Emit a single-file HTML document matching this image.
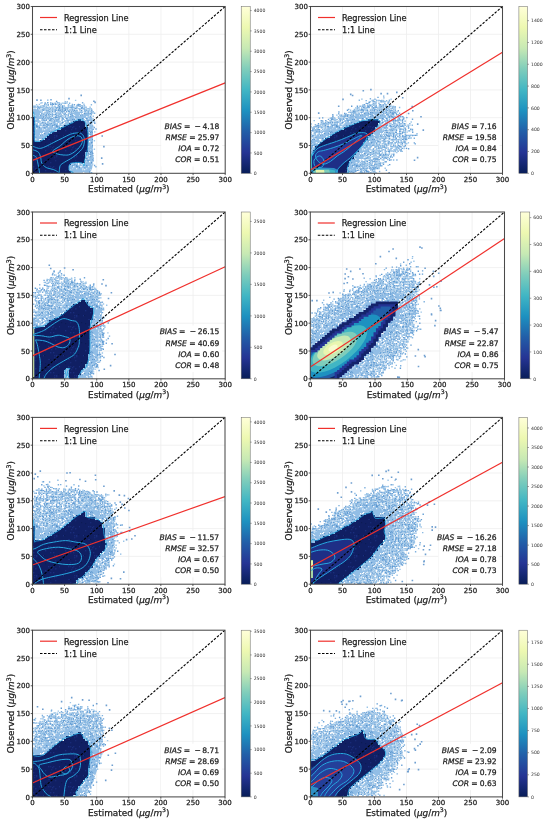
<!DOCTYPE html><html><head><meta charset="utf-8"><title>Scatter density plots</title><style>
html,body{margin:0;padding:0;background:#fff;overflow:hidden}svg{display:block}
text{font-family:"DejaVu Sans","Liberation Sans",sans-serif;fill:#1c1c1c;stroke:#1c1c1c;stroke-width:0.25px}
.tk{font-size:7px}.lb{font-size:8.9px}.lg{font-size:8.2px}.st{font-size:7.6px}.cbl{font-size:4.6px;stroke:none;fill:#333}
.ct{fill:none;stroke:#27a8e0;stroke-width:1}
</style></head><body>
<svg width="550" height="822" viewBox="0 0 550 822">
<defs><linearGradient id="cm" x1="0" y1="1" x2="0" y2="0">
<stop offset="0.0000" stop-color="#081d58"/>
<stop offset="0.1250" stop-color="#253494"/>
<stop offset="0.2500" stop-color="#225ea8"/>
<stop offset="0.3750" stop-color="#1d91c0"/>
<stop offset="0.5000" stop-color="#41b6c4"/>
<stop offset="0.6250" stop-color="#7fcdbb"/>
<stop offset="0.7500" stop-color="#c7e9b4"/>
<stop offset="0.8750" stop-color="#edf8b1"/>
<stop offset="1.0000" stop-color="#ffffd9"/>
</linearGradient>
<pattern id="spk" width="20" height="20" patternUnits="userSpaceOnUse"><rect width="20" height="20" fill="#92bee6"/>
<rect x="14" y="17" width="1.3" height="1.3" fill="#b3d2ee"/>
<rect x="14" y="16" width="1.3" height="1.3" fill="#6ea4d6"/>
<rect x="6" y="5" width="1.3" height="1.3" fill="#6ea4d6"/>
<rect x="15" y="19" width="1.3" height="1.3" fill="#e6f0fa"/>
<rect x="3" y="14" width="1.3" height="1.3" fill="#c4dcf1"/>
<rect x="4" y="2" width="1.3" height="1.3" fill="#6ea4d6"/>
<rect x="1" y="19" width="1.3" height="1.3" fill="#b3d2ee"/>
<rect x="14" y="19" width="1.3" height="1.3" fill="#5e98d0"/>
<rect x="5" y="19" width="1.3" height="1.3" fill="#ffffff"/>
<rect x="16" y="2" width="1.3" height="1.3" fill="#ffffff"/>
<rect x="1" y="6" width="1.3" height="1.3" fill="#e6f0fa"/>
<rect x="19" y="0" width="1.3" height="1.3" fill="#b3d2ee"/>
<rect x="10" y="14" width="1.3" height="1.3" fill="#6ea4d6"/>
<rect x="6" y="16" width="1.3" height="1.3" fill="#e6f0fa"/>
<rect x="9" y="15" width="1.3" height="1.3" fill="#ffffff"/>
<rect x="2" y="14" width="1.3" height="1.3" fill="#5e98d0"/>
<rect x="8" y="13" width="1.3" height="1.3" fill="#6ea4d6"/>
<rect x="2" y="8" width="1.3" height="1.3" fill="#c4dcf1"/>
<rect x="7" y="16" width="1.3" height="1.3" fill="#c4dcf1"/>
<rect x="0" y="2" width="1.3" height="1.3" fill="#6ea4d6"/>
<rect x="3" y="12" width="1.3" height="1.3" fill="#ffffff"/>
<rect x="9" y="12" width="1.3" height="1.3" fill="#ffffff"/>
<rect x="0" y="0" width="1.3" height="1.3" fill="#e6f0fa"/>
<rect x="6" y="1" width="1.3" height="1.3" fill="#b3d2ee"/>
<rect x="12" y="12" width="1.3" height="1.3" fill="#b3d2ee"/>
<rect x="2" y="18" width="1.3" height="1.3" fill="#5e98d0"/>
<rect x="6" y="8" width="1.3" height="1.3" fill="#c4dcf1"/>
<rect x="2" y="9" width="1.3" height="1.3" fill="#c4dcf1"/>
<rect x="0" y="13" width="1.3" height="1.3" fill="#ffffff"/>
<rect x="4" y="7" width="1.3" height="1.3" fill="#5e98d0"/>
<rect x="3" y="0" width="1.3" height="1.3" fill="#ffffff"/>
<rect x="14" y="15" width="1.3" height="1.3" fill="#e6f0fa"/>
<rect x="17" y="6" width="1.3" height="1.3" fill="#b3d2ee"/>
<rect x="16" y="6" width="1.3" height="1.3" fill="#5e98d0"/>
<rect x="4" y="13" width="1.3" height="1.3" fill="#5e98d0"/>
<rect x="12" y="3" width="1.3" height="1.3" fill="#b3d2ee"/>
<rect x="13" y="6" width="1.3" height="1.3" fill="#ffffff"/>
<rect x="8" y="18" width="1.3" height="1.3" fill="#c4dcf1"/>
<rect x="0" y="6" width="1.3" height="1.3" fill="#e6f0fa"/>
<rect x="12" y="19" width="1.3" height="1.3" fill="#5e98d0"/>
<rect x="18" y="3" width="1.3" height="1.3" fill="#ffffff"/>
<rect x="4" y="6" width="1.3" height="1.3" fill="#b3d2ee"/>
<rect x="8" y="0" width="1.3" height="1.3" fill="#6ea4d6"/>
<rect x="10" y="9" width="1.3" height="1.3" fill="#b3d2ee"/>
<rect x="2" y="2" width="1.3" height="1.3" fill="#ffffff"/>
<rect x="6" y="18" width="1.3" height="1.3" fill="#5e98d0"/>
<rect x="7" y="0" width="1.3" height="1.3" fill="#6ea4d6"/>
<rect x="11" y="11" width="1.3" height="1.3" fill="#6ea4d6"/>
<rect x="14" y="4" width="1.3" height="1.3" fill="#6ea4d6"/>
<rect x="15" y="18" width="1.3" height="1.3" fill="#e6f0fa"/>
<rect x="12" y="5" width="1.3" height="1.3" fill="#5e98d0"/>
<rect x="4" y="9" width="1.3" height="1.3" fill="#e6f0fa"/>
<rect x="19" y="7" width="1.3" height="1.3" fill="#5e98d0"/>
<rect x="6" y="5" width="1.3" height="1.3" fill="#5e98d0"/>
<rect x="17" y="6" width="1.3" height="1.3" fill="#5e98d0"/>
<rect x="12" y="15" width="1.3" height="1.3" fill="#6ea4d6"/>
<rect x="2" y="13" width="1.3" height="1.3" fill="#ffffff"/>
<rect x="3" y="3" width="1.3" height="1.3" fill="#ffffff"/>
<rect x="16" y="8" width="1.3" height="1.3" fill="#e6f0fa"/>
<rect x="12" y="8" width="1.3" height="1.3" fill="#b3d2ee"/>
<rect x="19" y="15" width="1.3" height="1.3" fill="#c4dcf1"/>
<rect x="16" y="5" width="1.3" height="1.3" fill="#5e98d0"/>
<rect x="2" y="4" width="1.3" height="1.3" fill="#e6f0fa"/>
<rect x="15" y="17" width="1.3" height="1.3" fill="#5e98d0"/>
<rect x="19" y="19" width="1.3" height="1.3" fill="#ffffff"/>
<rect x="8" y="6" width="1.3" height="1.3" fill="#e6f0fa"/>
<rect x="0" y="2" width="1.3" height="1.3" fill="#c4dcf1"/>
<rect x="13" y="14" width="1.3" height="1.3" fill="#e6f0fa"/>
<rect x="1" y="1" width="1.3" height="1.3" fill="#e6f0fa"/>
<rect x="9" y="11" width="1.3" height="1.3" fill="#6ea4d6"/>
<rect x="18" y="4" width="1.3" height="1.3" fill="#ffffff"/>
<rect x="11" y="4" width="1.3" height="1.3" fill="#b3d2ee"/>
<rect x="10" y="16" width="1.3" height="1.3" fill="#6ea4d6"/>
<rect x="4" y="18" width="1.3" height="1.3" fill="#ffffff"/>
<rect x="0" y="15" width="1.3" height="1.3" fill="#c4dcf1"/>
<rect x="9" y="1" width="1.3" height="1.3" fill="#ffffff"/>
<rect x="19" y="2" width="1.3" height="1.3" fill="#b3d2ee"/>
<rect x="2" y="9" width="1.3" height="1.3" fill="#c4dcf1"/>
<rect x="4" y="2" width="1.3" height="1.3" fill="#ffffff"/>
<rect x="14" y="17" width="1.3" height="1.3" fill="#c4dcf1"/>
<rect x="1" y="4" width="1.3" height="1.3" fill="#c4dcf1"/>
<rect x="11" y="2" width="1.3" height="1.3" fill="#5e98d0"/>
<rect x="15" y="2" width="1.3" height="1.3" fill="#b3d2ee"/>
<rect x="0" y="15" width="1.3" height="1.3" fill="#6ea4d6"/>
<rect x="0" y="19" width="1.3" height="1.3" fill="#5e98d0"/>
<rect x="12" y="12" width="1.3" height="1.3" fill="#6ea4d6"/>
<rect x="0" y="19" width="1.3" height="1.3" fill="#ffffff"/>
<rect x="2" y="2" width="1.3" height="1.3" fill="#5e98d0"/>
<rect x="3" y="8" width="1.3" height="1.3" fill="#b3d2ee"/>
<rect x="10" y="12" width="1.3" height="1.3" fill="#5e98d0"/>
</pattern>
<pattern id="spk2" width="20" height="20" patternUnits="userSpaceOnUse"><rect width="20" height="20" fill="#101f63"/>
<rect x="18" y="14" width="1.3" height="1.3" fill="#0b1b55"/>
<rect x="14" y="17" width="1.3" height="1.3" fill="#172a78"/>
<rect x="16" y="16" width="1.3" height="1.3" fill="#172a78"/>
<rect x="9" y="19" width="1.3" height="1.3" fill="#172a78"/>
<rect x="15" y="0" width="1.3" height="1.3" fill="#172a78"/>
<rect x="3" y="15" width="1.3" height="1.3" fill="#1a2d7e"/>
<rect x="15" y="8" width="1.3" height="1.3" fill="#172a78"/>
<rect x="11" y="9" width="1.3" height="1.3" fill="#172a78"/>
<rect x="19" y="6" width="1.3" height="1.3" fill="#1a2d7e"/>
<rect x="5" y="10" width="1.3" height="1.3" fill="#1a2d7e"/>
<rect x="14" y="15" width="1.3" height="1.3" fill="#172a78"/>
<rect x="10" y="12" width="1.3" height="1.3" fill="#1a2d7e"/>
<rect x="8" y="6" width="1.3" height="1.3" fill="#1a2d7e"/>
<rect x="13" y="6" width="1.3" height="1.3" fill="#172a78"/>
<rect x="12" y="7" width="1.3" height="1.3" fill="#1a2d7e"/>
<rect x="10" y="6" width="1.3" height="1.3" fill="#172a78"/>
<rect x="4" y="15" width="1.3" height="1.3" fill="#0b1b55"/>
<rect x="1" y="2" width="1.3" height="1.3" fill="#0b1b55"/>
<rect x="5" y="3" width="1.3" height="1.3" fill="#0b1b55"/>
<rect x="15" y="8" width="1.3" height="1.3" fill="#172a78"/>
<rect x="13" y="12" width="1.3" height="1.3" fill="#1a2d7e"/>
<rect x="16" y="15" width="1.3" height="1.3" fill="#1a2d7e"/>
<rect x="10" y="19" width="1.3" height="1.3" fill="#0b1b55"/>
<rect x="10" y="2" width="1.3" height="1.3" fill="#172a78"/>
<rect x="8" y="19" width="1.3" height="1.3" fill="#172a78"/>
</pattern>
<clipPath id="cl0"><rect x="32.5" y="6.5" width="192.70" height="166.80"/></clipPath>
<clipPath id="cc0"><path d="M32.50 171.22H71.04V173.30H32.50ZM32.50 169.13H68.63V171.22H32.50ZM32.50 167.05H68.63V169.13H32.50ZM32.50 164.96H68.63V167.05H32.50ZM32.50 162.88H71.04V164.96H32.50ZM32.50 160.79H85.49V162.88H32.50ZM32.50 158.71H85.49V160.79H32.50ZM32.50 156.62H85.49V158.71H32.50ZM32.50 154.54H85.49V156.62H32.50ZM32.50 152.45H85.49V154.54H32.50ZM32.50 150.37H87.90V152.45H32.50ZM32.50 148.28H87.90V150.37H32.50ZM32.50 146.20H87.90V148.28H32.50ZM32.50 144.11H87.90V146.20H32.50ZM32.50 142.03H87.90V144.11H32.50ZM32.50 139.94H34.91V142.03H32.50ZM39.73 139.94H87.90V142.03H39.73ZM32.50 137.86H34.91V139.94H32.50ZM44.54 137.86H87.90V139.94H44.54ZM32.50 135.77H34.91V137.86H32.50ZM46.95 135.77H87.90V137.86H46.95ZM32.50 133.69H34.91V135.77H32.50ZM49.36 133.69H87.90V135.77H49.36ZM32.50 131.60H34.91V133.69H32.50ZM51.77 131.60H87.90V133.69H51.77ZM32.50 129.52H34.91V131.60H32.50ZM56.59 129.52H87.90V131.60H56.59ZM32.50 127.43H34.91V129.52H32.50ZM61.41 127.43H87.90V129.52H61.41ZM32.50 125.35H34.91V127.43H32.50ZM63.81 125.35H85.49V127.43H63.81ZM32.50 123.26H34.91V125.35H32.50ZM68.63 123.26H85.49V125.35H68.63ZM32.50 121.18H34.91V123.26H32.50ZM73.45 121.18H85.49V123.26H73.45ZM32.50 119.09H34.91V121.17H32.50ZM78.27 119.09H80.67V121.17H78.27ZM32.50 117.01H34.91V119.09H32.50Z"/></clipPath>
<clipPath id="cl1"><rect x="310.5" y="6.5" width="192.00" height="166.80"/></clipPath>
<clipPath id="cc1"><path d="M310.50 171.22H346.50V173.30H310.50ZM310.50 169.13H346.50V171.22H310.50ZM310.50 167.05H346.50V169.13H310.50ZM310.50 164.96H348.90V167.05H310.50ZM310.50 162.88H348.90V164.96H310.50ZM310.50 160.79H348.90V162.88H310.50ZM310.50 158.71H351.30V160.79H310.50ZM310.50 156.62H353.70V158.71H310.50ZM310.50 154.54H353.70V156.62H310.50ZM312.90 152.45H356.10V154.54H312.90ZM312.90 150.37H358.50V152.45H312.90ZM315.30 148.28H358.50V150.37H315.30ZM315.30 146.20H360.90V148.28H315.30ZM317.70 144.11H363.30V146.20H317.70ZM320.10 142.03H363.30V144.11H320.10ZM322.50 139.94H365.70V142.03H322.50ZM324.90 137.86H368.10V139.94H324.90ZM329.70 135.77H368.10V137.86H329.70ZM332.10 133.69H370.50V135.77H332.10ZM334.50 131.60H372.90V133.69H334.50ZM339.30 129.52H375.30V131.60H339.30ZM344.10 127.43H375.30V129.52H344.10ZM348.90 125.35H377.70V127.43H348.90ZM353.70 123.26H377.70V125.35H353.70ZM358.50 121.18H380.10V123.26H358.50ZM368.10 119.09H377.70V121.17H368.10Z"/></clipPath>
<clipPath id="cl2"><rect x="32.5" y="212.0" width="192.70" height="166.80"/></clipPath>
<clipPath id="cc2"><path d="M32.50 376.72H63.81V378.80H32.50ZM68.63 376.72H78.27V378.80H68.63ZM32.50 374.63H63.81V376.71H32.50ZM68.63 374.63H78.27V376.71H68.63ZM32.50 372.55H63.81V374.63H32.50ZM68.63 372.55H80.67V374.63H68.63ZM32.50 370.46H63.81V372.55H32.50ZM68.63 370.46H80.67V372.55H68.63ZM32.50 368.38H66.22V370.46H32.50ZM68.63 368.38H83.08V370.46H68.63ZM32.50 366.29H85.49V368.38H32.50ZM32.50 364.21H85.49V366.29H32.50ZM32.50 362.12H87.90V364.20H32.50ZM32.50 360.04H87.90V362.12H32.50ZM32.50 357.95H87.90V360.03H32.50ZM32.50 355.87H87.90V357.95H32.50ZM32.50 353.78H87.90V355.87H32.50ZM32.50 351.69H90.31V353.78H32.50ZM32.50 349.61H90.31V351.69H32.50ZM32.50 347.53H90.31V349.61H32.50ZM32.50 345.44H90.31V347.52H32.50ZM32.50 343.36H90.31V345.44H32.50ZM32.50 341.27H90.31V343.35H32.50ZM32.50 339.19H90.31V341.27H32.50ZM32.50 337.10H90.31V339.19H32.50ZM32.50 335.01H90.31V337.10H32.50ZM32.50 332.93H90.31V335.01H32.50ZM32.50 330.85H90.31V332.93H32.50ZM32.50 328.76H90.31V330.84H32.50ZM34.91 326.68H90.31V328.76H34.91ZM44.54 324.59H90.31V326.68H44.54ZM46.95 322.50H90.31V324.59H46.95ZM49.36 320.42H90.31V322.50H49.36ZM54.18 318.34H92.72V320.42H54.18ZM59.00 316.25H92.72V318.33H59.00ZM61.41 314.17H92.72V316.25H61.41ZM63.81 312.08H92.72V314.17H63.81ZM66.22 310.00H92.72V312.08H66.22ZM68.63 307.91H92.72V310.00H68.63ZM71.04 305.83H90.31V307.91H71.04ZM73.45 303.74H87.90V305.82H73.45ZM78.27 301.66H87.90V303.74H78.27ZM80.67 299.57H85.49V301.65H80.67Z"/></clipPath>
<clipPath id="cl3"><rect x="310.3" y="212.0" width="194.20" height="166.80"/></clipPath>
<clipPath id="cc3"><path d="M310.30 376.72H339.43V378.80H310.30ZM310.30 374.63H341.86V376.71H310.30ZM310.30 372.55H344.29V374.63H310.30ZM310.30 370.46H346.71V372.55H310.30ZM310.30 368.38H349.14V370.46H310.30ZM310.30 366.29H351.57V368.38H310.30ZM310.30 364.21H354.00V366.29H310.30ZM310.30 362.12H358.85V364.20H310.30ZM310.30 360.04H361.28V362.12H310.30ZM310.30 357.95H363.70V360.03H310.30ZM310.30 355.87H363.70V357.95H310.30ZM310.30 353.78H366.13V355.87H310.30ZM310.30 351.69H368.56V353.78H310.30ZM310.30 349.61H370.99V351.69H310.30ZM310.30 347.53H370.99V349.61H310.30ZM312.73 345.44H373.42V347.52H312.73ZM315.16 343.36H375.84V345.44H315.16ZM317.58 341.27H375.84V343.35H317.58ZM320.01 339.19H378.27V341.27H320.01ZM322.44 337.10H378.27V339.19H322.44ZM324.87 335.01H380.70V337.10H324.87ZM327.29 332.93H380.70V335.01H327.29ZM329.72 330.85H383.12V332.93H329.72ZM332.15 328.76H385.55V330.84H332.15ZM337.00 326.68H385.55V328.76H337.00ZM339.43 324.59H387.98V326.68H339.43ZM341.86 322.50H387.98V324.59H341.86ZM346.71 320.42H390.41V322.50H346.71ZM349.14 318.34H392.84V320.42H349.14ZM354.00 316.25H392.84V318.33H354.00ZM356.42 314.17H395.26V316.25H356.42ZM358.85 312.08H395.26V314.17H358.85ZM363.70 310.00H395.26V312.08H363.70ZM366.13 307.91H397.69V310.00H366.13ZM368.56 305.83H397.69V307.91H368.56ZM370.99 303.74H397.69V305.82H370.99ZM375.84 301.66H397.69V303.74H375.84Z"/></clipPath>
<clipPath id="cl4"><rect x="32.5" y="417.4" width="192.50" height="166.80"/></clipPath>
<clipPath id="cc4"><path d="M32.50 582.12H75.81V584.20H32.50ZM32.50 580.03H75.81V582.12H32.50ZM32.50 577.95H78.22V580.03H32.50ZM32.50 575.86H83.03V577.95H32.50ZM32.50 573.78H85.44V575.86H32.50ZM32.50 571.69H85.44V573.78H32.50ZM32.50 569.61H87.84V571.69H32.50ZM32.50 567.52H90.25V569.61H32.50ZM32.50 565.44H92.66V567.52H32.50ZM32.50 563.35H92.66V565.44H32.50ZM32.50 561.26H95.06V563.35H32.50ZM32.50 559.18H95.06V561.27H32.50ZM32.50 557.10H97.47V559.18H32.50ZM32.50 555.01H99.88V557.10H32.50ZM32.50 552.93H99.88V555.01H32.50ZM32.50 550.84H102.28V552.93H32.50ZM32.50 548.75H104.69V550.84H32.50ZM32.50 546.67H104.69V548.76H32.50ZM32.50 544.59H104.69V546.67H32.50ZM32.50 542.50H107.09V544.59H32.50ZM32.50 540.42H104.69V542.50H32.50ZM32.50 538.33H34.91V540.42H32.50ZM44.53 538.33H104.69V540.42H44.53ZM32.50 536.25H34.91V538.33H32.50ZM46.94 536.25H104.69V538.33H46.94ZM32.50 534.16H34.91V536.25H32.50ZM51.75 534.16H104.69V536.25H51.75ZM32.50 532.08H34.91V534.16H32.50ZM54.16 532.08H104.69V534.16H54.16ZM32.50 529.99H34.91V532.08H32.50ZM56.56 529.99H104.69V532.08H56.56ZM32.50 527.90H34.91V529.99H32.50ZM61.38 527.90H104.69V529.99H61.38ZM32.50 525.82H34.91V527.91H32.50ZM63.78 525.82H102.28V527.91H63.78ZM66.19 523.74H102.28V525.82H66.19ZM68.59 521.65H102.28V523.74H68.59ZM71.00 519.57H99.88V521.65H71.00ZM73.41 517.48H95.06V519.57H73.41ZM75.81 515.39H85.44V517.48H75.81ZM80.62 513.31H85.44V515.40H80.62ZM83.03 511.23H85.44V513.31H83.03Z"/></clipPath>
<clipPath id="cl5"><rect x="310.5" y="417.4" width="192.00" height="166.80"/></clipPath>
<clipPath id="cc5"><path d="M310.50 582.12H339.30V584.20H310.50ZM310.50 580.03H341.70V582.12H310.50ZM310.50 577.95H344.10V580.03H310.50ZM310.50 575.86H346.50V577.95H310.50ZM310.50 573.78H348.90V575.86H310.50ZM310.50 571.69H351.30V573.78H310.50ZM310.50 569.61H353.70V571.69H310.50ZM310.50 567.52H358.50V569.61H310.50ZM310.50 565.44H360.90V567.52H310.50ZM310.50 563.35H363.30V565.44H310.50ZM310.50 561.26H365.70V563.35H310.50ZM310.50 559.18H368.10V561.27H310.50ZM310.50 557.10H370.50V559.18H310.50ZM310.50 555.01H372.90V557.10H310.50ZM310.50 552.93H372.90V555.01H310.50ZM310.50 550.84H375.30V552.93H310.50ZM310.50 548.75H377.70V550.84H310.50ZM310.50 546.67H377.70V548.76H310.50ZM310.50 544.59H380.10V546.67H310.50ZM310.50 542.50H382.50V544.59H310.50ZM315.30 540.42H382.50V542.50H315.30ZM320.10 538.33H384.90V540.42H320.10ZM322.50 536.25H384.90V538.33H322.50ZM329.70 534.16H384.90V536.25H329.70ZM334.50 532.08H384.90V534.16H334.50ZM336.90 529.99H384.90V532.08H336.90ZM341.70 527.90H384.90V529.99H341.70ZM344.10 525.82H384.90V527.91H344.10ZM348.90 523.74H384.90V525.82H348.90ZM351.30 521.65H384.90V523.74H351.30ZM356.10 519.57H384.90V521.65H356.10ZM358.50 517.48H384.90V519.57H358.50ZM360.90 515.39H375.30V517.48H360.90ZM365.70 513.31H372.90V515.40H365.70ZM370.50 511.23H372.90V513.31H370.50Z"/></clipPath>
<clipPath id="cl6"><rect x="32.5" y="630.2" width="192.50" height="166.70"/></clipPath>
<clipPath id="cc6"><path d="M32.50 794.82H73.41V796.90H32.50ZM32.50 792.73H75.81V794.82H32.50ZM32.50 790.65H75.81V792.73H32.50ZM32.50 788.56H78.22V790.65H32.50ZM32.50 786.48H78.22V788.56H32.50ZM32.50 784.40H80.62V786.48H32.50ZM32.50 782.31H83.03V784.40H32.50ZM32.50 780.23H83.03V782.31H32.50ZM32.50 778.15H85.44V780.23H32.50ZM32.50 776.06H87.84V778.15H32.50ZM32.50 773.98H87.84V776.06H32.50ZM32.50 771.89H87.84V773.98H32.50ZM32.50 769.81H87.84V771.89H32.50ZM32.50 767.73H87.84V769.81H32.50ZM32.50 765.64H90.25V767.73H32.50ZM32.50 763.56H90.25V765.64H32.50ZM32.50 761.48H90.25V763.56H32.50ZM32.50 759.39H90.25V761.48H32.50ZM32.50 757.31H90.25V759.39H32.50ZM32.50 755.23H90.25V757.31H32.50ZM44.53 753.14H90.25V755.23H44.53ZM46.94 751.06H90.25V753.14H46.94ZM49.34 748.97H90.25V751.06H49.34ZM51.75 746.89H90.25V748.97H51.75ZM54.16 744.81H90.25V746.89H54.16ZM56.56 742.72H87.84V744.81H56.56ZM58.97 740.64H87.84V742.72H58.97ZM63.78 738.55H85.44V740.64H63.78ZM66.19 736.47H83.03V738.56H66.19ZM73.41 734.39H83.03V736.47H73.41ZM78.22 732.30H80.62V734.39H78.22Z"/></clipPath>
<clipPath id="cl7"><rect x="310.5" y="630.2" width="192.00" height="166.70"/></clipPath>
<clipPath id="cc7"><path d="M310.50 794.82H346.50V796.90H310.50ZM310.50 792.73H348.90V794.82H310.50ZM310.50 790.65H348.90V792.73H310.50ZM310.50 788.56H348.90V790.65H310.50ZM310.50 786.48H351.30V788.56H310.50ZM310.50 784.40H353.70V786.48H310.50ZM310.50 782.31H356.10V784.40H310.50ZM310.50 780.23H358.50V782.31H310.50ZM310.50 778.15H360.90V780.23H310.50ZM310.50 776.06H363.30V778.15H310.50ZM310.50 773.98H365.70V776.06H310.50ZM310.50 771.89H368.10V773.98H310.50ZM310.50 769.81H370.50V771.89H310.50ZM310.50 767.73H372.90V769.81H310.50ZM310.50 765.64H375.30V767.73H310.50ZM310.50 763.56H377.70V765.64H310.50ZM310.50 761.48H380.10V763.56H310.50ZM315.30 759.39H382.50V761.48H315.30ZM317.70 757.31H382.50V759.39H317.70ZM322.50 755.23H384.90V757.31H322.50ZM324.90 753.14H384.90V755.23H324.90ZM327.30 751.06H384.90V753.14H327.30ZM329.70 748.97H384.90V751.06H329.70ZM332.10 746.89H382.50V748.97H332.10ZM336.90 744.81H380.10V746.89H336.90ZM339.30 742.72H377.70V744.81H339.30ZM341.70 740.64H377.70V742.72H341.70ZM344.10 738.55H375.30V740.64H344.10ZM348.90 736.47H365.70V738.56H348.90ZM353.70 734.39H365.70V736.47H353.70ZM358.50 732.30H363.30V734.39H358.50ZM360.90 730.22H363.30V732.30H360.90Z"/></clipPath>
</defs>
<rect width="550" height="822" fill="#fff"/>
<path d="M64.62 6.5V173.3M32.5 145.50H225.2M96.73 6.5V173.3M32.5 117.70H225.2M128.85 6.5V173.3M32.5 89.90H225.2M160.97 6.5V173.3M32.5 62.10H225.2M193.08 6.5V173.3M32.5 34.30H225.2" stroke="#eeeeee" stroke-width="0.8" fill="none"/>
<g clip-path="url(#cl0)">
<polygon points="33.0,172.8 89.1,172.8 89.4,172.6 90.0,172.0 90.6,171.4 91.1,170.7 91.5,170.0 91.8,169.3 92.1,168.5 92.3,167.7 92.3,167.6 92.5,165.0 93.0,150.0 93.0,130.0 92.1,117.6 92.0,117.3 91.5,116.6 91.0,116.0 90.5,115.5 89.9,114.9 89.2,114.5 88.5,114.1 84.7,112.2 83.9,111.9 83.1,111.6 82.3,111.4 81.4,111.3 80.6,111.3 79.7,111.4 74.7,112.1 73.8,112.2 73.0,112.5 72.1,112.8 71.4,113.2 70.6,113.7 69.1,115.0 69.0,115.0 69.0,115.0 68.9,115.0 66.7,116.0 66.1,116.2 59.2,119.7 59.2,119.7 54.5,121.6 53.7,122.0 47.9,124.9 47.0,125.5 43.7,127.8 43.6,127.8 43.6,127.8 43.6,127.8 43.5,127.8 43.5,127.8 43.4,127.8 43.4,127.8 43.3,127.8 43.3,127.8 43.2,127.8 43.2,127.8 43.1,127.8 43.1,127.7 43.0,127.7 43.0,127.7 43.0,127.6 43.0,127.6 42.9,127.5 42.9,127.5 42.9,127.4 42.9,127.4 42.9,127.3 42.9,117.0 42.9,116.2 42.7,115.3 42.5,114.5 42.3,113.7 41.9,113.0 41.5,112.3 41.0,111.6 40.4,111.0 39.8,110.4 39.1,109.9 38.4,109.5 37.7,109.1 36.9,108.9 36.1,108.7 35.2,108.5 34.4,108.5 33.0,108.5 33.0,172.8" fill="url(#spk)"/>
<path fill="#7fb1de" d="M47.1 99.4h1.4v1.4h-1.4zM66.5 101.2h1.4v1.4h-1.4zM63.4 102.6h1.4v1.4h-1.4zM68.9 102.5h1.4v1.4h-1.4zM81.9 102.1h1.4v1.4h-1.4zM47.6 104.1h1.4v1.4h-1.4zM71.7 103.7h1.4v1.4h-1.4zM37.1 105.6h1.4v1.4h-1.4zM45.8 105.4h1.4v1.4h-1.4zM51.7 105.2h1.4v1.4h-1.4zM57.6 105.0h1.4v1.4h-1.4zM60.1 105.2h1.4v1.4h-1.4zM67.6 105.3h1.4v1.4h-1.4zM71.8 105.1h1.4v1.4h-1.4zM80.8 105.2h1.4v1.4h-1.4zM82.0 105.2h1.4v1.4h-1.4zM34.2 106.6h1.4v1.4h-1.4zM56.1 107.0h1.4v1.4h-1.4zM71.8 106.5h1.4v1.4h-1.4zM73.3 106.6h1.4v1.4h-1.4zM85.3 106.6h1.4v1.4h-1.4zM38.9 108.1h1.4v1.4h-1.4zM41.8 108.4h1.4v1.4h-1.4zM44.4 108.3h1.4v1.4h-1.4zM50.0 108.0h1.4v1.4h-1.4zM54.5 108.4h1.4v1.4h-1.4zM57.8 108.5h1.4v1.4h-1.4zM71.8 108.3h1.4v1.4h-1.4zM76.1 108.1h1.4v1.4h-1.4zM82.4 108.1h1.4v1.4h-1.4zM90.7 108.2h1.4v1.4h-1.4zM41.6 109.3h1.4v1.4h-1.4zM47.6 109.6h1.4v1.4h-1.4zM55.9 109.7h1.4v1.4h-1.4zM58.7 109.6h1.4v1.4h-1.4zM61.7 109.6h1.4v1.4h-1.4zM85.2 109.5h1.4v1.4h-1.4zM45.7 111.3h1.4v1.4h-1.4zM57.3 111.2h1.4v1.4h-1.4zM62.0 110.9h1.4v1.4h-1.4zM68.9 110.9h1.4v1.4h-1.4zM70.8 110.8h1.4v1.4h-1.4zM84.8 111.0h1.4v1.4h-1.4zM87.8 111.1h1.4v1.4h-1.4zM92.4 111.1h1.4v1.4h-1.4zM61.8 112.2h1.4v1.4h-1.4zM69.1 112.4h1.4v1.4h-1.4zM86.3 112.5h1.4v1.4h-1.4zM87.9 112.6h1.4v1.4h-1.4zM93.9 112.5h1.4v1.4h-1.4zM42.8 113.9h1.4v1.4h-1.4zM53.2 114.0h1.4v1.4h-1.4zM90.7 114.1h1.4v1.4h-1.4zM54.8 115.5h1.4v1.4h-1.4zM61.7 115.2h1.4v1.4h-1.4zM64.8 115.6h1.4v1.4h-1.4zM44.8 117.1h1.4v1.4h-1.4zM48.9 116.8h1.4v1.4h-1.4zM61.9 117.1h1.4v1.4h-1.4zM43.1 118.6h1.4v1.4h-1.4zM44.3 118.1h1.4v1.4h-1.4zM47.5 118.0h1.4v1.4h-1.4zM54.9 118.2h1.4v1.4h-1.4zM42.9 119.6h1.4v1.4h-1.4zM53.5 119.7h1.4v1.4h-1.4zM93.4 119.7h1.4v1.4h-1.4zM43.2 121.4h1.4v1.4h-1.4zM93.8 121.3h1.4v1.4h-1.4zM42.9 122.4h1.4v1.4h-1.4zM47.2 122.8h1.4v1.4h-1.4zM92.3 154.9h1.4v1.4h-1.4zM92.6 157.4h1.4v1.4h-1.4zM95.2 166.1h1.4v1.4h-1.4zM90.9 172.0h1.4v1.4h-1.4z"/>
<path fill="#629dd4" d="M50.3 99.1h1.4v1.4h-1.4zM55.9 100.8h1.4v1.4h-1.4zM47.1 102.1h1.4v1.4h-1.4zM50.1 102.3h1.4v1.4h-1.4zM52.0 102.7h1.4v1.4h-1.4zM65.0 102.4h1.4v1.4h-1.4zM52.9 103.7h1.4v1.4h-1.4zM59.0 103.6h1.4v1.4h-1.4zM77.8 103.8h1.4v1.4h-1.4zM79.3 103.9h1.4v1.4h-1.4zM43.1 105.3h1.4v1.4h-1.4zM58.7 105.5h1.4v1.4h-1.4zM61.9 105.3h1.4v1.4h-1.4zM37.4 106.7h1.4v1.4h-1.4zM57.2 106.7h1.4v1.4h-1.4zM61.7 106.5h1.4v1.4h-1.4zM69.4 106.8h1.4v1.4h-1.4zM43.2 108.3h1.4v1.4h-1.4zM55.8 108.2h1.4v1.4h-1.4zM58.7 108.0h1.4v1.4h-1.4zM62.0 108.3h1.4v1.4h-1.4zM64.6 108.2h1.4v1.4h-1.4zM74.6 107.9h1.4v1.4h-1.4zM81.0 107.9h1.4v1.4h-1.4zM83.7 108.3h1.4v1.4h-1.4zM46.2 109.6h1.4v1.4h-1.4zM57.6 109.7h1.4v1.4h-1.4zM60.1 109.5h1.4v1.4h-1.4zM64.8 109.6h1.4v1.4h-1.4zM69.3 109.3h1.4v1.4h-1.4zM73.6 109.7h1.4v1.4h-1.4zM76.2 109.9h1.4v1.4h-1.4zM81.0 109.9h1.4v1.4h-1.4zM91.1 109.5h1.4v1.4h-1.4zM48.5 111.1h1.4v1.4h-1.4zM54.5 110.8h1.4v1.4h-1.4zM67.9 110.8h1.4v1.4h-1.4zM73.1 110.7h1.4v1.4h-1.4zM47.1 112.7h1.4v1.4h-1.4zM70.5 112.2h1.4v1.4h-1.4zM89.4 112.8h1.4v1.4h-1.4zM90.6 112.4h1.4v1.4h-1.4zM49.9 113.7h1.4v1.4h-1.4zM54.7 113.7h1.4v1.4h-1.4zM60.4 114.2h1.4v1.4h-1.4zM43.1 115.5h1.4v1.4h-1.4zM45.7 115.3h1.4v1.4h-1.4zM51.6 115.3h1.4v1.4h-1.4zM56.1 115.1h1.4v1.4h-1.4zM57.8 115.3h1.4v1.4h-1.4zM60.3 115.7h1.4v1.4h-1.4zM47.2 117.0h1.4v1.4h-1.4zM54.3 116.9h1.4v1.4h-1.4zM55.7 116.7h1.4v1.4h-1.4zM57.3 116.9h1.4v1.4h-1.4zM45.8 118.4h1.4v1.4h-1.4zM50.1 118.0h1.4v1.4h-1.4zM51.5 118.0h1.4v1.4h-1.4zM58.7 118.2h1.4v1.4h-1.4zM48.8 119.7h1.4v1.4h-1.4zM50.3 119.6h1.4v1.4h-1.4zM47.3 121.3h1.4v1.4h-1.4zM50.4 121.2h1.4v1.4h-1.4zM44.5 122.6h1.4v1.4h-1.4zM50.4 122.9h1.4v1.4h-1.4zM94.1 122.5h1.4v1.4h-1.4zM45.9 124.1h1.4v1.4h-1.4zM47.3 124.1h1.4v1.4h-1.4zM44.3 125.2h1.4v1.4h-1.4zM43.3 126.9h1.4v1.4h-1.4zM93.5 126.8h1.4v1.4h-1.4zM92.1 152.8h1.4v1.4h-1.4z"/>
<path fill="#9cc5e8" d="M74.9 99.7h1.4v1.4h-1.4zM64.6 101.1h1.4v1.4h-1.4zM40.1 102.4h1.4v1.4h-1.4zM41.3 102.0h1.4v1.4h-1.4zM61.6 102.4h1.4v1.4h-1.4zM66.3 102.4h1.4v1.4h-1.4zM35.9 104.1h1.4v1.4h-1.4zM38.7 103.7h1.4v1.4h-1.4zM45.9 103.6h1.4v1.4h-1.4zM57.7 103.7h1.4v1.4h-1.4zM83.3 103.6h1.4v1.4h-1.4zM32.9 105.6h1.4v1.4h-1.4zM39.8 105.6h1.4v1.4h-1.4zM41.5 105.1h1.4v1.4h-1.4zM54.3 105.5h1.4v1.4h-1.4zM69.2 105.2h1.4v1.4h-1.4zM70.7 105.0h1.4v1.4h-1.4zM32.7 106.7h1.4v1.4h-1.4zM44.5 107.0h1.4v1.4h-1.4zM48.6 106.6h1.4v1.4h-1.4zM51.6 106.6h1.4v1.4h-1.4zM53.2 106.5h1.4v1.4h-1.4zM63.2 106.7h1.4v1.4h-1.4zM83.8 106.8h1.4v1.4h-1.4zM89.4 106.5h1.4v1.4h-1.4zM40.3 108.4h1.4v1.4h-1.4zM45.6 108.3h1.4v1.4h-1.4zM47.4 107.9h1.4v1.4h-1.4zM53.2 108.2h1.4v1.4h-1.4zM67.4 108.2h1.4v1.4h-1.4zM77.9 107.9h1.4v1.4h-1.4zM86.5 108.0h1.4v1.4h-1.4zM89.3 108.0h1.4v1.4h-1.4zM40.2 109.9h1.4v1.4h-1.4zM49.1 109.4h1.4v1.4h-1.4zM66.5 109.6h1.4v1.4h-1.4zM70.4 109.6h1.4v1.4h-1.4zM88.0 109.6h1.4v1.4h-1.4zM50.0 111.1h1.4v1.4h-1.4zM72.0 111.2h1.4v1.4h-1.4zM83.8 111.1h1.4v1.4h-1.4zM86.7 111.3h1.4v1.4h-1.4zM89.4 110.7h1.4v1.4h-1.4zM43.1 112.7h1.4v1.4h-1.4zM46.1 112.7h1.4v1.4h-1.4zM50.5 112.2h1.4v1.4h-1.4zM54.9 112.3h1.4v1.4h-1.4zM60.2 112.3h1.4v1.4h-1.4zM67.8 112.8h1.4v1.4h-1.4zM48.9 113.8h1.4v1.4h-1.4zM57.8 113.8h1.4v1.4h-1.4zM63.0 115.4h1.4v1.4h-1.4zM92.6 115.5h1.4v1.4h-1.4zM46.0 117.1h1.4v1.4h-1.4zM50.4 117.1h1.4v1.4h-1.4zM60.6 116.9h1.4v1.4h-1.4zM55.9 118.6h1.4v1.4h-1.4zM92.3 118.1h1.4v1.4h-1.4zM51.5 119.5h1.4v1.4h-1.4zM92.2 119.8h1.4v1.4h-1.4zM44.7 121.4h1.4v1.4h-1.4zM48.5 121.3h1.4v1.4h-1.4zM46.1 122.8h1.4v1.4h-1.4zM95.5 133.9h1.4v1.4h-1.4zM93.7 140.0h1.4v1.4h-1.4zM93.7 148.5h1.4v1.4h-1.4zM92.0 163.4h1.4v1.4h-1.4z"/>
<path fill="#6fa5d9" d="M44.5 102.3h1.4v1.4h-1.4zM54.4 102.4h1.4v1.4h-1.4zM57.2 102.1h1.4v1.4h-1.4zM44.1 103.8h1.4v1.4h-1.4zM50.0 103.9h1.4v1.4h-1.4zM51.6 103.8h1.4v1.4h-1.4zM54.8 103.6h1.4v1.4h-1.4zM73.7 104.1h1.4v1.4h-1.4zM34.3 105.4h1.4v1.4h-1.4zM76.4 104.9h1.4v1.4h-1.4zM77.9 105.0h1.4v1.4h-1.4zM79.4 105.5h1.4v1.4h-1.4zM83.8 105.2h1.4v1.4h-1.4zM38.4 106.5h1.4v1.4h-1.4zM40.2 106.7h1.4v1.4h-1.4zM58.8 106.5h1.4v1.4h-1.4zM66.3 107.0h1.4v1.4h-1.4zM70.8 106.6h1.4v1.4h-1.4zM76.2 106.5h1.4v1.4h-1.4zM80.8 107.0h1.4v1.4h-1.4zM81.9 106.6h1.4v1.4h-1.4zM37.2 108.0h1.4v1.4h-1.4zM48.6 108.4h1.4v1.4h-1.4zM52.0 108.3h1.4v1.4h-1.4zM60.3 108.3h1.4v1.4h-1.4zM63.4 107.8h1.4v1.4h-1.4zM66.4 108.4h1.4v1.4h-1.4zM79.2 108.3h1.4v1.4h-1.4zM42.7 109.6h1.4v1.4h-1.4zM54.6 109.5h1.4v1.4h-1.4zM63.5 109.8h1.4v1.4h-1.4zM71.9 109.3h1.4v1.4h-1.4zM79.3 109.4h1.4v1.4h-1.4zM86.2 109.8h1.4v1.4h-1.4zM47.1 111.3h1.4v1.4h-1.4zM51.8 110.9h1.4v1.4h-1.4zM60.5 110.9h1.4v1.4h-1.4zM63.3 110.8h1.4v1.4h-1.4zM65.9 111.1h1.4v1.4h-1.4zM90.9 111.3h1.4v1.4h-1.4zM41.3 112.8h1.4v1.4h-1.4zM44.3 112.2h1.4v1.4h-1.4zM55.7 112.4h1.4v1.4h-1.4zM57.4 112.4h1.4v1.4h-1.4zM59.3 112.6h1.4v1.4h-1.4zM64.5 112.6h1.4v1.4h-1.4zM45.6 113.8h1.4v1.4h-1.4zM47.6 113.9h1.4v1.4h-1.4zM51.5 113.9h1.4v1.4h-1.4zM63.6 113.8h1.4v1.4h-1.4zM65.1 114.2h1.4v1.4h-1.4zM67.6 114.3h1.4v1.4h-1.4zM44.7 115.1h1.4v1.4h-1.4zM48.5 115.3h1.4v1.4h-1.4zM59.2 115.5h1.4v1.4h-1.4zM42.9 117.0h1.4v1.4h-1.4zM57.5 118.6h1.4v1.4h-1.4zM44.1 119.9h1.4v1.4h-1.4zM45.7 119.7h1.4v1.4h-1.4zM54.4 119.4h1.4v1.4h-1.4zM56.2 119.6h1.4v1.4h-1.4zM53.4 121.1h1.4v1.4h-1.4zM42.8 124.2h1.4v1.4h-1.4zM44.2 124.2h1.4v1.4h-1.4zM43.0 125.2h1.4v1.4h-1.4zM92.5 128.5h1.4v1.4h-1.4zM95.3 128.3h1.4v1.4h-1.4zM92.2 158.8h1.4v1.4h-1.4zM92.4 160.2h1.4v1.4h-1.4zM93.9 164.8h1.4v1.4h-1.4zM89.1 171.9h1.4v1.4h-1.4z"/>
<path fill="#8cbbe3" d="M58.8 102.3h1.4v1.4h-1.4zM56.0 103.6h1.4v1.4h-1.4zM60.6 103.6h1.4v1.4h-1.4zM67.9 103.9h1.4v1.4h-1.4zM76.7 103.9h1.4v1.4h-1.4zM90.7 104.1h1.4v1.4h-1.4zM44.1 105.4h1.4v1.4h-1.4zM47.5 104.9h1.4v1.4h-1.4zM63.5 105.3h1.4v1.4h-1.4zM35.5 106.4h1.4v1.4h-1.4zM41.4 106.5h1.4v1.4h-1.4zM42.9 106.4h1.4v1.4h-1.4zM45.9 106.9h1.4v1.4h-1.4zM47.2 107.0h1.4v1.4h-1.4zM50.4 106.8h1.4v1.4h-1.4zM54.8 106.5h1.4v1.4h-1.4zM60.1 106.8h1.4v1.4h-1.4zM64.9 106.7h1.4v1.4h-1.4zM67.9 106.9h1.4v1.4h-1.4zM75.2 106.4h1.4v1.4h-1.4zM70.7 108.2h1.4v1.4h-1.4zM73.5 108.3h1.4v1.4h-1.4zM85.4 108.4h1.4v1.4h-1.4zM88.1 107.9h1.4v1.4h-1.4zM44.3 109.9h1.4v1.4h-1.4zM50.3 109.3h1.4v1.4h-1.4zM51.8 109.5h1.4v1.4h-1.4zM53.4 109.4h1.4v1.4h-1.4zM67.6 109.9h1.4v1.4h-1.4zM75.2 109.9h1.4v1.4h-1.4zM83.9 109.5h1.4v1.4h-1.4zM89.1 109.4h1.4v1.4h-1.4zM41.4 111.1h1.4v1.4h-1.4zM53.4 111.2h1.4v1.4h-1.4zM59.2 111.0h1.4v1.4h-1.4zM74.8 111.0h1.4v1.4h-1.4zM76.4 111.3h1.4v1.4h-1.4zM48.6 112.5h1.4v1.4h-1.4zM51.8 112.6h1.4v1.4h-1.4zM63.2 112.8h1.4v1.4h-1.4zM92.2 112.3h1.4v1.4h-1.4zM44.2 113.8h1.4v1.4h-1.4zM56.1 113.9h1.4v1.4h-1.4zM59.0 113.7h1.4v1.4h-1.4zM65.9 113.9h1.4v1.4h-1.4zM89.2 114.2h1.4v1.4h-1.4zM47.3 115.3h1.4v1.4h-1.4zM50.1 115.5h1.4v1.4h-1.4zM52.9 116.8h1.4v1.4h-1.4zM58.7 117.1h1.4v1.4h-1.4zM48.7 118.3h1.4v1.4h-1.4zM53.0 118.5h1.4v1.4h-1.4zM51.8 121.2h1.4v1.4h-1.4zM92.1 121.0h1.4v1.4h-1.4zM48.8 123.0h1.4v1.4h-1.4zM92.1 125.5h1.4v1.4h-1.4zM94.1 131.2h1.4v1.4h-1.4zM92.0 156.3h1.4v1.4h-1.4z"/>
<path fill="#6f9fd0" d="M101.4 135.2h1.6v1.6h-1.6zM94.3 101.6h1.6v1.6h-1.6zM101.8 163.1h1.6v1.6h-1.6zM68.2 97.8h1.6v1.6h-1.6zM103.1 145.8h1.6v1.6h-1.6zM100.9 157.3h1.6v1.6h-1.6zM40.1 99.4h1.6v1.6h-1.6zM80.4 94.6h1.6v1.6h-1.6zM36.2 99.3h1.6v1.6h-1.6zM93.1 100.5h1.6v1.6h-1.6z"/>
<path d="M32.50 171.22H71.04V173.30H32.50ZM32.50 169.13H68.63V171.22H32.50ZM32.50 167.05H68.63V169.13H32.50ZM32.50 164.96H68.63V167.05H32.50ZM32.50 162.88H71.04V164.96H32.50ZM32.50 160.79H85.49V162.88H32.50ZM32.50 158.71H85.49V160.79H32.50ZM32.50 156.62H85.49V158.71H32.50ZM32.50 154.54H85.49V156.62H32.50ZM32.50 152.45H85.49V154.54H32.50ZM32.50 150.37H87.90V152.45H32.50ZM32.50 148.28H87.90V150.37H32.50ZM32.50 146.20H87.90V148.28H32.50ZM32.50 144.11H87.90V146.20H32.50ZM32.50 142.03H87.90V144.11H32.50ZM32.50 139.94H34.91V142.03H32.50ZM39.73 139.94H87.90V142.03H39.73ZM32.50 137.86H34.91V139.94H32.50ZM44.54 137.86H87.90V139.94H44.54ZM32.50 135.77H34.91V137.86H32.50ZM46.95 135.77H87.90V137.86H46.95ZM32.50 133.69H34.91V135.77H32.50ZM49.36 133.69H87.90V135.77H49.36ZM32.50 131.60H34.91V133.69H32.50ZM51.77 131.60H87.90V133.69H51.77ZM32.50 129.52H34.91V131.60H32.50ZM56.59 129.52H87.90V131.60H56.59ZM32.50 127.43H34.91V129.52H32.50ZM61.41 127.43H87.90V129.52H61.41ZM32.50 125.35H34.91V127.43H32.50ZM63.81 125.35H85.49V127.43H63.81ZM32.50 123.26H34.91V125.35H32.50ZM68.63 123.26H85.49V125.35H68.63ZM32.50 121.18H34.91V123.26H32.50ZM73.45 121.18H85.49V123.26H73.45ZM32.50 119.09H34.91V121.17H32.50ZM78.27 119.09H80.67V121.17H78.27ZM32.50 117.01H34.91V119.09H32.50Z" fill="url(#spk2)" shape-rendering="crispEdges"/>
<path d="M32.5 117.0C32.8 107.6 34.1 113.3 34.4 117.0C34.7 120.7 34.1 134.9 34.4 139.0C34.7 143.1 34.9 141.2 36.0 141.5C37.1 141.8 39.6 141.4 40.9 141.0C42.2 140.6 43.0 139.8 44.0 139.0C45.0 138.2 45.4 137.1 46.7 136.0C48.0 134.9 50.0 133.6 51.8 132.5C53.6 131.4 55.8 130.3 57.6 129.5C59.4 128.7 60.6 128.4 62.7 127.5C64.8 126.5 68.2 124.6 70.0 123.8C71.8 123.0 72.3 123.0 73.3 122.4C74.3 121.9 74.5 120.9 75.8 120.5C77.1 120.1 79.4 119.6 80.9 119.8C82.4 120.0 83.8 120.5 84.7 121.7C85.7 122.9 86.1 124.9 86.6 126.8C87.1 128.7 87.7 130.0 87.9 133.2C88.1 136.4 88.2 142.1 87.9 145.9C87.6 149.7 86.6 153.5 86.0 156.0C85.4 158.5 84.8 159.3 84.5 161.0C84.2 162.7 84.4 165.7 84.0 166.0C83.6 166.3 83.3 163.6 82.0 163.0C80.7 162.4 78.0 162.3 76.0 162.5C74.0 162.7 71.2 162.8 70.0 164.0C68.8 165.2 68.8 168.4 69.0 170.0C69.2 171.6 77.1 172.8 71.0 173.3C64.9 173.9 38.9 182.7 32.5 173.3C26.1 163.9 32.2 126.4 32.5 117.0Z" fill="none" stroke="#27a8e0" stroke-width="0.9"/>
<g clip-path="url(#cc0)">
</g>
<path class="ct" d="M32.5 146.0C32.8 146.1 33.0 146.4 34.2 146.8C35.4 147.2 37.8 148.4 39.6 148.4C41.4 148.4 42.7 147.8 45.1 146.8C47.5 145.8 50.9 143.9 53.8 142.4C56.7 140.9 59.8 139.4 62.5 138.1C65.2 136.8 67.7 135.2 70.2 134.3C72.8 133.4 75.8 132.9 77.8 132.9C79.8 132.9 81.1 133.2 82.2 134.3C83.3 135.4 84.1 137.1 84.3 139.2C84.5 141.3 84.2 144.6 83.3 146.8C82.4 149.0 80.7 150.5 78.9 152.3C77.1 154.1 74.7 156.1 72.3 157.7C69.9 159.3 66.7 160.8 64.7 162.1C62.7 163.4 61.3 163.9 60.4 165.3C59.5 166.8 59.5 169.5 59.3 170.8C59.1 172.1 59.0 172.9 59.0 173.3"/>
<path class="ct" d="M52.7 151.2C53.2 149.8 57.9 147.7 60.4 145.7C62.9 143.7 65.5 140.8 68.0 139.2C70.5 137.6 73.4 136.3 75.6 135.9C77.8 135.5 80.0 135.9 81.1 137.0C82.2 138.1 82.8 140.4 82.2 142.4C81.7 144.4 79.8 147.0 77.8 149.0C75.8 151.0 72.6 153.4 70.2 154.4C67.8 155.4 65.8 155.1 63.6 155.0C61.4 154.9 58.9 154.5 57.1 153.9C55.3 153.3 52.2 152.6 52.7 151.2Z"/>
<path class="ct" d="M32.5 150.0C32.7 150.0 32.6 149.6 33.6 150.0C34.6 150.4 37.3 151.0 38.5 152.3C39.7 153.6 40.2 155.9 40.7 157.7C41.2 159.5 40.9 161.6 41.8 163.2C42.7 164.8 44.2 166.4 46.2 167.5C48.2 168.6 51.8 168.9 53.8 169.7C55.8 170.4 57.5 171.6 58.2 172.0"/>
<path class="ct" d="M32.5 155.0C32.7 155.1 33.0 155.1 33.6 155.5C34.2 155.9 35.6 155.9 36.4 157.7C37.2 159.5 38.0 163.8 38.5 166.4C39.0 169.0 39.4 171.9 39.6 173.0"/>
<line x1="32.5" y1="173.3" x2="225.2" y2="6.5" stroke="#000" stroke-width="1.1" stroke-dasharray="2.5,1.5"/>
<line x1="32.5" y1="160.4" x2="225.2" y2="82.9" stroke="#f0302c" stroke-width="1.2"/>
</g>
<rect x="32.5" y="6.5" width="192.70" height="166.80" fill="none" stroke="#4a4a4a" stroke-width="1.05"/>
<path d="M32.50 173.3v1.8M32.5 173.30h-1.8M64.62 173.3v1.8M32.5 145.50h-1.8M96.73 173.3v1.8M32.5 117.70h-1.8M128.85 173.3v1.8M32.5 89.90h-1.8M160.97 173.3v1.8M32.5 62.10h-1.8M193.08 173.3v1.8M32.5 34.30h-1.8M225.20 173.3v1.8M32.5 6.50h-1.8" stroke="#333" stroke-width="0.8"/>
<text class="tk" x="32.50" y="181.80" text-anchor="middle">0</text>
<text class="tk" x="29.90" y="175.90" text-anchor="end">0</text>
<text class="tk" x="64.62" y="181.80" text-anchor="middle">50</text>
<text class="tk" x="29.90" y="148.10" text-anchor="end">50</text>
<text class="tk" x="96.73" y="181.80" text-anchor="middle">100</text>
<text class="tk" x="29.90" y="120.30" text-anchor="end">100</text>
<text class="tk" x="128.85" y="181.80" text-anchor="middle">150</text>
<text class="tk" x="29.90" y="92.50" text-anchor="end">150</text>
<text class="tk" x="160.97" y="181.80" text-anchor="middle">200</text>
<text class="tk" x="29.90" y="64.70" text-anchor="end">200</text>
<text class="tk" x="193.08" y="181.80" text-anchor="middle">250</text>
<text class="tk" x="29.90" y="36.90" text-anchor="end">250</text>
<text class="tk" x="225.20" y="181.80" text-anchor="middle">300</text>
<text class="tk" x="29.90" y="9.10" text-anchor="end">300</text>
<text class="lb" x="128.85" y="192.10" text-anchor="middle">Estimated (<tspan font-style="italic">μg</tspan>/<tspan font-style="italic">m</tspan><tspan font-size="6.2px" dy="-3.6">3</tspan><tspan dy="3.6">)</tspan></text>
<text class="lb" transform="translate(11.20 89.90) rotate(-90)" x="0" y="3.2" text-anchor="middle">Observed (<tspan font-style="italic">μg</tspan>/<tspan font-style="italic">m</tspan><tspan font-size="6.2px" dy="-3.6">3</tspan><tspan dy="3.6">)</tspan></text>
<line x1="40.0" y1="17.5" x2="57.0" y2="17.5" stroke="#f0302c" stroke-width="1.2"/>
<line x1="40.0" y1="29.8" x2="57.0" y2="29.8" stroke="#000" stroke-width="1.1" stroke-dasharray="2.5,1.5"/>
<text class="lg" x="64.0" y="20.8">Regression Line</text>
<text class="lg" x="64.0" y="32.9">1:1 Line</text>
<rect x="161.20" y="120.00" width="61" height="46.5" fill="#fff"/>
<text class="st" x="219.40" y="128.80" text-anchor="end"><tspan font-style="italic">BIAS</tspan><tspan dx="2.0">=</tspan><tspan dx="4.3">−</tspan><tspan dx="1.5">4.18</tspan></text>
<text class="st" x="219.40" y="140.30" text-anchor="end"><tspan font-style="italic">RMSE</tspan><tspan dx="2.3">=</tspan><tspan dx="2.1">25.97</tspan></text>
<text class="st" x="219.40" y="151.40" text-anchor="end"><tspan font-style="italic">IOA</tspan><tspan dx="2.3">=</tspan><tspan dx="2.1">0.72</tspan></text>
<text class="st" x="219.40" y="162.40" text-anchor="end"><tspan font-style="italic">COR</tspan><tspan dx="2.3">=</tspan><tspan dx="2.1">0.51</tspan></text>
<rect x="241.2" y="6.5" width="9.00" height="166.80" fill="url(#cm)" stroke="#666" stroke-width="0.5"/>
<text class="cbl" x="253.70" y="175.00">0</text>
<text class="cbl" x="253.70" y="154.66">500</text>
<text class="cbl" x="253.70" y="134.32">1000</text>
<text class="cbl" x="253.70" y="113.98">1500</text>
<text class="cbl" x="253.70" y="93.63">2000</text>
<text class="cbl" x="253.70" y="73.29">2500</text>
<text class="cbl" x="253.70" y="52.95">3000</text>
<text class="cbl" x="253.70" y="32.61">3500</text>
<text class="cbl" x="253.70" y="12.27">4000</text>
<path d="M250.2 173.30h1.5M250.2 152.96h1.5M250.2 132.62h1.5M250.2 112.28h1.5M250.2 91.93h1.5M250.2 71.59h1.5M250.2 51.25h1.5M250.2 30.91h1.5M250.2 10.57h1.5" stroke="#444" stroke-width="0.5"/>
<path d="M342.50 6.5V173.3M310.5 145.50H502.5M374.50 6.5V173.3M310.5 117.70H502.5M406.50 6.5V173.3M310.5 89.90H502.5M438.50 6.5V173.3M310.5 62.10H502.5M470.50 6.5V173.3M310.5 34.30H502.5" stroke="#eeeeee" stroke-width="0.8" fill="none"/>
<g clip-path="url(#cl1)">
<polygon points="311.1,140.0 311.1,172.8 354.8,172.8 355.3,171.0 355.4,171.0 357.7,165.1 357.7,165.1 357.7,165.0 357.7,165.0 361.2,160.2 361.2,160.2 367.0,153.2 367.1,153.1 372.8,145.8 372.8,145.8 378.6,138.6 378.7,138.6 384.4,131.3 385.0,130.6 385.4,129.8 387.6,125.4 387.9,124.6 388.2,123.8 388.4,123.0 388.5,122.2 388.5,121.4 388.4,120.5 388.3,119.7 388.1,118.9 387.8,118.1 387.4,117.4 386.9,116.7 386.4,116.0 385.8,115.4 385.2,114.9 383.0,113.2 382.3,112.7 381.6,112.3 380.9,112.0 380.2,111.7 379.4,111.6 378.6,111.4 377.8,111.4 369.0,111.4 367.8,111.5 360.6,112.5 359.6,112.7 358.6,113.0 351.4,115.9 351.2,116.0 342.5,119.7 342.1,119.9 333.3,124.2 332.6,124.6 325.4,128.9 324.9,129.2 317.6,134.3 316.9,134.9 311.1,140.0" fill="url(#spk)"/>
<path fill="#7fb1de" d="M383.0 95.4h1.4v1.4h-1.4zM383.2 97.2h1.4v1.4h-1.4zM369.7 98.1h1.4v1.4h-1.4zM374.3 98.6h1.4v1.4h-1.4zM365.5 99.9h1.4v1.4h-1.4zM388.7 99.5h1.4v1.4h-1.4zM381.4 101.1h1.4v1.4h-1.4zM387.6 101.2h1.4v1.4h-1.4zM388.5 101.2h1.4v1.4h-1.4zM372.6 102.9h1.4v1.4h-1.4zM378.3 102.5h1.4v1.4h-1.4zM384.1 102.9h1.4v1.4h-1.4zM387.4 102.5h1.4v1.4h-1.4zM368.7 104.3h1.4v1.4h-1.4zM373.1 104.5h1.4v1.4h-1.4zM375.6 104.4h1.4v1.4h-1.4zM384.6 104.2h1.4v1.4h-1.4zM361.5 105.5h1.4v1.4h-1.4zM381.2 105.9h1.4v1.4h-1.4zM390.1 105.9h1.4v1.4h-1.4zM380.1 107.1h1.4v1.4h-1.4zM348.0 108.7h1.4v1.4h-1.4zM358.5 108.4h1.4v1.4h-1.4zM378.5 108.3h1.4v1.4h-1.4zM394.6 108.4h1.4v1.4h-1.4zM365.4 109.9h1.4v1.4h-1.4zM369.7 109.8h1.4v1.4h-1.4zM385.5 110.1h1.4v1.4h-1.4zM394.7 110.1h1.4v1.4h-1.4zM362.5 111.2h1.4v1.4h-1.4zM391.8 111.6h1.4v1.4h-1.4zM338.0 113.1h1.4v1.4h-1.4zM352.6 113.0h1.4v1.4h-1.4zM355.2 113.0h1.4v1.4h-1.4zM384.4 112.7h1.4v1.4h-1.4zM390.4 112.6h1.4v1.4h-1.4zM395.7 112.9h1.4v1.4h-1.4zM398.9 112.6h1.4v1.4h-1.4zM391.8 114.0h1.4v1.4h-1.4zM392.8 114.0h1.4v1.4h-1.4zM397.5 114.0h1.4v1.4h-1.4zM400.2 114.0h1.4v1.4h-1.4zM342.2 115.7h1.4v1.4h-1.4zM343.7 115.5h1.4v1.4h-1.4zM345.0 115.7h1.4v1.4h-1.4zM393.3 115.7h1.4v1.4h-1.4zM330.6 117.3h1.4v1.4h-1.4zM339.4 117.5h1.4v1.4h-1.4zM391.5 116.9h1.4v1.4h-1.4zM333.3 118.8h1.4v1.4h-1.4zM336.3 118.9h1.4v1.4h-1.4zM401.7 118.7h1.4v1.4h-1.4zM329.4 120.1h1.4v1.4h-1.4zM320.7 121.7h1.4v1.4h-1.4zM324.7 121.9h1.4v1.4h-1.4zM326.5 121.3h1.4v1.4h-1.4zM333.7 121.7h1.4v1.4h-1.4zM392.9 121.5h1.4v1.4h-1.4zM394.6 121.2h1.4v1.4h-1.4zM394.4 123.1h1.4v1.4h-1.4zM409.1 122.9h1.4v1.4h-1.4zM320.3 124.1h1.4v1.4h-1.4zM322.0 124.4h1.4v1.4h-1.4zM327.6 124.2h1.4v1.4h-1.4zM330.7 124.1h1.4v1.4h-1.4zM386.9 124.3h1.4v1.4h-1.4zM397.1 124.7h1.4v1.4h-1.4zM404.4 124.6h1.4v1.4h-1.4zM313.4 126.1h1.4v1.4h-1.4zM315.0 126.1h1.4v1.4h-1.4zM316.1 125.7h1.4v1.4h-1.4zM320.8 126.2h1.4v1.4h-1.4zM397.5 125.7h1.4v1.4h-1.4zM403.0 125.7h1.4v1.4h-1.4zM407.8 125.8h1.4v1.4h-1.4zM312.1 127.3h1.4v1.4h-1.4zM316.3 127.4h1.4v1.4h-1.4zM320.7 127.2h1.4v1.4h-1.4zM324.9 127.4h1.4v1.4h-1.4zM391.3 127.5h1.4v1.4h-1.4zM393.1 127.5h1.4v1.4h-1.4zM398.7 127.3h1.4v1.4h-1.4zM314.5 129.0h1.4v1.4h-1.4zM390.1 128.7h1.4v1.4h-1.4zM391.4 128.6h1.4v1.4h-1.4zM394.3 129.1h1.4v1.4h-1.4zM402.9 129.1h1.4v1.4h-1.4zM313.1 130.2h1.4v1.4h-1.4zM317.3 130.6h1.4v1.4h-1.4zM404.6 130.3h1.4v1.4h-1.4zM317.6 131.4h1.4v1.4h-1.4zM319.1 131.5h1.4v1.4h-1.4zM384.2 131.9h1.4v1.4h-1.4zM389.0 131.9h1.4v1.4h-1.4zM310.7 133.4h1.4v1.4h-1.4zM314.7 133.3h1.4v1.4h-1.4zM387.5 133.2h1.4v1.4h-1.4zM397.2 133.1h1.4v1.4h-1.4zM401.7 132.9h1.4v1.4h-1.4zM404.6 133.5h1.4v1.4h-1.4zM381.3 134.5h1.4v1.4h-1.4zM384.0 134.8h1.4v1.4h-1.4zM388.5 134.5h1.4v1.4h-1.4zM381.3 136.1h1.4v1.4h-1.4zM405.9 136.2h1.4v1.4h-1.4zM408.9 136.0h1.4v1.4h-1.4zM310.1 137.8h1.4v1.4h-1.4zM394.7 137.2h1.4v1.4h-1.4zM404.7 137.3h1.4v1.4h-1.4zM407.9 137.5h1.4v1.4h-1.4zM413.6 137.6h1.4v1.4h-1.4zM382.9 139.3h1.4v1.4h-1.4zM390.5 139.2h1.4v1.4h-1.4zM393.1 139.0h1.4v1.4h-1.4zM394.6 138.9h1.4v1.4h-1.4zM400.3 139.3h1.4v1.4h-1.4zM383.2 140.6h1.4v1.4h-1.4zM384.6 140.5h1.4v1.4h-1.4zM387.2 140.2h1.4v1.4h-1.4zM403.4 140.4h1.4v1.4h-1.4zM375.4 141.9h1.4v1.4h-1.4zM388.4 141.8h1.4v1.4h-1.4zM390.2 142.1h1.4v1.4h-1.4zM391.7 142.1h1.4v1.4h-1.4zM397.7 141.6h1.4v1.4h-1.4zM384.3 143.0h1.4v1.4h-1.4zM385.5 143.5h1.4v1.4h-1.4zM400.3 143.4h1.4v1.4h-1.4zM310.6 145.0h1.4v1.4h-1.4zM375.6 144.4h1.4v1.4h-1.4zM378.3 144.5h1.4v1.4h-1.4zM381.5 144.7h1.4v1.4h-1.4zM384.0 144.4h1.4v1.4h-1.4zM385.9 145.1h1.4v1.4h-1.4zM310.1 146.5h1.4v1.4h-1.4zM378.2 146.5h1.4v1.4h-1.4zM391.5 146.0h1.4v1.4h-1.4zM394.5 146.0h1.4v1.4h-1.4zM372.8 148.0h1.4v1.4h-1.4zM387.5 147.4h1.4v1.4h-1.4zM397.6 147.5h1.4v1.4h-1.4zM310.1 148.9h1.4v1.4h-1.4zM378.7 149.4h1.4v1.4h-1.4zM384.6 149.2h1.4v1.4h-1.4zM394.7 149.3h1.4v1.4h-1.4zM396.3 149.0h1.4v1.4h-1.4zM398.8 149.2h1.4v1.4h-1.4zM373.9 150.2h1.4v1.4h-1.4zM390.4 150.3h1.4v1.4h-1.4zM397.4 150.5h1.4v1.4h-1.4zM365.4 154.9h1.4v1.4h-1.4zM366.8 154.6h1.4v1.4h-1.4zM375.3 154.7h1.4v1.4h-1.4zM368.3 156.0h1.4v1.4h-1.4zM369.8 156.7h1.4v1.4h-1.4zM378.3 156.5h1.4v1.4h-1.4zM388.7 158.0h1.4v1.4h-1.4zM369.9 159.3h1.4v1.4h-1.4zM371.2 159.5h1.4v1.4h-1.4zM372.7 158.9h1.4v1.4h-1.4zM374.5 159.1h1.4v1.4h-1.4zM377.0 159.0h1.4v1.4h-1.4zM396.2 159.3h1.4v1.4h-1.4zM364.0 161.0h1.4v1.4h-1.4zM371.6 160.6h1.4v1.4h-1.4zM372.8 160.9h1.4v1.4h-1.4zM385.6 161.0h1.4v1.4h-1.4zM362.3 162.1h1.4v1.4h-1.4zM364.0 162.0h1.4v1.4h-1.4zM365.2 162.5h1.4v1.4h-1.4zM374.5 162.2h1.4v1.4h-1.4zM378.5 162.5h1.4v1.4h-1.4zM379.8 162.3h1.4v1.4h-1.4zM358.4 163.4h1.4v1.4h-1.4zM368.5 163.9h1.4v1.4h-1.4zM378.2 163.3h1.4v1.4h-1.4zM379.7 163.5h1.4v1.4h-1.4zM359.5 164.8h1.4v1.4h-1.4zM362.4 165.3h1.4v1.4h-1.4zM368.5 165.4h1.4v1.4h-1.4zM370.2 164.8h1.4v1.4h-1.4zM381.1 165.0h1.4v1.4h-1.4zM369.8 166.8h1.4v1.4h-1.4zM371.6 166.5h1.4v1.4h-1.4zM373.0 166.7h1.4v1.4h-1.4zM356.5 167.7h1.4v1.4h-1.4zM363.7 168.3h1.4v1.4h-1.4zM365.3 167.8h1.4v1.4h-1.4zM366.7 167.9h1.4v1.4h-1.4zM368.7 167.7h1.4v1.4h-1.4zM355.2 169.5h1.4v1.4h-1.4zM372.5 169.1h1.4v1.4h-1.4zM359.9 171.1h1.4v1.4h-1.4zM361.1 171.1h1.4v1.4h-1.4zM363.8 171.0h1.4v1.4h-1.4zM368.1 171.1h1.4v1.4h-1.4zM374.1 170.8h1.4v1.4h-1.4zM346.4 172.1h1.4v1.4h-1.4zM347.8 172.5h1.4v1.4h-1.4zM359.9 172.3h1.4v1.4h-1.4zM364.0 172.0h1.4v1.4h-1.4z"/>
<path fill="#6fa5d9" d="M377.3 96.7h1.4v1.4h-1.4zM378.3 99.8h1.4v1.4h-1.4zM381.2 99.7h1.4v1.4h-1.4zM372.5 101.1h1.4v1.4h-1.4zM374.1 101.0h1.4v1.4h-1.4zM380.3 101.1h1.4v1.4h-1.4zM383.2 101.1h1.4v1.4h-1.4zM365.6 102.7h1.4v1.4h-1.4zM366.9 103.0h1.4v1.4h-1.4zM375.3 102.4h1.4v1.4h-1.4zM363.8 104.0h1.4v1.4h-1.4zM381.3 104.4h1.4v1.4h-1.4zM359.4 105.6h1.4v1.4h-1.4zM362.4 105.3h1.4v1.4h-1.4zM385.8 105.5h1.4v1.4h-1.4zM387.3 105.9h1.4v1.4h-1.4zM367.0 106.8h1.4v1.4h-1.4zM368.5 106.8h1.4v1.4h-1.4zM372.9 107.0h1.4v1.4h-1.4zM374.5 106.8h1.4v1.4h-1.4zM375.7 106.7h1.4v1.4h-1.4zM382.8 107.2h1.4v1.4h-1.4zM393.3 107.2h1.4v1.4h-1.4zM384.4 108.2h1.4v1.4h-1.4zM385.8 108.6h1.4v1.4h-1.4zM353.8 110.2h1.4v1.4h-1.4zM358.1 109.9h1.4v1.4h-1.4zM362.6 110.0h1.4v1.4h-1.4zM371.4 109.8h1.4v1.4h-1.4zM376.8 110.0h1.4v1.4h-1.4zM381.1 109.7h1.4v1.4h-1.4zM382.9 110.3h1.4v1.4h-1.4zM390.0 110.1h1.4v1.4h-1.4zM391.4 109.8h1.4v1.4h-1.4zM397.6 110.1h1.4v1.4h-1.4zM338.2 111.3h1.4v1.4h-1.4zM349.4 111.5h1.4v1.4h-1.4zM351.3 111.5h1.4v1.4h-1.4zM355.1 111.3h1.4v1.4h-1.4zM360.9 111.7h1.4v1.4h-1.4zM382.8 111.1h1.4v1.4h-1.4zM388.5 111.2h1.4v1.4h-1.4zM382.7 112.8h1.4v1.4h-1.4zM387.3 113.0h1.4v1.4h-1.4zM332.1 114.0h1.4v1.4h-1.4zM339.3 114.4h1.4v1.4h-1.4zM348.1 114.2h1.4v1.4h-1.4zM349.9 114.5h1.4v1.4h-1.4zM386.1 114.0h1.4v1.4h-1.4zM387.6 114.6h1.4v1.4h-1.4zM396.0 114.1h1.4v1.4h-1.4zM332.2 117.0h1.4v1.4h-1.4zM337.9 117.4h1.4v1.4h-1.4zM342.5 117.4h1.4v1.4h-1.4zM389.0 117.0h1.4v1.4h-1.4zM403.1 117.2h1.4v1.4h-1.4zM406.1 116.9h1.4v1.4h-1.4zM327.8 118.7h1.4v1.4h-1.4zM332.0 118.6h1.4v1.4h-1.4zM342.5 118.5h1.4v1.4h-1.4zM397.3 118.9h1.4v1.4h-1.4zM411.8 118.6h1.4v1.4h-1.4zM320.5 120.1h1.4v1.4h-1.4zM321.9 120.3h1.4v1.4h-1.4zM339.6 120.0h1.4v1.4h-1.4zM388.6 120.4h1.4v1.4h-1.4zM391.7 120.2h1.4v1.4h-1.4zM404.4 120.4h1.4v1.4h-1.4zM329.5 121.9h1.4v1.4h-1.4zM330.4 121.2h1.4v1.4h-1.4zM335.2 121.5h1.4v1.4h-1.4zM398.7 121.9h1.4v1.4h-1.4zM401.9 121.6h1.4v1.4h-1.4zM322.1 123.2h1.4v1.4h-1.4zM323.5 123.0h1.4v1.4h-1.4zM393.2 122.7h1.4v1.4h-1.4zM400.3 123.1h1.4v1.4h-1.4zM316.4 124.8h1.4v1.4h-1.4zM317.6 124.7h1.4v1.4h-1.4zM326.2 124.2h1.4v1.4h-1.4zM398.9 124.3h1.4v1.4h-1.4zM402.1 124.7h1.4v1.4h-1.4zM407.4 124.4h1.4v1.4h-1.4zM324.8 126.2h1.4v1.4h-1.4zM389.9 125.9h1.4v1.4h-1.4zM391.3 126.1h1.4v1.4h-1.4zM395.6 125.8h1.4v1.4h-1.4zM313.5 127.6h1.4v1.4h-1.4zM385.9 127.2h1.4v1.4h-1.4zM404.5 127.5h1.4v1.4h-1.4zM404.9 129.1h1.4v1.4h-1.4zM411.8 128.8h1.4v1.4h-1.4zM310.5 130.1h1.4v1.4h-1.4zM316.0 130.3h1.4v1.4h-1.4zM319.0 130.6h1.4v1.4h-1.4zM384.6 130.0h1.4v1.4h-1.4zM385.6 130.1h1.4v1.4h-1.4zM391.9 130.0h1.4v1.4h-1.4zM310.3 131.9h1.4v1.4h-1.4zM316.2 131.4h1.4v1.4h-1.4zM394.8 131.6h1.4v1.4h-1.4zM412.0 131.5h1.4v1.4h-1.4zM399.0 132.9h1.4v1.4h-1.4zM313.1 134.7h1.4v1.4h-1.4zM386.0 134.7h1.4v1.4h-1.4zM387.3 134.7h1.4v1.4h-1.4zM390.3 134.8h1.4v1.4h-1.4zM399.0 134.6h1.4v1.4h-1.4zM411.8 134.8h1.4v1.4h-1.4zM413.4 134.7h1.4v1.4h-1.4zM310.5 136.2h1.4v1.4h-1.4zM382.9 136.2h1.4v1.4h-1.4zM384.7 136.1h1.4v1.4h-1.4zM394.6 135.9h1.4v1.4h-1.4zM402.0 136.1h1.4v1.4h-1.4zM403.5 136.2h1.4v1.4h-1.4zM404.6 135.8h1.4v1.4h-1.4zM381.4 137.5h1.4v1.4h-1.4zM392.9 137.2h1.4v1.4h-1.4zM391.5 138.7h1.4v1.4h-1.4zM397.4 138.9h1.4v1.4h-1.4zM406.0 138.9h1.4v1.4h-1.4zM381.5 140.2h1.4v1.4h-1.4zM395.9 140.4h1.4v1.4h-1.4zM404.5 140.4h1.4v1.4h-1.4zM394.4 141.9h1.4v1.4h-1.4zM400.6 141.7h1.4v1.4h-1.4zM413.6 142.2h1.4v1.4h-1.4zM375.9 143.0h1.4v1.4h-1.4zM378.9 143.4h1.4v1.4h-1.4zM390.5 143.2h1.4v1.4h-1.4zM397.2 143.2h1.4v1.4h-1.4zM404.5 143.2h1.4v1.4h-1.4zM414.6 143.2h1.4v1.4h-1.4zM373.1 144.5h1.4v1.4h-1.4zM393.0 145.0h1.4v1.4h-1.4zM377.4 145.9h1.4v1.4h-1.4zM381.6 146.3h1.4v1.4h-1.4zM390.3 145.9h1.4v1.4h-1.4zM403.4 146.1h1.4v1.4h-1.4zM385.6 147.4h1.4v1.4h-1.4zM407.9 148.0h1.4v1.4h-1.4zM372.7 149.2h1.4v1.4h-1.4zM375.5 149.2h1.4v1.4h-1.4zM381.4 149.3h1.4v1.4h-1.4zM393.4 149.3h1.4v1.4h-1.4zM368.1 150.7h1.4v1.4h-1.4zM377.4 150.4h1.4v1.4h-1.4zM380.0 150.5h1.4v1.4h-1.4zM384.5 150.3h1.4v1.4h-1.4zM367.0 153.6h1.4v1.4h-1.4zM368.2 153.3h1.4v1.4h-1.4zM371.4 153.6h1.4v1.4h-1.4zM382.7 153.8h1.4v1.4h-1.4zM369.8 154.7h1.4v1.4h-1.4zM387.5 154.7h1.4v1.4h-1.4zM393.0 155.1h1.4v1.4h-1.4zM377.2 156.2h1.4v1.4h-1.4zM381.6 156.6h1.4v1.4h-1.4zM365.7 157.7h1.4v1.4h-1.4zM374.0 157.8h1.4v1.4h-1.4zM375.5 157.9h1.4v1.4h-1.4zM377.1 158.1h1.4v1.4h-1.4zM384.3 157.5h1.4v1.4h-1.4zM386.0 157.6h1.4v1.4h-1.4zM368.6 159.5h1.4v1.4h-1.4zM375.5 159.0h1.4v1.4h-1.4zM388.9 159.6h1.4v1.4h-1.4zM390.4 159.2h1.4v1.4h-1.4zM373.9 160.6h1.4v1.4h-1.4zM384.5 161.0h1.4v1.4h-1.4zM361.1 162.4h1.4v1.4h-1.4zM368.7 161.9h1.4v1.4h-1.4zM371.5 162.3h1.4v1.4h-1.4zM360.0 163.8h1.4v1.4h-1.4zM374.0 163.7h1.4v1.4h-1.4zM372.7 165.2h1.4v1.4h-1.4zM374.0 165.2h1.4v1.4h-1.4zM379.9 165.0h1.4v1.4h-1.4zM357.0 166.2h1.4v1.4h-1.4zM362.3 166.8h1.4v1.4h-1.4zM365.4 166.2h1.4v1.4h-1.4zM360.0 168.3h1.4v1.4h-1.4zM361.3 168.3h1.4v1.4h-1.4zM362.9 167.7h1.4v1.4h-1.4zM369.7 168.3h1.4v1.4h-1.4zM372.7 167.8h1.4v1.4h-1.4zM374.2 167.8h1.4v1.4h-1.4zM358.1 169.4h1.4v1.4h-1.4zM360.0 169.1h1.4v1.4h-1.4zM364.4 169.5h1.4v1.4h-1.4zM371.6 169.3h1.4v1.4h-1.4zM385.7 169.6h1.4v1.4h-1.4zM352.7 172.0h1.4v1.4h-1.4zM361.2 172.1h1.4v1.4h-1.4zM362.4 172.5h1.4v1.4h-1.4zM370.2 172.1h1.4v1.4h-1.4zM372.7 172.6h1.4v1.4h-1.4z"/>
<path fill="#8cbbe3" d="M361.2 98.4h1.4v1.4h-1.4zM358.6 99.6h1.4v1.4h-1.4zM371.4 99.8h1.4v1.4h-1.4zM372.6 99.6h1.4v1.4h-1.4zM375.9 99.5h1.4v1.4h-1.4zM379.9 100.1h1.4v1.4h-1.4zM385.9 100.1h1.4v1.4h-1.4zM384.4 101.1h1.4v1.4h-1.4zM368.1 102.4h1.4v1.4h-1.4zM374.2 103.0h1.4v1.4h-1.4zM374.4 105.8h1.4v1.4h-1.4zM382.7 105.7h1.4v1.4h-1.4zM384.7 105.7h1.4v1.4h-1.4zM393.0 105.7h1.4v1.4h-1.4zM394.6 105.9h1.4v1.4h-1.4zM356.6 107.1h1.4v1.4h-1.4zM358.2 106.9h1.4v1.4h-1.4zM388.6 106.9h1.4v1.4h-1.4zM394.6 106.8h1.4v1.4h-1.4zM398.9 106.8h1.4v1.4h-1.4zM353.7 108.7h1.4v1.4h-1.4zM355.4 108.4h1.4v1.4h-1.4zM357.0 108.3h1.4v1.4h-1.4zM364.2 108.6h1.4v1.4h-1.4zM375.5 108.7h1.4v1.4h-1.4zM377.1 108.3h1.4v1.4h-1.4zM387.5 108.3h1.4v1.4h-1.4zM388.6 108.8h1.4v1.4h-1.4zM393.1 108.8h1.4v1.4h-1.4zM356.5 110.1h1.4v1.4h-1.4zM359.6 109.6h1.4v1.4h-1.4zM389.0 110.2h1.4v1.4h-1.4zM387.3 111.7h1.4v1.4h-1.4zM396.3 111.3h1.4v1.4h-1.4zM336.2 114.4h1.4v1.4h-1.4zM343.6 114.5h1.4v1.4h-1.4zM341.1 115.8h1.4v1.4h-1.4zM394.4 115.8h1.4v1.4h-1.4zM397.5 115.8h1.4v1.4h-1.4zM333.9 117.3h1.4v1.4h-1.4zM343.5 117.0h1.4v1.4h-1.4zM387.5 116.9h1.4v1.4h-1.4zM334.8 118.4h1.4v1.4h-1.4zM340.5 118.6h1.4v1.4h-1.4zM388.8 119.0h1.4v1.4h-1.4zM391.4 118.9h1.4v1.4h-1.4zM393.3 118.4h1.4v1.4h-1.4zM394.3 118.9h1.4v1.4h-1.4zM313.5 119.9h1.4v1.4h-1.4zM390.5 120.0h1.4v1.4h-1.4zM396.0 120.1h1.4v1.4h-1.4zM322.3 121.6h1.4v1.4h-1.4zM397.5 121.5h1.4v1.4h-1.4zM310.5 123.3h1.4v1.4h-1.4zM325.0 123.1h1.4v1.4h-1.4zM326.2 122.7h1.4v1.4h-1.4zM327.7 123.3h1.4v1.4h-1.4zM331.9 123.2h1.4v1.4h-1.4zM390.2 122.8h1.4v1.4h-1.4zM398.6 123.1h1.4v1.4h-1.4zM404.3 123.0h1.4v1.4h-1.4zM319.2 124.8h1.4v1.4h-1.4zM323.3 124.2h1.4v1.4h-1.4zM389.0 124.7h1.4v1.4h-1.4zM391.6 124.1h1.4v1.4h-1.4zM393.0 124.2h1.4v1.4h-1.4zM394.2 124.5h1.4v1.4h-1.4zM411.6 124.5h1.4v1.4h-1.4zM310.4 125.8h1.4v1.4h-1.4zM321.7 127.1h1.4v1.4h-1.4zM323.5 127.4h1.4v1.4h-1.4zM386.9 127.3h1.4v1.4h-1.4zM403.3 127.3h1.4v1.4h-1.4zM322.0 129.1h1.4v1.4h-1.4zM388.6 128.8h1.4v1.4h-1.4zM393.0 128.9h1.4v1.4h-1.4zM395.9 128.8h1.4v1.4h-1.4zM398.9 128.9h1.4v1.4h-1.4zM314.6 129.9h1.4v1.4h-1.4zM400.0 130.5h1.4v1.4h-1.4zM402.9 130.2h1.4v1.4h-1.4zM407.6 130.2h1.4v1.4h-1.4zM391.4 131.8h1.4v1.4h-1.4zM403.1 131.7h1.4v1.4h-1.4zM404.5 131.9h1.4v1.4h-1.4zM313.5 133.0h1.4v1.4h-1.4zM391.4 133.1h1.4v1.4h-1.4zM395.8 133.4h1.4v1.4h-1.4zM416.3 133.1h1.4v1.4h-1.4zM394.5 134.6h1.4v1.4h-1.4zM395.9 134.3h1.4v1.4h-1.4zM404.7 134.6h1.4v1.4h-1.4zM407.6 134.8h1.4v1.4h-1.4zM408.9 134.8h1.4v1.4h-1.4zM410.3 134.6h1.4v1.4h-1.4zM416.2 134.7h1.4v1.4h-1.4zM399.2 135.9h1.4v1.4h-1.4zM383.0 137.8h1.4v1.4h-1.4zM398.8 137.2h1.4v1.4h-1.4zM405.9 137.5h1.4v1.4h-1.4zM410.4 137.3h1.4v1.4h-1.4zM378.4 138.6h1.4v1.4h-1.4zM379.9 138.6h1.4v1.4h-1.4zM402.9 139.0h1.4v1.4h-1.4zM392.8 140.6h1.4v1.4h-1.4zM400.5 140.3h1.4v1.4h-1.4zM377.2 141.5h1.4v1.4h-1.4zM379.7 142.0h1.4v1.4h-1.4zM396.0 141.7h1.4v1.4h-1.4zM399.2 142.0h1.4v1.4h-1.4zM404.6 141.9h1.4v1.4h-1.4zM377.2 143.4h1.4v1.4h-1.4zM394.5 143.1h1.4v1.4h-1.4zM374.1 144.5h1.4v1.4h-1.4zM376.8 144.7h1.4v1.4h-1.4zM379.7 145.1h1.4v1.4h-1.4zM383.2 145.1h1.4v1.4h-1.4zM387.4 144.4h1.4v1.4h-1.4zM394.7 144.9h1.4v1.4h-1.4zM399.0 145.0h1.4v1.4h-1.4zM375.6 146.1h1.4v1.4h-1.4zM380.1 146.5h1.4v1.4h-1.4zM383.0 146.5h1.4v1.4h-1.4zM396.0 146.2h1.4v1.4h-1.4zM380.1 147.5h1.4v1.4h-1.4zM381.1 147.7h1.4v1.4h-1.4zM384.6 147.3h1.4v1.4h-1.4zM390.2 147.8h1.4v1.4h-1.4zM391.3 147.7h1.4v1.4h-1.4zM395.9 147.5h1.4v1.4h-1.4zM371.6 149.4h1.4v1.4h-1.4zM377.1 149.4h1.4v1.4h-1.4zM383.0 148.9h1.4v1.4h-1.4zM387.5 149.1h1.4v1.4h-1.4zM375.3 150.5h1.4v1.4h-1.4zM378.5 150.5h1.4v1.4h-1.4zM385.6 150.8h1.4v1.4h-1.4zM393.1 150.9h1.4v1.4h-1.4zM394.8 150.8h1.4v1.4h-1.4zM401.5 150.7h1.4v1.4h-1.4zM371.0 152.0h1.4v1.4h-1.4zM377.2 152.3h1.4v1.4h-1.4zM384.6 152.0h1.4v1.4h-1.4zM369.8 153.6h1.4v1.4h-1.4zM377.0 153.2h1.4v1.4h-1.4zM378.6 153.5h1.4v1.4h-1.4zM381.2 153.2h1.4v1.4h-1.4zM385.6 153.5h1.4v1.4h-1.4zM387.2 153.7h1.4v1.4h-1.4zM388.8 153.3h1.4v1.4h-1.4zM373.0 155.2h1.4v1.4h-1.4zM384.5 154.8h1.4v1.4h-1.4zM382.9 156.3h1.4v1.4h-1.4zM386.0 156.4h1.4v1.4h-1.4zM387.4 156.5h1.4v1.4h-1.4zM391.6 156.6h1.4v1.4h-1.4zM366.8 157.6h1.4v1.4h-1.4zM368.3 157.5h1.4v1.4h-1.4zM372.9 158.0h1.4v1.4h-1.4zM383.1 159.3h1.4v1.4h-1.4zM387.0 158.9h1.4v1.4h-1.4zM392.9 159.3h1.4v1.4h-1.4zM362.9 160.9h1.4v1.4h-1.4zM369.8 160.9h1.4v1.4h-1.4zM367.0 162.4h1.4v1.4h-1.4zM377.2 162.3h1.4v1.4h-1.4zM366.9 163.4h1.4v1.4h-1.4zM364.1 164.9h1.4v1.4h-1.4zM365.6 165.2h1.4v1.4h-1.4zM366.7 164.9h1.4v1.4h-1.4zM375.7 165.3h1.4v1.4h-1.4zM363.8 166.3h1.4v1.4h-1.4zM375.6 166.8h1.4v1.4h-1.4zM378.3 166.5h1.4v1.4h-1.4zM375.6 167.9h1.4v1.4h-1.4zM360.8 169.7h1.4v1.4h-1.4zM362.6 169.5h1.4v1.4h-1.4zM370.0 169.4h1.4v1.4h-1.4zM374.0 169.1h1.4v1.4h-1.4zM372.6 170.9h1.4v1.4h-1.4zM378.9 170.8h1.4v1.4h-1.4zM349.5 172.1h1.4v1.4h-1.4zM358.6 172.3h1.4v1.4h-1.4zM366.6 172.2h1.4v1.4h-1.4z"/>
<path fill="#9cc5e8" d="M390.4 98.5h1.4v1.4h-1.4zM377.4 99.9h1.4v1.4h-1.4zM382.9 99.8h1.4v1.4h-1.4zM369.7 101.0h1.4v1.4h-1.4zM375.7 101.3h1.4v1.4h-1.4zM362.4 103.9h1.4v1.4h-1.4zM371.6 104.1h1.4v1.4h-1.4zM374.1 103.8h1.4v1.4h-1.4zM385.9 104.0h1.4v1.4h-1.4zM388.9 104.4h1.4v1.4h-1.4zM390.2 104.4h1.4v1.4h-1.4zM369.7 105.4h1.4v1.4h-1.4zM378.7 105.6h1.4v1.4h-1.4zM391.8 105.7h1.4v1.4h-1.4zM355.0 107.2h1.4v1.4h-1.4zM361.1 107.0h1.4v1.4h-1.4zM365.8 106.9h1.4v1.4h-1.4zM371.5 106.9h1.4v1.4h-1.4zM377.1 106.8h1.4v1.4h-1.4zM378.7 106.9h1.4v1.4h-1.4zM381.2 106.7h1.4v1.4h-1.4zM384.1 107.4h1.4v1.4h-1.4zM365.4 108.3h1.4v1.4h-1.4zM366.8 108.7h1.4v1.4h-1.4zM369.7 108.8h1.4v1.4h-1.4zM380.0 108.5h1.4v1.4h-1.4zM382.7 108.3h1.4v1.4h-1.4zM349.9 109.6h1.4v1.4h-1.4zM355.2 110.1h1.4v1.4h-1.4zM364.3 109.9h1.4v1.4h-1.4zM372.9 110.1h1.4v1.4h-1.4zM376.0 110.2h1.4v1.4h-1.4zM379.9 110.3h1.4v1.4h-1.4zM384.5 110.0h1.4v1.4h-1.4zM393.1 110.3h1.4v1.4h-1.4zM347.9 111.7h1.4v1.4h-1.4zM356.7 111.2h1.4v1.4h-1.4zM358.0 111.4h1.4v1.4h-1.4zM359.8 111.4h1.4v1.4h-1.4zM384.0 111.1h1.4v1.4h-1.4zM345.5 112.9h1.4v1.4h-1.4zM350.8 112.8h1.4v1.4h-1.4zM353.7 112.7h1.4v1.4h-1.4zM385.7 112.5h1.4v1.4h-1.4zM388.8 112.5h1.4v1.4h-1.4zM394.6 112.6h1.4v1.4h-1.4zM388.6 114.4h1.4v1.4h-1.4zM337.8 116.0h1.4v1.4h-1.4zM339.7 115.6h1.4v1.4h-1.4zM348.2 115.5h1.4v1.4h-1.4zM387.3 116.1h1.4v1.4h-1.4zM399.1 115.5h1.4v1.4h-1.4zM329.5 117.5h1.4v1.4h-1.4zM340.9 117.4h1.4v1.4h-1.4zM345.0 117.4h1.4v1.4h-1.4zM390.3 117.0h1.4v1.4h-1.4zM394.5 117.2h1.4v1.4h-1.4zM330.9 120.1h1.4v1.4h-1.4zM333.6 120.1h1.4v1.4h-1.4zM335.0 120.0h1.4v1.4h-1.4zM337.8 120.4h1.4v1.4h-1.4zM398.7 119.8h1.4v1.4h-1.4zM400.1 119.9h1.4v1.4h-1.4zM388.9 121.3h1.4v1.4h-1.4zM410.5 121.3h1.4v1.4h-1.4zM320.5 122.8h1.4v1.4h-1.4zM329.2 122.9h1.4v1.4h-1.4zM330.4 122.9h1.4v1.4h-1.4zM333.8 122.8h1.4v1.4h-1.4zM388.7 123.0h1.4v1.4h-1.4zM396.3 123.3h1.4v1.4h-1.4zM401.8 123.2h1.4v1.4h-1.4zM409.2 124.4h1.4v1.4h-1.4zM322.0 126.2h1.4v1.4h-1.4zM323.5 125.7h1.4v1.4h-1.4zM388.6 125.7h1.4v1.4h-1.4zM394.6 126.0h1.4v1.4h-1.4zM398.7 126.1h1.4v1.4h-1.4zM406.1 125.7h1.4v1.4h-1.4zM310.2 127.1h1.4v1.4h-1.4zM389.9 127.2h1.4v1.4h-1.4zM396.1 127.2h1.4v1.4h-1.4zM397.7 127.2h1.4v1.4h-1.4zM400.1 127.7h1.4v1.4h-1.4zM313.4 128.7h1.4v1.4h-1.4zM316.0 128.7h1.4v1.4h-1.4zM323.8 129.0h1.4v1.4h-1.4zM385.9 128.7h1.4v1.4h-1.4zM401.7 128.6h1.4v1.4h-1.4zM320.6 130.1h1.4v1.4h-1.4zM388.8 130.2h1.4v1.4h-1.4zM393.1 130.1h1.4v1.4h-1.4zM411.7 130.1h1.4v1.4h-1.4zM313.6 131.6h1.4v1.4h-1.4zM390.2 131.8h1.4v1.4h-1.4zM392.9 132.0h1.4v1.4h-1.4zM399.1 131.9h1.4v1.4h-1.4zM406.4 131.4h1.4v1.4h-1.4zM317.6 133.5h1.4v1.4h-1.4zM382.9 133.5h1.4v1.4h-1.4zM384.0 133.4h1.4v1.4h-1.4zM388.7 133.0h1.4v1.4h-1.4zM314.5 134.7h1.4v1.4h-1.4zM313.5 136.4h1.4v1.4h-1.4zM385.5 136.3h1.4v1.4h-1.4zM391.4 135.9h1.4v1.4h-1.4zM400.0 135.8h1.4v1.4h-1.4zM378.8 137.6h1.4v1.4h-1.4zM380.2 137.7h1.4v1.4h-1.4zM385.8 137.8h1.4v1.4h-1.4zM387.4 137.3h1.4v1.4h-1.4zM400.4 137.5h1.4v1.4h-1.4zM409.1 137.7h1.4v1.4h-1.4zM388.4 138.7h1.4v1.4h-1.4zM395.6 139.1h1.4v1.4h-1.4zM398.9 138.9h1.4v1.4h-1.4zM379.8 140.5h1.4v1.4h-1.4zM385.9 140.4h1.4v1.4h-1.4zM391.7 140.1h1.4v1.4h-1.4zM310.4 141.8h1.4v1.4h-1.4zM378.8 141.9h1.4v1.4h-1.4zM382.9 142.1h1.4v1.4h-1.4zM384.2 142.0h1.4v1.4h-1.4zM401.6 141.6h1.4v1.4h-1.4zM407.7 142.0h1.4v1.4h-1.4zM373.9 143.1h1.4v1.4h-1.4zM381.6 143.1h1.4v1.4h-1.4zM383.1 143.1h1.4v1.4h-1.4zM388.7 143.0h1.4v1.4h-1.4zM391.3 143.2h1.4v1.4h-1.4zM393.0 143.6h1.4v1.4h-1.4zM406.0 143.1h1.4v1.4h-1.4zM390.1 144.5h1.4v1.4h-1.4zM401.8 144.8h1.4v1.4h-1.4zM386.1 146.5h1.4v1.4h-1.4zM392.8 146.1h1.4v1.4h-1.4zM375.8 147.6h1.4v1.4h-1.4zM377.4 147.9h1.4v1.4h-1.4zM394.7 147.4h1.4v1.4h-1.4zM398.8 148.0h1.4v1.4h-1.4zM403.4 147.9h1.4v1.4h-1.4zM370.1 149.0h1.4v1.4h-1.4zM390.3 148.8h1.4v1.4h-1.4zM371.4 150.8h1.4v1.4h-1.4zM381.4 150.4h1.4v1.4h-1.4zM391.8 150.3h1.4v1.4h-1.4zM310.1 151.8h1.4v1.4h-1.4zM366.7 152.2h1.4v1.4h-1.4zM368.3 151.7h1.4v1.4h-1.4zM372.4 152.0h1.4v1.4h-1.4zM373.9 152.3h1.4v1.4h-1.4zM381.8 152.1h1.4v1.4h-1.4zM388.7 151.9h1.4v1.4h-1.4zM396.1 151.9h1.4v1.4h-1.4zM374.5 153.7h1.4v1.4h-1.4zM375.5 153.2h1.4v1.4h-1.4zM391.3 153.5h1.4v1.4h-1.4zM374.1 154.9h1.4v1.4h-1.4zM386.0 154.8h1.4v1.4h-1.4zM364.4 156.2h1.4v1.4h-1.4zM365.7 156.7h1.4v1.4h-1.4zM371.6 156.1h1.4v1.4h-1.4zM372.9 156.2h1.4v1.4h-1.4zM374.5 156.4h1.4v1.4h-1.4zM375.8 156.3h1.4v1.4h-1.4zM362.8 157.8h1.4v1.4h-1.4zM369.5 157.5h1.4v1.4h-1.4zM382.8 158.0h1.4v1.4h-1.4zM364.3 159.4h1.4v1.4h-1.4zM365.3 159.4h1.4v1.4h-1.4zM367.3 159.4h1.4v1.4h-1.4zM381.6 159.2h1.4v1.4h-1.4zM365.5 160.6h1.4v1.4h-1.4zM377.0 160.6h1.4v1.4h-1.4zM378.7 160.9h1.4v1.4h-1.4zM359.8 162.0h1.4v1.4h-1.4zM375.3 162.2h1.4v1.4h-1.4zM381.5 162.3h1.4v1.4h-1.4zM383.0 161.9h1.4v1.4h-1.4zM360.9 163.5h1.4v1.4h-1.4zM365.4 163.6h1.4v1.4h-1.4zM369.5 163.8h1.4v1.4h-1.4zM371.0 163.6h1.4v1.4h-1.4zM377.0 163.4h1.4v1.4h-1.4zM377.1 164.8h1.4v1.4h-1.4zM387.5 164.7h1.4v1.4h-1.4zM359.9 166.3h1.4v1.4h-1.4zM366.8 166.8h1.4v1.4h-1.4zM376.8 166.4h1.4v1.4h-1.4zM358.5 167.7h1.4v1.4h-1.4zM378.4 167.8h1.4v1.4h-1.4zM384.5 167.6h1.4v1.4h-1.4zM371.4 171.2h1.4v1.4h-1.4zM354.0 172.3h1.4v1.4h-1.4zM375.6 172.2h1.4v1.4h-1.4z"/>
<path fill="#629dd4" d="M368.6 101.6h1.4v1.4h-1.4zM370.1 104.5h1.4v1.4h-1.4zM378.8 104.2h1.4v1.4h-1.4zM379.7 104.0h1.4v1.4h-1.4zM382.7 104.3h1.4v1.4h-1.4zM351.0 105.6h1.4v1.4h-1.4zM356.7 105.6h1.4v1.4h-1.4zM364.3 105.4h1.4v1.4h-1.4zM366.8 105.3h1.4v1.4h-1.4zM368.2 105.5h1.4v1.4h-1.4zM371.5 105.9h1.4v1.4h-1.4zM375.5 105.4h1.4v1.4h-1.4zM380.3 105.7h1.4v1.4h-1.4zM388.5 105.8h1.4v1.4h-1.4zM362.9 106.8h1.4v1.4h-1.4zM364.2 107.2h1.4v1.4h-1.4zM386.1 107.3h1.4v1.4h-1.4zM391.8 107.3h1.4v1.4h-1.4zM360.8 108.6h1.4v1.4h-1.4zM362.3 108.8h1.4v1.4h-1.4zM371.4 108.4h1.4v1.4h-1.4zM372.9 108.2h1.4v1.4h-1.4zM374.2 108.8h1.4v1.4h-1.4zM381.2 108.4h1.4v1.4h-1.4zM390.3 108.2h1.4v1.4h-1.4zM346.8 109.6h1.4v1.4h-1.4zM352.5 110.2h1.4v1.4h-1.4zM361.2 109.8h1.4v1.4h-1.4zM366.9 110.0h1.4v1.4h-1.4zM373.9 110.0h1.4v1.4h-1.4zM378.6 109.8h1.4v1.4h-1.4zM387.1 109.9h1.4v1.4h-1.4zM352.8 111.3h1.4v1.4h-1.4zM353.9 111.3h1.4v1.4h-1.4zM381.6 111.6h1.4v1.4h-1.4zM385.6 111.6h1.4v1.4h-1.4zM389.9 111.5h1.4v1.4h-1.4zM393.1 111.4h1.4v1.4h-1.4zM394.4 111.7h1.4v1.4h-1.4zM344.0 112.8h1.4v1.4h-1.4zM391.9 112.8h1.4v1.4h-1.4zM392.9 113.0h1.4v1.4h-1.4zM340.9 114.4h1.4v1.4h-1.4zM345.0 114.3h1.4v1.4h-1.4zM346.7 114.3h1.4v1.4h-1.4zM351.1 114.2h1.4v1.4h-1.4zM352.8 114.4h1.4v1.4h-1.4zM390.3 114.2h1.4v1.4h-1.4zM332.2 115.6h1.4v1.4h-1.4zM346.6 115.7h1.4v1.4h-1.4zM388.6 115.9h1.4v1.4h-1.4zM390.3 115.5h1.4v1.4h-1.4zM391.5 116.0h1.4v1.4h-1.4zM400.1 116.0h1.4v1.4h-1.4zM402.1 116.0h1.4v1.4h-1.4zM318.8 117.4h1.4v1.4h-1.4zM322.0 117.2h1.4v1.4h-1.4zM392.8 117.0h1.4v1.4h-1.4zM397.5 117.2h1.4v1.4h-1.4zM398.6 117.4h1.4v1.4h-1.4zM330.8 118.5h1.4v1.4h-1.4zM339.3 118.8h1.4v1.4h-1.4zM399.2 118.7h1.4v1.4h-1.4zM402.9 118.3h1.4v1.4h-1.4zM325.1 120.1h1.4v1.4h-1.4zM393.0 120.0h1.4v1.4h-1.4zM394.8 119.8h1.4v1.4h-1.4zM397.3 120.1h1.4v1.4h-1.4zM401.8 120.0h1.4v1.4h-1.4zM328.0 121.8h1.4v1.4h-1.4zM331.8 121.6h1.4v1.4h-1.4zM336.5 121.3h1.4v1.4h-1.4zM317.8 123.0h1.4v1.4h-1.4zM403.5 123.0h1.4v1.4h-1.4zM314.7 124.2h1.4v1.4h-1.4zM324.6 124.5h1.4v1.4h-1.4zM390.0 124.7h1.4v1.4h-1.4zM396.3 124.6h1.4v1.4h-1.4zM317.6 126.2h1.4v1.4h-1.4zM319.3 126.2h1.4v1.4h-1.4zM326.6 126.1h1.4v1.4h-1.4zM327.8 126.1h1.4v1.4h-1.4zM393.1 125.7h1.4v1.4h-1.4zM400.1 125.6h1.4v1.4h-1.4zM401.5 125.6h1.4v1.4h-1.4zM317.7 127.2h1.4v1.4h-1.4zM394.5 127.1h1.4v1.4h-1.4zM407.9 127.3h1.4v1.4h-1.4zM312.2 128.8h1.4v1.4h-1.4zM317.3 129.1h1.4v1.4h-1.4zM318.8 129.0h1.4v1.4h-1.4zM400.2 128.7h1.4v1.4h-1.4zM410.1 128.6h1.4v1.4h-1.4zM312.0 130.2h1.4v1.4h-1.4zM387.1 130.2h1.4v1.4h-1.4zM390.3 130.1h1.4v1.4h-1.4zM395.8 129.9h1.4v1.4h-1.4zM399.0 130.5h1.4v1.4h-1.4zM409.0 130.2h1.4v1.4h-1.4zM314.9 131.4h1.4v1.4h-1.4zM385.9 131.7h1.4v1.4h-1.4zM387.2 131.9h1.4v1.4h-1.4zM395.6 131.8h1.4v1.4h-1.4zM401.8 131.6h1.4v1.4h-1.4zM385.5 133.5h1.4v1.4h-1.4zM389.8 133.2h1.4v1.4h-1.4zM393.2 133.1h1.4v1.4h-1.4zM400.1 133.0h1.4v1.4h-1.4zM311.5 134.8h1.4v1.4h-1.4zM392.8 134.4h1.4v1.4h-1.4zM402.1 134.9h1.4v1.4h-1.4zM406.1 134.7h1.4v1.4h-1.4zM415.0 134.7h1.4v1.4h-1.4zM312.2 136.2h1.4v1.4h-1.4zM380.2 136.0h1.4v1.4h-1.4zM387.3 135.7h1.4v1.4h-1.4zM388.8 135.8h1.4v1.4h-1.4zM392.8 135.8h1.4v1.4h-1.4zM397.2 135.8h1.4v1.4h-1.4zM384.6 137.4h1.4v1.4h-1.4zM389.0 137.8h1.4v1.4h-1.4zM395.6 137.5h1.4v1.4h-1.4zM403.2 137.4h1.4v1.4h-1.4zM384.0 138.8h1.4v1.4h-1.4zM402.0 138.7h1.4v1.4h-1.4zM404.6 138.6h1.4v1.4h-1.4zM310.3 140.5h1.4v1.4h-1.4zM376.9 140.3h1.4v1.4h-1.4zM378.3 140.5h1.4v1.4h-1.4zM388.4 140.7h1.4v1.4h-1.4zM397.7 140.4h1.4v1.4h-1.4zM387.5 142.2h1.4v1.4h-1.4zM403.4 141.6h1.4v1.4h-1.4zM310.1 143.1h1.4v1.4h-1.4zM387.5 143.0h1.4v1.4h-1.4zM401.7 143.1h1.4v1.4h-1.4zM397.6 144.7h1.4v1.4h-1.4zM404.6 145.0h1.4v1.4h-1.4zM374.4 146.3h1.4v1.4h-1.4zM384.0 146.3h1.4v1.4h-1.4zM397.2 146.3h1.4v1.4h-1.4zM399.1 146.1h1.4v1.4h-1.4zM400.4 146.2h1.4v1.4h-1.4zM310.5 147.6h1.4v1.4h-1.4zM378.3 147.6h1.4v1.4h-1.4zM401.5 147.7h1.4v1.4h-1.4zM405.8 147.7h1.4v1.4h-1.4zM389.0 149.4h1.4v1.4h-1.4zM400.4 149.1h1.4v1.4h-1.4zM372.7 150.8h1.4v1.4h-1.4zM387.6 150.7h1.4v1.4h-1.4zM388.7 150.9h1.4v1.4h-1.4zM400.2 150.4h1.4v1.4h-1.4zM369.6 151.9h1.4v1.4h-1.4zM375.3 152.0h1.4v1.4h-1.4zM378.6 152.3h1.4v1.4h-1.4zM372.9 153.2h1.4v1.4h-1.4zM380.1 153.7h1.4v1.4h-1.4zM384.7 153.5h1.4v1.4h-1.4zM393.1 153.6h1.4v1.4h-1.4zM378.8 155.2h1.4v1.4h-1.4zM379.7 154.7h1.4v1.4h-1.4zM381.4 155.2h1.4v1.4h-1.4zM383.2 154.7h1.4v1.4h-1.4zM390.5 155.2h1.4v1.4h-1.4zM367.0 156.4h1.4v1.4h-1.4zM384.4 156.5h1.4v1.4h-1.4zM389.8 156.3h1.4v1.4h-1.4zM364.3 158.0h1.4v1.4h-1.4zM380.1 157.8h1.4v1.4h-1.4zM378.4 159.0h1.4v1.4h-1.4zM361.3 160.6h1.4v1.4h-1.4zM366.7 160.7h1.4v1.4h-1.4zM375.4 160.9h1.4v1.4h-1.4zM369.5 162.4h1.4v1.4h-1.4zM362.3 163.5h1.4v1.4h-1.4zM363.9 163.4h1.4v1.4h-1.4zM375.4 163.5h1.4v1.4h-1.4zM382.8 163.6h1.4v1.4h-1.4zM389.0 163.9h1.4v1.4h-1.4zM357.1 164.8h1.4v1.4h-1.4zM358.6 165.4h1.4v1.4h-1.4zM361.2 165.3h1.4v1.4h-1.4zM371.3 164.7h1.4v1.4h-1.4zM378.4 165.2h1.4v1.4h-1.4zM358.3 166.2h1.4v1.4h-1.4zM368.7 166.2h1.4v1.4h-1.4zM374.5 166.8h1.4v1.4h-1.4zM371.1 168.2h1.4v1.4h-1.4zM377.0 167.8h1.4v1.4h-1.4zM356.9 169.7h1.4v1.4h-1.4zM365.6 169.5h1.4v1.4h-1.4zM355.1 170.6h1.4v1.4h-1.4zM365.7 171.1h1.4v1.4h-1.4zM367.1 170.5h1.4v1.4h-1.4zM368.1 172.3h1.4v1.4h-1.4zM374.5 172.4h1.4v1.4h-1.4z"/>
<path fill="#6f9fd0" d="M396.0 91.6h1.6v1.6h-1.6zM386.7 92.8h1.6v1.6h-1.6zM416.9 123.3h1.6v1.6h-1.6zM362.5 90.0h1.6v1.6h-1.6zM380.3 92.8h1.6v1.6h-1.6zM337.9 105.5h1.6v1.6h-1.6zM416.8 156.8h1.6v1.6h-1.6zM351.8 94.7h1.6v1.6h-1.6zM342.2 98.6h1.6v1.6h-1.6zM349.9 93.6h1.6v1.6h-1.6zM370.1 88.8h1.6v1.6h-1.6zM422.5 129.3h1.6v1.6h-1.6zM407.8 112.7h1.6v1.6h-1.6zM412.0 110.0h1.6v1.6h-1.6zM413.7 159.5h1.6v1.6h-1.6zM317.9 112.3h1.6v1.6h-1.6zM420.2 116.0h1.6v1.6h-1.6zM411.4 105.8h1.6v1.6h-1.6zM401.9 97.0h1.6v1.6h-1.6zM388.3 171.9h1.6v1.6h-1.6z"/>
<path d="M310.50 171.22H346.50V173.30H310.50ZM310.50 169.13H346.50V171.22H310.50ZM310.50 167.05H346.50V169.13H310.50ZM310.50 164.96H348.90V167.05H310.50ZM310.50 162.88H348.90V164.96H310.50ZM310.50 160.79H348.90V162.88H310.50ZM310.50 158.71H351.30V160.79H310.50ZM310.50 156.62H353.70V158.71H310.50ZM310.50 154.54H353.70V156.62H310.50ZM312.90 152.45H356.10V154.54H312.90ZM312.90 150.37H358.50V152.45H312.90ZM315.30 148.28H358.50V150.37H315.30ZM315.30 146.20H360.90V148.28H315.30ZM317.70 144.11H363.30V146.20H317.70ZM320.10 142.03H363.30V144.11H320.10ZM322.50 139.94H365.70V142.03H322.50ZM324.90 137.86H368.10V139.94H324.90ZM329.70 135.77H368.10V137.86H329.70ZM332.10 133.69H370.50V135.77H332.10ZM334.50 131.60H372.90V133.69H334.50ZM339.30 129.52H375.30V131.60H339.30ZM344.10 127.43H375.30V129.52H344.10ZM348.90 125.35H377.70V127.43H348.90ZM353.70 123.26H377.70V125.35H353.70ZM358.50 121.18H380.10V123.26H358.50ZM368.10 119.09H377.70V121.17H368.10Z" fill="url(#spk2)" shape-rendering="crispEdges"/>
<path d="M310.6 173.3C304.7 170.4 310.3 159.3 310.6 156.0C310.9 152.7 311.4 155.2 312.4 153.6C313.4 152.0 315.0 148.4 316.7 146.4C318.4 144.4 320.3 143.0 322.5 141.3C324.7 139.6 327.4 137.8 329.8 136.2C332.2 134.6 334.3 133.2 337.0 131.8C339.7 130.4 342.9 128.8 345.8 127.5C348.7 126.2 351.8 124.9 354.5 123.8C357.2 122.7 359.4 121.6 361.8 120.9C364.2 120.2 366.3 120.1 369.0 119.9C371.7 119.7 376.0 119.6 377.8 119.9C379.6 120.2 380.0 120.6 380.0 121.6C380.0 122.6 379.1 124.0 377.8 126.0C376.5 128.0 373.9 130.9 372.0 133.3C370.1 135.7 368.1 138.1 366.2 140.5C364.3 142.9 362.3 145.4 360.4 147.8C358.4 150.2 356.2 152.8 354.5 155.0C352.8 157.2 351.4 158.7 350.2 160.9C349.0 163.1 348.0 166.1 347.3 168.2C346.6 170.3 351.9 172.5 345.8 173.3C339.7 174.2 316.5 176.2 310.6 173.3Z" fill="none" stroke="#27a8e0" stroke-width="0.9"/>
<g clip-path="url(#cc1)">
<polygon points="312.0,156.0 316.8,149.1 323.6,145.7 331.8,143.0 341.4,139.6 351.0,135.5 359.1,132.7 367.3,134.1 364.6,142.3 357.7,150.5 350.9,157.3 344.1,162.7 338.6,168.2 335.9,173.3 311.0,173.3" fill="#1e2f86"/>
<polygon points="318.2,151.8 323.6,150.5 333.2,147.7 344.1,143.6 355.0,138.2 361.8,135.5 355.0,142.3 345.5,150.5 337.3,155.9 330.5,161.4 323.6,164.1 318.2,161.4 315.5,155.9" fill="#25399a"/>
<polygon points="311.0,168.0 320.0,167.5 334.0,168.0 338.0,170.0 338.0,173.3 311.0,173.3" fill="#2f8fc4"/>
<polygon points="313.0,169.6 318.0,169.3 330.0,169.5 335.0,170.5 335.0,173.0 313.0,173.0" fill="#41b6c4"/>
<polygon points="314.0,169.8 329.0,169.8 330.0,172.8 314.0,172.8" fill="#7fcdbb"/>
<polygon points="316.0,169.9 324.0,169.9 324.5,172.7 316.0,172.7" fill="#e6f4ad"/>
<polygon points="310.5,150.0 312.0,150.0 312.0,170.0 310.5,170.0" fill="#41b6c4"/>
</g>
<path class="ct" d="M312.0 156.0C312.8 154.8 314.9 150.8 316.8 149.1C318.7 147.4 321.1 146.7 323.6 145.7C326.1 144.7 328.8 144.0 331.8 143.0C334.8 142.0 338.2 140.8 341.4 139.6C344.6 138.3 348.1 136.7 351.0 135.5C353.9 134.3 356.4 132.9 359.1 132.7C361.8 132.5 366.4 132.5 367.3 134.1C368.2 135.7 366.2 139.6 364.6 142.3C363.0 145.0 360.0 148.0 357.7 150.5C355.4 153.0 353.2 155.3 350.9 157.3C348.6 159.3 346.2 160.9 344.1 162.7C342.1 164.5 340.0 166.4 338.6 168.2C337.2 170.0 336.3 172.5 335.9 173.3"/>
<path class="ct" d="M318.2 151.8C319.6 150.9 321.1 151.2 323.6 150.5C326.1 149.8 329.8 148.8 333.2 147.7C336.6 146.5 340.5 145.2 344.1 143.6C347.7 142.0 352.1 139.5 355.0 138.2C357.9 136.8 361.8 134.8 361.8 135.5C361.8 136.2 357.7 139.8 355.0 142.3C352.3 144.8 348.4 148.2 345.5 150.5C342.6 152.8 339.8 154.1 337.3 155.9C334.8 157.7 332.8 160.0 330.5 161.4C328.2 162.8 325.7 164.1 323.6 164.1C321.6 164.1 319.6 162.8 318.2 161.4C316.8 160.0 315.5 157.5 315.5 155.9C315.5 154.3 316.8 152.7 318.2 151.8Z"/>
<path class="ct" d="M314.1 160.0C314.8 158.2 317.9 155.9 319.5 155.9C321.1 155.9 323.1 158.2 323.6 160.0C324.1 161.8 323.7 165.7 322.3 166.8C320.9 167.9 316.9 167.9 315.5 166.8C314.1 165.7 313.4 161.8 314.1 160.0Z"/>
<line x1="310.5" y1="173.3" x2="502.5" y2="6.5" stroke="#000" stroke-width="1.1" stroke-dasharray="2.5,1.5"/>
<line x1="310.5" y1="169.9" x2="502.5" y2="52.3" stroke="#f0302c" stroke-width="1.2"/>
</g>
<rect x="310.5" y="6.5" width="192.00" height="166.80" fill="none" stroke="#4a4a4a" stroke-width="1.05"/>
<path d="M310.50 173.3v1.8M310.5 173.30h-1.8M342.50 173.3v1.8M310.5 145.50h-1.8M374.50 173.3v1.8M310.5 117.70h-1.8M406.50 173.3v1.8M310.5 89.90h-1.8M438.50 173.3v1.8M310.5 62.10h-1.8M470.50 173.3v1.8M310.5 34.30h-1.8M502.50 173.3v1.8M310.5 6.50h-1.8" stroke="#333" stroke-width="0.8"/>
<text class="tk" x="310.50" y="181.80" text-anchor="middle">0</text>
<text class="tk" x="307.90" y="175.90" text-anchor="end">0</text>
<text class="tk" x="342.50" y="181.80" text-anchor="middle">50</text>
<text class="tk" x="307.90" y="148.10" text-anchor="end">50</text>
<text class="tk" x="374.50" y="181.80" text-anchor="middle">100</text>
<text class="tk" x="307.90" y="120.30" text-anchor="end">100</text>
<text class="tk" x="406.50" y="181.80" text-anchor="middle">150</text>
<text class="tk" x="307.90" y="92.50" text-anchor="end">150</text>
<text class="tk" x="438.50" y="181.80" text-anchor="middle">200</text>
<text class="tk" x="307.90" y="64.70" text-anchor="end">200</text>
<text class="tk" x="470.50" y="181.80" text-anchor="middle">250</text>
<text class="tk" x="307.90" y="36.90" text-anchor="end">250</text>
<text class="tk" x="502.50" y="181.80" text-anchor="middle">300</text>
<text class="tk" x="307.90" y="9.10" text-anchor="end">300</text>
<text class="lb" x="406.50" y="192.10" text-anchor="middle">Estimated (<tspan font-style="italic">μg</tspan>/<tspan font-style="italic">m</tspan><tspan font-size="6.2px" dy="-3.6">3</tspan><tspan dy="3.6">)</tspan></text>
<text class="lb" transform="translate(289.20 89.90) rotate(-90)" x="0" y="3.2" text-anchor="middle">Observed (<tspan font-style="italic">μg</tspan>/<tspan font-style="italic">m</tspan><tspan font-size="6.2px" dy="-3.6">3</tspan><tspan dy="3.6">)</tspan></text>
<line x1="318.0" y1="17.5" x2="335.0" y2="17.5" stroke="#f0302c" stroke-width="1.2"/>
<line x1="318.0" y1="29.8" x2="335.0" y2="29.8" stroke="#000" stroke-width="1.1" stroke-dasharray="2.5,1.5"/>
<text class="lg" x="342.0" y="20.8">Regression Line</text>
<text class="lg" x="342.0" y="32.9">1:1 Line</text>
<rect x="438.50" y="120.00" width="61" height="46.5" fill="#fff"/>
<text class="st" x="496.70" y="128.80" text-anchor="end"><tspan font-style="italic">BIAS</tspan><tspan dx="2.3">=</tspan><tspan dx="2.1">7.16</tspan></text>
<text class="st" x="496.70" y="140.30" text-anchor="end"><tspan font-style="italic">RMSE</tspan><tspan dx="2.3">=</tspan><tspan dx="2.1">19.58</tspan></text>
<text class="st" x="496.70" y="151.40" text-anchor="end"><tspan font-style="italic">IOA</tspan><tspan dx="2.3">=</tspan><tspan dx="2.1">0.84</tspan></text>
<text class="st" x="496.70" y="162.40" text-anchor="end"><tspan font-style="italic">COR</tspan><tspan dx="2.3">=</tspan><tspan dx="2.1">0.75</tspan></text>
<rect x="518.9" y="6.5" width="8.60" height="166.80" fill="url(#cm)" stroke="#666" stroke-width="0.5"/>
<text class="cbl" x="531.00" y="175.00">0</text>
<text class="cbl" x="531.00" y="153.20">200</text>
<text class="cbl" x="531.00" y="131.39">400</text>
<text class="cbl" x="531.00" y="109.59">600</text>
<text class="cbl" x="531.00" y="87.78">800</text>
<text class="cbl" x="531.00" y="65.98">1000</text>
<text class="cbl" x="531.00" y="44.18">1200</text>
<text class="cbl" x="531.00" y="22.37">1400</text>
<path d="M527.5 173.30h1.5M527.5 151.50h1.5M527.5 129.69h1.5M527.5 107.89h1.5M527.5 86.08h1.5M527.5 64.28h1.5M527.5 42.48h1.5M527.5 20.67h1.5" stroke="#444" stroke-width="0.5"/>
<path d="M64.62 212.0V378.8M32.5 351.00H225.2M96.73 212.0V378.8M32.5 323.20H225.2M128.85 212.0V378.8M32.5 295.40H225.2M160.97 212.0V378.8M32.5 267.60H225.2M193.08 212.0V378.8M32.5 239.80H225.2" stroke="#eeeeee" stroke-width="0.8" fill="none"/>
<g clip-path="url(#cl2)">
<polygon points="33.0,378.3 87.3,378.3 88.2,376.6 88.2,376.5 88.2,376.5 88.2,376.5 88.3,376.4 88.3,376.4 88.3,376.4 89.8,375.5 90.4,375.0 91.0,374.5 91.6,373.9 92.1,373.3 92.5,372.7 92.9,372.0 93.2,371.2 96.7,361.7 96.9,361.1 97.1,360.4 97.2,359.6 98.4,347.9 98.4,347.0 98.4,331.1 98.4,331.1 99.4,324.0 99.4,324.0 101.7,316.3 101.9,315.5 102.0,314.7 102.0,313.9 102.0,310.6 101.6,305.3 101.3,304.7 100.9,303.9 100.5,303.2 100.0,302.5 99.4,301.9 98.7,301.3 98.0,300.8 97.3,300.4 95.4,299.4 95.3,299.4 94.3,298.7 94.2,298.7 94.2,298.7 94.2,298.6 94.1,298.6 94.1,298.5 92.8,295.9 92.4,295.2 91.9,294.5 91.4,293.9 90.8,293.3 90.2,292.8 89.5,292.4 88.8,292.0 88.0,291.7 87.2,291.5 84.9,290.9 84.1,290.7 83.3,290.6 82.5,290.6 81.7,290.7 80.9,290.8 80.1,291.0 79.4,291.3 78.7,291.7 78.0,292.1 74.5,294.5 74.4,294.5 68.6,298.6 68.0,299.0 62.2,303.8 62.2,303.8 56.7,308.0 56.7,308.1 51.5,311.1 51.5,311.2 45.9,314.0 44.8,314.6 40.4,317.7 40.3,317.8 40.3,317.8 40.2,317.8 40.2,317.8 34.3,319.2 34.3,319.2 34.2,319.2 34.2,319.2 34.1,319.2 34.1,319.2 34.0,319.1 33.1,319.0 33.0,319.0 33.0,378.3" fill="url(#spk)"/>
<path fill="#6fa5d9" d="M53.4 270.2h1.4v1.4h-1.4zM52.2 272.8h1.4v1.4h-1.4zM60.8 273.0h1.4v1.4h-1.4zM51.8 274.1h1.4v1.4h-1.4zM58.3 274.5h1.4v1.4h-1.4zM56.4 275.9h1.4v1.4h-1.4zM83.8 277.1h1.4v1.4h-1.4zM61.0 278.4h1.4v1.4h-1.4zM63.8 278.3h1.4v1.4h-1.4zM79.5 278.6h1.4v1.4h-1.4zM43.4 279.7h1.4v1.4h-1.4zM46.4 280.1h1.4v1.4h-1.4zM74.0 279.9h1.4v1.4h-1.4zM46.4 282.7h1.4v1.4h-1.4zM59.2 282.7h1.4v1.4h-1.4zM69.9 283.0h1.4v1.4h-1.4zM79.9 282.7h1.4v1.4h-1.4zM93.1 283.2h1.4v1.4h-1.4zM45.2 284.7h1.4v1.4h-1.4zM69.4 284.3h1.4v1.4h-1.4zM75.4 284.3h1.4v1.4h-1.4zM79.7 284.2h1.4v1.4h-1.4zM82.5 284.7h1.4v1.4h-1.4zM48.1 285.8h1.4v1.4h-1.4zM57.6 286.0h1.4v1.4h-1.4zM66.6 285.5h1.4v1.4h-1.4zM68.0 286.0h1.4v1.4h-1.4zM72.6 286.2h1.4v1.4h-1.4zM73.9 286.0h1.4v1.4h-1.4zM85.8 286.0h1.4v1.4h-1.4zM91.6 285.9h1.4v1.4h-1.4zM42.0 287.5h1.4v1.4h-1.4zM52.0 287.4h1.4v1.4h-1.4zM53.8 287.5h1.4v1.4h-1.4zM58.0 287.3h1.4v1.4h-1.4zM68.0 287.3h1.4v1.4h-1.4zM82.5 287.6h1.4v1.4h-1.4zM85.3 287.4h1.4v1.4h-1.4zM40.7 288.9h1.4v1.4h-1.4zM43.6 289.0h1.4v1.4h-1.4zM63.7 288.6h1.4v1.4h-1.4zM84.1 288.8h1.4v1.4h-1.4zM94.4 288.5h1.4v1.4h-1.4zM39.2 290.3h1.4v1.4h-1.4zM43.4 290.0h1.4v1.4h-1.4zM49.5 290.4h1.4v1.4h-1.4zM59.2 290.3h1.4v1.4h-1.4zM66.9 290.1h1.4v1.4h-1.4zM68.1 290.2h1.4v1.4h-1.4zM69.3 290.5h1.4v1.4h-1.4zM71.0 290.1h1.4v1.4h-1.4zM79.7 290.4h1.4v1.4h-1.4zM37.3 291.6h1.4v1.4h-1.4zM57.9 291.4h1.4v1.4h-1.4zM65.2 291.9h1.4v1.4h-1.4zM75.6 291.6h1.4v1.4h-1.4zM49.0 293.3h1.4v1.4h-1.4zM53.4 293.3h1.4v1.4h-1.4zM59.1 293.3h1.4v1.4h-1.4zM64.9 293.0h1.4v1.4h-1.4zM96.0 293.1h1.4v1.4h-1.4zM44.7 294.4h1.4v1.4h-1.4zM63.7 294.7h1.4v1.4h-1.4zM68.2 294.3h1.4v1.4h-1.4zM69.6 294.3h1.4v1.4h-1.4zM72.3 294.7h1.4v1.4h-1.4zM98.2 294.6h1.4v1.4h-1.4zM40.6 296.1h1.4v1.4h-1.4zM47.6 296.0h1.4v1.4h-1.4zM56.6 296.2h1.4v1.4h-1.4zM61.0 295.7h1.4v1.4h-1.4zM62.2 296.3h1.4v1.4h-1.4zM67.8 296.1h1.4v1.4h-1.4zM35.0 297.4h1.4v1.4h-1.4zM36.0 297.3h1.4v1.4h-1.4zM37.9 297.6h1.4v1.4h-1.4zM40.5 297.7h1.4v1.4h-1.4zM46.5 297.1h1.4v1.4h-1.4zM51.0 297.2h1.4v1.4h-1.4zM52.5 297.4h1.4v1.4h-1.4zM56.4 297.1h1.4v1.4h-1.4zM60.9 297.1h1.4v1.4h-1.4zM65.0 297.6h1.4v1.4h-1.4zM66.7 297.6h1.4v1.4h-1.4zM34.5 299.2h1.4v1.4h-1.4zM44.6 299.2h1.4v1.4h-1.4zM47.5 298.9h1.4v1.4h-1.4zM56.5 299.1h1.4v1.4h-1.4zM95.8 298.6h1.4v1.4h-1.4zM96.9 299.2h1.4v1.4h-1.4zM37.9 300.6h1.4v1.4h-1.4zM39.0 300.1h1.4v1.4h-1.4zM40.8 300.1h1.4v1.4h-1.4zM47.8 300.1h1.4v1.4h-1.4zM56.7 300.3h1.4v1.4h-1.4zM63.8 300.1h1.4v1.4h-1.4zM39.0 302.1h1.4v1.4h-1.4zM47.6 301.5h1.4v1.4h-1.4zM50.5 302.0h1.4v1.4h-1.4zM53.4 301.7h1.4v1.4h-1.4zM55.1 301.7h1.4v1.4h-1.4zM59.1 301.8h1.4v1.4h-1.4zM44.8 303.3h1.4v1.4h-1.4zM46.6 302.9h1.4v1.4h-1.4zM55.4 303.3h1.4v1.4h-1.4zM36.5 304.5h1.4v1.4h-1.4zM38.8 304.9h1.4v1.4h-1.4zM40.5 304.4h1.4v1.4h-1.4zM50.7 304.8h1.4v1.4h-1.4zM58.0 304.4h1.4v1.4h-1.4zM46.3 306.4h1.4v1.4h-1.4zM49.1 306.1h1.4v1.4h-1.4zM50.6 306.2h1.4v1.4h-1.4zM39.2 307.4h1.4v1.4h-1.4zM40.8 307.9h1.4v1.4h-1.4zM52.4 307.8h1.4v1.4h-1.4zM54.9 307.9h1.4v1.4h-1.4zM101.1 307.9h1.4v1.4h-1.4zM37.9 309.2h1.4v1.4h-1.4zM45.0 308.9h1.4v1.4h-1.4zM46.5 310.7h1.4v1.4h-1.4zM35.0 312.0h1.4v1.4h-1.4zM36.0 312.2h1.4v1.4h-1.4zM40.7 311.7h1.4v1.4h-1.4zM101.8 311.9h1.4v1.4h-1.4zM39.2 313.6h1.4v1.4h-1.4zM40.3 313.1h1.4v1.4h-1.4zM42.0 313.1h1.4v1.4h-1.4zM101.3 324.9h1.4v1.4h-1.4zM101.3 329.6h1.4v1.4h-1.4zM98.3 332.2h1.4v1.4h-1.4zM102.6 334.9h1.4v1.4h-1.4zM98.5 336.4h1.4v1.4h-1.4zM99.7 336.9h1.4v1.4h-1.4zM100.3 338.4h1.4v1.4h-1.4zM101.1 339.5h1.4v1.4h-1.4zM103.0 340.8h1.4v1.4h-1.4zM105.6 342.6h1.4v1.4h-1.4zM102.8 343.7h1.4v1.4h-1.4zM101.2 347.9h1.4v1.4h-1.4zM100.3 349.6h1.4v1.4h-1.4zM96.9 353.7h1.4v1.4h-1.4zM98.4 353.9h1.4v1.4h-1.4zM99.8 353.8h1.4v1.4h-1.4zM97.0 355.1h1.4v1.4h-1.4zM101.5 355.6h1.4v1.4h-1.4zM103.2 356.8h1.4v1.4h-1.4zM97.3 361.5h1.4v1.4h-1.4zM96.0 364.4h1.4v1.4h-1.4zM96.8 364.0h1.4v1.4h-1.4zM96.9 365.6h1.4v1.4h-1.4zM91.2 372.6h1.4v1.4h-1.4zM92.8 373.1h1.4v1.4h-1.4zM89.7 374.2h1.4v1.4h-1.4zM88.2 376.0h1.4v1.4h-1.4zM91.5 377.4h1.4v1.4h-1.4z"/>
<path fill="#7fb1de" d="M59.6 270.1h1.4v1.4h-1.4zM59.3 277.4h1.4v1.4h-1.4zM60.7 276.8h1.4v1.4h-1.4zM65.0 277.1h1.4v1.4h-1.4zM66.4 277.4h1.4v1.4h-1.4zM49.5 278.5h1.4v1.4h-1.4zM52.1 280.2h1.4v1.4h-1.4zM65.4 280.2h1.4v1.4h-1.4zM67.8 280.1h1.4v1.4h-1.4zM80.0 280.4h1.4v1.4h-1.4zM49.2 281.4h1.4v1.4h-1.4zM55.2 281.5h1.4v1.4h-1.4zM63.7 281.6h1.4v1.4h-1.4zM65.3 281.6h1.4v1.4h-1.4zM54.7 283.0h1.4v1.4h-1.4zM66.5 283.3h1.4v1.4h-1.4zM74.1 282.8h1.4v1.4h-1.4zM75.6 283.2h1.4v1.4h-1.4zM78.4 283.0h1.4v1.4h-1.4zM82.5 283.0h1.4v1.4h-1.4zM62.1 284.3h1.4v1.4h-1.4zM64.0 284.2h1.4v1.4h-1.4zM68.1 284.3h1.4v1.4h-1.4zM46.5 285.6h1.4v1.4h-1.4zM56.7 285.9h1.4v1.4h-1.4zM61.0 286.1h1.4v1.4h-1.4zM63.5 285.6h1.4v1.4h-1.4zM69.3 286.0h1.4v1.4h-1.4zM75.3 285.8h1.4v1.4h-1.4zM39.1 287.6h1.4v1.4h-1.4zM47.5 287.4h1.4v1.4h-1.4zM59.2 287.5h1.4v1.4h-1.4zM61.0 287.0h1.4v1.4h-1.4zM69.7 287.1h1.4v1.4h-1.4zM81.4 287.0h1.4v1.4h-1.4zM87.0 287.2h1.4v1.4h-1.4zM88.7 287.0h1.4v1.4h-1.4zM91.6 287.2h1.4v1.4h-1.4zM59.2 288.9h1.4v1.4h-1.4zM60.7 289.0h1.4v1.4h-1.4zM76.6 288.5h1.4v1.4h-1.4zM78.1 288.6h1.4v1.4h-1.4zM88.7 288.6h1.4v1.4h-1.4zM40.5 289.9h1.4v1.4h-1.4zM45.1 290.5h1.4v1.4h-1.4zM56.5 290.1h1.4v1.4h-1.4zM60.6 290.3h1.4v1.4h-1.4zM96.9 290.0h1.4v1.4h-1.4zM39.3 291.4h1.4v1.4h-1.4zM41.9 291.6h1.4v1.4h-1.4zM46.4 291.5h1.4v1.4h-1.4zM49.3 291.5h1.4v1.4h-1.4zM53.4 291.8h1.4v1.4h-1.4zM63.5 291.4h1.4v1.4h-1.4zM66.3 291.6h1.4v1.4h-1.4zM68.4 291.8h1.4v1.4h-1.4zM72.7 291.9h1.4v1.4h-1.4zM76.6 291.6h1.4v1.4h-1.4zM97.0 291.6h1.4v1.4h-1.4zM60.6 293.3h1.4v1.4h-1.4zM94.1 293.3h1.4v1.4h-1.4zM96.8 293.4h1.4v1.4h-1.4zM100.3 293.0h1.4v1.4h-1.4zM37.5 294.5h1.4v1.4h-1.4zM40.6 294.4h1.4v1.4h-1.4zM47.5 294.9h1.4v1.4h-1.4zM54.7 294.4h1.4v1.4h-1.4zM59.2 294.4h1.4v1.4h-1.4zM66.8 294.8h1.4v1.4h-1.4zM92.4 294.9h1.4v1.4h-1.4zM99.7 294.4h1.4v1.4h-1.4zM33.1 296.2h1.4v1.4h-1.4zM36.5 295.9h1.4v1.4h-1.4zM54.9 296.0h1.4v1.4h-1.4zM65.2 295.7h1.4v1.4h-1.4zM69.8 296.3h1.4v1.4h-1.4zM94.5 296.3h1.4v1.4h-1.4zM95.8 295.8h1.4v1.4h-1.4zM49.5 297.7h1.4v1.4h-1.4zM53.4 297.2h1.4v1.4h-1.4zM94.2 297.3h1.4v1.4h-1.4zM40.6 298.9h1.4v1.4h-1.4zM66.7 298.6h1.4v1.4h-1.4zM34.9 300.0h1.4v1.4h-1.4zM50.5 300.3h1.4v1.4h-1.4zM62.3 300.3h1.4v1.4h-1.4zM46.1 301.8h1.4v1.4h-1.4zM101.7 301.5h1.4v1.4h-1.4zM37.9 303.2h1.4v1.4h-1.4zM56.7 303.4h1.4v1.4h-1.4zM42.3 304.9h1.4v1.4h-1.4zM43.1 304.8h1.4v1.4h-1.4zM59.4 304.6h1.4v1.4h-1.4zM101.2 304.5h1.4v1.4h-1.4zM41.8 306.5h1.4v1.4h-1.4zM43.7 306.1h1.4v1.4h-1.4zM55.0 306.4h1.4v1.4h-1.4zM37.8 307.5h1.4v1.4h-1.4zM46.1 307.4h1.4v1.4h-1.4zM49.1 307.6h1.4v1.4h-1.4zM53.8 307.8h1.4v1.4h-1.4zM39.1 309.1h1.4v1.4h-1.4zM42.3 309.2h1.4v1.4h-1.4zM43.1 308.8h1.4v1.4h-1.4zM46.4 308.8h1.4v1.4h-1.4zM47.6 308.9h1.4v1.4h-1.4zM40.4 310.4h1.4v1.4h-1.4zM50.9 310.8h1.4v1.4h-1.4zM33.6 314.5h1.4v1.4h-1.4zM35.0 314.7h1.4v1.4h-1.4zM40.7 314.8h1.4v1.4h-1.4zM42.0 314.7h1.4v1.4h-1.4zM39.3 316.5h1.4v1.4h-1.4zM103.1 316.5h1.4v1.4h-1.4zM101.2 317.8h1.4v1.4h-1.4zM103.1 317.4h1.4v1.4h-1.4zM101.5 319.5h1.4v1.4h-1.4zM101.3 322.1h1.4v1.4h-1.4zM99.8 323.9h1.4v1.4h-1.4zM98.3 325.1h1.4v1.4h-1.4zM100.3 324.8h1.4v1.4h-1.4zM103.0 325.3h1.4v1.4h-1.4zM98.2 326.3h1.4v1.4h-1.4zM98.4 327.9h1.4v1.4h-1.4zM100.1 330.6h1.4v1.4h-1.4zM102.7 334.0h1.4v1.4h-1.4zM101.8 335.0h1.4v1.4h-1.4zM108.8 335.4h1.4v1.4h-1.4zM102.9 336.6h1.4v1.4h-1.4zM98.5 339.5h1.4v1.4h-1.4zM99.7 343.8h1.4v1.4h-1.4zM101.6 343.7h1.4v1.4h-1.4zM98.3 345.0h1.4v1.4h-1.4zM98.8 347.1h1.4v1.4h-1.4zM100.3 348.1h1.4v1.4h-1.4zM99.8 355.7h1.4v1.4h-1.4zM95.3 366.7h1.4v1.4h-1.4zM90.2 375.6h1.4v1.4h-1.4zM91.1 375.7h1.4v1.4h-1.4zM88.2 377.1h1.4v1.4h-1.4z"/>
<path fill="#629dd4" d="M53.4 271.1h1.4v1.4h-1.4zM59.1 271.4h1.4v1.4h-1.4zM63.4 274.5h1.4v1.4h-1.4zM58.0 275.8h1.4v1.4h-1.4zM50.4 277.1h1.4v1.4h-1.4zM55.3 277.2h1.4v1.4h-1.4zM53.8 278.4h1.4v1.4h-1.4zM56.3 280.1h1.4v1.4h-1.4zM63.5 280.3h1.4v1.4h-1.4zM71.2 280.3h1.4v1.4h-1.4zM51.8 281.2h1.4v1.4h-1.4zM71.0 281.7h1.4v1.4h-1.4zM72.3 281.7h1.4v1.4h-1.4zM81.1 281.4h1.4v1.4h-1.4zM52.5 282.9h1.4v1.4h-1.4zM56.6 282.8h1.4v1.4h-1.4zM62.2 282.8h1.4v1.4h-1.4zM65.3 282.8h1.4v1.4h-1.4zM67.9 282.8h1.4v1.4h-1.4zM76.7 282.7h1.4v1.4h-1.4zM43.8 284.6h1.4v1.4h-1.4zM52.0 284.5h1.4v1.4h-1.4zM53.7 284.4h1.4v1.4h-1.4zM73.9 284.6h1.4v1.4h-1.4zM89.6 284.5h1.4v1.4h-1.4zM92.9 284.3h1.4v1.4h-1.4zM65.0 285.7h1.4v1.4h-1.4zM77.0 286.1h1.4v1.4h-1.4zM80.8 285.8h1.4v1.4h-1.4zM34.7 287.6h1.4v1.4h-1.4zM56.7 287.1h1.4v1.4h-1.4zM63.9 287.5h1.4v1.4h-1.4zM84.4 287.6h1.4v1.4h-1.4zM89.9 287.1h1.4v1.4h-1.4zM36.4 288.6h1.4v1.4h-1.4zM55.2 288.6h1.4v1.4h-1.4zM65.0 289.0h1.4v1.4h-1.4zM72.4 288.5h1.4v1.4h-1.4zM74.0 288.8h1.4v1.4h-1.4zM82.8 288.6h1.4v1.4h-1.4zM86.6 289.0h1.4v1.4h-1.4zM89.7 288.6h1.4v1.4h-1.4zM91.3 288.9h1.4v1.4h-1.4zM92.6 288.7h1.4v1.4h-1.4zM46.0 290.2h1.4v1.4h-1.4zM52.1 290.1h1.4v1.4h-1.4zM53.9 290.3h1.4v1.4h-1.4zM62.3 290.2h1.4v1.4h-1.4zM65.3 289.9h1.4v1.4h-1.4zM88.4 290.5h1.4v1.4h-1.4zM94.1 290.5h1.4v1.4h-1.4zM33.1 291.9h1.4v1.4h-1.4zM34.9 291.9h1.4v1.4h-1.4zM55.1 291.3h1.4v1.4h-1.4zM62.3 291.4h1.4v1.4h-1.4zM69.8 291.6h1.4v1.4h-1.4zM70.9 291.6h1.4v1.4h-1.4zM91.3 291.7h1.4v1.4h-1.4zM98.7 291.5h1.4v1.4h-1.4zM50.6 293.0h1.4v1.4h-1.4zM62.0 293.2h1.4v1.4h-1.4zM92.5 292.9h1.4v1.4h-1.4zM98.6 293.1h1.4v1.4h-1.4zM39.1 294.3h1.4v1.4h-1.4zM49.3 294.9h1.4v1.4h-1.4zM52.4 294.6h1.4v1.4h-1.4zM53.5 294.2h1.4v1.4h-1.4zM62.6 294.6h1.4v1.4h-1.4zM34.7 295.8h1.4v1.4h-1.4zM51.0 296.2h1.4v1.4h-1.4zM58.2 295.8h1.4v1.4h-1.4zM96.9 296.3h1.4v1.4h-1.4zM44.8 297.7h1.4v1.4h-1.4zM48.1 297.2h1.4v1.4h-1.4zM62.4 297.4h1.4v1.4h-1.4zM68.4 297.3h1.4v1.4h-1.4zM49.2 298.7h1.4v1.4h-1.4zM50.9 298.6h1.4v1.4h-1.4zM52.1 298.9h1.4v1.4h-1.4zM53.9 298.8h1.4v1.4h-1.4zM63.7 298.6h1.4v1.4h-1.4zM43.3 300.4h1.4v1.4h-1.4zM55.1 300.2h1.4v1.4h-1.4zM98.4 300.6h1.4v1.4h-1.4zM37.8 301.8h1.4v1.4h-1.4zM62.1 301.7h1.4v1.4h-1.4zM100.2 301.8h1.4v1.4h-1.4zM38.8 303.0h1.4v1.4h-1.4zM43.6 303.3h1.4v1.4h-1.4zM52.4 302.9h1.4v1.4h-1.4zM44.8 304.7h1.4v1.4h-1.4zM46.6 304.7h1.4v1.4h-1.4zM47.8 304.7h1.4v1.4h-1.4zM49.2 304.7h1.4v1.4h-1.4zM52.0 304.6h1.4v1.4h-1.4zM34.7 305.9h1.4v1.4h-1.4zM38.9 306.1h1.4v1.4h-1.4zM40.6 306.3h1.4v1.4h-1.4zM53.9 306.2h1.4v1.4h-1.4zM56.4 305.9h1.4v1.4h-1.4zM42.3 307.9h1.4v1.4h-1.4zM43.5 307.7h1.4v1.4h-1.4zM47.7 307.3h1.4v1.4h-1.4zM50.7 307.7h1.4v1.4h-1.4zM49.1 309.4h1.4v1.4h-1.4zM49.1 310.2h1.4v1.4h-1.4zM41.9 311.7h1.4v1.4h-1.4zM47.5 312.0h1.4v1.4h-1.4zM36.4 314.7h1.4v1.4h-1.4zM39.0 314.6h1.4v1.4h-1.4zM33.3 317.5h1.4v1.4h-1.4zM34.8 317.5h1.4v1.4h-1.4zM101.5 320.3h1.4v1.4h-1.4zM107.5 322.3h1.4v1.4h-1.4zM102.7 323.3h1.4v1.4h-1.4zM99.9 326.1h1.4v1.4h-1.4zM100.1 327.9h1.4v1.4h-1.4zM101.5 332.1h1.4v1.4h-1.4zM103.1 332.6h1.4v1.4h-1.4zM101.7 333.7h1.4v1.4h-1.4zM99.8 335.3h1.4v1.4h-1.4zM107.5 337.8h1.4v1.4h-1.4zM101.8 340.6h1.4v1.4h-1.4zM101.7 342.1h1.4v1.4h-1.4zM102.6 342.3h1.4v1.4h-1.4zM98.6 344.1h1.4v1.4h-1.4zM100.2 345.6h1.4v1.4h-1.4zM102.6 348.5h1.4v1.4h-1.4zM99.7 359.8h1.4v1.4h-1.4zM95.4 362.9h1.4v1.4h-1.4zM95.6 365.8h1.4v1.4h-1.4zM98.4 369.8h1.4v1.4h-1.4z"/>
<path fill="#9cc5e8" d="M58.3 271.7h1.4v1.4h-1.4zM55.3 274.4h1.4v1.4h-1.4zM61.0 274.4h1.4v1.4h-1.4zM59.4 275.6h1.4v1.4h-1.4zM52.4 276.9h1.4v1.4h-1.4zM56.8 277.5h1.4v1.4h-1.4zM70.9 277.4h1.4v1.4h-1.4zM74.1 276.9h1.4v1.4h-1.4zM48.1 278.9h1.4v1.4h-1.4zM50.9 278.5h1.4v1.4h-1.4zM52.0 278.6h1.4v1.4h-1.4zM55.0 278.5h1.4v1.4h-1.4zM59.2 278.6h1.4v1.4h-1.4zM68.4 278.8h1.4v1.4h-1.4zM71.1 278.3h1.4v1.4h-1.4zM50.8 280.1h1.4v1.4h-1.4zM43.6 281.7h1.4v1.4h-1.4zM48.0 281.8h1.4v1.4h-1.4zM53.6 281.3h1.4v1.4h-1.4zM57.9 281.3h1.4v1.4h-1.4zM67.9 281.8h1.4v1.4h-1.4zM82.5 281.2h1.4v1.4h-1.4zM85.3 281.5h1.4v1.4h-1.4zM47.7 282.6h1.4v1.4h-1.4zM57.8 282.7h1.4v1.4h-1.4zM61.0 283.2h1.4v1.4h-1.4zM85.3 282.7h1.4v1.4h-1.4zM46.4 284.7h1.4v1.4h-1.4zM64.9 284.2h1.4v1.4h-1.4zM71.3 284.5h1.4v1.4h-1.4zM76.6 284.2h1.4v1.4h-1.4zM49.3 285.7h1.4v1.4h-1.4zM51.0 286.2h1.4v1.4h-1.4zM52.1 286.0h1.4v1.4h-1.4zM53.9 286.2h1.4v1.4h-1.4zM82.9 285.6h1.4v1.4h-1.4zM88.4 285.8h1.4v1.4h-1.4zM93.0 286.2h1.4v1.4h-1.4zM46.5 287.5h1.4v1.4h-1.4zM54.7 287.2h1.4v1.4h-1.4zM65.3 287.6h1.4v1.4h-1.4zM70.7 287.4h1.4v1.4h-1.4zM72.2 287.0h1.4v1.4h-1.4zM74.2 287.0h1.4v1.4h-1.4zM76.7 287.2h1.4v1.4h-1.4zM94.1 287.5h1.4v1.4h-1.4zM46.2 288.9h1.4v1.4h-1.4zM52.4 288.5h1.4v1.4h-1.4zM53.4 289.1h1.4v1.4h-1.4zM56.2 288.9h1.4v1.4h-1.4zM66.5 288.9h1.4v1.4h-1.4zM69.7 289.0h1.4v1.4h-1.4zM75.1 288.9h1.4v1.4h-1.4zM81.0 288.8h1.4v1.4h-1.4zM85.4 288.4h1.4v1.4h-1.4zM95.6 288.7h1.4v1.4h-1.4zM35.9 290.0h1.4v1.4h-1.4zM63.5 290.5h1.4v1.4h-1.4zM72.4 290.1h1.4v1.4h-1.4zM75.1 290.5h1.4v1.4h-1.4zM85.6 290.4h1.4v1.4h-1.4zM86.8 289.9h1.4v1.4h-1.4zM91.0 290.1h1.4v1.4h-1.4zM44.9 291.6h1.4v1.4h-1.4zM50.5 292.0h1.4v1.4h-1.4zM56.8 292.0h1.4v1.4h-1.4zM59.1 291.5h1.4v1.4h-1.4zM73.7 291.4h1.4v1.4h-1.4zM89.5 291.9h1.4v1.4h-1.4zM93.9 291.5h1.4v1.4h-1.4zM95.6 291.7h1.4v1.4h-1.4zM34.6 293.1h1.4v1.4h-1.4zM45.2 292.9h1.4v1.4h-1.4zM46.4 292.9h1.4v1.4h-1.4zM47.9 292.8h1.4v1.4h-1.4zM58.1 292.8h1.4v1.4h-1.4zM63.7 293.1h1.4v1.4h-1.4zM66.5 292.8h1.4v1.4h-1.4zM70.8 292.9h1.4v1.4h-1.4zM72.7 292.9h1.4v1.4h-1.4zM73.9 293.0h1.4v1.4h-1.4zM91.5 293.3h1.4v1.4h-1.4zM33.0 294.5h1.4v1.4h-1.4zM36.5 294.4h1.4v1.4h-1.4zM43.7 294.6h1.4v1.4h-1.4zM50.5 294.6h1.4v1.4h-1.4zM56.3 294.6h1.4v1.4h-1.4zM95.8 294.4h1.4v1.4h-1.4zM97.0 294.8h1.4v1.4h-1.4zM41.7 296.1h1.4v1.4h-1.4zM67.0 295.8h1.4v1.4h-1.4zM43.2 298.7h1.4v1.4h-1.4zM46.6 299.1h1.4v1.4h-1.4zM54.9 298.9h1.4v1.4h-1.4zM57.6 298.7h1.4v1.4h-1.4zM65.2 298.7h1.4v1.4h-1.4zM42.3 300.5h1.4v1.4h-1.4zM46.4 300.5h1.4v1.4h-1.4zM52.1 300.2h1.4v1.4h-1.4zM58.1 300.0h1.4v1.4h-1.4zM36.1 301.6h1.4v1.4h-1.4zM44.9 302.1h1.4v1.4h-1.4zM49.3 301.5h1.4v1.4h-1.4zM57.7 301.9h1.4v1.4h-1.4zM35.9 303.0h1.4v1.4h-1.4zM58.1 303.2h1.4v1.4h-1.4zM60.8 303.1h1.4v1.4h-1.4zM102.8 303.3h1.4v1.4h-1.4zM55.3 304.8h1.4v1.4h-1.4zM56.4 304.8h1.4v1.4h-1.4zM106.0 304.5h1.4v1.4h-1.4zM36.5 306.5h1.4v1.4h-1.4zM37.9 305.9h1.4v1.4h-1.4zM47.6 306.1h1.4v1.4h-1.4zM52.0 305.8h1.4v1.4h-1.4zM33.4 308.9h1.4v1.4h-1.4zM40.3 308.8h1.4v1.4h-1.4zM51.0 309.1h1.4v1.4h-1.4zM33.2 310.4h1.4v1.4h-1.4zM34.5 310.6h1.4v1.4h-1.4zM36.2 310.7h1.4v1.4h-1.4zM38.8 310.4h1.4v1.4h-1.4zM47.9 310.4h1.4v1.4h-1.4zM43.7 312.0h1.4v1.4h-1.4zM45.0 311.8h1.4v1.4h-1.4zM36.3 313.7h1.4v1.4h-1.4zM44.6 313.3h1.4v1.4h-1.4zM35.1 316.0h1.4v1.4h-1.4zM36.0 316.1h1.4v1.4h-1.4zM40.4 316.1h1.4v1.4h-1.4zM101.3 316.6h1.4v1.4h-1.4zM35.9 317.6h1.4v1.4h-1.4zM104.2 326.6h1.4v1.4h-1.4zM102.6 329.1h1.4v1.4h-1.4zM98.9 330.7h1.4v1.4h-1.4zM99.8 332.4h1.4v1.4h-1.4zM107.2 332.2h1.4v1.4h-1.4zM98.3 335.3h1.4v1.4h-1.4zM105.8 339.3h1.4v1.4h-1.4zM98.3 342.7h1.4v1.4h-1.4zM101.7 352.3h1.4v1.4h-1.4zM98.6 355.1h1.4v1.4h-1.4zM94.4 368.5h1.4v1.4h-1.4zM92.9 371.2h1.4v1.4h-1.4z"/>
<path fill="#8cbbe3" d="M57.7 272.6h1.4v1.4h-1.4zM53.8 274.3h1.4v1.4h-1.4zM58.1 276.8h1.4v1.4h-1.4zM62.3 277.0h1.4v1.4h-1.4zM46.5 278.8h1.4v1.4h-1.4zM65.3 278.5h1.4v1.4h-1.4zM66.9 278.7h1.4v1.4h-1.4zM69.5 278.7h1.4v1.4h-1.4zM74.2 278.8h1.4v1.4h-1.4zM49.1 280.0h1.4v1.4h-1.4zM54.9 279.8h1.4v1.4h-1.4zM58.1 280.0h1.4v1.4h-1.4zM66.6 279.9h1.4v1.4h-1.4zM44.7 281.8h1.4v1.4h-1.4zM56.3 281.7h1.4v1.4h-1.4zM60.9 281.4h1.4v1.4h-1.4zM66.6 281.3h1.4v1.4h-1.4zM69.3 281.2h1.4v1.4h-1.4zM73.8 281.3h1.4v1.4h-1.4zM51.0 282.7h1.4v1.4h-1.4zM71.2 283.0h1.4v1.4h-1.4zM72.2 283.0h1.4v1.4h-1.4zM84.3 282.6h1.4v1.4h-1.4zM39.0 284.1h1.4v1.4h-1.4zM55.2 284.6h1.4v1.4h-1.4zM58.0 284.2h1.4v1.4h-1.4zM61.0 284.2h1.4v1.4h-1.4zM66.5 284.6h1.4v1.4h-1.4zM72.5 284.3h1.4v1.4h-1.4zM78.6 284.6h1.4v1.4h-1.4zM81.2 284.2h1.4v1.4h-1.4zM84.2 284.5h1.4v1.4h-1.4zM59.2 285.7h1.4v1.4h-1.4zM79.9 286.1h1.4v1.4h-1.4zM84.2 286.0h1.4v1.4h-1.4zM89.7 285.8h1.4v1.4h-1.4zM66.6 287.0h1.4v1.4h-1.4zM78.4 287.6h1.4v1.4h-1.4zM79.7 287.5h1.4v1.4h-1.4zM41.9 288.6h1.4v1.4h-1.4zM50.7 288.5h1.4v1.4h-1.4zM62.4 288.5h1.4v1.4h-1.4zM37.6 290.2h1.4v1.4h-1.4zM47.6 290.1h1.4v1.4h-1.4zM50.5 290.3h1.4v1.4h-1.4zM73.7 290.2h1.4v1.4h-1.4zM76.9 289.9h1.4v1.4h-1.4zM78.4 290.1h1.4v1.4h-1.4zM90.1 289.9h1.4v1.4h-1.4zM95.7 290.0h1.4v1.4h-1.4zM92.8 291.7h1.4v1.4h-1.4zM38.0 293.2h1.4v1.4h-1.4zM55.0 292.9h1.4v1.4h-1.4zM56.6 293.4h1.4v1.4h-1.4zM67.8 293.3h1.4v1.4h-1.4zM69.3 292.9h1.4v1.4h-1.4zM46.7 294.7h1.4v1.4h-1.4zM58.1 294.8h1.4v1.4h-1.4zM65.2 294.2h1.4v1.4h-1.4zM70.8 294.7h1.4v1.4h-1.4zM94.4 294.5h1.4v1.4h-1.4zM49.5 296.1h1.4v1.4h-1.4zM59.4 296.2h1.4v1.4h-1.4zM93.0 296.1h1.4v1.4h-1.4zM42.2 297.6h1.4v1.4h-1.4zM59.3 297.8h1.4v1.4h-1.4zM63.8 297.3h1.4v1.4h-1.4zM95.5 297.2h1.4v1.4h-1.4zM97.3 297.6h1.4v1.4h-1.4zM98.5 297.3h1.4v1.4h-1.4zM100.1 297.2h1.4v1.4h-1.4zM62.1 299.1h1.4v1.4h-1.4zM36.0 300.3h1.4v1.4h-1.4zM49.1 300.0h1.4v1.4h-1.4zM53.3 300.6h1.4v1.4h-1.4zM60.6 300.5h1.4v1.4h-1.4zM41.7 302.0h1.4v1.4h-1.4zM43.2 301.7h1.4v1.4h-1.4zM52.3 301.6h1.4v1.4h-1.4zM56.7 301.9h1.4v1.4h-1.4zM33.0 303.5h1.4v1.4h-1.4zM40.9 303.1h1.4v1.4h-1.4zM42.0 303.2h1.4v1.4h-1.4zM47.5 303.5h1.4v1.4h-1.4zM50.6 302.9h1.4v1.4h-1.4zM53.3 303.1h1.4v1.4h-1.4zM59.5 303.0h1.4v1.4h-1.4zM34.9 304.6h1.4v1.4h-1.4zM44.6 306.5h1.4v1.4h-1.4zM101.3 306.2h1.4v1.4h-1.4zM36.0 307.5h1.4v1.4h-1.4zM44.8 307.9h1.4v1.4h-1.4zM102.8 307.5h1.4v1.4h-1.4zM51.9 308.9h1.4v1.4h-1.4zM101.8 309.1h1.4v1.4h-1.4zM102.9 309.1h1.4v1.4h-1.4zM37.5 310.8h1.4v1.4h-1.4zM42.3 310.6h1.4v1.4h-1.4zM43.7 310.2h1.4v1.4h-1.4zM45.1 310.8h1.4v1.4h-1.4zM33.2 311.7h1.4v1.4h-1.4zM37.4 311.9h1.4v1.4h-1.4zM39.0 311.7h1.4v1.4h-1.4zM46.5 311.7h1.4v1.4h-1.4zM37.6 313.4h1.4v1.4h-1.4zM43.2 313.7h1.4v1.4h-1.4zM37.9 314.5h1.4v1.4h-1.4zM37.5 316.2h1.4v1.4h-1.4zM100.1 318.9h1.4v1.4h-1.4zM99.9 320.4h1.4v1.4h-1.4zM100.2 322.3h1.4v1.4h-1.4zM104.0 325.2h1.4v1.4h-1.4zM103.1 328.0h1.4v1.4h-1.4zM98.7 329.3h1.4v1.4h-1.4zM100.3 329.2h1.4v1.4h-1.4zM101.2 331.0h1.4v1.4h-1.4zM98.7 333.5h1.4v1.4h-1.4zM100.2 333.8h1.4v1.4h-1.4zM101.7 336.6h1.4v1.4h-1.4zM100.3 339.8h1.4v1.4h-1.4zM98.2 340.6h1.4v1.4h-1.4zM100.0 341.1h1.4v1.4h-1.4zM101.8 345.5h1.4v1.4h-1.4zM100.0 346.6h1.4v1.4h-1.4zM98.5 349.5h1.4v1.4h-1.4zM98.7 351.4h1.4v1.4h-1.4zM98.8 352.5h1.4v1.4h-1.4zM97.1 357.2h1.4v1.4h-1.4zM98.7 357.2h1.4v1.4h-1.4zM99.8 357.1h1.4v1.4h-1.4zM96.8 358.6h1.4v1.4h-1.4zM97.1 359.5h1.4v1.4h-1.4zM98.8 361.3h1.4v1.4h-1.4zM97.3 366.9h1.4v1.4h-1.4zM90.2 377.2h1.4v1.4h-1.4z"/>
<path fill="#6f9fd0" d="M72.3 269.0h1.6v1.6h-1.6zM102.5 278.9h1.6v1.6h-1.6zM107.7 297.7h1.6v1.6h-1.6zM109.8 364.8h1.6v1.6h-1.6zM63.8 267.2h1.6v1.6h-1.6zM48.5 264.5h1.6v1.6h-1.6zM105.2 284.8h1.6v1.6h-1.6zM103.5 368.5h1.6v1.6h-1.6zM49.9 267.7h1.6v1.6h-1.6zM114.2 353.7h1.6v1.6h-1.6zM111.3 342.9h1.6v1.6h-1.6zM108.4 320.0h1.6v1.6h-1.6zM101.2 283.2h1.6v1.6h-1.6zM110.6 291.9h1.6v1.6h-1.6z"/>
<path d="M32.50 376.72H63.81V378.80H32.50ZM68.63 376.72H78.27V378.80H68.63ZM32.50 374.63H63.81V376.71H32.50ZM68.63 374.63H78.27V376.71H68.63ZM32.50 372.55H63.81V374.63H32.50ZM68.63 372.55H80.67V374.63H68.63ZM32.50 370.46H63.81V372.55H32.50ZM68.63 370.46H80.67V372.55H68.63ZM32.50 368.38H66.22V370.46H32.50ZM68.63 368.38H83.08V370.46H68.63ZM32.50 366.29H85.49V368.38H32.50ZM32.50 364.21H85.49V366.29H32.50ZM32.50 362.12H87.90V364.20H32.50ZM32.50 360.04H87.90V362.12H32.50ZM32.50 357.95H87.90V360.03H32.50ZM32.50 355.87H87.90V357.95H32.50ZM32.50 353.78H87.90V355.87H32.50ZM32.50 351.69H90.31V353.78H32.50ZM32.50 349.61H90.31V351.69H32.50ZM32.50 347.53H90.31V349.61H32.50ZM32.50 345.44H90.31V347.52H32.50ZM32.50 343.36H90.31V345.44H32.50ZM32.50 341.27H90.31V343.35H32.50ZM32.50 339.19H90.31V341.27H32.50ZM32.50 337.10H90.31V339.19H32.50ZM32.50 335.01H90.31V337.10H32.50ZM32.50 332.93H90.31V335.01H32.50ZM32.50 330.85H90.31V332.93H32.50ZM32.50 328.76H90.31V330.84H32.50ZM34.91 326.68H90.31V328.76H34.91ZM44.54 324.59H90.31V326.68H44.54ZM46.95 322.50H90.31V324.59H46.95ZM49.36 320.42H90.31V322.50H49.36ZM54.18 318.34H92.72V320.42H54.18ZM59.00 316.25H92.72V318.33H59.00ZM61.41 314.17H92.72V316.25H61.41ZM63.81 312.08H92.72V314.17H63.81ZM66.22 310.00H92.72V312.08H66.22ZM68.63 307.91H92.72V310.00H68.63ZM71.04 305.83H90.31V307.91H71.04ZM73.45 303.74H87.90V305.82H73.45ZM78.27 301.66H87.90V303.74H78.27ZM80.67 299.57H85.49V301.65H80.67Z" fill="url(#spk2)" shape-rendering="crispEdges"/>
<path d="M32.5 327.5C32.7 319.0 31.9 328.3 33.8 328.0C35.7 327.7 41.1 326.8 43.8 325.7C46.4 324.6 47.7 322.8 49.7 321.6C51.7 320.4 53.6 319.7 55.6 318.6C57.6 317.5 59.5 316.5 61.5 315.1C63.5 313.7 65.5 312.0 67.5 310.4C69.5 308.8 71.4 307.1 73.4 305.6C75.4 304.1 77.7 302.6 79.3 301.5C80.9 300.4 81.8 299.4 82.8 299.1C83.8 298.8 84.4 298.8 85.2 299.7C86.0 300.6 86.6 303.3 87.6 304.5C88.6 305.7 90.1 306.2 91.1 306.8C92.1 307.4 93.1 306.8 93.5 308.0C93.9 309.2 93.9 311.5 93.5 313.9C93.1 316.3 91.7 319.4 91.1 322.2C90.5 325.0 90.1 326.4 89.9 330.5C89.7 334.6 90.1 342.3 89.9 347.0C89.7 351.7 89.5 355.2 88.7 358.8C87.9 362.4 86.4 366.3 85.2 368.3C84.0 370.3 82.6 369.4 81.6 370.6C80.6 371.8 80.1 374.0 79.3 375.4C78.5 376.8 78.5 378.2 76.9 378.8C75.4 379.4 71.6 379.9 70.0 378.8C68.4 377.7 67.5 373.7 67.5 372.0C67.5 370.3 70.4 368.8 70.0 368.5C69.6 368.2 66.0 368.3 65.0 370.0C64.0 371.7 69.4 377.3 64.0 378.8C58.6 380.3 37.8 387.4 32.5 378.8C27.2 370.2 32.3 336.0 32.5 327.5Z" fill="none" stroke="#27a8e0" stroke-width="0.9"/>
<g clip-path="url(#cc2)">
<polygon points="32.5,323.0 34.3,323.0 34.3,378.8 32.5,378.8" fill="#b9cf9c"/>
</g>
<path class="ct" d="M32.5 334.0C32.8 334.0 32.5 334.6 34.4 334.0C36.3 333.4 41.0 331.9 43.8 330.5C46.5 329.1 48.5 327.3 50.9 325.7C53.3 324.1 55.8 322.2 58.0 321.0C60.2 319.8 61.7 318.7 63.9 318.6C66.1 318.5 68.8 319.8 71.0 320.4C73.2 321.0 75.5 320.7 76.9 322.2C78.3 323.7 78.9 326.4 79.3 329.3C79.7 332.2 79.4 337.1 79.3 339.9C79.2 342.6 79.5 343.4 78.7 345.8C77.9 348.2 76.5 351.9 74.6 354.1C72.7 356.3 70.1 357.2 67.5 358.8C64.9 360.4 61.8 362.0 59.2 363.6C56.6 365.2 54.3 366.5 52.1 368.3C49.9 370.1 47.6 372.4 46.2 374.2C44.8 375.9 44.2 378.0 43.8 378.8"/>
<path class="ct" d="M32.5 335.2C34.0 335.3 38.6 335.5 41.5 335.8C44.4 336.1 47.0 337.1 49.7 337.0C52.5 336.9 55.6 335.3 58.0 335.2C60.4 335.1 61.9 335.8 63.9 336.4C65.9 337.0 69.0 337.3 69.8 338.7C70.6 340.1 69.6 343.1 68.6 344.6C67.6 346.1 65.7 347.2 63.9 347.6C62.1 348.0 59.8 347.5 58.0 347.0C56.2 346.5 55.5 345.6 53.3 344.6C51.1 343.6 48.0 341.8 45.0 341.0C42.0 340.2 37.1 340.1 35.5 339.9"/>
<path class="ct" d="M35.5 339.9C35.8 340.7 36.7 342.2 37.3 344.6C37.9 347.0 38.6 350.9 39.1 354.1C39.6 357.3 40.3 359.5 40.3 363.6C40.3 367.7 39.3 376.3 39.1 378.8"/>
<line x1="32.5" y1="378.8" x2="225.2" y2="212.0" stroke="#000" stroke-width="1.1" stroke-dasharray="2.5,1.5"/>
<line x1="32.5" y1="355.9" x2="225.2" y2="266.8" stroke="#f0302c" stroke-width="1.2"/>
</g>
<rect x="32.5" y="212.0" width="192.70" height="166.80" fill="none" stroke="#4a4a4a" stroke-width="1.05"/>
<path d="M32.50 378.8v1.8M32.5 378.80h-1.8M64.62 378.8v1.8M32.5 351.00h-1.8M96.73 378.8v1.8M32.5 323.20h-1.8M128.85 378.8v1.8M32.5 295.40h-1.8M160.97 378.8v1.8M32.5 267.60h-1.8M193.08 378.8v1.8M32.5 239.80h-1.8M225.20 378.8v1.8M32.5 212.00h-1.8" stroke="#333" stroke-width="0.8"/>
<text class="tk" x="32.50" y="387.30" text-anchor="middle">0</text>
<text class="tk" x="29.90" y="381.40" text-anchor="end">0</text>
<text class="tk" x="64.62" y="387.30" text-anchor="middle">50</text>
<text class="tk" x="29.90" y="353.60" text-anchor="end">50</text>
<text class="tk" x="96.73" y="387.30" text-anchor="middle">100</text>
<text class="tk" x="29.90" y="325.80" text-anchor="end">100</text>
<text class="tk" x="128.85" y="387.30" text-anchor="middle">150</text>
<text class="tk" x="29.90" y="298.00" text-anchor="end">150</text>
<text class="tk" x="160.97" y="387.30" text-anchor="middle">200</text>
<text class="tk" x="29.90" y="270.20" text-anchor="end">200</text>
<text class="tk" x="193.08" y="387.30" text-anchor="middle">250</text>
<text class="tk" x="29.90" y="242.40" text-anchor="end">250</text>
<text class="tk" x="225.20" y="387.30" text-anchor="middle">300</text>
<text class="tk" x="29.90" y="214.60" text-anchor="end">300</text>
<text class="lb" x="128.85" y="397.60" text-anchor="middle">Estimated (<tspan font-style="italic">μg</tspan>/<tspan font-style="italic">m</tspan><tspan font-size="6.2px" dy="-3.6">3</tspan><tspan dy="3.6">)</tspan></text>
<text class="lb" transform="translate(11.20 295.40) rotate(-90)" x="0" y="3.2" text-anchor="middle">Observed (<tspan font-style="italic">μg</tspan>/<tspan font-style="italic">m</tspan><tspan font-size="6.2px" dy="-3.6">3</tspan><tspan dy="3.6">)</tspan></text>
<line x1="40.0" y1="223.0" x2="57.0" y2="223.0" stroke="#f0302c" stroke-width="1.2"/>
<line x1="40.0" y1="235.3" x2="57.0" y2="235.3" stroke="#000" stroke-width="1.1" stroke-dasharray="2.5,1.5"/>
<text class="lg" x="64.0" y="226.3">Regression Line</text>
<text class="lg" x="64.0" y="238.4">1:1 Line</text>
<rect x="161.20" y="325.50" width="61" height="46.5" fill="#fff"/>
<text class="st" x="219.40" y="334.30" text-anchor="end"><tspan font-style="italic">BIAS</tspan><tspan dx="2.0">=</tspan><tspan dx="4.3">−</tspan><tspan dx="1.5">26.15</tspan></text>
<text class="st" x="219.40" y="345.80" text-anchor="end"><tspan font-style="italic">RMSE</tspan><tspan dx="2.3">=</tspan><tspan dx="2.1">40.69</tspan></text>
<text class="st" x="219.40" y="356.90" text-anchor="end"><tspan font-style="italic">IOA</tspan><tspan dx="2.3">=</tspan><tspan dx="2.1">0.60</tspan></text>
<text class="st" x="219.40" y="367.90" text-anchor="end"><tspan font-style="italic">COR</tspan><tspan dx="2.3">=</tspan><tspan dx="2.1">0.48</tspan></text>
<rect x="241.2" y="212.0" width="9.00" height="166.80" fill="url(#cm)" stroke="#666" stroke-width="0.5"/>
<text class="cbl" x="253.70" y="380.50">0</text>
<text class="cbl" x="253.70" y="349.03">500</text>
<text class="cbl" x="253.70" y="317.56">1000</text>
<text class="cbl" x="253.70" y="286.08">1500</text>
<text class="cbl" x="253.70" y="254.61">2000</text>
<text class="cbl" x="253.70" y="223.14">2500</text>
<path d="M250.2 378.80h1.5M250.2 347.33h1.5M250.2 315.86h1.5M250.2 284.38h1.5M250.2 252.91h1.5M250.2 221.44h1.5" stroke="#444" stroke-width="0.5"/>
<path d="M342.67 212.0V378.8M310.3 351.00H504.5M375.03 212.0V378.8M310.3 323.20H504.5M407.40 212.0V378.8M310.3 295.40H504.5M439.77 212.0V378.8M310.3 267.60H504.5M472.13 212.0V378.8M310.3 239.80H504.5" stroke="#eeeeee" stroke-width="0.8" fill="none"/>
<g clip-path="url(#cl3)">
<polygon points="351.7,378.3 351.7,378.3 351.8,378.3 351.8,378.2 358.6,373.2 358.7,373.2 365.8,367.7 366.7,366.9 374.0,359.6 374.6,358.9 381.9,349.8 382.6,348.9 387.9,340.1 387.9,340.1 391.3,334.9 391.4,334.9 396.6,327.8 397.1,327.1 402.6,318.0 402.9,317.4 403.2,316.7 406.8,307.6 407.1,306.9 407.3,306.1 407.4,305.2 407.4,304.4 407.4,303.6 407.2,302.8 407.0,302.0 406.7,301.2 406.4,300.5 406.0,299.8 404.2,297.1 403.6,296.4 403.1,295.7 402.4,295.2 401.7,294.6 400.9,294.2 400.1,293.9 399.3,293.6 398.4,293.4 397.6,293.3 388.5,292.8 387.6,292.8 376.7,293.3 375.8,293.4 375.0,293.6 374.2,293.8 373.3,294.2 367.9,296.9 367.2,297.2 366.5,297.7 357.6,304.3 357.6,304.4 349.0,310.1 349.0,310.1 340.2,315.3 340.1,315.3 333.0,319.4 332.0,320.0 324.7,325.5 324.0,326.1 317.2,332.6 317.1,332.6 317.1,332.6 310.9,336.9 310.9,378.3 351.7,378.3" fill="url(#spk)"/>
<path fill="#8cbbe3" d="M411.9 255.9h1.4v1.4h-1.4zM410.4 261.5h1.4v1.4h-1.4zM405.6 264.6h1.4v1.4h-1.4zM400.3 267.9h1.4v1.4h-1.4zM407.0 267.5h1.4v1.4h-1.4zM383.8 268.9h1.4v1.4h-1.4zM391.0 270.2h1.4v1.4h-1.4zM402.7 270.7h1.4v1.4h-1.4zM405.8 270.2h1.4v1.4h-1.4zM409.9 270.8h1.4v1.4h-1.4zM387.2 273.4h1.4v1.4h-1.4zM389.6 273.7h1.4v1.4h-1.4zM397.1 273.6h1.4v1.4h-1.4zM383.7 274.9h1.4v1.4h-1.4zM392.7 274.9h1.4v1.4h-1.4zM394.0 275.1h1.4v1.4h-1.4zM411.8 274.7h1.4v1.4h-1.4zM414.8 274.8h1.4v1.4h-1.4zM387.2 276.1h1.4v1.4h-1.4zM391.3 276.4h1.4v1.4h-1.4zM398.2 276.1h1.4v1.4h-1.4zM385.3 277.4h1.4v1.4h-1.4zM392.5 278.0h1.4v1.4h-1.4zM395.9 277.6h1.4v1.4h-1.4zM411.5 277.5h1.4v1.4h-1.4zM379.7 279.1h1.4v1.4h-1.4zM394.0 279.4h1.4v1.4h-1.4zM396.9 278.9h1.4v1.4h-1.4zM401.6 279.1h1.4v1.4h-1.4zM407.5 278.9h1.4v1.4h-1.4zM365.4 280.9h1.4v1.4h-1.4zM385.7 280.5h1.4v1.4h-1.4zM405.7 280.9h1.4v1.4h-1.4zM411.6 280.5h1.4v1.4h-1.4zM381.3 282.0h1.4v1.4h-1.4zM382.3 282.4h1.4v1.4h-1.4zM392.7 282.3h1.4v1.4h-1.4zM408.7 282.1h1.4v1.4h-1.4zM413.1 282.2h1.4v1.4h-1.4zM414.8 282.3h1.4v1.4h-1.4zM373.7 283.9h1.4v1.4h-1.4zM377.1 283.9h1.4v1.4h-1.4zM381.3 283.5h1.4v1.4h-1.4zM382.9 283.2h1.4v1.4h-1.4zM388.5 283.3h1.4v1.4h-1.4zM389.6 283.7h1.4v1.4h-1.4zM398.8 283.3h1.4v1.4h-1.4zM405.7 283.7h1.4v1.4h-1.4zM410.1 283.2h1.4v1.4h-1.4zM352.1 285.1h1.4v1.4h-1.4zM359.7 284.7h1.4v1.4h-1.4zM363.5 285.2h1.4v1.4h-1.4zM373.6 284.7h1.4v1.4h-1.4zM382.4 284.7h1.4v1.4h-1.4zM388.5 285.1h1.4v1.4h-1.4zM408.6 284.7h1.4v1.4h-1.4zM411.7 285.0h1.4v1.4h-1.4zM354.8 286.5h1.4v1.4h-1.4zM356.8 286.3h1.4v1.4h-1.4zM376.6 286.6h1.4v1.4h-1.4zM396.9 286.2h1.4v1.4h-1.4zM399.9 286.5h1.4v1.4h-1.4zM407.5 286.8h1.4v1.4h-1.4zM410.3 286.4h1.4v1.4h-1.4zM415.7 286.3h1.4v1.4h-1.4zM365.3 288.1h1.4v1.4h-1.4zM372.2 287.8h1.4v1.4h-1.4zM388.2 288.2h1.4v1.4h-1.4zM343.5 289.1h1.4v1.4h-1.4zM351.9 289.6h1.4v1.4h-1.4zM365.5 289.6h1.4v1.4h-1.4zM375.4 289.6h1.4v1.4h-1.4zM379.6 289.6h1.4v1.4h-1.4zM388.7 289.4h1.4v1.4h-1.4zM389.8 289.6h1.4v1.4h-1.4zM394.1 289.2h1.4v1.4h-1.4zM396.8 289.5h1.4v1.4h-1.4zM400.1 289.2h1.4v1.4h-1.4zM353.3 291.1h1.4v1.4h-1.4zM362.0 291.0h1.4v1.4h-1.4zM378.1 290.7h1.4v1.4h-1.4zM380.0 290.5h1.4v1.4h-1.4zM385.3 290.7h1.4v1.4h-1.4zM389.9 291.1h1.4v1.4h-1.4zM401.7 290.9h1.4v1.4h-1.4zM404.6 290.5h1.4v1.4h-1.4zM406.0 291.1h1.4v1.4h-1.4zM407.4 290.6h1.4v1.4h-1.4zM365.3 292.1h1.4v1.4h-1.4zM372.2 292.3h1.4v1.4h-1.4zM395.4 292.0h1.4v1.4h-1.4zM398.5 292.2h1.4v1.4h-1.4zM411.7 292.0h1.4v1.4h-1.4zM355.3 294.0h1.4v1.4h-1.4zM362.6 293.9h1.4v1.4h-1.4zM408.4 293.7h1.4v1.4h-1.4zM411.4 293.5h1.4v1.4h-1.4zM416.1 293.4h1.4v1.4h-1.4zM342.3 295.0h1.4v1.4h-1.4zM346.6 295.0h1.4v1.4h-1.4zM348.9 295.2h1.4v1.4h-1.4zM355.1 294.9h1.4v1.4h-1.4zM405.8 295.3h1.4v1.4h-1.4zM407.4 295.3h1.4v1.4h-1.4zM408.8 295.0h1.4v1.4h-1.4zM411.6 295.5h1.4v1.4h-1.4zM414.2 295.1h1.4v1.4h-1.4zM342.0 296.8h1.4v1.4h-1.4zM343.2 296.7h1.4v1.4h-1.4zM352.0 296.9h1.4v1.4h-1.4zM360.6 296.3h1.4v1.4h-1.4zM404.1 296.5h1.4v1.4h-1.4zM345.1 298.0h1.4v1.4h-1.4zM411.4 297.8h1.4v1.4h-1.4zM414.8 298.4h1.4v1.4h-1.4zM415.8 297.9h1.4v1.4h-1.4zM338.0 299.5h1.4v1.4h-1.4zM340.4 299.3h1.4v1.4h-1.4zM349.0 299.3h1.4v1.4h-1.4zM353.7 299.6h1.4v1.4h-1.4zM362.3 299.4h1.4v1.4h-1.4zM406.1 299.3h1.4v1.4h-1.4zM337.4 301.3h1.4v1.4h-1.4zM345.1 301.2h1.4v1.4h-1.4zM354.9 301.2h1.4v1.4h-1.4zM356.2 301.0h1.4v1.4h-1.4zM358.0 301.0h1.4v1.4h-1.4zM359.4 300.9h1.4v1.4h-1.4zM416.0 301.0h1.4v1.4h-1.4zM339.0 302.4h1.4v1.4h-1.4zM343.4 302.5h1.4v1.4h-1.4zM346.6 302.6h1.4v1.4h-1.4zM349.0 302.2h1.4v1.4h-1.4zM352.5 302.2h1.4v1.4h-1.4zM356.4 302.5h1.4v1.4h-1.4zM408.4 302.4h1.4v1.4h-1.4zM323.1 304.1h1.4v1.4h-1.4zM330.3 303.6h1.4v1.4h-1.4zM338.9 303.8h1.4v1.4h-1.4zM342.2 303.6h1.4v1.4h-1.4zM407.5 303.8h1.4v1.4h-1.4zM415.9 303.9h1.4v1.4h-1.4zM337.5 305.6h1.4v1.4h-1.4zM349.1 305.3h1.4v1.4h-1.4zM351.0 305.0h1.4v1.4h-1.4zM407.1 305.6h1.4v1.4h-1.4zM327.8 306.6h1.4v1.4h-1.4zM331.8 307.0h1.4v1.4h-1.4zM343.1 306.7h1.4v1.4h-1.4zM344.7 306.9h1.4v1.4h-1.4zM350.8 306.5h1.4v1.4h-1.4zM352.1 306.8h1.4v1.4h-1.4zM409.8 306.8h1.4v1.4h-1.4zM411.5 306.7h1.4v1.4h-1.4zM317.7 307.9h1.4v1.4h-1.4zM319.1 308.2h1.4v1.4h-1.4zM336.3 307.9h1.4v1.4h-1.4zM338.9 308.4h1.4v1.4h-1.4zM343.3 308.3h1.4v1.4h-1.4zM348.9 308.5h1.4v1.4h-1.4zM324.7 309.7h1.4v1.4h-1.4zM327.8 309.5h1.4v1.4h-1.4zM329.1 309.7h1.4v1.4h-1.4zM330.4 311.2h1.4v1.4h-1.4zM345.0 310.9h1.4v1.4h-1.4zM410.2 310.8h1.4v1.4h-1.4zM314.3 312.3h1.4v1.4h-1.4zM324.5 312.4h1.4v1.4h-1.4zM326.1 312.6h1.4v1.4h-1.4zM330.2 312.3h1.4v1.4h-1.4zM406.0 312.6h1.4v1.4h-1.4zM407.4 312.8h1.4v1.4h-1.4zM411.7 312.9h1.4v1.4h-1.4zM413.1 312.7h1.4v1.4h-1.4zM414.7 312.3h1.4v1.4h-1.4zM416.0 312.5h1.4v1.4h-1.4zM320.1 313.7h1.4v1.4h-1.4zM330.5 313.7h1.4v1.4h-1.4zM334.5 313.7h1.4v1.4h-1.4zM406.1 314.3h1.4v1.4h-1.4zM414.7 313.8h1.4v1.4h-1.4zM314.6 315.4h1.4v1.4h-1.4zM317.6 315.5h1.4v1.4h-1.4zM324.9 315.6h1.4v1.4h-1.4zM325.9 315.3h1.4v1.4h-1.4zM330.1 315.8h1.4v1.4h-1.4zM337.9 315.6h1.4v1.4h-1.4zM408.8 315.2h1.4v1.4h-1.4zM412.7 315.8h1.4v1.4h-1.4zM414.7 315.6h1.4v1.4h-1.4zM417.5 315.4h1.4v1.4h-1.4zM313.1 317.1h1.4v1.4h-1.4zM324.9 317.3h1.4v1.4h-1.4zM407.1 317.0h1.4v1.4h-1.4zM310.1 318.0h1.4v1.4h-1.4zM313.1 318.3h1.4v1.4h-1.4zM320.1 318.0h1.4v1.4h-1.4zM324.6 318.5h1.4v1.4h-1.4zM408.8 318.5h1.4v1.4h-1.4zM311.3 320.1h1.4v1.4h-1.4zM315.7 319.6h1.4v1.4h-1.4zM328.7 319.5h1.4v1.4h-1.4zM406.9 319.6h1.4v1.4h-1.4zM314.7 321.1h1.4v1.4h-1.4zM317.5 321.5h1.4v1.4h-1.4zM318.6 321.3h1.4v1.4h-1.4zM324.9 321.0h1.4v1.4h-1.4zM402.9 321.5h1.4v1.4h-1.4zM310.0 322.5h1.4v1.4h-1.4zM313.3 322.9h1.4v1.4h-1.4zM320.0 322.7h1.4v1.4h-1.4zM326.3 323.0h1.4v1.4h-1.4zM410.1 322.8h1.4v1.4h-1.4zM310.4 323.9h1.4v1.4h-1.4zM311.5 324.3h1.4v1.4h-1.4zM320.1 324.2h1.4v1.4h-1.4zM398.3 324.1h1.4v1.4h-1.4zM409.0 323.9h1.4v1.4h-1.4zM410.1 324.3h1.4v1.4h-1.4zM413.2 324.0h1.4v1.4h-1.4zM314.5 325.3h1.4v1.4h-1.4zM323.1 325.6h1.4v1.4h-1.4zM398.4 325.6h1.4v1.4h-1.4zM313.0 327.3h1.4v1.4h-1.4zM399.8 327.1h1.4v1.4h-1.4zM402.7 326.7h1.4v1.4h-1.4zM406.0 326.9h1.4v1.4h-1.4zM407.0 326.9h1.4v1.4h-1.4zM412.9 326.8h1.4v1.4h-1.4zM416.3 326.9h1.4v1.4h-1.4zM311.4 328.8h1.4v1.4h-1.4zM403.0 328.3h1.4v1.4h-1.4zM408.8 328.4h1.4v1.4h-1.4zM409.8 328.4h1.4v1.4h-1.4zM312.7 330.3h1.4v1.4h-1.4zM313.3 331.1h1.4v1.4h-1.4zM314.3 331.2h1.4v1.4h-1.4zM400.2 331.2h1.4v1.4h-1.4zM407.0 331.1h1.4v1.4h-1.4zM392.4 333.0h1.4v1.4h-1.4zM394.0 332.8h1.4v1.4h-1.4zM410.3 332.6h1.4v1.4h-1.4zM392.7 334.6h1.4v1.4h-1.4zM404.1 334.5h1.4v1.4h-1.4zM393.0 337.0h1.4v1.4h-1.4zM398.7 337.5h1.4v1.4h-1.4zM399.8 337.2h1.4v1.4h-1.4zM411.8 337.1h1.4v1.4h-1.4zM403.1 338.8h1.4v1.4h-1.4zM396.9 340.4h1.4v1.4h-1.4zM401.5 340.4h1.4v1.4h-1.4zM407.3 340.4h1.4v1.4h-1.4zM388.2 341.6h1.4v1.4h-1.4zM399.7 341.5h1.4v1.4h-1.4zM407.2 341.3h1.4v1.4h-1.4zM385.5 342.7h1.4v1.4h-1.4zM402.8 343.0h1.4v1.4h-1.4zM386.7 344.4h1.4v1.4h-1.4zM393.0 344.5h1.4v1.4h-1.4zM383.9 346.1h1.4v1.4h-1.4zM392.6 345.8h1.4v1.4h-1.4zM398.4 345.6h1.4v1.4h-1.4zM382.8 347.3h1.4v1.4h-1.4zM391.1 347.5h1.4v1.4h-1.4zM392.7 347.2h1.4v1.4h-1.4zM394.4 347.6h1.4v1.4h-1.4zM395.8 347.6h1.4v1.4h-1.4zM396.9 347.6h1.4v1.4h-1.4zM382.3 348.8h1.4v1.4h-1.4zM394.4 348.8h1.4v1.4h-1.4zM395.4 348.9h1.4v1.4h-1.4zM382.8 350.2h1.4v1.4h-1.4zM405.6 350.5h1.4v1.4h-1.4zM389.7 351.9h1.4v1.4h-1.4zM402.7 352.0h1.4v1.4h-1.4zM378.5 353.2h1.4v1.4h-1.4zM384.2 353.2h1.4v1.4h-1.4zM387.2 353.3h1.4v1.4h-1.4zM388.1 352.9h1.4v1.4h-1.4zM383.9 354.4h1.4v1.4h-1.4zM397.0 354.9h1.4v1.4h-1.4zM399.7 354.4h1.4v1.4h-1.4zM383.9 356.1h1.4v1.4h-1.4zM395.7 356.2h1.4v1.4h-1.4zM378.1 357.8h1.4v1.4h-1.4zM383.8 357.6h1.4v1.4h-1.4zM383.7 358.6h1.4v1.4h-1.4zM392.7 358.8h1.4v1.4h-1.4zM395.9 358.8h1.4v1.4h-1.4zM372.3 360.6h1.4v1.4h-1.4zM375.2 360.1h1.4v1.4h-1.4zM380.0 360.5h1.4v1.4h-1.4zM389.6 360.4h1.4v1.4h-1.4zM378.2 361.7h1.4v1.4h-1.4zM388.5 361.7h1.4v1.4h-1.4zM391.4 362.0h1.4v1.4h-1.4zM376.5 363.6h1.4v1.4h-1.4zM378.3 363.3h1.4v1.4h-1.4zM381.2 363.5h1.4v1.4h-1.4zM382.9 363.1h1.4v1.4h-1.4zM389.8 363.5h1.4v1.4h-1.4zM379.6 364.5h1.4v1.4h-1.4zM381.5 364.8h1.4v1.4h-1.4zM395.6 364.7h1.4v1.4h-1.4zM373.9 366.1h1.4v1.4h-1.4zM391.3 366.1h1.4v1.4h-1.4zM376.9 367.6h1.4v1.4h-1.4zM382.9 367.9h1.4v1.4h-1.4zM394.3 367.6h1.4v1.4h-1.4zM368.1 369.1h1.4v1.4h-1.4zM375.1 368.8h1.4v1.4h-1.4zM379.8 369.2h1.4v1.4h-1.4zM362.3 370.6h1.4v1.4h-1.4zM369.6 370.5h1.4v1.4h-1.4zM377.1 370.7h1.4v1.4h-1.4zM379.4 370.6h1.4v1.4h-1.4zM382.4 370.4h1.4v1.4h-1.4zM359.7 372.1h1.4v1.4h-1.4zM363.5 372.0h1.4v1.4h-1.4zM370.8 371.9h1.4v1.4h-1.4zM359.2 373.6h1.4v1.4h-1.4zM377.0 375.1h1.4v1.4h-1.4zM363.4 376.4h1.4v1.4h-1.4zM375.6 376.3h1.4v1.4h-1.4zM342.1 377.9h1.4v1.4h-1.4zM349.4 377.5h1.4v1.4h-1.4zM350.8 378.1h1.4v1.4h-1.4zM353.8 377.6h1.4v1.4h-1.4zM362.2 377.7h1.4v1.4h-1.4z"/>
<path fill="#9cc5e8" d="M411.7 257.7h1.4v1.4h-1.4zM413.2 260.6h1.4v1.4h-1.4zM399.9 263.3h1.4v1.4h-1.4zM406.1 267.4h1.4v1.4h-1.4zM391.1 268.9h1.4v1.4h-1.4zM392.8 269.2h1.4v1.4h-1.4zM401.3 268.9h1.4v1.4h-1.4zM409.9 269.4h1.4v1.4h-1.4zM392.5 270.7h1.4v1.4h-1.4zM404.6 270.5h1.4v1.4h-1.4zM387.0 272.0h1.4v1.4h-1.4zM389.9 271.7h1.4v1.4h-1.4zM402.6 271.8h1.4v1.4h-1.4zM391.4 273.6h1.4v1.4h-1.4zM392.6 273.2h1.4v1.4h-1.4zM406.0 273.7h1.4v1.4h-1.4zM407.1 273.7h1.4v1.4h-1.4zM411.9 273.2h1.4v1.4h-1.4zM379.4 274.7h1.4v1.4h-1.4zM385.6 274.5h1.4v1.4h-1.4zM391.2 274.7h1.4v1.4h-1.4zM401.2 274.8h1.4v1.4h-1.4zM404.4 275.2h1.4v1.4h-1.4zM375.6 276.1h1.4v1.4h-1.4zM382.8 276.0h1.4v1.4h-1.4zM384.4 276.0h1.4v1.4h-1.4zM385.5 276.4h1.4v1.4h-1.4zM393.1 276.3h1.4v1.4h-1.4zM395.8 276.3h1.4v1.4h-1.4zM399.9 276.0h1.4v1.4h-1.4zM406.1 276.3h1.4v1.4h-1.4zM411.8 276.2h1.4v1.4h-1.4zM369.4 278.1h1.4v1.4h-1.4zM382.7 277.8h1.4v1.4h-1.4zM394.5 277.8h1.4v1.4h-1.4zM402.8 278.1h1.4v1.4h-1.4zM405.8 277.9h1.4v1.4h-1.4zM407.1 277.5h1.4v1.4h-1.4zM408.6 278.1h1.4v1.4h-1.4zM419.0 278.0h1.4v1.4h-1.4zM384.2 279.2h1.4v1.4h-1.4zM395.4 279.1h1.4v1.4h-1.4zM381.0 280.6h1.4v1.4h-1.4zM391.5 280.8h1.4v1.4h-1.4zM397.1 280.8h1.4v1.4h-1.4zM398.9 280.9h1.4v1.4h-1.4zM399.7 280.9h1.4v1.4h-1.4zM402.7 280.9h1.4v1.4h-1.4zM409.0 280.8h1.4v1.4h-1.4zM418.9 280.9h1.4v1.4h-1.4zM370.9 282.2h1.4v1.4h-1.4zM387.1 281.8h1.4v1.4h-1.4zM405.8 281.9h1.4v1.4h-1.4zM407.1 282.4h1.4v1.4h-1.4zM366.8 283.4h1.4v1.4h-1.4zM372.3 283.3h1.4v1.4h-1.4zM379.8 283.5h1.4v1.4h-1.4zM384.2 283.6h1.4v1.4h-1.4zM387.0 283.7h1.4v1.4h-1.4zM391.6 283.8h1.4v1.4h-1.4zM400.3 283.8h1.4v1.4h-1.4zM416.0 283.6h1.4v1.4h-1.4zM369.6 284.7h1.4v1.4h-1.4zM372.2 285.0h1.4v1.4h-1.4zM390.0 285.3h1.4v1.4h-1.4zM399.7 285.0h1.4v1.4h-1.4zM401.7 284.9h1.4v1.4h-1.4zM417.5 285.3h1.4v1.4h-1.4zM357.8 286.2h1.4v1.4h-1.4zM362.4 286.3h1.4v1.4h-1.4zM366.6 286.5h1.4v1.4h-1.4zM374.1 286.2h1.4v1.4h-1.4zM375.2 286.2h1.4v1.4h-1.4zM379.9 286.2h1.4v1.4h-1.4zM387.3 286.2h1.4v1.4h-1.4zM391.6 286.8h1.4v1.4h-1.4zM366.9 287.8h1.4v1.4h-1.4zM369.4 287.9h1.4v1.4h-1.4zM373.6 287.7h1.4v1.4h-1.4zM387.2 288.1h1.4v1.4h-1.4zM392.8 288.2h1.4v1.4h-1.4zM394.2 287.9h1.4v1.4h-1.4zM395.6 287.8h1.4v1.4h-1.4zM398.4 287.8h1.4v1.4h-1.4zM401.2 287.9h1.4v1.4h-1.4zM408.7 287.9h1.4v1.4h-1.4zM411.3 288.2h1.4v1.4h-1.4zM414.3 288.0h1.4v1.4h-1.4zM370.9 289.6h1.4v1.4h-1.4zM382.7 289.1h1.4v1.4h-1.4zM386.6 289.1h1.4v1.4h-1.4zM392.6 289.5h1.4v1.4h-1.4zM403.1 289.5h1.4v1.4h-1.4zM410.1 289.0h1.4v1.4h-1.4zM414.7 289.3h1.4v1.4h-1.4zM418.6 289.1h1.4v1.4h-1.4zM376.6 290.8h1.4v1.4h-1.4zM384.3 290.5h1.4v1.4h-1.4zM388.3 290.6h1.4v1.4h-1.4zM391.3 290.8h1.4v1.4h-1.4zM393.1 290.7h1.4v1.4h-1.4zM396.8 290.7h1.4v1.4h-1.4zM402.6 291.0h1.4v1.4h-1.4zM410.1 291.1h1.4v1.4h-1.4zM413.0 291.0h1.4v1.4h-1.4zM417.1 290.6h1.4v1.4h-1.4zM339.4 292.3h1.4v1.4h-1.4zM349.1 292.4h1.4v1.4h-1.4zM368.0 292.6h1.4v1.4h-1.4zM369.8 292.3h1.4v1.4h-1.4zM378.4 292.3h1.4v1.4h-1.4zM391.6 292.0h1.4v1.4h-1.4zM397.3 292.5h1.4v1.4h-1.4zM403.2 292.0h1.4v1.4h-1.4zM404.1 292.0h1.4v1.4h-1.4zM412.9 291.9h1.4v1.4h-1.4zM414.2 292.3h1.4v1.4h-1.4zM363.7 293.7h1.4v1.4h-1.4zM366.8 293.8h1.4v1.4h-1.4zM370.9 293.9h1.4v1.4h-1.4zM401.2 293.5h1.4v1.4h-1.4zM407.2 293.5h1.4v1.4h-1.4zM350.6 294.9h1.4v1.4h-1.4zM353.9 295.2h1.4v1.4h-1.4zM363.8 295.0h1.4v1.4h-1.4zM368.0 294.9h1.4v1.4h-1.4zM412.7 295.3h1.4v1.4h-1.4zM358.0 296.4h1.4v1.4h-1.4zM359.2 296.5h1.4v1.4h-1.4zM365.3 296.6h1.4v1.4h-1.4zM406.0 296.8h1.4v1.4h-1.4zM418.7 296.4h1.4v1.4h-1.4zM346.6 297.9h1.4v1.4h-1.4zM347.5 297.8h1.4v1.4h-1.4zM353.6 298.3h1.4v1.4h-1.4zM360.6 298.3h1.4v1.4h-1.4zM363.9 298.2h1.4v1.4h-1.4zM405.6 297.9h1.4v1.4h-1.4zM323.0 299.5h1.4v1.4h-1.4zM343.2 299.8h1.4v1.4h-1.4zM354.7 299.8h1.4v1.4h-1.4zM358.1 299.2h1.4v1.4h-1.4zM359.3 299.3h1.4v1.4h-1.4zM360.6 299.5h1.4v1.4h-1.4zM411.7 299.7h1.4v1.4h-1.4zM332.0 300.8h1.4v1.4h-1.4zM338.8 301.3h1.4v1.4h-1.4zM347.9 300.8h1.4v1.4h-1.4zM407.2 300.7h1.4v1.4h-1.4zM342.2 302.3h1.4v1.4h-1.4zM355.0 302.4h1.4v1.4h-1.4zM332.1 303.5h1.4v1.4h-1.4zM340.8 304.1h1.4v1.4h-1.4zM343.6 303.9h1.4v1.4h-1.4zM344.7 303.7h1.4v1.4h-1.4zM349.6 303.8h1.4v1.4h-1.4zM356.7 303.6h1.4v1.4h-1.4zM414.6 303.5h1.4v1.4h-1.4zM417.6 303.6h1.4v1.4h-1.4zM328.6 305.5h1.4v1.4h-1.4zM331.6 305.2h1.4v1.4h-1.4zM339.1 305.5h1.4v1.4h-1.4zM410.2 305.5h1.4v1.4h-1.4zM323.3 306.5h1.4v1.4h-1.4zM334.8 306.5h1.4v1.4h-1.4zM414.8 306.8h1.4v1.4h-1.4zM333.5 308.3h1.4v1.4h-1.4zM337.8 308.0h1.4v1.4h-1.4zM408.7 308.2h1.4v1.4h-1.4zM413.0 308.3h1.4v1.4h-1.4zM415.8 308.3h1.4v1.4h-1.4zM323.3 309.8h1.4v1.4h-1.4zM339.0 309.8h1.4v1.4h-1.4zM407.2 309.3h1.4v1.4h-1.4zM417.2 309.9h1.4v1.4h-1.4zM321.7 310.9h1.4v1.4h-1.4zM322.8 310.9h1.4v1.4h-1.4zM324.4 311.4h1.4v1.4h-1.4zM336.4 311.3h1.4v1.4h-1.4zM342.0 311.4h1.4v1.4h-1.4zM407.4 310.9h1.4v1.4h-1.4zM408.6 311.1h1.4v1.4h-1.4zM411.9 311.3h1.4v1.4h-1.4zM420.5 311.4h1.4v1.4h-1.4zM339.3 312.2h1.4v1.4h-1.4zM340.5 312.2h1.4v1.4h-1.4zM404.4 312.5h1.4v1.4h-1.4zM321.5 314.1h1.4v1.4h-1.4zM324.6 314.0h1.4v1.4h-1.4zM328.7 314.3h1.4v1.4h-1.4zM338.0 314.0h1.4v1.4h-1.4zM339.1 314.1h1.4v1.4h-1.4zM315.6 315.2h1.4v1.4h-1.4zM332.1 315.8h1.4v1.4h-1.4zM336.1 315.7h1.4v1.4h-1.4zM405.6 315.2h1.4v1.4h-1.4zM407.5 315.8h1.4v1.4h-1.4zM410.3 315.7h1.4v1.4h-1.4zM316.1 316.9h1.4v1.4h-1.4zM319.0 316.6h1.4v1.4h-1.4zM328.9 316.6h1.4v1.4h-1.4zM331.8 317.0h1.4v1.4h-1.4zM408.4 316.6h1.4v1.4h-1.4zM406.0 318.6h1.4v1.4h-1.4zM409.8 318.7h1.4v1.4h-1.4zM414.4 318.1h1.4v1.4h-1.4zM320.2 319.6h1.4v1.4h-1.4zM324.9 319.6h1.4v1.4h-1.4zM330.4 319.7h1.4v1.4h-1.4zM322.0 321.1h1.4v1.4h-1.4zM326.0 321.5h1.4v1.4h-1.4zM401.2 320.9h1.4v1.4h-1.4zM405.9 321.3h1.4v1.4h-1.4zM410.0 321.4h1.4v1.4h-1.4zM315.6 322.9h1.4v1.4h-1.4zM319.0 322.7h1.4v1.4h-1.4zM404.7 322.5h1.4v1.4h-1.4zM407.5 322.5h1.4v1.4h-1.4zM411.9 322.6h1.4v1.4h-1.4zM411.7 324.2h1.4v1.4h-1.4zM320.2 325.6h1.4v1.4h-1.4zM399.7 325.9h1.4v1.4h-1.4zM408.4 325.3h1.4v1.4h-1.4zM411.6 325.8h1.4v1.4h-1.4zM317.6 327.4h1.4v1.4h-1.4zM398.8 326.8h1.4v1.4h-1.4zM404.6 326.9h1.4v1.4h-1.4zM409.0 326.9h1.4v1.4h-1.4zM414.3 327.1h1.4v1.4h-1.4zM312.8 328.2h1.4v1.4h-1.4zM318.6 328.2h1.4v1.4h-1.4zM395.6 328.3h1.4v1.4h-1.4zM396.9 328.5h1.4v1.4h-1.4zM400.3 328.4h1.4v1.4h-1.4zM404.1 328.8h1.4v1.4h-1.4zM398.3 329.6h1.4v1.4h-1.4zM408.9 329.9h1.4v1.4h-1.4zM401.5 331.6h1.4v1.4h-1.4zM404.5 331.2h1.4v1.4h-1.4zM397.0 332.7h1.4v1.4h-1.4zM309.8 334.1h1.4v1.4h-1.4zM391.2 334.0h1.4v1.4h-1.4zM398.5 334.4h1.4v1.4h-1.4zM401.3 334.2h1.4v1.4h-1.4zM408.4 334.0h1.4v1.4h-1.4zM391.5 335.6h1.4v1.4h-1.4zM393.0 335.6h1.4v1.4h-1.4zM401.5 335.6h1.4v1.4h-1.4zM389.7 338.4h1.4v1.4h-1.4zM408.4 338.4h1.4v1.4h-1.4zM386.7 340.2h1.4v1.4h-1.4zM393.0 339.8h1.4v1.4h-1.4zM394.5 340.1h1.4v1.4h-1.4zM400.1 340.0h1.4v1.4h-1.4zM386.8 341.3h1.4v1.4h-1.4zM391.5 341.3h1.4v1.4h-1.4zM398.3 341.5h1.4v1.4h-1.4zM404.3 341.2h1.4v1.4h-1.4zM405.8 341.5h1.4v1.4h-1.4zM389.6 343.0h1.4v1.4h-1.4zM398.8 343.0h1.4v1.4h-1.4zM399.8 343.2h1.4v1.4h-1.4zM404.1 343.2h1.4v1.4h-1.4zM395.6 344.6h1.4v1.4h-1.4zM397.3 344.4h1.4v1.4h-1.4zM399.7 344.2h1.4v1.4h-1.4zM402.6 344.4h1.4v1.4h-1.4zM385.5 346.1h1.4v1.4h-1.4zM389.9 345.8h1.4v1.4h-1.4zM391.6 346.1h1.4v1.4h-1.4zM394.4 346.1h1.4v1.4h-1.4zM395.8 346.1h1.4v1.4h-1.4zM396.8 346.1h1.4v1.4h-1.4zM388.5 347.4h1.4v1.4h-1.4zM389.8 347.1h1.4v1.4h-1.4zM400.1 348.5h1.4v1.4h-1.4zM403.2 349.0h1.4v1.4h-1.4zM384.2 350.1h1.4v1.4h-1.4zM393.9 350.5h1.4v1.4h-1.4zM381.1 351.9h1.4v1.4h-1.4zM400.2 351.5h1.4v1.4h-1.4zM381.2 353.1h1.4v1.4h-1.4zM385.7 353.3h1.4v1.4h-1.4zM389.8 353.5h1.4v1.4h-1.4zM392.7 352.8h1.4v1.4h-1.4zM377.9 354.8h1.4v1.4h-1.4zM382.6 354.4h1.4v1.4h-1.4zM395.3 354.9h1.4v1.4h-1.4zM377.1 356.3h1.4v1.4h-1.4zM382.3 356.3h1.4v1.4h-1.4zM387.2 356.4h1.4v1.4h-1.4zM375.6 357.3h1.4v1.4h-1.4zM379.7 357.2h1.4v1.4h-1.4zM381.2 357.5h1.4v1.4h-1.4zM388.2 357.5h1.4v1.4h-1.4zM391.4 357.4h1.4v1.4h-1.4zM373.6 358.9h1.4v1.4h-1.4zM375.6 359.2h1.4v1.4h-1.4zM377.0 359.2h1.4v1.4h-1.4zM378.4 358.7h1.4v1.4h-1.4zM402.6 359.0h1.4v1.4h-1.4zM404.3 359.0h1.4v1.4h-1.4zM384.1 360.5h1.4v1.4h-1.4zM387.1 360.2h1.4v1.4h-1.4zM399.9 360.4h1.4v1.4h-1.4zM401.1 360.2h1.4v1.4h-1.4zM379.8 361.8h1.4v1.4h-1.4zM384.4 361.9h1.4v1.4h-1.4zM389.7 362.0h1.4v1.4h-1.4zM393.9 361.9h1.4v1.4h-1.4zM369.7 363.4h1.4v1.4h-1.4zM372.7 363.6h1.4v1.4h-1.4zM388.2 363.0h1.4v1.4h-1.4zM374.1 364.8h1.4v1.4h-1.4zM385.6 364.6h1.4v1.4h-1.4zM366.9 365.9h1.4v1.4h-1.4zM371.0 365.9h1.4v1.4h-1.4zM381.5 366.0h1.4v1.4h-1.4zM382.7 366.0h1.4v1.4h-1.4zM369.4 367.8h1.4v1.4h-1.4zM371.0 367.6h1.4v1.4h-1.4zM384.4 367.5h1.4v1.4h-1.4zM388.5 367.5h1.4v1.4h-1.4zM366.4 369.0h1.4v1.4h-1.4zM373.6 369.4h1.4v1.4h-1.4zM377.0 368.8h1.4v1.4h-1.4zM378.3 369.4h1.4v1.4h-1.4zM382.8 369.1h1.4v1.4h-1.4zM375.7 370.8h1.4v1.4h-1.4zM378.5 370.7h1.4v1.4h-1.4zM361.2 372.1h1.4v1.4h-1.4zM369.7 372.2h1.4v1.4h-1.4zM372.5 372.3h1.4v1.4h-1.4zM374.0 371.9h1.4v1.4h-1.4zM357.8 373.1h1.4v1.4h-1.4zM374.0 373.5h1.4v1.4h-1.4zM380.0 373.5h1.4v1.4h-1.4zM359.5 374.6h1.4v1.4h-1.4zM365.2 375.1h1.4v1.4h-1.4zM372.8 374.7h1.4v1.4h-1.4zM357.7 376.4h1.4v1.4h-1.4zM359.6 376.7h1.4v1.4h-1.4zM360.9 376.4h1.4v1.4h-1.4zM373.9 376.6h1.4v1.4h-1.4zM346.7 378.1h1.4v1.4h-1.4zM354.9 377.9h1.4v1.4h-1.4zM363.5 377.6h1.4v1.4h-1.4zM365.0 377.5h1.4v1.4h-1.4z"/>
<path fill="#629dd4" d="M407.3 259.0h1.4v1.4h-1.4zM409.0 263.0h1.4v1.4h-1.4zM400.0 265.0h1.4v1.4h-1.4zM385.5 267.4h1.4v1.4h-1.4zM403.2 268.8h1.4v1.4h-1.4zM407.1 269.3h1.4v1.4h-1.4zM398.5 270.3h1.4v1.4h-1.4zM417.6 270.5h1.4v1.4h-1.4zM394.0 271.6h1.4v1.4h-1.4zM406.0 271.7h1.4v1.4h-1.4zM411.9 272.0h1.4v1.4h-1.4zM381.0 273.7h1.4v1.4h-1.4zM388.7 273.6h1.4v1.4h-1.4zM393.9 273.3h1.4v1.4h-1.4zM398.6 273.3h1.4v1.4h-1.4zM400.3 273.6h1.4v1.4h-1.4zM402.8 273.1h1.4v1.4h-1.4zM409.0 273.1h1.4v1.4h-1.4zM414.6 273.7h1.4v1.4h-1.4zM421.8 273.4h1.4v1.4h-1.4zM387.2 274.7h1.4v1.4h-1.4zM395.9 274.7h1.4v1.4h-1.4zM397.4 274.8h1.4v1.4h-1.4zM399.7 274.6h1.4v1.4h-1.4zM406.1 275.1h1.4v1.4h-1.4zM377.9 278.0h1.4v1.4h-1.4zM387.1 277.8h1.4v1.4h-1.4zM396.9 277.9h1.4v1.4h-1.4zM404.4 278.1h1.4v1.4h-1.4zM412.9 278.0h1.4v1.4h-1.4zM375.6 278.9h1.4v1.4h-1.4zM403.2 279.0h1.4v1.4h-1.4zM378.2 280.8h1.4v1.4h-1.4zM382.6 281.0h1.4v1.4h-1.4zM392.9 280.8h1.4v1.4h-1.4zM394.1 280.9h1.4v1.4h-1.4zM404.3 280.9h1.4v1.4h-1.4zM410.5 280.5h1.4v1.4h-1.4zM374.0 282.2h1.4v1.4h-1.4zM375.0 282.2h1.4v1.4h-1.4zM376.9 282.2h1.4v1.4h-1.4zM379.8 282.3h1.4v1.4h-1.4zM388.6 282.4h1.4v1.4h-1.4zM390.1 281.9h1.4v1.4h-1.4zM395.6 282.0h1.4v1.4h-1.4zM411.5 281.9h1.4v1.4h-1.4zM418.6 282.2h1.4v1.4h-1.4zM417.3 283.9h1.4v1.4h-1.4zM370.7 285.2h1.4v1.4h-1.4zM377.9 284.7h1.4v1.4h-1.4zM385.8 285.3h1.4v1.4h-1.4zM392.9 285.2h1.4v1.4h-1.4zM394.2 285.0h1.4v1.4h-1.4zM353.7 286.5h1.4v1.4h-1.4zM359.3 286.7h1.4v1.4h-1.4zM365.0 286.3h1.4v1.4h-1.4zM369.6 286.3h1.4v1.4h-1.4zM370.7 286.4h1.4v1.4h-1.4zM372.8 286.3h1.4v1.4h-1.4zM385.8 286.5h1.4v1.4h-1.4zM389.8 286.1h1.4v1.4h-1.4zM404.6 286.4h1.4v1.4h-1.4zM408.8 286.3h1.4v1.4h-1.4zM411.6 286.6h1.4v1.4h-1.4zM412.9 286.6h1.4v1.4h-1.4zM414.5 286.8h1.4v1.4h-1.4zM417.6 286.8h1.4v1.4h-1.4zM352.2 288.2h1.4v1.4h-1.4zM360.6 287.7h1.4v1.4h-1.4zM367.8 287.7h1.4v1.4h-1.4zM375.7 287.6h1.4v1.4h-1.4zM382.9 287.7h1.4v1.4h-1.4zM385.6 288.1h1.4v1.4h-1.4zM415.9 288.2h1.4v1.4h-1.4zM357.8 289.3h1.4v1.4h-1.4zM362.3 289.5h1.4v1.4h-1.4zM368.3 289.3h1.4v1.4h-1.4zM376.9 289.7h1.4v1.4h-1.4zM378.1 289.4h1.4v1.4h-1.4zM405.9 289.3h1.4v1.4h-1.4zM349.0 290.5h1.4v1.4h-1.4zM358.1 290.8h1.4v1.4h-1.4zM360.7 291.1h1.4v1.4h-1.4zM365.4 290.7h1.4v1.4h-1.4zM369.7 291.1h1.4v1.4h-1.4zM382.8 290.7h1.4v1.4h-1.4zM400.1 290.5h1.4v1.4h-1.4zM408.9 291.0h1.4v1.4h-1.4zM414.7 290.9h1.4v1.4h-1.4zM353.4 292.3h1.4v1.4h-1.4zM362.5 292.1h1.4v1.4h-1.4zM374.0 292.0h1.4v1.4h-1.4zM377.1 292.2h1.4v1.4h-1.4zM379.9 292.6h1.4v1.4h-1.4zM390.0 292.2h1.4v1.4h-1.4zM342.1 293.5h1.4v1.4h-1.4zM352.1 293.5h1.4v1.4h-1.4zM402.7 293.5h1.4v1.4h-1.4zM413.0 293.9h1.4v1.4h-1.4zM356.5 295.5h1.4v1.4h-1.4zM357.9 295.4h1.4v1.4h-1.4zM360.6 294.8h1.4v1.4h-1.4zM366.5 295.0h1.4v1.4h-1.4zM402.9 294.9h1.4v1.4h-1.4zM418.6 295.2h1.4v1.4h-1.4zM354.9 296.6h1.4v1.4h-1.4zM356.5 296.3h1.4v1.4h-1.4zM362.3 296.9h1.4v1.4h-1.4zM409.8 296.9h1.4v1.4h-1.4zM337.7 297.8h1.4v1.4h-1.4zM358.2 297.7h1.4v1.4h-1.4zM408.7 298.1h1.4v1.4h-1.4zM347.8 299.8h1.4v1.4h-1.4zM407.2 299.3h1.4v1.4h-1.4zM413.1 299.7h1.4v1.4h-1.4zM340.3 300.7h1.4v1.4h-1.4zM346.4 300.7h1.4v1.4h-1.4zM349.5 300.9h1.4v1.4h-1.4zM352.0 300.7h1.4v1.4h-1.4zM408.4 301.0h1.4v1.4h-1.4zM330.3 302.2h1.4v1.4h-1.4zM336.5 302.4h1.4v1.4h-1.4zM337.8 302.7h1.4v1.4h-1.4zM344.7 302.1h1.4v1.4h-1.4zM357.9 302.7h1.4v1.4h-1.4zM414.7 302.1h1.4v1.4h-1.4zM327.3 304.2h1.4v1.4h-1.4zM337.9 304.1h1.4v1.4h-1.4zM327.6 305.3h1.4v1.4h-1.4zM340.6 305.5h1.4v1.4h-1.4zM342.1 305.5h1.4v1.4h-1.4zM345.1 305.6h1.4v1.4h-1.4zM347.6 305.2h1.4v1.4h-1.4zM408.6 305.3h1.4v1.4h-1.4zM414.7 305.2h1.4v1.4h-1.4zM320.0 307.0h1.4v1.4h-1.4zM326.4 307.1h1.4v1.4h-1.4zM329.1 306.6h1.4v1.4h-1.4zM339.1 307.0h1.4v1.4h-1.4zM347.7 307.0h1.4v1.4h-1.4zM408.9 306.6h1.4v1.4h-1.4zM327.6 308.3h1.4v1.4h-1.4zM330.2 308.3h1.4v1.4h-1.4zM340.4 308.1h1.4v1.4h-1.4zM345.2 308.0h1.4v1.4h-1.4zM414.2 308.1h1.4v1.4h-1.4zM317.1 309.4h1.4v1.4h-1.4zM331.7 309.6h1.4v1.4h-1.4zM336.2 309.9h1.4v1.4h-1.4zM337.4 309.7h1.4v1.4h-1.4zM346.4 309.4h1.4v1.4h-1.4zM405.8 309.4h1.4v1.4h-1.4zM410.0 309.9h1.4v1.4h-1.4zM411.7 310.0h1.4v1.4h-1.4zM333.5 311.3h1.4v1.4h-1.4zM413.3 311.3h1.4v1.4h-1.4zM320.1 312.2h1.4v1.4h-1.4zM328.7 312.3h1.4v1.4h-1.4zM331.8 312.9h1.4v1.4h-1.4zM334.5 312.3h1.4v1.4h-1.4zM342.3 312.9h1.4v1.4h-1.4zM408.6 312.5h1.4v1.4h-1.4zM325.9 314.2h1.4v1.4h-1.4zM333.5 314.0h1.4v1.4h-1.4zM340.4 314.1h1.4v1.4h-1.4zM404.6 313.8h1.4v1.4h-1.4zM408.8 313.8h1.4v1.4h-1.4zM318.8 315.8h1.4v1.4h-1.4zM320.1 315.8h1.4v1.4h-1.4zM322.0 315.1h1.4v1.4h-1.4zM402.6 315.1h1.4v1.4h-1.4zM404.5 315.3h1.4v1.4h-1.4zM411.3 315.3h1.4v1.4h-1.4zM321.6 316.8h1.4v1.4h-1.4zM327.8 316.6h1.4v1.4h-1.4zM406.0 316.7h1.4v1.4h-1.4zM413.4 316.8h1.4v1.4h-1.4zM316.2 318.6h1.4v1.4h-1.4zM321.6 318.4h1.4v1.4h-1.4zM326.2 318.0h1.4v1.4h-1.4zM331.9 318.5h1.4v1.4h-1.4zM411.3 318.1h1.4v1.4h-1.4zM313.2 319.7h1.4v1.4h-1.4zM318.8 319.9h1.4v1.4h-1.4zM401.5 319.5h1.4v1.4h-1.4zM408.7 319.8h1.4v1.4h-1.4zM413.0 319.9h1.4v1.4h-1.4zM311.7 321.5h1.4v1.4h-1.4zM320.6 320.9h1.4v1.4h-1.4zM323.0 321.1h1.4v1.4h-1.4zM400.2 321.0h1.4v1.4h-1.4zM407.0 321.2h1.4v1.4h-1.4zM321.5 322.8h1.4v1.4h-1.4zM400.3 322.7h1.4v1.4h-1.4zM402.8 322.4h1.4v1.4h-1.4zM405.6 322.9h1.4v1.4h-1.4zM409.0 322.4h1.4v1.4h-1.4zM312.9 324.2h1.4v1.4h-1.4zM315.8 324.0h1.4v1.4h-1.4zM317.6 324.3h1.4v1.4h-1.4zM323.3 324.1h1.4v1.4h-1.4zM407.5 324.2h1.4v1.4h-1.4zM402.7 325.8h1.4v1.4h-1.4zM405.5 325.5h1.4v1.4h-1.4zM407.3 325.7h1.4v1.4h-1.4zM417.3 325.6h1.4v1.4h-1.4zM318.5 327.1h1.4v1.4h-1.4zM311.5 330.3h1.4v1.4h-1.4zM315.7 330.2h1.4v1.4h-1.4zM317.3 329.7h1.4v1.4h-1.4zM410.5 329.6h1.4v1.4h-1.4zM411.9 330.1h1.4v1.4h-1.4zM415.9 330.0h1.4v1.4h-1.4zM315.8 331.4h1.4v1.4h-1.4zM395.7 331.3h1.4v1.4h-1.4zM397.0 331.2h1.4v1.4h-1.4zM398.2 331.5h1.4v1.4h-1.4zM313.2 332.6h1.4v1.4h-1.4zM314.6 332.8h1.4v1.4h-1.4zM395.5 332.6h1.4v1.4h-1.4zM400.2 332.9h1.4v1.4h-1.4zM407.2 333.1h1.4v1.4h-1.4zM311.3 334.6h1.4v1.4h-1.4zM394.4 335.9h1.4v1.4h-1.4zM408.4 335.8h1.4v1.4h-1.4zM394.5 337.4h1.4v1.4h-1.4zM402.8 336.9h1.4v1.4h-1.4zM404.1 337.3h1.4v1.4h-1.4zM407.0 337.2h1.4v1.4h-1.4zM397.2 338.6h1.4v1.4h-1.4zM404.3 338.9h1.4v1.4h-1.4zM395.9 343.0h1.4v1.4h-1.4zM389.8 344.2h1.4v1.4h-1.4zM391.2 344.7h1.4v1.4h-1.4zM401.6 344.3h1.4v1.4h-1.4zM404.1 344.2h1.4v1.4h-1.4zM410.3 344.4h1.4v1.4h-1.4zM310.0 347.6h1.4v1.4h-1.4zM386.8 347.4h1.4v1.4h-1.4zM398.5 347.2h1.4v1.4h-1.4zM401.2 347.4h1.4v1.4h-1.4zM403.2 347.1h1.4v1.4h-1.4zM405.9 347.2h1.4v1.4h-1.4zM384.4 348.7h1.4v1.4h-1.4zM387.0 348.5h1.4v1.4h-1.4zM390.0 348.6h1.4v1.4h-1.4zM385.2 350.3h1.4v1.4h-1.4zM387.0 350.6h1.4v1.4h-1.4zM390.2 350.0h1.4v1.4h-1.4zM395.7 350.6h1.4v1.4h-1.4zM400.2 350.4h1.4v1.4h-1.4zM382.6 352.0h1.4v1.4h-1.4zM388.7 351.5h1.4v1.4h-1.4zM391.1 351.9h1.4v1.4h-1.4zM395.9 352.0h1.4v1.4h-1.4zM379.5 352.8h1.4v1.4h-1.4zM394.4 352.9h1.4v1.4h-1.4zM401.5 353.2h1.4v1.4h-1.4zM404.7 353.3h1.4v1.4h-1.4zM385.3 354.9h1.4v1.4h-1.4zM390.1 354.4h1.4v1.4h-1.4zM391.4 354.4h1.4v1.4h-1.4zM393.9 354.7h1.4v1.4h-1.4zM388.7 356.0h1.4v1.4h-1.4zM406.1 356.2h1.4v1.4h-1.4zM392.5 360.1h1.4v1.4h-1.4zM372.7 362.0h1.4v1.4h-1.4zM374.0 362.0h1.4v1.4h-1.4zM382.4 361.7h1.4v1.4h-1.4zM369.8 364.5h1.4v1.4h-1.4zM370.8 364.5h1.4v1.4h-1.4zM377.9 364.4h1.4v1.4h-1.4zM369.6 366.5h1.4v1.4h-1.4zM384.0 366.4h1.4v1.4h-1.4zM368.0 367.4h1.4v1.4h-1.4zM399.7 367.5h1.4v1.4h-1.4zM365.3 368.8h1.4v1.4h-1.4zM384.2 369.1h1.4v1.4h-1.4zM365.4 370.6h1.4v1.4h-1.4zM366.6 370.8h1.4v1.4h-1.4zM372.6 370.8h1.4v1.4h-1.4zM380.9 372.2h1.4v1.4h-1.4zM382.4 372.0h1.4v1.4h-1.4zM368.1 373.8h1.4v1.4h-1.4zM370.9 373.1h1.4v1.4h-1.4zM372.4 373.4h1.4v1.4h-1.4zM357.7 375.0h1.4v1.4h-1.4zM362.2 374.9h1.4v1.4h-1.4zM364.0 375.2h1.4v1.4h-1.4zM373.6 375.1h1.4v1.4h-1.4zM381.1 374.8h1.4v1.4h-1.4zM355.3 376.6h1.4v1.4h-1.4zM376.8 376.2h1.4v1.4h-1.4zM378.1 376.0h1.4v1.4h-1.4z"/>
<path fill="#6fa5d9" d="M403.0 261.5h1.4v1.4h-1.4zM391.6 266.4h1.4v1.4h-1.4zM395.9 266.4h1.4v1.4h-1.4zM398.3 267.3h1.4v1.4h-1.4zM402.8 267.4h1.4v1.4h-1.4zM408.9 267.9h1.4v1.4h-1.4zM395.5 269.1h1.4v1.4h-1.4zM398.3 269.0h1.4v1.4h-1.4zM408.5 268.8h1.4v1.4h-1.4zM395.6 270.7h1.4v1.4h-1.4zM421.9 270.2h1.4v1.4h-1.4zM393.0 271.8h1.4v1.4h-1.4zM395.8 272.3h1.4v1.4h-1.4zM397.0 271.8h1.4v1.4h-1.4zM404.6 272.1h1.4v1.4h-1.4zM407.2 272.3h1.4v1.4h-1.4zM401.2 273.6h1.4v1.4h-1.4zM418.9 273.6h1.4v1.4h-1.4zM375.4 275.2h1.4v1.4h-1.4zM398.9 275.0h1.4v1.4h-1.4zM394.3 276.4h1.4v1.4h-1.4zM404.4 276.3h1.4v1.4h-1.4zM363.5 277.4h1.4v1.4h-1.4zM379.7 278.0h1.4v1.4h-1.4zM391.1 278.0h1.4v1.4h-1.4zM401.6 277.8h1.4v1.4h-1.4zM373.9 279.5h1.4v1.4h-1.4zM382.6 278.9h1.4v1.4h-1.4zM388.6 280.9h1.4v1.4h-1.4zM407.4 280.8h1.4v1.4h-1.4zM413.3 280.5h1.4v1.4h-1.4zM399.7 282.0h1.4v1.4h-1.4zM402.9 282.0h1.4v1.4h-1.4zM417.5 282.2h1.4v1.4h-1.4zM368.4 283.8h1.4v1.4h-1.4zM369.8 283.7h1.4v1.4h-1.4zM385.2 283.8h1.4v1.4h-1.4zM402.9 283.7h1.4v1.4h-1.4zM408.8 283.8h1.4v1.4h-1.4zM411.3 283.6h1.4v1.4h-1.4zM413.2 283.6h1.4v1.4h-1.4zM366.7 285.3h1.4v1.4h-1.4zM375.5 285.3h1.4v1.4h-1.4zM376.7 284.8h1.4v1.4h-1.4zM380.9 285.1h1.4v1.4h-1.4zM386.7 285.2h1.4v1.4h-1.4zM403.0 284.7h1.4v1.4h-1.4zM378.5 286.4h1.4v1.4h-1.4zM392.8 286.3h1.4v1.4h-1.4zM394.0 286.6h1.4v1.4h-1.4zM403.0 286.2h1.4v1.4h-1.4zM406.1 286.5h1.4v1.4h-1.4zM358.1 288.0h1.4v1.4h-1.4zM370.7 288.2h1.4v1.4h-1.4zM390.1 288.2h1.4v1.4h-1.4zM397.1 288.1h1.4v1.4h-1.4zM399.7 288.2h1.4v1.4h-1.4zM402.6 288.0h1.4v1.4h-1.4zM407.5 287.7h1.4v1.4h-1.4zM356.2 289.7h1.4v1.4h-1.4zM366.5 289.3h1.4v1.4h-1.4zM372.5 289.3h1.4v1.4h-1.4zM373.8 289.6h1.4v1.4h-1.4zM381.4 289.3h1.4v1.4h-1.4zM383.9 289.3h1.4v1.4h-1.4zM391.1 289.1h1.4v1.4h-1.4zM398.3 289.2h1.4v1.4h-1.4zM411.6 289.7h1.4v1.4h-1.4zM415.7 289.2h1.4v1.4h-1.4zM355.0 290.8h1.4v1.4h-1.4zM363.7 290.5h1.4v1.4h-1.4zM372.2 290.7h1.4v1.4h-1.4zM375.4 290.6h1.4v1.4h-1.4zM398.4 290.8h1.4v1.4h-1.4zM411.9 291.1h1.4v1.4h-1.4zM415.8 291.0h1.4v1.4h-1.4zM355.1 292.1h1.4v1.4h-1.4zM356.7 292.2h1.4v1.4h-1.4zM358.1 292.1h1.4v1.4h-1.4zM360.7 292.4h1.4v1.4h-1.4zM371.3 292.4h1.4v1.4h-1.4zM375.1 292.5h1.4v1.4h-1.4zM381.5 292.4h1.4v1.4h-1.4zM382.8 292.1h1.4v1.4h-1.4zM392.4 292.1h1.4v1.4h-1.4zM394.4 292.0h1.4v1.4h-1.4zM399.7 292.3h1.4v1.4h-1.4zM345.2 293.9h1.4v1.4h-1.4zM349.4 293.9h1.4v1.4h-1.4zM353.6 293.7h1.4v1.4h-1.4zM359.5 294.0h1.4v1.4h-1.4zM369.7 293.4h1.4v1.4h-1.4zM404.5 294.0h1.4v1.4h-1.4zM417.7 293.9h1.4v1.4h-1.4zM347.7 294.9h1.4v1.4h-1.4zM404.3 294.9h1.4v1.4h-1.4zM410.1 295.0h1.4v1.4h-1.4zM347.7 296.7h1.4v1.4h-1.4zM407.0 296.6h1.4v1.4h-1.4zM333.4 298.4h1.4v1.4h-1.4zM340.3 297.7h1.4v1.4h-1.4zM343.4 298.3h1.4v1.4h-1.4zM349.5 298.2h1.4v1.4h-1.4zM355.2 297.8h1.4v1.4h-1.4zM362.2 298.3h1.4v1.4h-1.4zM407.1 297.8h1.4v1.4h-1.4zM418.7 298.2h1.4v1.4h-1.4zM339.1 299.3h1.4v1.4h-1.4zM342.1 299.8h1.4v1.4h-1.4zM344.6 299.7h1.4v1.4h-1.4zM408.6 299.2h1.4v1.4h-1.4zM410.1 299.3h1.4v1.4h-1.4zM335.0 301.0h1.4v1.4h-1.4zM350.9 300.7h1.4v1.4h-1.4zM353.4 301.1h1.4v1.4h-1.4zM411.3 300.9h1.4v1.4h-1.4zM413.2 300.6h1.4v1.4h-1.4zM340.9 302.2h1.4v1.4h-1.4zM347.5 302.6h1.4v1.4h-1.4zM353.8 302.2h1.4v1.4h-1.4zM407.3 302.3h1.4v1.4h-1.4zM410.3 302.6h1.4v1.4h-1.4zM411.3 302.5h1.4v1.4h-1.4zM329.0 304.0h1.4v1.4h-1.4zM346.1 304.0h1.4v1.4h-1.4zM353.5 303.7h1.4v1.4h-1.4zM411.9 303.6h1.4v1.4h-1.4zM330.6 305.5h1.4v1.4h-1.4zM333.4 305.3h1.4v1.4h-1.4zM346.1 305.4h1.4v1.4h-1.4zM411.7 305.0h1.4v1.4h-1.4zM412.8 305.2h1.4v1.4h-1.4zM324.9 306.5h1.4v1.4h-1.4zM337.6 307.1h1.4v1.4h-1.4zM342.0 306.4h1.4v1.4h-1.4zM346.4 306.6h1.4v1.4h-1.4zM407.1 307.0h1.4v1.4h-1.4zM323.1 308.5h1.4v1.4h-1.4zM334.8 308.1h1.4v1.4h-1.4zM346.5 308.4h1.4v1.4h-1.4zM347.9 308.1h1.4v1.4h-1.4zM407.5 308.5h1.4v1.4h-1.4zM410.5 308.1h1.4v1.4h-1.4zM326.2 309.8h1.4v1.4h-1.4zM334.6 309.5h1.4v1.4h-1.4zM343.3 309.3h1.4v1.4h-1.4zM345.1 309.8h1.4v1.4h-1.4zM414.7 309.8h1.4v1.4h-1.4zM416.3 309.9h1.4v1.4h-1.4zM331.8 311.1h1.4v1.4h-1.4zM337.5 311.1h1.4v1.4h-1.4zM339.2 311.3h1.4v1.4h-1.4zM340.5 310.9h1.4v1.4h-1.4zM343.3 311.1h1.4v1.4h-1.4zM414.4 311.0h1.4v1.4h-1.4zM417.4 310.9h1.4v1.4h-1.4zM311.4 312.3h1.4v1.4h-1.4zM315.7 312.8h1.4v1.4h-1.4zM319.1 312.6h1.4v1.4h-1.4zM336.1 312.6h1.4v1.4h-1.4zM410.3 312.4h1.4v1.4h-1.4zM318.6 313.9h1.4v1.4h-1.4zM327.6 314.2h1.4v1.4h-1.4zM410.3 313.7h1.4v1.4h-1.4zM413.3 313.7h1.4v1.4h-1.4zM327.5 315.5h1.4v1.4h-1.4zM334.5 315.2h1.4v1.4h-1.4zM418.8 315.5h1.4v1.4h-1.4zM325.7 316.6h1.4v1.4h-1.4zM404.6 317.2h1.4v1.4h-1.4zM411.8 316.7h1.4v1.4h-1.4zM314.3 318.4h1.4v1.4h-1.4zM317.3 318.3h1.4v1.4h-1.4zM323.4 318.3h1.4v1.4h-1.4zM327.8 318.1h1.4v1.4h-1.4zM401.2 318.0h1.4v1.4h-1.4zM317.5 320.1h1.4v1.4h-1.4zM404.6 319.5h1.4v1.4h-1.4zM410.5 319.7h1.4v1.4h-1.4zM411.3 320.0h1.4v1.4h-1.4zM313.3 321.2h1.4v1.4h-1.4zM404.5 321.6h1.4v1.4h-1.4zM317.2 322.9h1.4v1.4h-1.4zM324.7 322.6h1.4v1.4h-1.4zM419.1 322.6h1.4v1.4h-1.4zM314.8 324.1h1.4v1.4h-1.4zM324.4 324.4h1.4v1.4h-1.4zM404.2 324.2h1.4v1.4h-1.4zM405.9 324.1h1.4v1.4h-1.4zM312.8 325.6h1.4v1.4h-1.4zM316.1 325.8h1.4v1.4h-1.4zM401.8 325.9h1.4v1.4h-1.4zM404.5 325.9h1.4v1.4h-1.4zM412.9 325.5h1.4v1.4h-1.4zM316.1 327.2h1.4v1.4h-1.4zM397.2 327.1h1.4v1.4h-1.4zM401.8 326.8h1.4v1.4h-1.4zM406.1 328.6h1.4v1.4h-1.4zM411.5 328.2h1.4v1.4h-1.4zM401.3 330.3h1.4v1.4h-1.4zM404.6 330.2h1.4v1.4h-1.4zM407.0 329.8h1.4v1.4h-1.4zM311.3 331.5h1.4v1.4h-1.4zM394.4 331.4h1.4v1.4h-1.4zM406.0 331.4h1.4v1.4h-1.4zM410.1 331.5h1.4v1.4h-1.4zM411.5 331.4h1.4v1.4h-1.4zM311.9 332.6h1.4v1.4h-1.4zM398.6 332.9h1.4v1.4h-1.4zM411.9 332.6h1.4v1.4h-1.4zM313.0 334.2h1.4v1.4h-1.4zM396.0 334.4h1.4v1.4h-1.4zM397.0 334.2h1.4v1.4h-1.4zM390.0 335.7h1.4v1.4h-1.4zM395.9 335.6h1.4v1.4h-1.4zM398.3 336.0h1.4v1.4h-1.4zM407.1 336.0h1.4v1.4h-1.4zM389.8 336.9h1.4v1.4h-1.4zM395.9 337.4h1.4v1.4h-1.4zM391.0 338.6h1.4v1.4h-1.4zM392.7 338.5h1.4v1.4h-1.4zM394.1 338.7h1.4v1.4h-1.4zM405.7 338.9h1.4v1.4h-1.4zM310.2 339.8h1.4v1.4h-1.4zM388.7 340.0h1.4v1.4h-1.4zM389.8 340.2h1.4v1.4h-1.4zM397.4 341.3h1.4v1.4h-1.4zM402.9 341.3h1.4v1.4h-1.4zM386.9 342.7h1.4v1.4h-1.4zM388.2 342.8h1.4v1.4h-1.4zM391.5 342.7h1.4v1.4h-1.4zM401.4 343.0h1.4v1.4h-1.4zM388.3 344.2h1.4v1.4h-1.4zM393.9 344.4h1.4v1.4h-1.4zM402.8 345.9h1.4v1.4h-1.4zM381.4 350.3h1.4v1.4h-1.4zM379.9 351.5h1.4v1.4h-1.4zM394.3 351.6h1.4v1.4h-1.4zM398.4 351.4h1.4v1.4h-1.4zM397.2 353.4h1.4v1.4h-1.4zM399.9 352.9h1.4v1.4h-1.4zM386.9 354.5h1.4v1.4h-1.4zM388.1 354.8h1.4v1.4h-1.4zM392.7 354.6h1.4v1.4h-1.4zM381.5 356.1h1.4v1.4h-1.4zM391.5 355.7h1.4v1.4h-1.4zM392.8 356.1h1.4v1.4h-1.4zM398.4 355.9h1.4v1.4h-1.4zM376.6 357.4h1.4v1.4h-1.4zM392.5 357.3h1.4v1.4h-1.4zM379.5 359.1h1.4v1.4h-1.4zM385.3 359.0h1.4v1.4h-1.4zM391.1 358.8h1.4v1.4h-1.4zM397.2 359.2h1.4v1.4h-1.4zM382.4 360.7h1.4v1.4h-1.4zM371.1 361.8h1.4v1.4h-1.4zM385.3 361.9h1.4v1.4h-1.4zM371.0 363.5h1.4v1.4h-1.4zM373.6 363.3h1.4v1.4h-1.4zM379.6 363.6h1.4v1.4h-1.4zM387.0 363.0h1.4v1.4h-1.4zM372.5 364.7h1.4v1.4h-1.4zM375.2 364.5h1.4v1.4h-1.4zM376.6 365.0h1.4v1.4h-1.4zM368.4 366.3h1.4v1.4h-1.4zM372.5 366.1h1.4v1.4h-1.4zM378.5 366.4h1.4v1.4h-1.4zM385.3 366.5h1.4v1.4h-1.4zM381.0 367.6h1.4v1.4h-1.4zM363.7 369.2h1.4v1.4h-1.4zM371.3 370.8h1.4v1.4h-1.4zM362.3 372.2h1.4v1.4h-1.4zM361.0 373.2h1.4v1.4h-1.4zM365.0 373.2h1.4v1.4h-1.4zM369.6 373.5h1.4v1.4h-1.4zM375.4 373.3h1.4v1.4h-1.4zM355.3 375.1h1.4v1.4h-1.4zM361.1 374.6h1.4v1.4h-1.4zM366.4 374.9h1.4v1.4h-1.4zM365.1 376.3h1.4v1.4h-1.4zM366.8 376.5h1.4v1.4h-1.4zM372.2 376.2h1.4v1.4h-1.4zM352.4 377.8h1.4v1.4h-1.4zM356.5 377.7h1.4v1.4h-1.4zM367.0 377.6h1.4v1.4h-1.4zM367.8 378.1h1.4v1.4h-1.4z"/>
<path fill="#7fb1de" d="M409.9 266.0h1.4v1.4h-1.4zM415.7 266.1h1.4v1.4h-1.4zM417.3 266.1h1.4v1.4h-1.4zM397.2 269.3h1.4v1.4h-1.4zM406.0 269.1h1.4v1.4h-1.4zM397.2 270.5h1.4v1.4h-1.4zM401.5 270.7h1.4v1.4h-1.4zM398.4 271.7h1.4v1.4h-1.4zM401.8 272.1h1.4v1.4h-1.4zM385.5 273.4h1.4v1.4h-1.4zM395.8 273.5h1.4v1.4h-1.4zM404.0 273.6h1.4v1.4h-1.4zM412.7 273.5h1.4v1.4h-1.4zM389.9 275.2h1.4v1.4h-1.4zM407.1 275.0h1.4v1.4h-1.4zM413.1 274.9h1.4v1.4h-1.4zM388.1 276.4h1.4v1.4h-1.4zM390.0 276.3h1.4v1.4h-1.4zM397.4 276.6h1.4v1.4h-1.4zM402.7 276.2h1.4v1.4h-1.4zM408.8 276.2h1.4v1.4h-1.4zM410.3 276.1h1.4v1.4h-1.4zM388.1 277.7h1.4v1.4h-1.4zM398.5 277.9h1.4v1.4h-1.4zM410.3 277.7h1.4v1.4h-1.4zM378.5 279.4h1.4v1.4h-1.4zM381.3 279.5h1.4v1.4h-1.4zM385.5 279.3h1.4v1.4h-1.4zM388.5 279.2h1.4v1.4h-1.4zM390.1 279.3h1.4v1.4h-1.4zM391.2 279.1h1.4v1.4h-1.4zM398.2 279.5h1.4v1.4h-1.4zM404.1 279.5h1.4v1.4h-1.4zM412.9 279.3h1.4v1.4h-1.4zM375.5 280.8h1.4v1.4h-1.4zM379.9 280.4h1.4v1.4h-1.4zM395.5 280.8h1.4v1.4h-1.4zM401.1 280.8h1.4v1.4h-1.4zM414.8 280.8h1.4v1.4h-1.4zM372.4 281.8h1.4v1.4h-1.4zM378.4 282.4h1.4v1.4h-1.4zM391.2 282.3h1.4v1.4h-1.4zM394.2 282.1h1.4v1.4h-1.4zM397.0 282.1h1.4v1.4h-1.4zM401.7 281.9h1.4v1.4h-1.4zM404.4 282.2h1.4v1.4h-1.4zM363.6 283.7h1.4v1.4h-1.4zM378.4 283.8h1.4v1.4h-1.4zM392.7 283.5h1.4v1.4h-1.4zM404.2 283.7h1.4v1.4h-1.4zM407.3 283.9h1.4v1.4h-1.4zM418.6 283.5h1.4v1.4h-1.4zM368.0 285.3h1.4v1.4h-1.4zM396.0 285.0h1.4v1.4h-1.4zM396.9 285.2h1.4v1.4h-1.4zM398.3 285.0h1.4v1.4h-1.4zM410.0 285.2h1.4v1.4h-1.4zM413.1 284.9h1.4v1.4h-1.4zM368.3 286.4h1.4v1.4h-1.4zM380.9 286.2h1.4v1.4h-1.4zM384.2 286.6h1.4v1.4h-1.4zM388.3 286.3h1.4v1.4h-1.4zM401.1 286.7h1.4v1.4h-1.4zM359.1 288.0h1.4v1.4h-1.4zM363.5 287.9h1.4v1.4h-1.4zM376.5 288.2h1.4v1.4h-1.4zM378.5 288.1h1.4v1.4h-1.4zM379.8 287.8h1.4v1.4h-1.4zM381.2 287.7h1.4v1.4h-1.4zM384.2 287.8h1.4v1.4h-1.4zM404.5 287.7h1.4v1.4h-1.4zM349.4 289.4h1.4v1.4h-1.4zM363.7 289.1h1.4v1.4h-1.4zM369.3 289.1h1.4v1.4h-1.4zM385.6 289.0h1.4v1.4h-1.4zM395.9 289.5h1.4v1.4h-1.4zM404.2 289.4h1.4v1.4h-1.4zM407.5 289.4h1.4v1.4h-1.4zM408.7 289.2h1.4v1.4h-1.4zM343.2 290.5h1.4v1.4h-1.4zM356.4 290.8h1.4v1.4h-1.4zM359.2 290.7h1.4v1.4h-1.4zM366.6 290.9h1.4v1.4h-1.4zM373.9 291.1h1.4v1.4h-1.4zM387.0 290.7h1.4v1.4h-1.4zM394.1 290.6h1.4v1.4h-1.4zM395.9 290.9h1.4v1.4h-1.4zM363.7 292.3h1.4v1.4h-1.4zM366.8 292.0h1.4v1.4h-1.4zM384.2 292.3h1.4v1.4h-1.4zM401.2 292.4h1.4v1.4h-1.4zM405.5 292.0h1.4v1.4h-1.4zM410.4 292.1h1.4v1.4h-1.4zM347.5 293.6h1.4v1.4h-1.4zM365.3 293.7h1.4v1.4h-1.4zM368.2 293.9h1.4v1.4h-1.4zM409.8 293.5h1.4v1.4h-1.4zM343.4 294.8h1.4v1.4h-1.4zM344.6 295.0h1.4v1.4h-1.4zM362.3 294.8h1.4v1.4h-1.4zM329.1 296.7h1.4v1.4h-1.4zM345.1 296.5h1.4v1.4h-1.4zM350.5 296.7h1.4v1.4h-1.4zM363.6 296.5h1.4v1.4h-1.4zM408.7 296.3h1.4v1.4h-1.4zM411.7 296.5h1.4v1.4h-1.4zM414.2 296.8h1.4v1.4h-1.4zM416.2 296.5h1.4v1.4h-1.4zM338.9 298.4h1.4v1.4h-1.4zM342.1 298.3h1.4v1.4h-1.4zM352.0 298.3h1.4v1.4h-1.4zM356.7 298.1h1.4v1.4h-1.4zM359.2 297.7h1.4v1.4h-1.4zM410.3 297.9h1.4v1.4h-1.4zM412.7 298.3h1.4v1.4h-1.4zM346.2 299.4h1.4v1.4h-1.4zM356.4 299.7h1.4v1.4h-1.4zM414.6 299.8h1.4v1.4h-1.4zM415.9 299.6h1.4v1.4h-1.4zM342.3 300.7h1.4v1.4h-1.4zM423.5 301.0h1.4v1.4h-1.4zM321.8 302.1h1.4v1.4h-1.4zM335.0 302.2h1.4v1.4h-1.4zM350.8 302.2h1.4v1.4h-1.4zM326.3 303.5h1.4v1.4h-1.4zM347.7 303.7h1.4v1.4h-1.4zM350.9 304.1h1.4v1.4h-1.4zM352.3 303.6h1.4v1.4h-1.4zM354.8 303.7h1.4v1.4h-1.4zM408.8 304.0h1.4v1.4h-1.4zM413.1 303.7h1.4v1.4h-1.4zM334.7 305.2h1.4v1.4h-1.4zM336.5 305.2h1.4v1.4h-1.4zM343.2 305.0h1.4v1.4h-1.4zM351.9 305.3h1.4v1.4h-1.4zM336.5 306.6h1.4v1.4h-1.4zM349.0 306.7h1.4v1.4h-1.4zM413.0 306.9h1.4v1.4h-1.4zM324.8 308.3h1.4v1.4h-1.4zM325.9 307.9h1.4v1.4h-1.4zM342.0 308.3h1.4v1.4h-1.4zM411.4 308.0h1.4v1.4h-1.4zM419.1 308.2h1.4v1.4h-1.4zM330.3 309.8h1.4v1.4h-1.4zM333.4 309.5h1.4v1.4h-1.4zM340.7 309.7h1.4v1.4h-1.4zM347.6 309.6h1.4v1.4h-1.4zM409.0 309.5h1.4v1.4h-1.4zM413.3 309.6h1.4v1.4h-1.4zM317.0 311.0h1.4v1.4h-1.4zM319.1 311.0h1.4v1.4h-1.4zM327.6 311.4h1.4v1.4h-1.4zM328.8 310.9h1.4v1.4h-1.4zM323.5 312.5h1.4v1.4h-1.4zM327.3 312.7h1.4v1.4h-1.4zM333.6 312.7h1.4v1.4h-1.4zM337.6 312.8h1.4v1.4h-1.4zM417.4 312.7h1.4v1.4h-1.4zM315.9 314.3h1.4v1.4h-1.4zM322.9 313.8h1.4v1.4h-1.4zM336.5 313.9h1.4v1.4h-1.4zM407.3 314.0h1.4v1.4h-1.4zM411.5 313.8h1.4v1.4h-1.4zM323.5 315.6h1.4v1.4h-1.4zM328.8 315.2h1.4v1.4h-1.4zM320.5 316.7h1.4v1.4h-1.4zM330.5 317.0h1.4v1.4h-1.4zM333.6 317.2h1.4v1.4h-1.4zM334.8 316.8h1.4v1.4h-1.4zM402.9 317.2h1.4v1.4h-1.4zM410.3 317.0h1.4v1.4h-1.4zM311.6 318.3h1.4v1.4h-1.4zM318.6 318.4h1.4v1.4h-1.4zM330.5 318.2h1.4v1.4h-1.4zM403.2 318.7h1.4v1.4h-1.4zM404.1 318.1h1.4v1.4h-1.4zM419.0 318.1h1.4v1.4h-1.4zM314.5 319.8h1.4v1.4h-1.4zM322.9 319.5h1.4v1.4h-1.4zM325.9 319.9h1.4v1.4h-1.4zM402.6 319.7h1.4v1.4h-1.4zM406.1 320.0h1.4v1.4h-1.4zM310.1 321.0h1.4v1.4h-1.4zM315.8 321.4h1.4v1.4h-1.4zM327.8 321.0h1.4v1.4h-1.4zM409.0 321.3h1.4v1.4h-1.4zM411.4 321.5h1.4v1.4h-1.4zM415.6 320.9h1.4v1.4h-1.4zM401.3 322.5h1.4v1.4h-1.4zM318.8 324.5h1.4v1.4h-1.4zM402.6 324.4h1.4v1.4h-1.4zM311.2 325.5h1.4v1.4h-1.4zM317.4 325.6h1.4v1.4h-1.4zM318.6 325.9h1.4v1.4h-1.4zM397.4 325.3h1.4v1.4h-1.4zM314.6 326.9h1.4v1.4h-1.4zM320.1 326.9h1.4v1.4h-1.4zM410.0 327.3h1.4v1.4h-1.4zM316.2 328.3h1.4v1.4h-1.4zM317.3 328.8h1.4v1.4h-1.4zM398.3 328.4h1.4v1.4h-1.4zM401.4 328.5h1.4v1.4h-1.4zM407.0 328.5h1.4v1.4h-1.4zM417.1 328.6h1.4v1.4h-1.4zM419.2 328.4h1.4v1.4h-1.4zM420.0 328.6h1.4v1.4h-1.4zM310.4 329.6h1.4v1.4h-1.4zM314.7 329.7h1.4v1.4h-1.4zM394.2 330.1h1.4v1.4h-1.4zM400.0 330.1h1.4v1.4h-1.4zM402.7 330.3h1.4v1.4h-1.4zM405.7 329.6h1.4v1.4h-1.4zM413.3 329.7h1.4v1.4h-1.4zM402.6 331.4h1.4v1.4h-1.4zM412.9 331.2h1.4v1.4h-1.4zM404.1 333.2h1.4v1.4h-1.4zM405.7 332.6h1.4v1.4h-1.4zM408.5 332.7h1.4v1.4h-1.4zM393.9 334.0h1.4v1.4h-1.4zM402.9 334.3h1.4v1.4h-1.4zM405.6 334.3h1.4v1.4h-1.4zM412.7 334.1h1.4v1.4h-1.4zM397.4 335.5h1.4v1.4h-1.4zM405.5 335.7h1.4v1.4h-1.4zM410.3 336.0h1.4v1.4h-1.4zM310.0 337.5h1.4v1.4h-1.4zM391.1 337.4h1.4v1.4h-1.4zM388.1 338.7h1.4v1.4h-1.4zM398.7 338.6h1.4v1.4h-1.4zM401.2 338.9h1.4v1.4h-1.4zM391.0 340.2h1.4v1.4h-1.4zM395.4 339.9h1.4v1.4h-1.4zM402.9 340.4h1.4v1.4h-1.4zM405.9 340.4h1.4v1.4h-1.4zM389.6 341.5h1.4v1.4h-1.4zM392.5 341.3h1.4v1.4h-1.4zM392.7 343.3h1.4v1.4h-1.4zM394.2 343.1h1.4v1.4h-1.4zM385.7 344.3h1.4v1.4h-1.4zM398.9 344.6h1.4v1.4h-1.4zM405.7 344.3h1.4v1.4h-1.4zM388.7 346.1h1.4v1.4h-1.4zM404.6 345.9h1.4v1.4h-1.4zM385.4 347.5h1.4v1.4h-1.4zM399.8 347.1h1.4v1.4h-1.4zM407.0 347.4h1.4v1.4h-1.4zM385.4 348.5h1.4v1.4h-1.4zM388.3 349.0h1.4v1.4h-1.4zM392.9 348.6h1.4v1.4h-1.4zM396.8 348.8h1.4v1.4h-1.4zM404.6 348.9h1.4v1.4h-1.4zM388.5 350.0h1.4v1.4h-1.4zM391.2 349.9h1.4v1.4h-1.4zM393.1 350.4h1.4v1.4h-1.4zM397.1 349.9h1.4v1.4h-1.4zM398.8 350.1h1.4v1.4h-1.4zM383.8 351.7h1.4v1.4h-1.4zM385.3 351.7h1.4v1.4h-1.4zM387.1 351.8h1.4v1.4h-1.4zM393.1 351.4h1.4v1.4h-1.4zM391.4 353.2h1.4v1.4h-1.4zM379.9 354.7h1.4v1.4h-1.4zM381.1 354.6h1.4v1.4h-1.4zM378.0 355.9h1.4v1.4h-1.4zM380.0 355.9h1.4v1.4h-1.4zM385.4 355.9h1.4v1.4h-1.4zM389.9 356.1h1.4v1.4h-1.4zM399.9 355.8h1.4v1.4h-1.4zM385.8 357.7h1.4v1.4h-1.4zM390.1 357.5h1.4v1.4h-1.4zM398.8 357.5h1.4v1.4h-1.4zM381.3 359.2h1.4v1.4h-1.4zM376.6 360.4h1.4v1.4h-1.4zM385.7 360.5h1.4v1.4h-1.4zM375.4 361.9h1.4v1.4h-1.4zM381.1 361.6h1.4v1.4h-1.4zM375.7 363.1h1.4v1.4h-1.4zM391.5 363.0h1.4v1.4h-1.4zM368.2 364.9h1.4v1.4h-1.4zM382.6 364.5h1.4v1.4h-1.4zM383.9 364.8h1.4v1.4h-1.4zM388.3 364.8h1.4v1.4h-1.4zM400.0 365.0h1.4v1.4h-1.4zM375.6 366.3h1.4v1.4h-1.4zM365.0 367.5h1.4v1.4h-1.4zM366.6 367.4h1.4v1.4h-1.4zM372.7 367.8h1.4v1.4h-1.4zM378.4 367.8h1.4v1.4h-1.4zM379.9 367.6h1.4v1.4h-1.4zM385.3 367.4h1.4v1.4h-1.4zM372.4 369.3h1.4v1.4h-1.4zM363.4 370.6h1.4v1.4h-1.4zM373.6 370.8h1.4v1.4h-1.4zM365.3 372.1h1.4v1.4h-1.4zM366.9 372.2h1.4v1.4h-1.4zM367.8 372.0h1.4v1.4h-1.4zM378.5 371.9h1.4v1.4h-1.4zM362.0 373.1h1.4v1.4h-1.4zM366.4 373.5h1.4v1.4h-1.4zM378.4 373.5h1.4v1.4h-1.4zM369.6 374.7h1.4v1.4h-1.4zM370.8 374.9h1.4v1.4h-1.4zM356.5 376.5h1.4v1.4h-1.4zM370.7 376.4h1.4v1.4h-1.4zM340.5 377.7h1.4v1.4h-1.4zM369.3 378.0h1.4v1.4h-1.4z"/>
<path fill="#6f9fd0" d="M432.6 270.6h1.6v1.6h-1.6zM439.5 307.4h1.6v1.6h-1.6zM344.3 277.8h1.6v1.6h-1.6zM417.5 348.8h1.6v1.6h-1.6zM430.8 314.0h1.6v1.6h-1.6zM345.9 268.2h1.6v1.6h-1.6zM375.0 263.0h1.6v1.6h-1.6zM343.3 282.7h1.6v1.6h-1.6zM311.4 299.8h1.6v1.6h-1.6zM344.4 273.2h1.6v1.6h-1.6zM398.5 376.4h1.6v1.6h-1.6zM349.9 270.6h1.6v1.6h-1.6zM440.3 280.4h1.6v1.6h-1.6zM414.6 355.2h1.6v1.6h-1.6zM440.1 309.7h1.6v1.6h-1.6zM388.2 250.7h1.6v1.6h-1.6zM421.1 247.2h1.6v1.6h-1.6zM347.6 276.0h1.6v1.6h-1.6zM424.3 355.9h1.6v1.6h-1.6zM434.1 324.8h1.6v1.6h-1.6zM362.2 272.9h1.6v1.6h-1.6zM419.2 246.3h1.6v1.6h-1.6zM346.5 282.0h1.6v1.6h-1.6zM316.1 299.8h1.6v1.6h-1.6zM379.6 255.8h1.6v1.6h-1.6zM438.1 305.2h1.6v1.6h-1.6zM436.0 286.0h1.6v1.6h-1.6zM397.0 376.3h1.6v1.6h-1.6zM332.4 291.6h1.6v1.6h-1.6zM433.1 286.4h1.6v1.6h-1.6zM417.7 365.7h1.6v1.6h-1.6zM395.5 257.6h1.6v1.6h-1.6zM432.9 275.6h1.6v1.6h-1.6zM392.3 248.2h1.6v1.6h-1.6zM430.7 313.3h1.6v1.6h-1.6zM424.3 267.5h1.6v1.6h-1.6zM437.9 272.5h1.6v1.6h-1.6zM439.7 309.6h1.6v1.6h-1.6zM434.8 319.8h1.6v1.6h-1.6zM428.7 284.1h1.6v1.6h-1.6zM430.7 297.8h1.6v1.6h-1.6zM328.2 292.2h1.6v1.6h-1.6zM359.1 268.2h1.6v1.6h-1.6zM352.1 278.2h1.6v1.6h-1.6zM423.7 354.7h1.6v1.6h-1.6z"/>
<path d="M310.30 376.72H339.43V378.80H310.30ZM310.30 374.63H341.86V376.71H310.30ZM310.30 372.55H344.29V374.63H310.30ZM310.30 370.46H346.71V372.55H310.30ZM310.30 368.38H349.14V370.46H310.30ZM310.30 366.29H351.57V368.38H310.30ZM310.30 364.21H354.00V366.29H310.30ZM310.30 362.12H358.85V364.20H310.30ZM310.30 360.04H361.28V362.12H310.30ZM310.30 357.95H363.70V360.03H310.30ZM310.30 355.87H363.70V357.95H310.30ZM310.30 353.78H366.13V355.87H310.30ZM310.30 351.69H368.56V353.78H310.30ZM310.30 349.61H370.99V351.69H310.30ZM310.30 347.53H370.99V349.61H310.30ZM312.73 345.44H373.42V347.52H312.73ZM315.16 343.36H375.84V345.44H315.16ZM317.58 341.27H375.84V343.35H317.58ZM320.01 339.19H378.27V341.27H320.01ZM322.44 337.10H378.27V339.19H322.44ZM324.87 335.01H380.70V337.10H324.87ZM327.29 332.93H380.70V335.01H327.29ZM329.72 330.85H383.12V332.93H329.72ZM332.15 328.76H385.55V330.84H332.15ZM337.00 326.68H385.55V328.76H337.00ZM339.43 324.59H387.98V326.68H339.43ZM341.86 322.50H387.98V324.59H341.86ZM346.71 320.42H390.41V322.50H346.71ZM349.14 318.34H392.84V320.42H349.14ZM354.00 316.25H392.84V318.33H354.00ZM356.42 314.17H395.26V316.25H356.42ZM358.85 312.08H395.26V314.17H358.85ZM363.70 310.00H395.26V312.08H363.70ZM366.13 307.91H397.69V310.00H366.13ZM368.56 305.83H397.69V307.91H368.56ZM370.99 303.74H397.69V305.82H370.99ZM375.84 301.66H397.69V303.74H375.84Z" fill="url(#spk2)" shape-rendering="crispEdges"/>
<g clip-path="url(#cc3)">
<ellipse cx="352" cy="340" rx="60" ry="22" transform="rotate(-38 352 340)" fill="#225ea8"/>
<ellipse cx="344" cy="346" rx="46" ry="17.5" transform="rotate(-38 344 346)" fill="#1d91c0"/>
<ellipse cx="338" cy="349" rx="35" ry="14" transform="rotate(-37 338 349)" fill="#41b6c4"/>
<ellipse cx="335" cy="349" rx="26" ry="11" transform="rotate(-34 335 349)" fill="#7fcdbb"/>
<ellipse cx="334" cy="348" rx="19" ry="8.5" transform="rotate(-32 334 348)" fill="#c7e9b4"/>
<ellipse cx="333" cy="348" rx="11" ry="5.2" transform="rotate(-30 333 348)" fill="#e9f6b0"/>
<ellipse cx="333" cy="348" rx="5" ry="2.6" transform="rotate(-30 333 348)" fill="#f8fbcf"/>
<path d="M317.58 341.26L317.58 343.35L315.16 343.35L315.16 345.43L312.73 345.43L312.73 347.52L300.30 347.52L300.30 349.60L300.30 349.62L300.30 351.69L300.30 351.70L300.30 353.77L300.30 353.79L300.30 355.86L300.30 355.88L300.30 357.94L300.30 357.96L300.30 360.03L300.30 360.04L300.30 362.11L300.30 362.13L300.30 364.20L300.30 364.21L300.30 366.28L300.30 366.30L300.30 368.37L300.30 368.38L300.30 370.45L300.30 370.47L300.30 372.54L300.30 372.56L300.30 374.62L300.30 374.64L300.30 376.71L300.30 376.72L300.30 388.81L339.43 388.81L339.43 376.72L341.86 376.72L341.86 374.64L344.29 374.64L344.29 372.56L346.71 372.56L346.71 370.47L349.14 370.47L349.14 368.38L351.57 368.38L351.57 366.30L354.00 366.30L354.00 364.21L358.85 364.21L358.85 362.13L361.28 362.13L361.28 360.04L363.70 360.04L363.70 357.96L363.70 357.94L363.70 355.88L366.13 355.88L366.13 353.79L368.56 353.79L368.56 351.70L370.99 351.70L370.99 349.62L370.99 349.60L370.99 347.53L373.42 347.53L373.42 345.45L375.84 345.45L375.84 343.36L375.84 343.35L375.84 341.28L378.27 341.28L378.27 339.19L378.27 339.18L378.27 337.11L380.70 337.11L380.70 335.02L380.70 335.00L380.70 332.94L383.12 332.94L383.12 330.85L385.55 330.85L385.55 328.77L385.55 328.75L385.55 326.69L387.98 326.69L387.98 324.60L387.98 324.58L387.98 322.51L390.41 322.51L390.41 320.43L392.84 320.43L392.84 318.34L392.84 318.33L392.84 316.26L395.26 316.26L395.26 314.18L395.26 314.16L395.26 312.09L395.26 312.07L395.26 310.00L397.69 310.00L397.69 307.92L397.69 307.90L397.69 305.83L397.69 305.82L397.69 303.75L397.69 303.73L397.69 301.65L375.84 301.65L375.84 303.73L370.99 303.73L370.99 305.82L368.56 305.82L368.56 307.90L366.13 307.90L366.13 309.99L363.70 309.99L363.70 312.07L358.85 312.07L358.85 314.16L356.42 314.16L356.42 316.24L354.00 316.24L354.00 318.33L349.14 318.33L349.14 320.41L346.71 320.41L346.71 322.50L341.86 322.50L341.86 324.58L339.43 324.58L339.43 326.67L337.00 326.67L337.00 328.75L332.15 328.75L332.15 330.84L329.72 330.84L329.72 332.92L327.29 332.92L327.29 335.00L324.87 335.00L324.87 337.09L322.44 337.09L322.44 339.18L320.01 339.18L320.01 341.26L317.58 341.26Z" fill="none" stroke="#253494" stroke-width="9.5"/>
<path d="M317.58 341.26L317.58 343.35L315.16 343.35L315.16 345.43L312.73 345.43L312.73 347.52L300.30 347.52L300.30 349.60L300.30 349.62L300.30 351.69L300.30 351.70L300.30 353.77L300.30 353.79L300.30 355.86L300.30 355.88L300.30 357.94L300.30 357.96L300.30 360.03L300.30 360.04L300.30 362.11L300.30 362.13L300.30 364.20L300.30 364.21L300.30 366.28L300.30 366.30L300.30 368.37L300.30 368.38L300.30 370.45L300.30 370.47L300.30 372.54L300.30 372.56L300.30 374.62L300.30 374.64L300.30 376.71L300.30 376.72L300.30 388.81L339.43 388.81L339.43 376.72L341.86 376.72L341.86 374.64L344.29 374.64L344.29 372.56L346.71 372.56L346.71 370.47L349.14 370.47L349.14 368.38L351.57 368.38L351.57 366.30L354.00 366.30L354.00 364.21L358.85 364.21L358.85 362.13L361.28 362.13L361.28 360.04L363.70 360.04L363.70 357.96L363.70 357.94L363.70 355.88L366.13 355.88L366.13 353.79L368.56 353.79L368.56 351.70L370.99 351.70L370.99 349.62L370.99 349.60L370.99 347.53L373.42 347.53L373.42 345.45L375.84 345.45L375.84 343.36L375.84 343.35L375.84 341.28L378.27 341.28L378.27 339.19L378.27 339.18L378.27 337.11L380.70 337.11L380.70 335.02L380.70 335.00L380.70 332.94L383.12 332.94L383.12 330.85L385.55 330.85L385.55 328.77L385.55 328.75L385.55 326.69L387.98 326.69L387.98 324.60L387.98 324.58L387.98 322.51L390.41 322.51L390.41 320.43L392.84 320.43L392.84 318.34L392.84 318.33L392.84 316.26L395.26 316.26L395.26 314.18L395.26 314.16L395.26 312.09L395.26 312.07L395.26 310.00L397.69 310.00L397.69 307.92L397.69 307.90L397.69 305.83L397.69 305.82L397.69 303.75L397.69 303.73L397.69 301.65L375.84 301.65L375.84 303.73L370.99 303.73L370.99 305.82L368.56 305.82L368.56 307.90L366.13 307.90L366.13 309.99L363.70 309.99L363.70 312.07L358.85 312.07L358.85 314.16L356.42 314.16L356.42 316.24L354.00 316.24L354.00 318.33L349.14 318.33L349.14 320.41L346.71 320.41L346.71 322.50L341.86 322.50L341.86 324.58L339.43 324.58L339.43 326.67L337.00 326.67L337.00 328.75L332.15 328.75L332.15 330.84L329.72 330.84L329.72 332.92L327.29 332.92L327.29 335.00L324.87 335.00L324.87 337.09L322.44 337.09L322.44 339.18L320.01 339.18L320.01 341.26L317.58 341.26Z" fill="none" stroke="#14236a" stroke-width="5"/>
</g>
<line x1="310.3" y1="378.8" x2="504.5" y2="212.0" stroke="#000" stroke-width="1.1" stroke-dasharray="2.5,1.5"/>
<line x1="310.3" y1="367" x2="504.5" y2="238.6" stroke="#f0302c" stroke-width="1.2"/>
</g>
<rect x="310.3" y="212.0" width="194.20" height="166.80" fill="none" stroke="#4a4a4a" stroke-width="1.05"/>
<path d="M310.30 378.8v1.8M310.3 378.80h-1.8M342.67 378.8v1.8M310.3 351.00h-1.8M375.03 378.8v1.8M310.3 323.20h-1.8M407.40 378.8v1.8M310.3 295.40h-1.8M439.77 378.8v1.8M310.3 267.60h-1.8M472.13 378.8v1.8M310.3 239.80h-1.8M504.50 378.8v1.8M310.3 212.00h-1.8" stroke="#333" stroke-width="0.8"/>
<text class="tk" x="310.30" y="387.30" text-anchor="middle">0</text>
<text class="tk" x="307.70" y="381.40" text-anchor="end">0</text>
<text class="tk" x="342.67" y="387.30" text-anchor="middle">50</text>
<text class="tk" x="307.70" y="353.60" text-anchor="end">50</text>
<text class="tk" x="375.03" y="387.30" text-anchor="middle">100</text>
<text class="tk" x="307.70" y="325.80" text-anchor="end">100</text>
<text class="tk" x="407.40" y="387.30" text-anchor="middle">150</text>
<text class="tk" x="307.70" y="298.00" text-anchor="end">150</text>
<text class="tk" x="439.77" y="387.30" text-anchor="middle">200</text>
<text class="tk" x="307.70" y="270.20" text-anchor="end">200</text>
<text class="tk" x="472.13" y="387.30" text-anchor="middle">250</text>
<text class="tk" x="307.70" y="242.40" text-anchor="end">250</text>
<text class="tk" x="504.50" y="387.30" text-anchor="middle">300</text>
<text class="tk" x="307.70" y="214.60" text-anchor="end">300</text>
<text class="lb" x="407.40" y="397.60" text-anchor="middle">Estimated (<tspan font-style="italic">μg</tspan>/<tspan font-style="italic">m</tspan><tspan font-size="6.2px" dy="-3.6">3</tspan><tspan dy="3.6">)</tspan></text>
<text class="lb" transform="translate(289.00 295.40) rotate(-90)" x="0" y="3.2" text-anchor="middle">Observed (<tspan font-style="italic">μg</tspan>/<tspan font-style="italic">m</tspan><tspan font-size="6.2px" dy="-3.6">3</tspan><tspan dy="3.6">)</tspan></text>
<line x1="317.8" y1="223.0" x2="334.8" y2="223.0" stroke="#f0302c" stroke-width="1.2"/>
<line x1="317.8" y1="235.3" x2="334.8" y2="235.3" stroke="#000" stroke-width="1.1" stroke-dasharray="2.5,1.5"/>
<text class="lg" x="341.8" y="226.3">Regression Line</text>
<text class="lg" x="341.8" y="238.4">1:1 Line</text>
<rect x="440.50" y="325.50" width="61" height="46.5" fill="#fff"/>
<text class="st" x="498.70" y="334.30" text-anchor="end"><tspan font-style="italic">BIAS</tspan><tspan dx="2.0">=</tspan><tspan dx="4.3">−</tspan><tspan dx="1.5">5.47</tspan></text>
<text class="st" x="498.70" y="345.80" text-anchor="end"><tspan font-style="italic">RMSE</tspan><tspan dx="2.3">=</tspan><tspan dx="2.1">22.87</tspan></text>
<text class="st" x="498.70" y="356.90" text-anchor="end"><tspan font-style="italic">IOA</tspan><tspan dx="2.3">=</tspan><tspan dx="2.1">0.86</tspan></text>
<text class="st" x="498.70" y="367.90" text-anchor="end"><tspan font-style="italic">COR</tspan><tspan dx="2.3">=</tspan><tspan dx="2.1">0.75</tspan></text>
<rect x="520.5" y="212.0" width="9.30" height="166.80" fill="url(#cm)" stroke="#666" stroke-width="0.5"/>
<text class="cbl" x="533.30" y="380.50">0</text>
<text class="cbl" x="533.30" y="353.64">100</text>
<text class="cbl" x="533.30" y="326.78">200</text>
<text class="cbl" x="533.30" y="299.92">300</text>
<text class="cbl" x="533.30" y="273.06">400</text>
<text class="cbl" x="533.30" y="246.20">500</text>
<text class="cbl" x="533.30" y="219.34">600</text>
<path d="M529.8 378.80h1.5M529.8 351.94h1.5M529.8 325.08h1.5M529.8 298.22h1.5M529.8 271.36h1.5M529.8 244.50h1.5M529.8 217.64h1.5" stroke="#444" stroke-width="0.5"/>
<path d="M64.58 417.4V584.2M32.5 556.40H225.0M96.67 417.4V584.2M32.5 528.60H225.0M128.75 417.4V584.2M32.5 500.80H225.0M160.83 417.4V584.2M32.5 473.00H225.0M192.92 417.4V584.2M32.5 445.20H225.0" stroke="#eeeeee" stroke-width="0.8" fill="none"/>
<g clip-path="url(#cl4)">
<polygon points="33.0,583.7 87.2,583.7 88.0,583.1 88.5,582.7 88.9,582.3 94.7,576.5 95.5,575.6 99.9,569.7 100.4,569.0 104.2,562.7 104.2,562.7 104.3,562.6 110.7,556.1 111.3,555.5 111.8,554.8 112.2,554.1 112.5,553.4 112.8,552.6 113.0,551.8 114.5,544.5 114.6,543.8 114.7,543.0 114.7,542.2 114.6,541.5 114.4,540.7 112.4,532.7 112.4,532.7 112.4,532.7 111.8,524.7 111.7,523.9 111.5,523.0 111.2,522.2 110.8,521.5 110.4,520.7 107.5,516.3 107.0,515.7 106.5,515.1 105.9,514.5 105.3,514.1 104.6,513.6 103.9,513.3 98.0,510.6 97.2,510.2 96.4,510.0 95.5,509.9 94.8,509.8 94.7,509.8 94.7,509.8 94.7,509.7 94.6,509.7 94.6,509.7 94.5,509.7 94.5,509.6 94.5,509.6 94.4,509.5 94.4,509.5 94.4,509.5 94.3,509.3 93.9,508.5 93.5,507.8 93.0,507.1 92.4,506.5 91.7,505.9 91.0,505.4 90.3,505.0 88.1,503.9 87.3,503.6 86.5,503.3 85.7,503.1 84.8,503.0 83.9,503.0 83.1,503.1 82.2,503.3 81.4,503.5 80.6,503.8 79.9,504.3 74.5,507.5 74.2,507.7 70.9,509.9 70.2,510.4 64.9,514.8 64.9,514.8 59.5,519.0 59.3,519.1 54.4,523.1 54.4,523.1 49.4,526.1 49.4,526.1 44.1,529.3 44.0,529.3 43.4,529.7 43.4,529.7 43.3,529.7 43.3,529.7 43.2,529.8 43.2,529.8 43.1,529.8 43.1,529.8 43.0,529.7 43.0,529.7 42.9,529.7 42.9,529.7 42.8,529.7 42.8,529.6 42.8,529.6 42.7,529.6 42.7,529.5 42.7,529.5 42.7,529.4 42.7,529.4 42.6,529.3 42.6,529.3 42.5,524.7 42.4,523.9 42.3,523.1 42.1,522.3 41.8,521.6 41.4,520.8 41.0,520.1 40.5,519.5 39.9,518.9 39.3,518.4 38.6,517.9 37.9,517.5 37.2,517.1 36.4,516.9 35.6,516.7 34.8,516.5 34.0,516.5 33.0,516.5 33.0,583.7" fill="url(#spk)"/>
<path fill="#8cbbe3" d="M57.2 479.5h1.4v1.4h-1.4zM73.3 484.0h1.4v1.4h-1.4zM43.2 485.2h1.4v1.4h-1.4zM48.4 485.6h1.4v1.4h-1.4zM51.5 486.9h1.4v1.4h-1.4zM38.2 488.0h1.4v1.4h-1.4zM54.7 488.2h1.4v1.4h-1.4zM58.5 488.1h1.4v1.4h-1.4zM35.7 489.6h1.4v1.4h-1.4zM79.2 489.8h1.4v1.4h-1.4zM48.4 491.1h1.4v1.4h-1.4zM72.1 491.1h1.4v1.4h-1.4zM73.5 491.2h1.4v1.4h-1.4zM82.3 491.1h1.4v1.4h-1.4zM85.2 491.0h1.4v1.4h-1.4zM44.2 492.5h1.4v1.4h-1.4zM46.1 492.5h1.4v1.4h-1.4zM48.4 492.6h1.4v1.4h-1.4zM53.0 492.4h1.4v1.4h-1.4zM64.7 492.8h1.4v1.4h-1.4zM77.8 492.3h1.4v1.4h-1.4zM83.3 492.4h1.4v1.4h-1.4zM69.3 494.2h1.4v1.4h-1.4zM73.6 494.2h1.4v1.4h-1.4zM83.5 493.9h1.4v1.4h-1.4zM86.4 493.9h1.4v1.4h-1.4zM88.1 493.8h1.4v1.4h-1.4zM90.5 493.7h1.4v1.4h-1.4zM96.7 493.9h1.4v1.4h-1.4zM98.1 494.3h1.4v1.4h-1.4zM106.6 494.2h1.4v1.4h-1.4zM54.7 495.7h1.4v1.4h-1.4zM65.8 495.2h1.4v1.4h-1.4zM67.8 495.3h1.4v1.4h-1.4zM70.4 495.1h1.4v1.4h-1.4zM95.1 495.4h1.4v1.4h-1.4zM100.7 495.4h1.4v1.4h-1.4zM36.8 496.6h1.4v1.4h-1.4zM50.5 496.9h1.4v1.4h-1.4zM53.2 496.9h1.4v1.4h-1.4zM57.4 496.7h1.4v1.4h-1.4zM64.5 496.7h1.4v1.4h-1.4zM80.4 497.2h1.4v1.4h-1.4zM85.2 497.0h1.4v1.4h-1.4zM103.9 497.0h1.4v1.4h-1.4zM40.1 498.1h1.4v1.4h-1.4zM44.6 498.1h1.4v1.4h-1.4zM66.2 498.0h1.4v1.4h-1.4zM68.7 498.4h1.4v1.4h-1.4zM73.6 498.0h1.4v1.4h-1.4zM80.5 498.4h1.4v1.4h-1.4zM81.8 498.5h1.4v1.4h-1.4zM83.2 498.3h1.4v1.4h-1.4zM100.6 498.6h1.4v1.4h-1.4zM34.0 499.6h1.4v1.4h-1.4zM38.6 499.6h1.4v1.4h-1.4zM40.2 499.6h1.4v1.4h-1.4zM41.8 500.0h1.4v1.4h-1.4zM57.3 499.6h1.4v1.4h-1.4zM83.2 499.6h1.4v1.4h-1.4zM85.0 499.5h1.4v1.4h-1.4zM91.9 499.8h1.4v1.4h-1.4zM96.3 499.5h1.4v1.4h-1.4zM35.5 501.2h1.4v1.4h-1.4zM39.8 501.6h1.4v1.4h-1.4zM53.4 501.1h1.4v1.4h-1.4zM54.3 501.2h1.4v1.4h-1.4zM57.1 501.4h1.4v1.4h-1.4zM59.0 501.4h1.4v1.4h-1.4zM63.5 501.0h1.4v1.4h-1.4zM65.0 500.9h1.4v1.4h-1.4zM99.4 501.0h1.4v1.4h-1.4zM103.5 500.9h1.4v1.4h-1.4zM105.0 501.2h1.4v1.4h-1.4zM34.2 503.0h1.4v1.4h-1.4zM48.4 502.5h1.4v1.4h-1.4zM56.3 502.7h1.4v1.4h-1.4zM77.9 502.6h1.4v1.4h-1.4zM80.6 502.6h1.4v1.4h-1.4zM86.5 502.3h1.4v1.4h-1.4zM87.8 502.8h1.4v1.4h-1.4zM93.6 502.9h1.4v1.4h-1.4zM34.3 504.4h1.4v1.4h-1.4zM35.6 504.3h1.4v1.4h-1.4zM39.7 504.4h1.4v1.4h-1.4zM59.2 503.8h1.4v1.4h-1.4zM67.9 504.4h1.4v1.4h-1.4zM68.7 504.4h1.4v1.4h-1.4zM77.4 504.4h1.4v1.4h-1.4zM90.6 504.0h1.4v1.4h-1.4zM98.2 504.4h1.4v1.4h-1.4zM99.4 504.2h1.4v1.4h-1.4zM102.0 504.4h1.4v1.4h-1.4zM107.0 503.9h1.4v1.4h-1.4zM107.9 504.1h1.4v1.4h-1.4zM42.6 505.9h1.4v1.4h-1.4zM53.3 505.6h1.4v1.4h-1.4zM70.7 505.7h1.4v1.4h-1.4zM73.3 505.5h1.4v1.4h-1.4zM74.9 505.8h1.4v1.4h-1.4zM94.0 505.9h1.4v1.4h-1.4zM99.7 505.3h1.4v1.4h-1.4zM34.0 506.7h1.4v1.4h-1.4zM38.3 507.3h1.4v1.4h-1.4zM39.8 507.1h1.4v1.4h-1.4zM45.9 506.7h1.4v1.4h-1.4zM50.3 507.3h1.4v1.4h-1.4zM60.4 506.7h1.4v1.4h-1.4zM94.8 506.9h1.4v1.4h-1.4zM115.7 507.3h1.4v1.4h-1.4zM38.6 508.6h1.4v1.4h-1.4zM40.1 508.7h1.4v1.4h-1.4zM43.1 508.4h1.4v1.4h-1.4zM45.5 508.5h1.4v1.4h-1.4zM57.5 508.4h1.4v1.4h-1.4zM61.4 508.4h1.4v1.4h-1.4zM64.4 508.1h1.4v1.4h-1.4zM111.4 508.2h1.4v1.4h-1.4zM37.1 509.8h1.4v1.4h-1.4zM47.5 509.9h1.4v1.4h-1.4zM62.9 510.0h1.4v1.4h-1.4zM64.8 509.9h1.4v1.4h-1.4zM106.5 510.1h1.4v1.4h-1.4zM108.1 510.0h1.4v1.4h-1.4zM46.9 511.5h1.4v1.4h-1.4zM54.7 511.6h1.4v1.4h-1.4zM61.7 511.2h1.4v1.4h-1.4zM103.5 511.0h1.4v1.4h-1.4zM109.8 511.6h1.4v1.4h-1.4zM34.5 512.5h1.4v1.4h-1.4zM35.3 513.2h1.4v1.4h-1.4zM40.1 512.7h1.4v1.4h-1.4zM55.7 512.5h1.4v1.4h-1.4zM104.9 512.7h1.4v1.4h-1.4zM39.7 514.1h1.4v1.4h-1.4zM41.4 514.6h1.4v1.4h-1.4zM44.0 514.3h1.4v1.4h-1.4zM50.0 514.0h1.4v1.4h-1.4zM56.2 514.2h1.4v1.4h-1.4zM109.3 514.1h1.4v1.4h-1.4zM111.2 514.2h1.4v1.4h-1.4zM35.5 516.0h1.4v1.4h-1.4zM50.0 515.8h1.4v1.4h-1.4zM55.8 515.5h1.4v1.4h-1.4zM60.6 515.6h1.4v1.4h-1.4zM38.5 517.2h1.4v1.4h-1.4zM44.6 517.4h1.4v1.4h-1.4zM51.3 517.0h1.4v1.4h-1.4zM53.4 517.3h1.4v1.4h-1.4zM108.3 517.0h1.4v1.4h-1.4zM109.3 516.9h1.4v1.4h-1.4zM110.8 517.4h1.4v1.4h-1.4zM48.5 518.3h1.4v1.4h-1.4zM50.0 518.8h1.4v1.4h-1.4zM56.0 518.7h1.4v1.4h-1.4zM57.5 518.4h1.4v1.4h-1.4zM46.1 520.0h1.4v1.4h-1.4zM43.2 521.7h1.4v1.4h-1.4zM44.2 521.7h1.4v1.4h-1.4zM46.0 521.8h1.4v1.4h-1.4zM48.9 521.7h1.4v1.4h-1.4zM50.5 521.4h1.4v1.4h-1.4zM116.9 524.1h1.4v1.4h-1.4zM47.2 525.7h1.4v1.4h-1.4zM44.7 527.6h1.4v1.4h-1.4zM117.0 531.9h1.4v1.4h-1.4zM113.8 533.0h1.4v1.4h-1.4zM112.3 534.5h1.4v1.4h-1.4zM116.5 535.7h1.4v1.4h-1.4zM113.6 540.0h1.4v1.4h-1.4zM115.1 540.2h1.4v1.4h-1.4zM120.0 553.4h1.4v1.4h-1.4zM111.1 557.8h1.4v1.4h-1.4zM106.4 563.6h1.4v1.4h-1.4zM108.1 563.8h1.4v1.4h-1.4zM102.7 564.9h1.4v1.4h-1.4zM105.0 564.9h1.4v1.4h-1.4zM101.2 569.1h1.4v1.4h-1.4zM99.4 572.2h1.4v1.4h-1.4zM97.9 573.9h1.4v1.4h-1.4zM101.0 573.5h1.4v1.4h-1.4zM93.5 581.0h1.4v1.4h-1.4zM95.3 580.9h1.4v1.4h-1.4zM99.1 581.0h1.4v1.4h-1.4zM89.0 582.3h1.4v1.4h-1.4z"/>
<path fill="#9cc5e8" d="M41.8 481.2h1.4v1.4h-1.4zM63.1 488.3h1.4v1.4h-1.4zM64.5 488.4h1.4v1.4h-1.4zM38.4 489.5h1.4v1.4h-1.4zM55.9 489.9h1.4v1.4h-1.4zM67.8 489.5h1.4v1.4h-1.4zM70.4 489.3h1.4v1.4h-1.4zM73.5 489.4h1.4v1.4h-1.4zM82.2 489.5h1.4v1.4h-1.4zM33.0 490.8h1.4v1.4h-1.4zM41.3 491.4h1.4v1.4h-1.4zM53.2 491.3h1.4v1.4h-1.4zM57.6 491.3h1.4v1.4h-1.4zM59.0 491.2h1.4v1.4h-1.4zM64.6 491.4h1.4v1.4h-1.4zM76.3 491.1h1.4v1.4h-1.4zM83.4 491.2h1.4v1.4h-1.4zM33.9 492.5h1.4v1.4h-1.4zM49.9 492.4h1.4v1.4h-1.4zM63.3 492.4h1.4v1.4h-1.4zM67.6 492.7h1.4v1.4h-1.4zM70.3 492.2h1.4v1.4h-1.4zM88.0 492.4h1.4v1.4h-1.4zM93.6 492.6h1.4v1.4h-1.4zM52.9 494.3h1.4v1.4h-1.4zM57.2 493.9h1.4v1.4h-1.4zM82.4 494.2h1.4v1.4h-1.4zM89.4 493.7h1.4v1.4h-1.4zM92.0 494.3h1.4v1.4h-1.4zM93.9 493.9h1.4v1.4h-1.4zM108.1 494.2h1.4v1.4h-1.4zM37.3 495.3h1.4v1.4h-1.4zM49.0 495.7h1.4v1.4h-1.4zM59.2 495.3h1.4v1.4h-1.4zM72.2 495.7h1.4v1.4h-1.4zM74.5 495.2h1.4v1.4h-1.4zM89.4 495.5h1.4v1.4h-1.4zM92.0 495.4h1.4v1.4h-1.4zM102.1 495.3h1.4v1.4h-1.4zM43.0 496.9h1.4v1.4h-1.4zM48.8 497.0h1.4v1.4h-1.4zM93.9 497.1h1.4v1.4h-1.4zM94.8 496.7h1.4v1.4h-1.4zM63.5 498.1h1.4v1.4h-1.4zM84.8 498.0h1.4v1.4h-1.4zM92.5 498.6h1.4v1.4h-1.4zM94.8 498.1h1.4v1.4h-1.4zM60.5 499.8h1.4v1.4h-1.4zM68.7 500.0h1.4v1.4h-1.4zM74.8 500.0h1.4v1.4h-1.4zM76.1 500.0h1.4v1.4h-1.4zM86.4 499.5h1.4v1.4h-1.4zM87.6 500.0h1.4v1.4h-1.4zM105.4 500.0h1.4v1.4h-1.4zM34.0 501.3h1.4v1.4h-1.4zM38.7 501.5h1.4v1.4h-1.4zM56.2 501.3h1.4v1.4h-1.4zM62.0 501.1h1.4v1.4h-1.4zM76.5 500.9h1.4v1.4h-1.4zM80.7 501.2h1.4v1.4h-1.4zM83.8 500.9h1.4v1.4h-1.4zM85.0 501.0h1.4v1.4h-1.4zM86.1 501.3h1.4v1.4h-1.4zM88.1 501.0h1.4v1.4h-1.4zM90.9 501.0h1.4v1.4h-1.4zM101.0 501.0h1.4v1.4h-1.4zM43.2 502.9h1.4v1.4h-1.4zM51.3 502.8h1.4v1.4h-1.4zM57.3 502.4h1.4v1.4h-1.4zM60.6 502.5h1.4v1.4h-1.4zM61.8 502.8h1.4v1.4h-1.4zM64.6 502.8h1.4v1.4h-1.4zM74.6 502.7h1.4v1.4h-1.4zM92.1 502.8h1.4v1.4h-1.4zM97.8 502.8h1.4v1.4h-1.4zM105.0 502.7h1.4v1.4h-1.4zM107.9 502.8h1.4v1.4h-1.4zM109.5 502.8h1.4v1.4h-1.4zM47.2 504.3h1.4v1.4h-1.4zM51.7 503.8h1.4v1.4h-1.4zM63.1 504.2h1.4v1.4h-1.4zM76.2 503.8h1.4v1.4h-1.4zM93.8 503.8h1.4v1.4h-1.4zM96.6 504.2h1.4v1.4h-1.4zM41.7 505.2h1.4v1.4h-1.4zM45.7 505.4h1.4v1.4h-1.4zM47.1 505.9h1.4v1.4h-1.4zM51.5 505.5h1.4v1.4h-1.4zM58.8 505.3h1.4v1.4h-1.4zM63.3 505.4h1.4v1.4h-1.4zM67.7 505.6h1.4v1.4h-1.4zM92.4 505.9h1.4v1.4h-1.4zM37.3 507.3h1.4v1.4h-1.4zM43.2 507.0h1.4v1.4h-1.4zM52.7 507.2h1.4v1.4h-1.4zM56.0 507.0h1.4v1.4h-1.4zM59.0 506.7h1.4v1.4h-1.4zM67.5 506.7h1.4v1.4h-1.4zM69.0 506.9h1.4v1.4h-1.4zM70.7 507.2h1.4v1.4h-1.4zM72.0 506.7h1.4v1.4h-1.4zM105.2 506.7h1.4v1.4h-1.4zM106.9 506.8h1.4v1.4h-1.4zM109.5 506.9h1.4v1.4h-1.4zM44.1 508.2h1.4v1.4h-1.4zM67.8 508.8h1.4v1.4h-1.4zM93.6 508.3h1.4v1.4h-1.4zM99.6 508.6h1.4v1.4h-1.4zM104.0 508.4h1.4v1.4h-1.4zM107.0 508.3h1.4v1.4h-1.4zM41.6 510.2h1.4v1.4h-1.4zM48.6 510.1h1.4v1.4h-1.4zM99.3 510.1h1.4v1.4h-1.4zM104.0 510.0h1.4v1.4h-1.4zM111.2 509.7h1.4v1.4h-1.4zM35.9 511.1h1.4v1.4h-1.4zM45.8 511.6h1.4v1.4h-1.4zM57.5 511.4h1.4v1.4h-1.4zM102.6 511.6h1.4v1.4h-1.4zM36.9 512.6h1.4v1.4h-1.4zM41.6 513.1h1.4v1.4h-1.4zM48.6 512.5h1.4v1.4h-1.4zM54.2 512.5h1.4v1.4h-1.4zM61.7 513.0h1.4v1.4h-1.4zM63.2 512.7h1.4v1.4h-1.4zM37.0 514.5h1.4v1.4h-1.4zM47.5 514.5h1.4v1.4h-1.4zM57.3 514.0h1.4v1.4h-1.4zM60.5 514.0h1.4v1.4h-1.4zM62.0 514.4h1.4v1.4h-1.4zM106.7 514.4h1.4v1.4h-1.4zM34.4 515.9h1.4v1.4h-1.4zM37.4 516.0h1.4v1.4h-1.4zM51.8 515.8h1.4v1.4h-1.4zM57.1 515.6h1.4v1.4h-1.4zM114.2 516.0h1.4v1.4h-1.4zM41.7 517.4h1.4v1.4h-1.4zM47.5 517.3h1.4v1.4h-1.4zM49.9 517.1h1.4v1.4h-1.4zM39.7 518.5h1.4v1.4h-1.4zM47.0 518.6h1.4v1.4h-1.4zM111.1 518.5h1.4v1.4h-1.4zM42.7 519.8h1.4v1.4h-1.4zM47.4 520.2h1.4v1.4h-1.4zM51.8 520.1h1.4v1.4h-1.4zM55.9 519.8h1.4v1.4h-1.4zM111.1 520.0h1.4v1.4h-1.4zM51.4 521.3h1.4v1.4h-1.4zM112.8 521.7h1.4v1.4h-1.4zM44.0 522.8h1.4v1.4h-1.4zM50.5 522.9h1.4v1.4h-1.4zM113.7 523.2h1.4v1.4h-1.4zM44.1 524.5h1.4v1.4h-1.4zM50.3 524.5h1.4v1.4h-1.4zM112.4 524.2h1.4v1.4h-1.4zM113.8 524.5h1.4v1.4h-1.4zM116.9 527.0h1.4v1.4h-1.4zM120.0 531.8h1.4v1.4h-1.4zM115.6 534.5h1.4v1.4h-1.4zM114.1 535.8h1.4v1.4h-1.4zM115.5 536.2h1.4v1.4h-1.4zM113.6 537.4h1.4v1.4h-1.4zM123.0 540.6h1.4v1.4h-1.4zM118.6 542.1h1.4v1.4h-1.4zM115.4 544.6h1.4v1.4h-1.4zM115.4 547.3h1.4v1.4h-1.4zM114.2 549.0h1.4v1.4h-1.4zM113.7 552.1h1.4v1.4h-1.4zM113.7 553.3h1.4v1.4h-1.4zM111.3 554.9h1.4v1.4h-1.4zM109.5 556.1h1.4v1.4h-1.4zM108.4 560.6h1.4v1.4h-1.4zM106.8 561.9h1.4v1.4h-1.4zM113.7 563.4h1.4v1.4h-1.4zM103.6 565.2h1.4v1.4h-1.4zM102.6 566.1h1.4v1.4h-1.4zM100.6 568.2h1.4v1.4h-1.4zM102.2 567.7h1.4v1.4h-1.4zM96.4 573.8h1.4v1.4h-1.4zM99.2 575.2h1.4v1.4h-1.4zM103.9 575.0h1.4v1.4h-1.4zM93.9 576.3h1.4v1.4h-1.4zM93.7 577.8h1.4v1.4h-1.4zM95.4 578.2h1.4v1.4h-1.4zM96.7 577.8h1.4v1.4h-1.4zM90.6 579.2h1.4v1.4h-1.4zM87.6 582.2h1.4v1.4h-1.4zM95.2 582.6h1.4v1.4h-1.4z"/>
<path fill="#6fa5d9" d="M42.8 481.0h1.4v1.4h-1.4zM45.8 483.9h1.4v1.4h-1.4zM78.0 485.3h1.4v1.4h-1.4zM44.3 486.7h1.4v1.4h-1.4zM50.1 486.7h1.4v1.4h-1.4zM70.7 486.6h1.4v1.4h-1.4zM45.8 488.5h1.4v1.4h-1.4zM68.7 488.4h1.4v1.4h-1.4zM77.7 488.5h1.4v1.4h-1.4zM45.8 489.6h1.4v1.4h-1.4zM50.0 489.3h1.4v1.4h-1.4zM69.3 489.4h1.4v1.4h-1.4zM72.2 489.3h1.4v1.4h-1.4zM38.4 491.3h1.4v1.4h-1.4zM47.5 491.0h1.4v1.4h-1.4zM50.4 491.3h1.4v1.4h-1.4zM54.6 491.4h1.4v1.4h-1.4zM55.9 491.3h1.4v1.4h-1.4zM70.6 491.0h1.4v1.4h-1.4zM86.4 490.8h1.4v1.4h-1.4zM88.0 491.3h1.4v1.4h-1.4zM46.9 492.8h1.4v1.4h-1.4zM76.2 492.2h1.4v1.4h-1.4zM81.9 492.4h1.4v1.4h-1.4zM84.6 492.8h1.4v1.4h-1.4zM89.2 492.3h1.4v1.4h-1.4zM41.1 493.7h1.4v1.4h-1.4zM51.5 493.6h1.4v1.4h-1.4zM58.7 493.7h1.4v1.4h-1.4zM60.0 493.7h1.4v1.4h-1.4zM61.7 493.9h1.4v1.4h-1.4zM64.6 494.3h1.4v1.4h-1.4zM79.4 494.3h1.4v1.4h-1.4zM85.3 493.7h1.4v1.4h-1.4zM100.7 494.2h1.4v1.4h-1.4zM40.2 495.4h1.4v1.4h-1.4zM42.8 495.4h1.4v1.4h-1.4zM45.9 495.2h1.4v1.4h-1.4zM51.4 495.5h1.4v1.4h-1.4zM61.7 495.5h1.4v1.4h-1.4zM63.2 495.6h1.4v1.4h-1.4zM73.5 495.2h1.4v1.4h-1.4zM79.4 495.8h1.4v1.4h-1.4zM96.2 495.5h1.4v1.4h-1.4zM99.3 495.3h1.4v1.4h-1.4zM47.0 496.7h1.4v1.4h-1.4zM51.8 497.1h1.4v1.4h-1.4zM55.6 496.6h1.4v1.4h-1.4zM73.4 496.7h1.4v1.4h-1.4zM74.9 497.2h1.4v1.4h-1.4zM78.9 496.9h1.4v1.4h-1.4zM90.5 497.0h1.4v1.4h-1.4zM38.5 498.4h1.4v1.4h-1.4zM42.9 498.5h1.4v1.4h-1.4zM45.6 498.3h1.4v1.4h-1.4zM47.1 498.6h1.4v1.4h-1.4zM55.8 498.5h1.4v1.4h-1.4zM60.1 498.3h1.4v1.4h-1.4zM61.8 498.4h1.4v1.4h-1.4zM64.7 498.3h1.4v1.4h-1.4zM70.4 498.3h1.4v1.4h-1.4zM86.1 498.2h1.4v1.4h-1.4zM88.2 498.4h1.4v1.4h-1.4zM89.6 498.0h1.4v1.4h-1.4zM50.2 499.7h1.4v1.4h-1.4zM51.7 499.9h1.4v1.4h-1.4zM56.2 500.1h1.4v1.4h-1.4zM70.5 499.7h1.4v1.4h-1.4zM77.9 499.5h1.4v1.4h-1.4zM80.9 499.7h1.4v1.4h-1.4zM89.3 499.7h1.4v1.4h-1.4zM90.8 499.5h1.4v1.4h-1.4zM97.9 499.4h1.4v1.4h-1.4zM36.8 501.2h1.4v1.4h-1.4zM73.1 501.5h1.4v1.4h-1.4zM79.2 501.3h1.4v1.4h-1.4zM93.4 501.3h1.4v1.4h-1.4zM107.0 500.9h1.4v1.4h-1.4zM44.1 502.9h1.4v1.4h-1.4zM50.2 502.6h1.4v1.4h-1.4zM65.8 502.9h1.4v1.4h-1.4zM90.6 502.6h1.4v1.4h-1.4zM96.8 502.4h1.4v1.4h-1.4zM99.7 502.6h1.4v1.4h-1.4zM104.0 502.3h1.4v1.4h-1.4zM114.3 502.3h1.4v1.4h-1.4zM44.0 504.3h1.4v1.4h-1.4zM55.8 504.0h1.4v1.4h-1.4zM60.2 503.9h1.4v1.4h-1.4zM70.3 504.2h1.4v1.4h-1.4zM71.7 504.2h1.4v1.4h-1.4zM44.6 505.6h1.4v1.4h-1.4zM56.0 505.6h1.4v1.4h-1.4zM57.6 505.9h1.4v1.4h-1.4zM95.1 505.5h1.4v1.4h-1.4zM96.5 505.8h1.4v1.4h-1.4zM32.7 507.1h1.4v1.4h-1.4zM44.1 506.9h1.4v1.4h-1.4zM96.6 507.0h1.4v1.4h-1.4zM48.4 508.7h1.4v1.4h-1.4zM51.8 508.4h1.4v1.4h-1.4zM63.4 508.2h1.4v1.4h-1.4zM98.2 508.5h1.4v1.4h-1.4zM109.8 508.2h1.4v1.4h-1.4zM32.7 509.8h1.4v1.4h-1.4zM34.1 510.2h1.4v1.4h-1.4zM52.8 510.1h1.4v1.4h-1.4zM54.8 510.2h1.4v1.4h-1.4zM57.7 510.0h1.4v1.4h-1.4zM58.5 509.7h1.4v1.4h-1.4zM60.2 510.2h1.4v1.4h-1.4zM102.1 510.0h1.4v1.4h-1.4zM53.3 511.4h1.4v1.4h-1.4zM67.3 511.5h1.4v1.4h-1.4zM112.4 511.3h1.4v1.4h-1.4zM38.3 512.7h1.4v1.4h-1.4zM42.8 513.1h1.4v1.4h-1.4zM47.1 512.5h1.4v1.4h-1.4zM53.0 513.0h1.4v1.4h-1.4zM64.4 513.1h1.4v1.4h-1.4zM106.5 513.1h1.4v1.4h-1.4zM33.1 514.5h1.4v1.4h-1.4zM45.5 514.5h1.4v1.4h-1.4zM51.5 513.9h1.4v1.4h-1.4zM63.4 514.1h1.4v1.4h-1.4zM38.6 515.5h1.4v1.4h-1.4zM39.8 515.9h1.4v1.4h-1.4zM42.7 515.6h1.4v1.4h-1.4zM53.3 515.7h1.4v1.4h-1.4zM109.3 515.6h1.4v1.4h-1.4zM54.3 516.9h1.4v1.4h-1.4zM41.7 518.3h1.4v1.4h-1.4zM44.4 518.3h1.4v1.4h-1.4zM54.2 518.8h1.4v1.4h-1.4zM109.9 518.3h1.4v1.4h-1.4zM54.7 520.2h1.4v1.4h-1.4zM53.0 521.2h1.4v1.4h-1.4zM110.9 521.4h1.4v1.4h-1.4zM42.7 522.8h1.4v1.4h-1.4zM51.7 522.7h1.4v1.4h-1.4zM112.3 522.8h1.4v1.4h-1.4zM42.9 524.5h1.4v1.4h-1.4zM45.8 524.5h1.4v1.4h-1.4zM119.9 524.5h1.4v1.4h-1.4zM121.5 524.3h1.4v1.4h-1.4zM44.5 525.7h1.4v1.4h-1.4zM112.6 527.1h1.4v1.4h-1.4zM114.2 529.0h1.4v1.4h-1.4zM115.6 531.4h1.4v1.4h-1.4zM121.2 531.7h1.4v1.4h-1.4zM116.7 533.2h1.4v1.4h-1.4zM116.6 534.2h1.4v1.4h-1.4zM117.1 540.2h1.4v1.4h-1.4zM113.7 556.2h1.4v1.4h-1.4zM112.3 557.6h1.4v1.4h-1.4zM105.1 562.4h1.4v1.4h-1.4zM106.4 564.9h1.4v1.4h-1.4zM108.3 564.8h1.4v1.4h-1.4zM112.7 565.1h1.4v1.4h-1.4zM105.2 566.5h1.4v1.4h-1.4zM108.5 566.2h1.4v1.4h-1.4zM103.9 567.9h1.4v1.4h-1.4zM105.5 568.2h1.4v1.4h-1.4zM102.5 569.5h1.4v1.4h-1.4zM99.6 573.9h1.4v1.4h-1.4zM95.0 577.0h1.4v1.4h-1.4zM96.5 576.8h1.4v1.4h-1.4zM99.6 576.7h1.4v1.4h-1.4zM92.2 579.6h1.4v1.4h-1.4zM96.7 581.1h1.4v1.4h-1.4zM97.9 581.3h1.4v1.4h-1.4z"/>
<path fill="#7fb1de" d="M48.9 481.3h1.4v1.4h-1.4zM47.1 483.7h1.4v1.4h-1.4zM57.7 484.1h1.4v1.4h-1.4zM60.0 483.9h1.4v1.4h-1.4zM48.4 488.1h1.4v1.4h-1.4zM70.6 488.2h1.4v1.4h-1.4zM37.0 489.4h1.4v1.4h-1.4zM63.0 489.4h1.4v1.4h-1.4zM64.9 489.3h1.4v1.4h-1.4zM76.4 489.9h1.4v1.4h-1.4zM83.7 489.9h1.4v1.4h-1.4zM45.8 491.1h1.4v1.4h-1.4zM60.5 490.9h1.4v1.4h-1.4zM93.6 491.1h1.4v1.4h-1.4zM54.5 492.6h1.4v1.4h-1.4zM73.7 492.2h1.4v1.4h-1.4zM80.7 492.6h1.4v1.4h-1.4zM86.6 492.6h1.4v1.4h-1.4zM38.7 493.8h1.4v1.4h-1.4zM54.7 493.7h1.4v1.4h-1.4zM55.6 493.8h1.4v1.4h-1.4zM63.2 494.2h1.4v1.4h-1.4zM80.3 494.2h1.4v1.4h-1.4zM105.1 493.6h1.4v1.4h-1.4zM47.2 495.1h1.4v1.4h-1.4zM57.5 495.6h1.4v1.4h-1.4zM60.5 495.4h1.4v1.4h-1.4zM83.7 495.1h1.4v1.4h-1.4zM84.6 495.5h1.4v1.4h-1.4zM86.2 495.3h1.4v1.4h-1.4zM87.8 495.5h1.4v1.4h-1.4zM105.1 495.2h1.4v1.4h-1.4zM34.2 497.2h1.4v1.4h-1.4zM38.9 497.2h1.4v1.4h-1.4zM46.1 496.6h1.4v1.4h-1.4zM54.4 496.7h1.4v1.4h-1.4zM58.7 496.9h1.4v1.4h-1.4zM60.4 496.7h1.4v1.4h-1.4zM61.5 497.1h1.4v1.4h-1.4zM66.3 497.1h1.4v1.4h-1.4zM67.3 497.2h1.4v1.4h-1.4zM69.1 496.6h1.4v1.4h-1.4zM70.4 496.7h1.4v1.4h-1.4zM71.9 496.5h1.4v1.4h-1.4zM78.0 496.8h1.4v1.4h-1.4zM82.1 497.0h1.4v1.4h-1.4zM86.2 496.7h1.4v1.4h-1.4zM89.3 496.9h1.4v1.4h-1.4zM92.2 496.9h1.4v1.4h-1.4zM98.1 497.0h1.4v1.4h-1.4zM32.6 498.2h1.4v1.4h-1.4zM37.3 498.3h1.4v1.4h-1.4zM41.5 498.1h1.4v1.4h-1.4zM48.7 498.4h1.4v1.4h-1.4zM51.8 498.5h1.4v1.4h-1.4zM52.9 498.2h1.4v1.4h-1.4zM57.5 498.3h1.4v1.4h-1.4zM91.0 498.5h1.4v1.4h-1.4zM42.6 500.0h1.4v1.4h-1.4zM58.7 499.5h1.4v1.4h-1.4zM93.9 499.9h1.4v1.4h-1.4zM103.8 499.4h1.4v1.4h-1.4zM51.5 501.4h1.4v1.4h-1.4zM70.5 501.4h1.4v1.4h-1.4zM89.2 501.3h1.4v1.4h-1.4zM36.0 503.0h1.4v1.4h-1.4zM37.1 502.5h1.4v1.4h-1.4zM38.7 502.4h1.4v1.4h-1.4zM52.9 502.6h1.4v1.4h-1.4zM68.7 502.8h1.4v1.4h-1.4zM79.1 502.5h1.4v1.4h-1.4zM89.0 502.4h1.4v1.4h-1.4zM95.1 502.9h1.4v1.4h-1.4zM102.0 502.8h1.4v1.4h-1.4zM37.4 504.0h1.4v1.4h-1.4zM38.9 503.8h1.4v1.4h-1.4zM48.5 504.4h1.4v1.4h-1.4zM64.5 504.3h1.4v1.4h-1.4zM73.5 503.8h1.4v1.4h-1.4zM92.3 504.4h1.4v1.4h-1.4zM95.0 504.0h1.4v1.4h-1.4zM100.8 503.9h1.4v1.4h-1.4zM103.6 504.3h1.4v1.4h-1.4zM35.4 505.8h1.4v1.4h-1.4zM54.2 505.7h1.4v1.4h-1.4zM65.8 505.2h1.4v1.4h-1.4zM101.2 505.9h1.4v1.4h-1.4zM103.7 505.7h1.4v1.4h-1.4zM106.7 505.7h1.4v1.4h-1.4zM110.9 505.3h1.4v1.4h-1.4zM47.0 507.1h1.4v1.4h-1.4zM73.0 507.0h1.4v1.4h-1.4zM97.9 507.1h1.4v1.4h-1.4zM100.8 506.8h1.4v1.4h-1.4zM35.9 508.1h1.4v1.4h-1.4zM47.4 508.6h1.4v1.4h-1.4zM50.0 508.3h1.4v1.4h-1.4zM53.0 508.5h1.4v1.4h-1.4zM54.3 508.2h1.4v1.4h-1.4zM56.2 508.7h1.4v1.4h-1.4zM58.6 508.1h1.4v1.4h-1.4zM68.7 508.4h1.4v1.4h-1.4zM102.4 508.1h1.4v1.4h-1.4zM108.1 508.4h1.4v1.4h-1.4zM114.1 508.7h1.4v1.4h-1.4zM35.7 509.7h1.4v1.4h-1.4zM38.9 510.0h1.4v1.4h-1.4zM43.2 509.7h1.4v1.4h-1.4zM55.7 509.8h1.4v1.4h-1.4zM97.9 510.2h1.4v1.4h-1.4zM37.0 511.7h1.4v1.4h-1.4zM38.3 511.1h1.4v1.4h-1.4zM43.0 511.1h1.4v1.4h-1.4zM44.5 511.2h1.4v1.4h-1.4zM56.0 511.6h1.4v1.4h-1.4zM59.1 511.1h1.4v1.4h-1.4zM64.7 511.2h1.4v1.4h-1.4zM100.7 511.2h1.4v1.4h-1.4zM111.2 511.5h1.4v1.4h-1.4zM32.5 513.0h1.4v1.4h-1.4zM44.5 513.0h1.4v1.4h-1.4zM51.4 512.8h1.4v1.4h-1.4zM60.6 512.7h1.4v1.4h-1.4zM103.6 512.6h1.4v1.4h-1.4zM108.1 512.6h1.4v1.4h-1.4zM109.9 512.9h1.4v1.4h-1.4zM34.5 514.0h1.4v1.4h-1.4zM38.8 514.5h1.4v1.4h-1.4zM53.1 514.6h1.4v1.4h-1.4zM54.2 514.3h1.4v1.4h-1.4zM58.9 514.0h1.4v1.4h-1.4zM108.1 514.4h1.4v1.4h-1.4zM61.9 515.9h1.4v1.4h-1.4zM108.4 516.0h1.4v1.4h-1.4zM116.8 515.6h1.4v1.4h-1.4zM57.5 517.0h1.4v1.4h-1.4zM46.0 518.5h1.4v1.4h-1.4zM114.2 518.5h1.4v1.4h-1.4zM53.4 520.3h1.4v1.4h-1.4zM112.5 520.1h1.4v1.4h-1.4zM113.8 520.3h1.4v1.4h-1.4zM47.1 521.2h1.4v1.4h-1.4zM111.0 522.9h1.4v1.4h-1.4zM115.6 522.8h1.4v1.4h-1.4zM47.1 524.6h1.4v1.4h-1.4zM49.0 524.2h1.4v1.4h-1.4zM115.5 524.2h1.4v1.4h-1.4zM45.6 525.5h1.4v1.4h-1.4zM112.4 525.8h1.4v1.4h-1.4zM113.7 525.6h1.4v1.4h-1.4zM42.8 528.7h1.4v1.4h-1.4zM113.6 531.3h1.4v1.4h-1.4zM112.3 533.3h1.4v1.4h-1.4zM113.6 546.3h1.4v1.4h-1.4zM112.2 552.3h1.4v1.4h-1.4zM112.4 553.7h1.4v1.4h-1.4zM106.5 560.4h1.4v1.4h-1.4zM104.0 563.3h1.4v1.4h-1.4zM105.1 563.6h1.4v1.4h-1.4zM99.8 569.5h1.4v1.4h-1.4zM103.5 569.3h1.4v1.4h-1.4zM100.8 571.1h1.4v1.4h-1.4zM98.2 576.5h1.4v1.4h-1.4zM94.0 579.8h1.4v1.4h-1.4zM91.0 580.7h1.4v1.4h-1.4zM92.5 580.8h1.4v1.4h-1.4z"/>
<path fill="#629dd4" d="M41.1 484.1h1.4v1.4h-1.4zM47.1 485.4h1.4v1.4h-1.4zM65.8 485.4h1.4v1.4h-1.4zM47.4 486.7h1.4v1.4h-1.4zM41.2 488.4h1.4v1.4h-1.4zM53.1 487.9h1.4v1.4h-1.4zM55.8 488.2h1.4v1.4h-1.4zM74.8 488.1h1.4v1.4h-1.4zM40.1 489.8h1.4v1.4h-1.4zM41.3 489.9h1.4v1.4h-1.4zM42.9 489.9h1.4v1.4h-1.4zM48.6 489.4h1.4v1.4h-1.4zM57.6 489.5h1.4v1.4h-1.4zM74.6 489.8h1.4v1.4h-1.4zM92.4 490.0h1.4v1.4h-1.4zM44.2 490.9h1.4v1.4h-1.4zM51.9 491.0h1.4v1.4h-1.4zM63.2 491.0h1.4v1.4h-1.4zM67.5 491.3h1.4v1.4h-1.4zM78.9 491.1h1.4v1.4h-1.4zM80.9 491.0h1.4v1.4h-1.4zM96.3 491.3h1.4v1.4h-1.4zM35.5 492.5h1.4v1.4h-1.4zM38.2 492.4h1.4v1.4h-1.4zM39.9 492.4h1.4v1.4h-1.4zM42.7 492.7h1.4v1.4h-1.4zM56.1 492.4h1.4v1.4h-1.4zM60.3 492.4h1.4v1.4h-1.4zM61.5 492.3h1.4v1.4h-1.4zM65.9 492.5h1.4v1.4h-1.4zM68.9 492.8h1.4v1.4h-1.4zM79.0 492.6h1.4v1.4h-1.4zM45.7 493.8h1.4v1.4h-1.4zM66.2 494.2h1.4v1.4h-1.4zM67.7 494.2h1.4v1.4h-1.4zM72.0 493.9h1.4v1.4h-1.4zM75.0 493.7h1.4v1.4h-1.4zM78.0 494.1h1.4v1.4h-1.4zM95.2 493.9h1.4v1.4h-1.4zM34.1 495.7h1.4v1.4h-1.4zM50.3 495.5h1.4v1.4h-1.4zM52.9 495.7h1.4v1.4h-1.4zM69.2 495.2h1.4v1.4h-1.4zM80.4 495.2h1.4v1.4h-1.4zM82.2 495.2h1.4v1.4h-1.4zM90.9 495.2h1.4v1.4h-1.4zM93.3 495.4h1.4v1.4h-1.4zM36.0 497.0h1.4v1.4h-1.4zM39.8 497.1h1.4v1.4h-1.4zM83.7 496.9h1.4v1.4h-1.4zM87.7 496.6h1.4v1.4h-1.4zM101.2 496.6h1.4v1.4h-1.4zM102.2 497.0h1.4v1.4h-1.4zM35.6 498.5h1.4v1.4h-1.4zM67.7 498.2h1.4v1.4h-1.4zM74.8 498.5h1.4v1.4h-1.4zM77.5 498.6h1.4v1.4h-1.4zM98.2 498.1h1.4v1.4h-1.4zM99.3 498.6h1.4v1.4h-1.4zM102.2 498.5h1.4v1.4h-1.4zM35.5 500.1h1.4v1.4h-1.4zM45.6 499.8h1.4v1.4h-1.4zM47.0 499.6h1.4v1.4h-1.4zM53.0 499.8h1.4v1.4h-1.4zM54.4 499.5h1.4v1.4h-1.4zM64.7 499.9h1.4v1.4h-1.4zM67.3 499.9h1.4v1.4h-1.4zM71.7 499.7h1.4v1.4h-1.4zM81.8 499.5h1.4v1.4h-1.4zM94.9 499.5h1.4v1.4h-1.4zM99.6 500.1h1.4v1.4h-1.4zM100.8 499.5h1.4v1.4h-1.4zM44.5 501.4h1.4v1.4h-1.4zM50.0 501.0h1.4v1.4h-1.4zM66.1 501.3h1.4v1.4h-1.4zM74.5 501.2h1.4v1.4h-1.4zM77.9 501.1h1.4v1.4h-1.4zM82.3 501.0h1.4v1.4h-1.4zM92.1 501.3h1.4v1.4h-1.4zM94.9 501.3h1.4v1.4h-1.4zM102.0 501.3h1.4v1.4h-1.4zM46.0 502.7h1.4v1.4h-1.4zM47.0 502.8h1.4v1.4h-1.4zM58.6 502.5h1.4v1.4h-1.4zM67.8 502.7h1.4v1.4h-1.4zM72.1 502.6h1.4v1.4h-1.4zM73.5 502.7h1.4v1.4h-1.4zM106.5 502.9h1.4v1.4h-1.4zM45.8 504.1h1.4v1.4h-1.4zM74.5 504.3h1.4v1.4h-1.4zM89.3 504.2h1.4v1.4h-1.4zM110.9 504.3h1.4v1.4h-1.4zM115.4 504.0h1.4v1.4h-1.4zM32.7 505.6h1.4v1.4h-1.4zM37.0 505.7h1.4v1.4h-1.4zM40.1 505.5h1.4v1.4h-1.4zM50.3 505.8h1.4v1.4h-1.4zM60.6 505.5h1.4v1.4h-1.4zM65.0 505.3h1.4v1.4h-1.4zM68.8 505.8h1.4v1.4h-1.4zM97.9 505.3h1.4v1.4h-1.4zM102.0 505.9h1.4v1.4h-1.4zM105.3 505.7h1.4v1.4h-1.4zM108.4 505.7h1.4v1.4h-1.4zM109.5 505.4h1.4v1.4h-1.4zM48.9 506.7h1.4v1.4h-1.4zM57.1 506.7h1.4v1.4h-1.4zM64.4 507.3h1.4v1.4h-1.4zM66.2 506.9h1.4v1.4h-1.4zM93.4 507.0h1.4v1.4h-1.4zM99.5 507.2h1.4v1.4h-1.4zM103.8 506.7h1.4v1.4h-1.4zM37.2 508.7h1.4v1.4h-1.4zM60.2 508.3h1.4v1.4h-1.4zM70.2 508.6h1.4v1.4h-1.4zM96.7 508.2h1.4v1.4h-1.4zM105.0 508.6h1.4v1.4h-1.4zM44.1 510.2h1.4v1.4h-1.4zM49.9 509.7h1.4v1.4h-1.4zM65.8 510.2h1.4v1.4h-1.4zM67.8 509.9h1.4v1.4h-1.4zM68.8 509.8h1.4v1.4h-1.4zM101.1 509.8h1.4v1.4h-1.4zM105.1 509.9h1.4v1.4h-1.4zM109.6 510.1h1.4v1.4h-1.4zM34.3 511.0h1.4v1.4h-1.4zM39.9 511.7h1.4v1.4h-1.4zM48.8 511.1h1.4v1.4h-1.4zM50.4 511.3h1.4v1.4h-1.4zM51.8 511.5h1.4v1.4h-1.4zM63.5 511.1h1.4v1.4h-1.4zM65.9 511.2h1.4v1.4h-1.4zM105.1 511.5h1.4v1.4h-1.4zM108.2 511.1h1.4v1.4h-1.4zM45.7 512.8h1.4v1.4h-1.4zM50.3 512.6h1.4v1.4h-1.4zM111.2 512.9h1.4v1.4h-1.4zM35.5 514.2h1.4v1.4h-1.4zM48.9 514.4h1.4v1.4h-1.4zM41.7 515.6h1.4v1.4h-1.4zM45.9 516.0h1.4v1.4h-1.4zM49.0 515.6h1.4v1.4h-1.4zM59.1 515.4h1.4v1.4h-1.4zM110.9 515.5h1.4v1.4h-1.4zM42.8 516.8h1.4v1.4h-1.4zM48.8 517.4h1.4v1.4h-1.4zM55.8 517.4h1.4v1.4h-1.4zM58.6 517.4h1.4v1.4h-1.4zM60.4 517.0h1.4v1.4h-1.4zM112.6 517.1h1.4v1.4h-1.4zM114.2 516.8h1.4v1.4h-1.4zM42.6 518.9h1.4v1.4h-1.4zM51.7 518.8h1.4v1.4h-1.4zM52.8 518.9h1.4v1.4h-1.4zM112.7 518.6h1.4v1.4h-1.4zM44.6 520.1h1.4v1.4h-1.4zM48.6 519.8h1.4v1.4h-1.4zM50.4 520.2h1.4v1.4h-1.4zM41.4 521.3h1.4v1.4h-1.4zM46.1 523.1h1.4v1.4h-1.4zM47.1 523.1h1.4v1.4h-1.4zM42.7 527.3h1.4v1.4h-1.4zM112.6 529.0h1.4v1.4h-1.4zM112.8 529.9h1.4v1.4h-1.4zM115.2 530.3h1.4v1.4h-1.4zM112.3 531.9h1.4v1.4h-1.4zM113.8 534.7h1.4v1.4h-1.4zM114.2 550.2h1.4v1.4h-1.4zM117.0 550.6h1.4v1.4h-1.4zM112.3 554.7h1.4v1.4h-1.4zM107.9 558.1h1.4v1.4h-1.4zM109.6 557.7h1.4v1.4h-1.4zM106.7 559.5h1.4v1.4h-1.4zM107.8 559.3h1.4v1.4h-1.4zM111.0 559.3h1.4v1.4h-1.4zM105.3 560.7h1.4v1.4h-1.4zM104.1 562.4h1.4v1.4h-1.4zM108.1 562.0h1.4v1.4h-1.4zM101.0 566.4h1.4v1.4h-1.4zM103.6 566.3h1.4v1.4h-1.4zM98.2 570.9h1.4v1.4h-1.4zM99.8 570.6h1.4v1.4h-1.4zM97.8 572.1h1.4v1.4h-1.4zM102.7 572.3h1.4v1.4h-1.4zM95.4 575.1h1.4v1.4h-1.4zM96.5 575.4h1.4v1.4h-1.4zM102.3 575.5h1.4v1.4h-1.4zM92.5 577.8h1.4v1.4h-1.4zM97.7 577.8h1.4v1.4h-1.4zM94.8 579.8h1.4v1.4h-1.4zM96.2 579.2h1.4v1.4h-1.4zM89.1 580.7h1.4v1.4h-1.4z"/>
<path fill="#6f9fd0" d="M33.4 477.8h1.6v1.6h-1.6zM124.0 507.2h1.6v1.6h-1.6zM65.1 480.0h1.6v1.6h-1.6zM118.6 494.4h1.6v1.6h-1.6zM34.5 473.3h1.6v1.6h-1.6zM84.7 480.5h1.6v1.6h-1.6zM66.2 472.2h1.6v1.6h-1.6zM39.5 470.3h1.6v1.6h-1.6zM121.3 503.6h1.6v1.6h-1.6zM119.5 501.3h1.6v1.6h-1.6zM125.8 538.8h1.6v1.6h-1.6zM79.1 478.7h1.6v1.6h-1.6zM128.9 530.3h1.6v1.6h-1.6zM94.6 474.5h1.6v1.6h-1.6zM123.0 571.3h1.6v1.6h-1.6zM134.2 534.9h1.6v1.6h-1.6zM127.6 497.7h1.6v1.6h-1.6zM123.6 494.8h1.6v1.6h-1.6zM107.2 582.0h1.6v1.6h-1.6zM119.7 578.0h1.6v1.6h-1.6zM113.4 490.1h1.6v1.6h-1.6zM110.6 577.6h1.6v1.6h-1.6zM37.0 476.0h1.6v1.6h-1.6zM128.1 509.7h1.6v1.6h-1.6zM131.0 538.2h1.6v1.6h-1.6zM128.8 526.7h1.6v1.6h-1.6zM69.3 471.9h1.6v1.6h-1.6zM94.9 479.0h1.6v1.6h-1.6zM103.1 485.5h1.6v1.6h-1.6zM118.5 494.3h1.6v1.6h-1.6z"/>
<path d="M32.50 582.12H75.81V584.20H32.50ZM32.50 580.03H75.81V582.12H32.50ZM32.50 577.95H78.22V580.03H32.50ZM32.50 575.86H83.03V577.95H32.50ZM32.50 573.78H85.44V575.86H32.50ZM32.50 571.69H85.44V573.78H32.50ZM32.50 569.61H87.84V571.69H32.50ZM32.50 567.52H90.25V569.61H32.50ZM32.50 565.44H92.66V567.52H32.50ZM32.50 563.35H92.66V565.44H32.50ZM32.50 561.26H95.06V563.35H32.50ZM32.50 559.18H95.06V561.27H32.50ZM32.50 557.10H97.47V559.18H32.50ZM32.50 555.01H99.88V557.10H32.50ZM32.50 552.93H99.88V555.01H32.50ZM32.50 550.84H102.28V552.93H32.50ZM32.50 548.75H104.69V550.84H32.50ZM32.50 546.67H104.69V548.76H32.50ZM32.50 544.59H104.69V546.67H32.50ZM32.50 542.50H107.09V544.59H32.50ZM32.50 540.42H104.69V542.50H32.50ZM32.50 538.33H34.91V540.42H32.50ZM44.53 538.33H104.69V540.42H44.53ZM32.50 536.25H34.91V538.33H32.50ZM46.94 536.25H104.69V538.33H46.94ZM32.50 534.16H34.91V536.25H32.50ZM51.75 534.16H104.69V536.25H51.75ZM32.50 532.08H34.91V534.16H32.50ZM54.16 532.08H104.69V534.16H54.16ZM32.50 529.99H34.91V532.08H32.50ZM56.56 529.99H104.69V532.08H56.56ZM32.50 527.90H34.91V529.99H32.50ZM61.38 527.90H104.69V529.99H61.38ZM32.50 525.82H34.91V527.91H32.50ZM63.78 525.82H102.28V527.91H63.78ZM66.19 523.74H102.28V525.82H66.19ZM68.59 521.65H102.28V523.74H68.59ZM71.00 519.57H99.88V521.65H71.00ZM73.41 517.48H95.06V519.57H73.41ZM75.81 515.39H85.44V517.48H75.81ZM80.62 513.31H85.44V515.40H80.62ZM83.03 511.23H85.44V513.31H83.03Z" fill="url(#spk2)" shape-rendering="crispEdges"/>
<path d="M32.5 525.0C32.8 515.1 33.7 522.3 34.0 525.0C34.3 527.7 34.1 538.3 34.5 541.0C34.9 543.7 35.0 541.2 36.4 541.0C37.8 540.8 40.9 540.6 42.9 539.9C44.9 539.2 46.6 537.7 48.4 536.6C50.2 535.5 52.0 534.5 53.8 533.4C55.6 532.3 57.5 531.4 59.3 530.1C61.1 528.8 62.9 527.2 64.7 525.7C66.5 524.2 68.4 522.9 70.2 521.4C72.0 519.9 74.1 518.1 75.6 517.0C77.0 515.9 77.5 515.7 78.9 514.8C80.4 513.9 83.0 511.9 84.3 511.5C85.6 511.1 86.1 511.7 86.5 512.6C86.9 513.5 85.6 516.1 86.5 517.0C87.4 517.9 90.7 517.8 92.0 518.0C93.3 518.2 93.1 517.8 94.5 518.3C95.9 518.8 98.9 519.8 100.4 521.0C101.9 522.2 102.7 523.2 103.3 525.4C103.9 527.6 103.5 531.2 104.0 534.1C104.5 537.0 106.1 540.1 106.2 542.8C106.3 545.5 106.2 547.7 104.7 550.1C103.2 552.5 99.4 555.0 97.5 557.4C95.6 559.8 94.6 562.4 93.1 564.6C91.6 566.8 90.4 568.5 88.7 570.5C87.0 572.5 84.8 574.6 82.9 576.3C81.0 578.0 78.5 579.3 77.1 580.6C75.6 581.9 81.6 583.6 74.2 584.2C66.8 584.8 39.5 594.1 32.5 584.2C25.6 574.3 32.2 534.9 32.5 525.0Z" fill="none" stroke="#27a8e0" stroke-width="0.9"/>
<g clip-path="url(#cc4)">
</g>
<path class="ct" d="M32.5 548.8C32.9 548.8 33.0 549.4 34.9 548.6C36.8 547.9 40.5 545.4 43.6 544.3C46.8 543.2 50.1 542.7 53.8 542.1C57.4 541.5 61.9 540.6 65.5 540.6C69.1 540.6 72.2 541.5 75.6 542.1C79.0 542.7 83.4 542.7 85.8 544.3C88.2 545.9 89.7 548.8 90.2 551.5C90.7 554.2 89.9 557.6 88.7 560.3C87.5 563.0 85.6 565.6 82.9 567.5C80.2 569.4 76.3 570.7 72.7 571.9C69.1 573.1 64.7 573.9 61.1 574.8C57.5 575.6 54.0 576.3 50.9 577.0C47.8 577.7 44.6 578.4 42.2 579.2C39.8 580.1 37.8 581.3 36.4 582.1C35.0 582.9 34.4 583.9 34.0 584.2"/>
<path class="ct" d="M37.8 551.5C38.8 550.3 43.1 549.3 46.5 548.6C49.9 547.9 54.6 547.2 58.2 547.2C61.9 547.2 65.0 547.9 68.4 548.6C71.8 549.3 76.3 550.0 78.5 551.5C80.7 553.0 81.5 555.4 81.5 557.4C81.5 559.4 80.7 562.0 78.5 563.2C76.3 564.4 72.0 564.6 68.4 564.6C64.8 564.6 60.4 563.9 56.7 563.2C53.1 562.5 49.2 561.5 46.5 560.3C43.8 559.1 42.2 557.4 40.7 555.9C39.2 554.4 36.8 552.7 37.8 551.5Z"/>
<path class="ct" d="M32.5 558.0C32.9 558.4 33.8 558.9 34.9 560.3C36.0 561.6 38.1 563.7 39.3 566.1C40.5 568.5 41.5 571.8 42.2 574.8C42.9 577.8 43.4 582.6 43.6 584.2"/>
<line x1="32.5" y1="584.2" x2="225.0" y2="417.4" stroke="#000" stroke-width="1.1" stroke-dasharray="2.5,1.5"/>
<line x1="32.5" y1="565" x2="225.0" y2="496.5" stroke="#f0302c" stroke-width="1.2"/>
</g>
<rect x="32.5" y="417.4" width="192.50" height="166.80" fill="none" stroke="#4a4a4a" stroke-width="1.05"/>
<path d="M32.50 584.2v1.8M32.5 584.20h-1.8M64.58 584.2v1.8M32.5 556.40h-1.8M96.67 584.2v1.8M32.5 528.60h-1.8M128.75 584.2v1.8M32.5 500.80h-1.8M160.83 584.2v1.8M32.5 473.00h-1.8M192.92 584.2v1.8M32.5 445.20h-1.8M225.00 584.2v1.8M32.5 417.40h-1.8" stroke="#333" stroke-width="0.8"/>
<text class="tk" x="32.50" y="592.70" text-anchor="middle">0</text>
<text class="tk" x="29.90" y="586.80" text-anchor="end">0</text>
<text class="tk" x="64.58" y="592.70" text-anchor="middle">50</text>
<text class="tk" x="29.90" y="559.00" text-anchor="end">50</text>
<text class="tk" x="96.67" y="592.70" text-anchor="middle">100</text>
<text class="tk" x="29.90" y="531.20" text-anchor="end">100</text>
<text class="tk" x="128.75" y="592.70" text-anchor="middle">150</text>
<text class="tk" x="29.90" y="503.40" text-anchor="end">150</text>
<text class="tk" x="160.83" y="592.70" text-anchor="middle">200</text>
<text class="tk" x="29.90" y="475.60" text-anchor="end">200</text>
<text class="tk" x="192.92" y="592.70" text-anchor="middle">250</text>
<text class="tk" x="29.90" y="447.80" text-anchor="end">250</text>
<text class="tk" x="225.00" y="592.70" text-anchor="middle">300</text>
<text class="tk" x="29.90" y="420.00" text-anchor="end">300</text>
<text class="lb" x="128.75" y="603.00" text-anchor="middle">Estimated (<tspan font-style="italic">μg</tspan>/<tspan font-style="italic">m</tspan><tspan font-size="6.2px" dy="-3.6">3</tspan><tspan dy="3.6">)</tspan></text>
<text class="lb" transform="translate(11.20 500.80) rotate(-90)" x="0" y="3.2" text-anchor="middle">Observed (<tspan font-style="italic">μg</tspan>/<tspan font-style="italic">m</tspan><tspan font-size="6.2px" dy="-3.6">3</tspan><tspan dy="3.6">)</tspan></text>
<line x1="40.0" y1="428.4" x2="57.0" y2="428.4" stroke="#f0302c" stroke-width="1.2"/>
<line x1="40.0" y1="440.7" x2="57.0" y2="440.7" stroke="#000" stroke-width="1.1" stroke-dasharray="2.5,1.5"/>
<text class="lg" x="64.0" y="431.7">Regression Line</text>
<text class="lg" x="64.0" y="443.79999999999995">1:1 Line</text>
<rect x="161.00" y="530.90" width="61" height="46.5" fill="#fff"/>
<text class="st" x="219.20" y="539.70" text-anchor="end"><tspan font-style="italic">BIAS</tspan><tspan dx="2.0">=</tspan><tspan dx="4.3">−</tspan><tspan dx="1.5">11.57</tspan></text>
<text class="st" x="219.20" y="551.20" text-anchor="end"><tspan font-style="italic">RMSE</tspan><tspan dx="2.3">=</tspan><tspan dx="2.1">32.57</tspan></text>
<text class="st" x="219.20" y="562.30" text-anchor="end"><tspan font-style="italic">IOA</tspan><tspan dx="2.3">=</tspan><tspan dx="2.1">0.67</tspan></text>
<text class="st" x="219.20" y="573.30" text-anchor="end"><tspan font-style="italic">COR</tspan><tspan dx="2.3">=</tspan><tspan dx="2.1">0.50</tspan></text>
<rect x="241.2" y="417.4" width="9.00" height="166.80" fill="url(#cm)" stroke="#666" stroke-width="0.5"/>
<text class="cbl" x="253.70" y="585.90">0</text>
<text class="cbl" x="253.70" y="565.61">500</text>
<text class="cbl" x="253.70" y="545.32">1000</text>
<text class="cbl" x="253.70" y="525.02">1500</text>
<text class="cbl" x="253.70" y="504.73">2000</text>
<text class="cbl" x="253.70" y="484.44">2500</text>
<text class="cbl" x="253.70" y="464.15">3000</text>
<text class="cbl" x="253.70" y="443.86">3500</text>
<text class="cbl" x="253.70" y="423.56">4000</text>
<path d="M250.2 584.20h1.5M250.2 563.91h1.5M250.2 543.62h1.5M250.2 523.32h1.5M250.2 503.03h1.5M250.2 482.74h1.5M250.2 462.45h1.5M250.2 442.16h1.5M250.2 421.86h1.5" stroke="#444" stroke-width="0.5"/>
<path d="M342.50 417.4V584.2M310.5 556.40H502.5M374.50 417.4V584.2M310.5 528.60H502.5M406.50 417.4V584.2M310.5 500.80H502.5M438.50 417.4V584.2M310.5 473.00H502.5M470.50 417.4V584.2M310.5 445.20H502.5" stroke="#eeeeee" stroke-width="0.8" fill="none"/>
<g clip-path="url(#cl5)">
<polygon points="310.9,583.7 352.0,583.7 357.5,579.4 364.8,573.6 365.0,573.4 373.7,566.1 374.2,565.6 380.0,559.8 380.6,559.2 381.1,558.5 386.0,551.1 386.1,551.1 386.1,551.0 386.1,551.0 388.1,549.5 388.8,548.9 389.4,548.3 390.0,547.6 390.4,546.8 393.4,541.4 393.8,540.6 394.1,539.8 394.3,539.0 394.5,538.1 394.5,537.2 394.4,536.4 394.3,535.5 394.1,534.6 393.0,531.3 393.0,531.3 393.0,531.2 393.0,531.2 393.0,531.1 393.0,531.1 393.9,526.0 394.0,525.3 394.0,524.5 394.0,523.8 393.9,523.0 392.8,516.8 392.6,515.9 392.3,515.1 392.0,514.3 391.5,513.6 391.1,512.9 390.5,512.3 389.9,511.7 389.2,511.2 388.5,510.7 387.7,510.4 386.9,510.1 386.1,509.9 385.2,509.7 384.4,509.7 380.9,509.7 380.8,509.7 380.8,509.7 380.7,509.7 380.7,509.7 380.6,509.6 380.6,509.6 380.5,509.6 380.5,509.6 380.5,509.5 380.4,509.5 380.4,509.4 379.1,507.0 378.6,506.2 378.2,505.6 377.6,505.0 377.0,504.4 376.3,503.9 375.6,503.5 374.9,503.2 374.1,502.9 373.3,502.7 372.5,502.6 371.7,502.5 370.9,502.5 370.1,502.6 369.3,502.8 368.5,503.1 367.8,503.4 367.1,503.8 366.4,504.3 365.8,504.8 365.4,505.2 365.4,505.2 365.3,505.2 365.3,505.2 365.2,505.3 361.7,506.4 360.9,506.8 360.0,507.2 359.3,507.7 355.9,510.3 355.9,510.3 349.0,514.6 348.3,515.1 345.8,517.0 345.7,517.1 345.7,517.1 345.6,517.1 341.7,518.7 341.0,519.1 340.3,519.4 334.9,522.9 334.9,522.9 328.4,526.1 328.3,526.1 321.4,528.9 320.6,529.2 313.6,532.9 313.5,532.9 310.9,534.1 310.9,583.7" fill="url(#spk)"/>
<path fill="#9cc5e8" d="M387.4 479.6h1.4v1.4h-1.4zM394.4 479.6h1.4v1.4h-1.4zM384.5 485.7h1.4v1.4h-1.4zM386.1 485.9h1.4v1.4h-1.4zM387.6 485.8h1.4v1.4h-1.4zM397.5 485.8h1.4v1.4h-1.4zM398.9 485.5h1.4v1.4h-1.4zM394.7 486.9h1.4v1.4h-1.4zM384.5 490.0h1.4v1.4h-1.4zM391.7 490.4h1.4v1.4h-1.4zM397.3 490.0h1.4v1.4h-1.4zM399.4 490.0h1.4v1.4h-1.4zM377.1 491.7h1.4v1.4h-1.4zM384.5 491.3h1.4v1.4h-1.4zM399.3 491.8h1.4v1.4h-1.4zM366.0 493.1h1.4v1.4h-1.4zM375.6 492.9h1.4v1.4h-1.4zM406.2 493.0h1.4v1.4h-1.4zM364.4 494.2h1.4v1.4h-1.4zM378.7 494.3h1.4v1.4h-1.4zM384.6 494.7h1.4v1.4h-1.4zM391.6 494.5h1.4v1.4h-1.4zM368.5 495.8h1.4v1.4h-1.4zM378.9 496.0h1.4v1.4h-1.4zM394.8 495.7h1.4v1.4h-1.4zM364.0 497.2h1.4v1.4h-1.4zM365.4 497.1h1.4v1.4h-1.4zM371.8 497.2h1.4v1.4h-1.4zM391.8 497.4h1.4v1.4h-1.4zM356.9 499.0h1.4v1.4h-1.4zM364.5 498.8h1.4v1.4h-1.4zM367.2 498.8h1.4v1.4h-1.4zM368.8 498.5h1.4v1.4h-1.4zM371.8 498.9h1.4v1.4h-1.4zM374.3 498.5h1.4v1.4h-1.4zM381.7 498.7h1.4v1.4h-1.4zM387.7 498.6h1.4v1.4h-1.4zM388.9 498.5h1.4v1.4h-1.4zM390.5 498.9h1.4v1.4h-1.4zM395.9 498.8h1.4v1.4h-1.4zM397.7 498.5h1.4v1.4h-1.4zM400.3 499.1h1.4v1.4h-1.4zM405.0 499.0h1.4v1.4h-1.4zM406.3 498.8h1.4v1.4h-1.4zM407.6 499.0h1.4v1.4h-1.4zM410.7 498.8h1.4v1.4h-1.4zM355.3 500.1h1.4v1.4h-1.4zM358.3 500.4h1.4v1.4h-1.4zM365.7 500.2h1.4v1.4h-1.4zM366.9 500.2h1.4v1.4h-1.4zM371.3 499.9h1.4v1.4h-1.4zM372.7 500.2h1.4v1.4h-1.4zM379.1 500.3h1.4v1.4h-1.4zM391.7 500.2h1.4v1.4h-1.4zM410.8 500.5h1.4v1.4h-1.4zM361.2 502.0h1.4v1.4h-1.4zM363.0 501.8h1.4v1.4h-1.4zM370.1 501.6h1.4v1.4h-1.4zM380.1 501.8h1.4v1.4h-1.4zM384.3 501.4h1.4v1.4h-1.4zM389.1 501.9h1.4v1.4h-1.4zM409.4 501.7h1.4v1.4h-1.4zM412.0 501.9h1.4v1.4h-1.4zM378.6 503.5h1.4v1.4h-1.4zM390.3 503.3h1.4v1.4h-1.4zM406.1 502.9h1.4v1.4h-1.4zM354.1 504.4h1.4v1.4h-1.4zM357.1 504.4h1.4v1.4h-1.4zM384.8 504.4h1.4v1.4h-1.4zM401.8 504.3h1.4v1.4h-1.4zM403.6 504.9h1.4v1.4h-1.4zM348.1 506.4h1.4v1.4h-1.4zM390.3 506.3h1.4v1.4h-1.4zM394.8 506.0h1.4v1.4h-1.4zM399.1 506.1h1.4v1.4h-1.4zM403.4 505.9h1.4v1.4h-1.4zM405.0 506.0h1.4v1.4h-1.4zM411.9 506.3h1.4v1.4h-1.4zM355.9 507.5h1.4v1.4h-1.4zM356.8 507.3h1.4v1.4h-1.4zM379.9 507.5h1.4v1.4h-1.4zM383.4 507.4h1.4v1.4h-1.4zM385.8 507.4h1.4v1.4h-1.4zM405.1 507.3h1.4v1.4h-1.4zM352.6 508.6h1.4v1.4h-1.4zM381.5 509.2h1.4v1.4h-1.4zM389.0 509.0h1.4v1.4h-1.4zM390.5 509.0h1.4v1.4h-1.4zM391.9 509.1h1.4v1.4h-1.4zM395.1 508.7h1.4v1.4h-1.4zM397.6 509.1h1.4v1.4h-1.4zM403.6 508.9h1.4v1.4h-1.4zM339.8 510.1h1.4v1.4h-1.4zM342.6 510.4h1.4v1.4h-1.4zM351.3 510.1h1.4v1.4h-1.4zM390.4 510.6h1.4v1.4h-1.4zM394.4 510.3h1.4v1.4h-1.4zM336.8 511.7h1.4v1.4h-1.4zM341.2 511.9h1.4v1.4h-1.4zM342.3 511.8h1.4v1.4h-1.4zM345.6 512.2h1.4v1.4h-1.4zM351.1 511.7h1.4v1.4h-1.4zM394.5 511.9h1.4v1.4h-1.4zM413.3 511.9h1.4v1.4h-1.4zM415.3 511.9h1.4v1.4h-1.4zM333.8 513.0h1.4v1.4h-1.4zM406.2 513.3h1.4v1.4h-1.4zM336.9 516.1h1.4v1.4h-1.4zM339.7 516.0h1.4v1.4h-1.4zM393.3 516.4h1.4v1.4h-1.4zM402.1 516.3h1.4v1.4h-1.4zM406.4 515.9h1.4v1.4h-1.4zM409.2 515.9h1.4v1.4h-1.4zM413.4 516.2h1.4v1.4h-1.4zM415.1 516.1h1.4v1.4h-1.4zM336.9 517.4h1.4v1.4h-1.4zM410.9 517.5h1.4v1.4h-1.4zM413.3 519.0h1.4v1.4h-1.4zM330.8 520.6h1.4v1.4h-1.4zM332.6 520.4h1.4v1.4h-1.4zM333.9 520.3h1.4v1.4h-1.4zM335.3 520.9h1.4v1.4h-1.4zM406.3 520.4h1.4v1.4h-1.4zM325.1 522.2h1.4v1.4h-1.4zM327.9 521.9h1.4v1.4h-1.4zM393.0 522.1h1.4v1.4h-1.4zM399.1 521.8h1.4v1.4h-1.4zM331.2 523.2h1.4v1.4h-1.4zM396.1 523.4h1.4v1.4h-1.4zM397.8 523.4h1.4v1.4h-1.4zM399.3 523.1h1.4v1.4h-1.4zM416.4 523.3h1.4v1.4h-1.4zM313.7 525.2h1.4v1.4h-1.4zM397.4 525.0h1.4v1.4h-1.4zM414.9 525.1h1.4v1.4h-1.4zM324.9 526.1h1.4v1.4h-1.4zM414.8 526.6h1.4v1.4h-1.4zM420.5 526.3h1.4v1.4h-1.4zM316.4 528.0h1.4v1.4h-1.4zM319.1 527.7h1.4v1.4h-1.4zM393.5 527.9h1.4v1.4h-1.4zM400.7 528.0h1.4v1.4h-1.4zM404.6 528.0h1.4v1.4h-1.4zM315.2 529.4h1.4v1.4h-1.4zM401.9 529.5h1.4v1.4h-1.4zM403.7 529.4h1.4v1.4h-1.4zM404.8 529.4h1.4v1.4h-1.4zM415.3 529.4h1.4v1.4h-1.4zM310.3 530.5h1.4v1.4h-1.4zM313.3 530.9h1.4v1.4h-1.4zM315.2 530.8h1.4v1.4h-1.4zM399.1 530.6h1.4v1.4h-1.4zM394.8 531.9h1.4v1.4h-1.4zM398.0 532.0h1.4v1.4h-1.4zM409.5 532.1h1.4v1.4h-1.4zM397.8 533.4h1.4v1.4h-1.4zM403.7 534.9h1.4v1.4h-1.4zM407.9 534.8h1.4v1.4h-1.4zM399.2 536.8h1.4v1.4h-1.4zM403.5 536.2h1.4v1.4h-1.4zM407.5 536.7h1.4v1.4h-1.4zM405.0 538.3h1.4v1.4h-1.4zM396.3 539.2h1.4v1.4h-1.4zM399.3 539.6h1.4v1.4h-1.4zM403.5 539.7h1.4v1.4h-1.4zM396.2 540.7h1.4v1.4h-1.4zM404.8 541.2h1.4v1.4h-1.4zM409.3 540.6h1.4v1.4h-1.4zM413.7 541.0h1.4v1.4h-1.4zM409.4 542.4h1.4v1.4h-1.4zM391.8 543.9h1.4v1.4h-1.4zM401.7 544.0h1.4v1.4h-1.4zM409.6 543.7h1.4v1.4h-1.4zM390.7 545.5h1.4v1.4h-1.4zM394.8 544.9h1.4v1.4h-1.4zM390.5 548.3h1.4v1.4h-1.4zM399.2 548.1h1.4v1.4h-1.4zM400.7 547.8h1.4v1.4h-1.4zM402.1 548.3h1.4v1.4h-1.4zM405.0 547.9h1.4v1.4h-1.4zM417.9 547.9h1.4v1.4h-1.4zM390.7 549.5h1.4v1.4h-1.4zM394.8 549.5h1.4v1.4h-1.4zM401.7 549.7h1.4v1.4h-1.4zM403.3 549.9h1.4v1.4h-1.4zM386.3 550.8h1.4v1.4h-1.4zM387.5 551.2h1.4v1.4h-1.4zM390.7 550.8h1.4v1.4h-1.4zM400.4 550.7h1.4v1.4h-1.4zM394.8 552.5h1.4v1.4h-1.4zM397.4 552.2h1.4v1.4h-1.4zM399.3 552.3h1.4v1.4h-1.4zM390.3 554.0h1.4v1.4h-1.4zM392.0 555.5h1.4v1.4h-1.4zM400.7 555.2h1.4v1.4h-1.4zM393.2 556.9h1.4v1.4h-1.4zM397.9 556.7h1.4v1.4h-1.4zM403.8 556.6h1.4v1.4h-1.4zM387.4 558.5h1.4v1.4h-1.4zM390.5 558.3h1.4v1.4h-1.4zM379.9 559.5h1.4v1.4h-1.4zM387.2 559.9h1.4v1.4h-1.4zM390.4 560.0h1.4v1.4h-1.4zM399.2 559.9h1.4v1.4h-1.4zM400.2 559.8h1.4v1.4h-1.4zM404.6 559.5h1.4v1.4h-1.4zM381.5 561.3h1.4v1.4h-1.4zM399.2 561.0h1.4v1.4h-1.4zM381.9 562.9h1.4v1.4h-1.4zM383.0 562.7h1.4v1.4h-1.4zM376.2 563.8h1.4v1.4h-1.4zM382.9 564.1h1.4v1.4h-1.4zM391.7 564.3h1.4v1.4h-1.4zM393.6 563.9h1.4v1.4h-1.4zM396.5 563.9h1.4v1.4h-1.4zM374.8 565.5h1.4v1.4h-1.4zM378.7 565.2h1.4v1.4h-1.4zM381.9 565.7h1.4v1.4h-1.4zM385.9 565.8h1.4v1.4h-1.4zM374.2 567.1h1.4v1.4h-1.4zM388.6 567.1h1.4v1.4h-1.4zM384.8 568.4h1.4v1.4h-1.4zM386.0 568.7h1.4v1.4h-1.4zM392.0 568.3h1.4v1.4h-1.4zM399.3 568.7h1.4v1.4h-1.4zM373.3 570.1h1.4v1.4h-1.4zM374.2 569.8h1.4v1.4h-1.4zM379.0 570.1h1.4v1.4h-1.4zM387.6 569.9h1.4v1.4h-1.4zM377.0 571.0h1.4v1.4h-1.4zM386.0 571.5h1.4v1.4h-1.4zM365.8 572.7h1.4v1.4h-1.4zM374.3 573.1h1.4v1.4h-1.4zM377.2 573.0h1.4v1.4h-1.4zM380.4 573.0h1.4v1.4h-1.4zM384.5 572.5h1.4v1.4h-1.4zM362.9 574.3h1.4v1.4h-1.4zM378.8 574.4h1.4v1.4h-1.4zM382.9 574.5h1.4v1.4h-1.4zM386.1 574.4h1.4v1.4h-1.4zM387.4 574.2h1.4v1.4h-1.4zM396.4 574.5h1.4v1.4h-1.4zM361.6 575.8h1.4v1.4h-1.4zM384.6 575.4h1.4v1.4h-1.4zM361.7 577.5h1.4v1.4h-1.4zM374.3 577.1h1.4v1.4h-1.4zM375.9 577.0h1.4v1.4h-1.4zM358.2 578.6h1.4v1.4h-1.4zM359.7 578.2h1.4v1.4h-1.4zM365.5 578.6h1.4v1.4h-1.4zM369.8 578.4h1.4v1.4h-1.4zM372.7 578.4h1.4v1.4h-1.4zM383.2 578.6h1.4v1.4h-1.4zM359.8 579.9h1.4v1.4h-1.4zM362.7 580.3h1.4v1.4h-1.4zM365.5 580.0h1.4v1.4h-1.4zM368.7 580.3h1.4v1.4h-1.4zM389.0 579.7h1.4v1.4h-1.4zM354.3 581.4h1.4v1.4h-1.4zM357.0 581.7h1.4v1.4h-1.4zM359.8 581.1h1.4v1.4h-1.4zM361.1 581.5h1.4v1.4h-1.4zM374.7 581.6h1.4v1.4h-1.4zM390.1 581.6h1.4v1.4h-1.4zM367.0 582.8h1.4v1.4h-1.4zM368.6 583.0h1.4v1.4h-1.4zM374.5 583.1h1.4v1.4h-1.4zM378.9 582.9h1.4v1.4h-1.4zM382.9 582.9h1.4v1.4h-1.4zM384.3 582.8h1.4v1.4h-1.4z"/>
<path fill="#7fb1de" d="M382.0 484.6h1.4v1.4h-1.4zM404.6 486.0h1.4v1.4h-1.4zM364.2 487.0h1.4v1.4h-1.4zM399.1 487.4h1.4v1.4h-1.4zM374.4 488.4h1.4v1.4h-1.4zM375.9 488.6h1.4v1.4h-1.4zM387.2 489.0h1.4v1.4h-1.4zM390.6 488.4h1.4v1.4h-1.4zM410.9 488.6h1.4v1.4h-1.4zM371.9 490.3h1.4v1.4h-1.4zM372.7 490.2h1.4v1.4h-1.4zM386.3 490.4h1.4v1.4h-1.4zM381.5 491.7h1.4v1.4h-1.4zM377.4 492.7h1.4v1.4h-1.4zM378.7 493.3h1.4v1.4h-1.4zM383.4 492.7h1.4v1.4h-1.4zM384.3 493.0h1.4v1.4h-1.4zM400.3 492.9h1.4v1.4h-1.4zM409.0 492.7h1.4v1.4h-1.4zM371.8 494.6h1.4v1.4h-1.4zM374.2 494.8h1.4v1.4h-1.4zM375.8 494.3h1.4v1.4h-1.4zM377.1 494.3h1.4v1.4h-1.4zM380.3 494.8h1.4v1.4h-1.4zM397.6 494.3h1.4v1.4h-1.4zM412.3 494.5h1.4v1.4h-1.4zM374.4 495.6h1.4v1.4h-1.4zM381.9 496.0h1.4v1.4h-1.4zM386.4 495.6h1.4v1.4h-1.4zM400.7 496.2h1.4v1.4h-1.4zM359.7 497.5h1.4v1.4h-1.4zM368.5 497.4h1.4v1.4h-1.4zM380.5 497.2h1.4v1.4h-1.4zM381.6 497.2h1.4v1.4h-1.4zM406.2 497.5h1.4v1.4h-1.4zM351.2 499.0h1.4v1.4h-1.4zM359.8 498.5h1.4v1.4h-1.4zM366.0 499.1h1.4v1.4h-1.4zM393.6 498.8h1.4v1.4h-1.4zM395.0 498.6h1.4v1.4h-1.4zM403.7 499.0h1.4v1.4h-1.4zM354.3 500.3h1.4v1.4h-1.4zM361.1 500.3h1.4v1.4h-1.4zM362.9 500.2h1.4v1.4h-1.4zM364.3 500.0h1.4v1.4h-1.4zM393.5 500.5h1.4v1.4h-1.4zM400.2 499.9h1.4v1.4h-1.4zM364.5 501.9h1.4v1.4h-1.4zM366.1 501.5h1.4v1.4h-1.4zM375.7 502.0h1.4v1.4h-1.4zM383.0 501.4h1.4v1.4h-1.4zM387.5 501.7h1.4v1.4h-1.4zM401.8 501.9h1.4v1.4h-1.4zM415.4 502.0h1.4v1.4h-1.4zM352.4 503.3h1.4v1.4h-1.4zM355.4 503.0h1.4v1.4h-1.4zM358.3 502.8h1.4v1.4h-1.4zM387.8 503.3h1.4v1.4h-1.4zM393.5 503.4h1.4v1.4h-1.4zM396.4 502.9h1.4v1.4h-1.4zM399.0 503.4h1.4v1.4h-1.4zM338.3 504.9h1.4v1.4h-1.4zM348.7 504.9h1.4v1.4h-1.4zM361.7 504.6h1.4v1.4h-1.4zM383.2 504.3h1.4v1.4h-1.4zM408.1 504.7h1.4v1.4h-1.4zM413.5 504.9h1.4v1.4h-1.4zM347.1 506.3h1.4v1.4h-1.4zM349.9 505.9h1.4v1.4h-1.4zM396.0 506.3h1.4v1.4h-1.4zM409.2 505.8h1.4v1.4h-1.4zM393.3 507.7h1.4v1.4h-1.4zM396.5 507.6h1.4v1.4h-1.4zM400.4 507.5h1.4v1.4h-1.4zM403.5 507.2h1.4v1.4h-1.4zM348.2 509.2h1.4v1.4h-1.4zM355.4 508.8h1.4v1.4h-1.4zM380.1 508.9h1.4v1.4h-1.4zM393.2 509.0h1.4v1.4h-1.4zM340.8 510.1h1.4v1.4h-1.4zM345.7 510.5h1.4v1.4h-1.4zM346.6 510.6h1.4v1.4h-1.4zM400.9 510.3h1.4v1.4h-1.4zM403.3 510.5h1.4v1.4h-1.4zM410.4 510.3h1.4v1.4h-1.4zM331.2 511.7h1.4v1.4h-1.4zM335.0 511.7h1.4v1.4h-1.4zM350.0 511.8h1.4v1.4h-1.4zM402.2 511.5h1.4v1.4h-1.4zM407.7 511.7h1.4v1.4h-1.4zM336.5 513.0h1.4v1.4h-1.4zM396.0 513.4h1.4v1.4h-1.4zM412.2 513.4h1.4v1.4h-1.4zM345.6 514.6h1.4v1.4h-1.4zM346.9 514.9h1.4v1.4h-1.4zM393.4 515.0h1.4v1.4h-1.4zM399.3 514.8h1.4v1.4h-1.4zM400.5 514.6h1.4v1.4h-1.4zM403.1 514.9h1.4v1.4h-1.4zM407.6 514.5h1.4v1.4h-1.4zM328.4 516.0h1.4v1.4h-1.4zM333.6 516.3h1.4v1.4h-1.4zM335.0 516.5h1.4v1.4h-1.4zM338.5 516.0h1.4v1.4h-1.4zM398.9 516.0h1.4v1.4h-1.4zM335.2 517.4h1.4v1.4h-1.4zM397.8 517.7h1.4v1.4h-1.4zM400.9 518.0h1.4v1.4h-1.4zM408.9 517.6h1.4v1.4h-1.4zM417.9 518.0h1.4v1.4h-1.4zM326.5 518.9h1.4v1.4h-1.4zM338.4 518.9h1.4v1.4h-1.4zM403.3 519.2h1.4v1.4h-1.4zM408.1 518.8h1.4v1.4h-1.4zM409.4 519.3h1.4v1.4h-1.4zM319.6 520.9h1.4v1.4h-1.4zM336.5 520.6h1.4v1.4h-1.4zM393.4 520.6h1.4v1.4h-1.4zM394.6 520.5h1.4v1.4h-1.4zM400.3 520.3h1.4v1.4h-1.4zM417.7 520.8h1.4v1.4h-1.4zM326.9 521.7h1.4v1.4h-1.4zM401.7 522.1h1.4v1.4h-1.4zM409.5 521.9h1.4v1.4h-1.4zM415.0 521.7h1.4v1.4h-1.4zM329.5 523.6h1.4v1.4h-1.4zM394.8 523.3h1.4v1.4h-1.4zM400.3 523.4h1.4v1.4h-1.4zM403.7 523.8h1.4v1.4h-1.4zM326.5 524.9h1.4v1.4h-1.4zM400.5 524.6h1.4v1.4h-1.4zM406.1 524.7h1.4v1.4h-1.4zM407.8 524.6h1.4v1.4h-1.4zM410.8 525.2h1.4v1.4h-1.4zM412.0 524.8h1.4v1.4h-1.4zM419.3 525.2h1.4v1.4h-1.4zM312.2 526.4h1.4v1.4h-1.4zM321.9 526.6h1.4v1.4h-1.4zM393.1 526.2h1.4v1.4h-1.4zM397.4 526.5h1.4v1.4h-1.4zM400.5 526.3h1.4v1.4h-1.4zM403.1 526.4h1.4v1.4h-1.4zM409.1 526.5h1.4v1.4h-1.4zM410.6 526.4h1.4v1.4h-1.4zM416.6 526.1h1.4v1.4h-1.4zM314.9 528.1h1.4v1.4h-1.4zM318.1 527.6h1.4v1.4h-1.4zM396.0 527.9h1.4v1.4h-1.4zM397.5 527.5h1.4v1.4h-1.4zM399.1 527.7h1.4v1.4h-1.4zM402.3 527.7h1.4v1.4h-1.4zM409.0 527.8h1.4v1.4h-1.4zM410.7 527.5h1.4v1.4h-1.4zM311.8 528.9h1.4v1.4h-1.4zM317.7 529.4h1.4v1.4h-1.4zM397.8 529.5h1.4v1.4h-1.4zM400.5 529.2h1.4v1.4h-1.4zM406.5 529.2h1.4v1.4h-1.4zM416.6 529.1h1.4v1.4h-1.4zM400.7 530.8h1.4v1.4h-1.4zM402.2 530.7h1.4v1.4h-1.4zM403.7 530.9h1.4v1.4h-1.4zM404.9 530.8h1.4v1.4h-1.4zM409.3 530.7h1.4v1.4h-1.4zM402.2 532.3h1.4v1.4h-1.4zM404.9 532.2h1.4v1.4h-1.4zM415.3 532.4h1.4v1.4h-1.4zM399.3 533.6h1.4v1.4h-1.4zM406.3 533.9h1.4v1.4h-1.4zM410.5 533.5h1.4v1.4h-1.4zM397.6 534.8h1.4v1.4h-1.4zM399.2 535.2h1.4v1.4h-1.4zM406.1 536.2h1.4v1.4h-1.4zM412.3 536.4h1.4v1.4h-1.4zM396.1 538.1h1.4v1.4h-1.4zM410.5 538.2h1.4v1.4h-1.4zM414.7 538.0h1.4v1.4h-1.4zM400.5 539.8h1.4v1.4h-1.4zM412.1 539.6h1.4v1.4h-1.4zM394.6 540.9h1.4v1.4h-1.4zM393.3 542.6h1.4v1.4h-1.4zM404.7 542.6h1.4v1.4h-1.4zM408.0 542.4h1.4v1.4h-1.4zM419.5 542.1h1.4v1.4h-1.4zM393.6 544.0h1.4v1.4h-1.4zM394.6 544.0h1.4v1.4h-1.4zM396.1 543.5h1.4v1.4h-1.4zM398.8 543.7h1.4v1.4h-1.4zM406.7 543.5h1.4v1.4h-1.4zM412.5 543.4h1.4v1.4h-1.4zM392.0 545.1h1.4v1.4h-1.4zM400.5 545.1h1.4v1.4h-1.4zM406.3 545.4h1.4v1.4h-1.4zM411.8 545.4h1.4v1.4h-1.4zM397.4 546.8h1.4v1.4h-1.4zM400.3 546.3h1.4v1.4h-1.4zM411.8 546.5h1.4v1.4h-1.4zM413.6 546.7h1.4v1.4h-1.4zM391.7 548.0h1.4v1.4h-1.4zM394.5 548.2h1.4v1.4h-1.4zM409.6 547.9h1.4v1.4h-1.4zM389.0 549.6h1.4v1.4h-1.4zM405.1 549.4h1.4v1.4h-1.4zM389.0 551.3h1.4v1.4h-1.4zM396.1 551.0h1.4v1.4h-1.4zM398.9 550.7h1.4v1.4h-1.4zM414.9 551.0h1.4v1.4h-1.4zM386.1 552.3h1.4v1.4h-1.4zM387.2 552.6h1.4v1.4h-1.4zM391.7 552.3h1.4v1.4h-1.4zM395.9 554.1h1.4v1.4h-1.4zM397.7 554.0h1.4v1.4h-1.4zM383.4 555.0h1.4v1.4h-1.4zM384.6 555.6h1.4v1.4h-1.4zM396.3 555.2h1.4v1.4h-1.4zM397.3 555.5h1.4v1.4h-1.4zM399.4 555.4h1.4v1.4h-1.4zM386.3 557.1h1.4v1.4h-1.4zM391.8 557.1h1.4v1.4h-1.4zM396.0 557.0h1.4v1.4h-1.4zM399.4 556.7h1.4v1.4h-1.4zM381.9 558.5h1.4v1.4h-1.4zM393.2 558.6h1.4v1.4h-1.4zM406.0 558.4h1.4v1.4h-1.4zM403.3 559.7h1.4v1.4h-1.4zM379.0 561.1h1.4v1.4h-1.4zM383.0 561.2h1.4v1.4h-1.4zM402.0 561.5h1.4v1.4h-1.4zM400.9 562.8h1.4v1.4h-1.4zM405.1 562.8h1.4v1.4h-1.4zM390.1 564.2h1.4v1.4h-1.4zM376.0 565.6h1.4v1.4h-1.4zM387.4 565.5h1.4v1.4h-1.4zM394.7 565.6h1.4v1.4h-1.4zM379.0 566.6h1.4v1.4h-1.4zM381.4 566.6h1.4v1.4h-1.4zM383.0 567.3h1.4v1.4h-1.4zM384.5 566.7h1.4v1.4h-1.4zM390.1 566.8h1.4v1.4h-1.4zM372.8 568.4h1.4v1.4h-1.4zM382.9 568.2h1.4v1.4h-1.4zM390.2 568.2h1.4v1.4h-1.4zM369.8 569.5h1.4v1.4h-1.4zM377.5 569.6h1.4v1.4h-1.4zM380.1 569.6h1.4v1.4h-1.4zM390.4 569.9h1.4v1.4h-1.4zM394.7 569.7h1.4v1.4h-1.4zM370.1 571.0h1.4v1.4h-1.4zM374.8 571.6h1.4v1.4h-1.4zM390.1 571.5h1.4v1.4h-1.4zM394.7 571.3h1.4v1.4h-1.4zM367.3 572.9h1.4v1.4h-1.4zM373.2 572.5h1.4v1.4h-1.4zM376.0 572.7h1.4v1.4h-1.4zM388.7 572.6h1.4v1.4h-1.4zM390.3 572.8h1.4v1.4h-1.4zM367.4 574.2h1.4v1.4h-1.4zM376.1 574.0h1.4v1.4h-1.4zM366.0 575.6h1.4v1.4h-1.4zM367.0 575.4h1.4v1.4h-1.4zM380.2 575.7h1.4v1.4h-1.4zM387.6 575.8h1.4v1.4h-1.4zM364.0 577.0h1.4v1.4h-1.4zM371.7 577.3h1.4v1.4h-1.4zM377.6 577.1h1.4v1.4h-1.4zM380.1 577.1h1.4v1.4h-1.4zM361.4 578.5h1.4v1.4h-1.4zM362.9 578.5h1.4v1.4h-1.4zM378.6 578.5h1.4v1.4h-1.4zM387.5 578.7h1.4v1.4h-1.4zM371.6 579.9h1.4v1.4h-1.4zM375.9 580.3h1.4v1.4h-1.4zM377.7 580.2h1.4v1.4h-1.4zM355.9 581.6h1.4v1.4h-1.4zM363.2 581.5h1.4v1.4h-1.4zM365.5 581.4h1.4v1.4h-1.4zM385.9 583.0h1.4v1.4h-1.4z"/>
<path fill="#6fa5d9" d="M390.5 484.0h1.4v1.4h-1.4zM381.5 486.0h1.4v1.4h-1.4zM384.4 488.5h1.4v1.4h-1.4zM399.2 488.9h1.4v1.4h-1.4zM405.1 488.9h1.4v1.4h-1.4zM374.6 489.9h1.4v1.4h-1.4zM387.8 490.1h1.4v1.4h-1.4zM389.1 490.1h1.4v1.4h-1.4zM390.2 489.9h1.4v1.4h-1.4zM393.2 490.3h1.4v1.4h-1.4zM396.3 489.9h1.4v1.4h-1.4zM407.7 489.9h1.4v1.4h-1.4zM373.0 491.5h1.4v1.4h-1.4zM379.1 491.2h1.4v1.4h-1.4zM383.3 491.7h1.4v1.4h-1.4zM400.5 491.4h1.4v1.4h-1.4zM370.4 492.7h1.4v1.4h-1.4zM387.3 492.8h1.4v1.4h-1.4zM391.8 492.9h1.4v1.4h-1.4zM397.6 492.9h1.4v1.4h-1.4zM404.7 492.9h1.4v1.4h-1.4zM368.8 494.3h1.4v1.4h-1.4zM373.1 494.5h1.4v1.4h-1.4zM387.2 494.6h1.4v1.4h-1.4zM390.4 494.7h1.4v1.4h-1.4zM404.9 494.7h1.4v1.4h-1.4zM406.3 494.7h1.4v1.4h-1.4zM375.8 495.8h1.4v1.4h-1.4zM377.4 496.2h1.4v1.4h-1.4zM384.4 496.2h1.4v1.4h-1.4zM398.9 496.2h1.4v1.4h-1.4zM403.6 495.9h1.4v1.4h-1.4zM354.1 497.7h1.4v1.4h-1.4zM377.2 497.5h1.4v1.4h-1.4zM378.7 497.2h1.4v1.4h-1.4zM386.3 497.2h1.4v1.4h-1.4zM389.1 497.1h1.4v1.4h-1.4zM399.3 497.6h1.4v1.4h-1.4zM377.4 498.9h1.4v1.4h-1.4zM380.2 498.7h1.4v1.4h-1.4zM384.5 498.7h1.4v1.4h-1.4zM386.0 498.8h1.4v1.4h-1.4zM401.7 498.9h1.4v1.4h-1.4zM412.0 498.9h1.4v1.4h-1.4zM349.5 500.4h1.4v1.4h-1.4zM384.8 500.5h1.4v1.4h-1.4zM389.1 500.3h1.4v1.4h-1.4zM366.9 501.8h1.4v1.4h-1.4zM374.7 502.0h1.4v1.4h-1.4zM381.7 502.0h1.4v1.4h-1.4zM391.6 501.6h1.4v1.4h-1.4zM395.1 501.4h1.4v1.4h-1.4zM406.2 501.9h1.4v1.4h-1.4zM413.7 501.5h1.4v1.4h-1.4zM417.8 501.4h1.4v1.4h-1.4zM360.1 503.4h1.4v1.4h-1.4zM362.7 503.3h1.4v1.4h-1.4zM364.3 503.3h1.4v1.4h-1.4zM375.8 503.5h1.4v1.4h-1.4zM407.9 503.3h1.4v1.4h-1.4zM410.6 503.2h1.4v1.4h-1.4zM358.4 504.3h1.4v1.4h-1.4zM364.3 504.5h1.4v1.4h-1.4zM377.5 504.7h1.4v1.4h-1.4zM385.9 504.7h1.4v1.4h-1.4zM390.6 504.9h1.4v1.4h-1.4zM394.7 504.7h1.4v1.4h-1.4zM406.6 504.8h1.4v1.4h-1.4zM409.0 504.6h1.4v1.4h-1.4zM419.4 504.3h1.4v1.4h-1.4zM380.4 505.9h1.4v1.4h-1.4zM381.4 506.0h1.4v1.4h-1.4zM383.1 506.3h1.4v1.4h-1.4zM387.4 505.8h1.4v1.4h-1.4zM392.0 505.9h1.4v1.4h-1.4zM393.1 505.9h1.4v1.4h-1.4zM343.8 507.2h1.4v1.4h-1.4zM345.3 507.2h1.4v1.4h-1.4zM348.4 507.2h1.4v1.4h-1.4zM354.0 507.4h1.4v1.4h-1.4zM381.6 507.7h1.4v1.4h-1.4zM387.7 507.3h1.4v1.4h-1.4zM388.7 507.6h1.4v1.4h-1.4zM390.6 507.6h1.4v1.4h-1.4zM412.5 507.3h1.4v1.4h-1.4zM329.2 509.1h1.4v1.4h-1.4zM335.5 508.9h1.4v1.4h-1.4zM345.2 508.7h1.4v1.4h-1.4zM386.2 509.1h1.4v1.4h-1.4zM405.2 509.0h1.4v1.4h-1.4zM410.7 508.6h1.4v1.4h-1.4zM389.2 510.6h1.4v1.4h-1.4zM393.4 510.7h1.4v1.4h-1.4zM396.3 510.6h1.4v1.4h-1.4zM397.3 510.7h1.4v1.4h-1.4zM409.1 510.4h1.4v1.4h-1.4zM348.6 512.0h1.4v1.4h-1.4zM390.4 511.6h1.4v1.4h-1.4zM393.1 511.7h1.4v1.4h-1.4zM397.5 512.1h1.4v1.4h-1.4zM400.5 511.9h1.4v1.4h-1.4zM335.0 513.0h1.4v1.4h-1.4zM337.9 513.0h1.4v1.4h-1.4zM348.3 513.3h1.4v1.4h-1.4zM395.1 513.3h1.4v1.4h-1.4zM403.2 513.1h1.4v1.4h-1.4zM410.7 513.4h1.4v1.4h-1.4zM413.4 513.6h1.4v1.4h-1.4zM328.1 515.0h1.4v1.4h-1.4zM332.2 514.7h1.4v1.4h-1.4zM394.7 514.5h1.4v1.4h-1.4zM342.8 515.9h1.4v1.4h-1.4zM403.3 516.3h1.4v1.4h-1.4zM412.2 516.3h1.4v1.4h-1.4zM417.6 516.1h1.4v1.4h-1.4zM331.1 517.8h1.4v1.4h-1.4zM338.2 517.7h1.4v1.4h-1.4zM339.7 517.6h1.4v1.4h-1.4zM403.7 517.9h1.4v1.4h-1.4zM407.6 517.4h1.4v1.4h-1.4zM413.8 517.9h1.4v1.4h-1.4zM324.8 519.2h1.4v1.4h-1.4zM331.1 519.0h1.4v1.4h-1.4zM332.3 518.9h1.4v1.4h-1.4zM333.9 518.8h1.4v1.4h-1.4zM335.2 519.2h1.4v1.4h-1.4zM393.2 519.3h1.4v1.4h-1.4zM397.4 518.9h1.4v1.4h-1.4zM400.2 518.8h1.4v1.4h-1.4zM404.9 519.3h1.4v1.4h-1.4zM416.8 519.3h1.4v1.4h-1.4zM323.5 520.3h1.4v1.4h-1.4zM396.4 520.3h1.4v1.4h-1.4zM402.3 520.3h1.4v1.4h-1.4zM405.2 520.4h1.4v1.4h-1.4zM410.4 520.7h1.4v1.4h-1.4zM416.5 520.4h1.4v1.4h-1.4zM419.4 520.3h1.4v1.4h-1.4zM330.7 522.1h1.4v1.4h-1.4zM396.2 521.8h1.4v1.4h-1.4zM400.5 522.0h1.4v1.4h-1.4zM406.7 522.2h1.4v1.4h-1.4zM412.0 522.1h1.4v1.4h-1.4zM413.7 522.3h1.4v1.4h-1.4zM310.4 523.3h1.4v1.4h-1.4zM407.6 523.7h1.4v1.4h-1.4zM318.0 524.6h1.4v1.4h-1.4zM320.9 525.2h1.4v1.4h-1.4zM322.2 524.9h1.4v1.4h-1.4zM323.8 524.9h1.4v1.4h-1.4zM394.6 525.0h1.4v1.4h-1.4zM398.9 525.0h1.4v1.4h-1.4zM314.9 526.1h1.4v1.4h-1.4zM319.3 526.0h1.4v1.4h-1.4zM323.8 526.5h1.4v1.4h-1.4zM394.5 526.2h1.4v1.4h-1.4zM320.8 527.7h1.4v1.4h-1.4zM394.6 528.0h1.4v1.4h-1.4zM406.5 527.8h1.4v1.4h-1.4zM316.2 529.6h1.4v1.4h-1.4zM393.5 529.0h1.4v1.4h-1.4zM407.7 528.9h1.4v1.4h-1.4zM411.9 529.5h1.4v1.4h-1.4zM413.5 529.3h1.4v1.4h-1.4zM396.5 530.6h1.4v1.4h-1.4zM412.4 530.6h1.4v1.4h-1.4zM415.1 530.5h1.4v1.4h-1.4zM408.1 532.2h1.4v1.4h-1.4zM407.5 533.9h1.4v1.4h-1.4zM412.0 533.6h1.4v1.4h-1.4zM400.7 535.3h1.4v1.4h-1.4zM397.8 536.3h1.4v1.4h-1.4zM403.3 537.6h1.4v1.4h-1.4zM406.0 538.1h1.4v1.4h-1.4zM394.6 539.5h1.4v1.4h-1.4zM399.4 540.9h1.4v1.4h-1.4zM410.7 541.0h1.4v1.4h-1.4zM394.5 542.2h1.4v1.4h-1.4zM399.0 542.0h1.4v1.4h-1.4zM401.8 542.6h1.4v1.4h-1.4zM403.6 543.9h1.4v1.4h-1.4zM393.0 545.2h1.4v1.4h-1.4zM396.0 545.0h1.4v1.4h-1.4zM407.6 545.0h1.4v1.4h-1.4zM409.2 545.5h1.4v1.4h-1.4zM410.4 545.0h1.4v1.4h-1.4zM392.1 546.6h1.4v1.4h-1.4zM401.7 546.5h1.4v1.4h-1.4zM393.3 549.4h1.4v1.4h-1.4zM396.1 549.5h1.4v1.4h-1.4zM399.3 549.4h1.4v1.4h-1.4zM406.3 549.6h1.4v1.4h-1.4zM393.4 550.9h1.4v1.4h-1.4zM390.3 552.4h1.4v1.4h-1.4zM400.4 552.3h1.4v1.4h-1.4zM407.9 552.4h1.4v1.4h-1.4zM386.2 553.6h1.4v1.4h-1.4zM394.9 553.7h1.4v1.4h-1.4zM400.5 553.8h1.4v1.4h-1.4zM405.1 553.8h1.4v1.4h-1.4zM386.2 555.3h1.4v1.4h-1.4zM390.4 555.3h1.4v1.4h-1.4zM401.8 555.7h1.4v1.4h-1.4zM403.2 555.3h1.4v1.4h-1.4zM382.9 556.8h1.4v1.4h-1.4zM384.9 556.5h1.4v1.4h-1.4zM380.4 558.3h1.4v1.4h-1.4zM391.6 558.4h1.4v1.4h-1.4zM396.1 558.6h1.4v1.4h-1.4zM399.1 558.2h1.4v1.4h-1.4zM400.3 558.1h1.4v1.4h-1.4zM401.7 558.5h1.4v1.4h-1.4zM403.4 558.4h1.4v1.4h-1.4zM384.9 559.8h1.4v1.4h-1.4zM393.1 559.8h1.4v1.4h-1.4zM394.8 559.5h1.4v1.4h-1.4zM384.8 561.1h1.4v1.4h-1.4zM388.9 560.8h1.4v1.4h-1.4zM397.4 560.9h1.4v1.4h-1.4zM400.3 561.4h1.4v1.4h-1.4zM378.6 562.7h1.4v1.4h-1.4zM393.4 562.5h1.4v1.4h-1.4zM399.3 562.7h1.4v1.4h-1.4zM377.0 564.3h1.4v1.4h-1.4zM384.3 563.8h1.4v1.4h-1.4zM394.8 563.7h1.4v1.4h-1.4zM397.8 564.2h1.4v1.4h-1.4zM400.5 563.9h1.4v1.4h-1.4zM384.9 565.2h1.4v1.4h-1.4zM396.0 565.6h1.4v1.4h-1.4zM391.7 567.0h1.4v1.4h-1.4zM374.7 568.1h1.4v1.4h-1.4zM375.9 568.2h1.4v1.4h-1.4zM388.6 568.2h1.4v1.4h-1.4zM394.6 568.2h1.4v1.4h-1.4zM381.8 570.0h1.4v1.4h-1.4zM392.0 570.1h1.4v1.4h-1.4zM371.4 571.5h1.4v1.4h-1.4zM381.5 571.1h1.4v1.4h-1.4zM388.6 571.0h1.4v1.4h-1.4zM392.1 571.2h1.4v1.4h-1.4zM371.5 572.7h1.4v1.4h-1.4zM385.9 572.7h1.4v1.4h-1.4zM393.4 572.7h1.4v1.4h-1.4zM364.3 574.1h1.4v1.4h-1.4zM372.8 574.2h1.4v1.4h-1.4zM377.1 574.2h1.4v1.4h-1.4zM380.1 574.2h1.4v1.4h-1.4zM370.0 575.5h1.4v1.4h-1.4zM377.5 575.6h1.4v1.4h-1.4zM381.7 575.6h1.4v1.4h-1.4zM388.9 576.0h1.4v1.4h-1.4zM366.0 576.8h1.4v1.4h-1.4zM367.1 577.3h1.4v1.4h-1.4zM369.9 577.0h1.4v1.4h-1.4zM393.2 577.2h1.4v1.4h-1.4zM367.1 578.6h1.4v1.4h-1.4zM377.5 578.6h1.4v1.4h-1.4zM355.7 579.9h1.4v1.4h-1.4zM356.8 579.9h1.4v1.4h-1.4zM366.9 580.1h1.4v1.4h-1.4zM373.3 579.9h1.4v1.4h-1.4zM380.1 579.8h1.4v1.4h-1.4zM394.9 579.8h1.4v1.4h-1.4zM364.0 581.4h1.4v1.4h-1.4zM372.9 581.4h1.4v1.4h-1.4zM380.4 581.7h1.4v1.4h-1.4zM382.8 581.7h1.4v1.4h-1.4zM385.8 581.4h1.4v1.4h-1.4zM387.6 581.6h1.4v1.4h-1.4zM353.8 582.7h1.4v1.4h-1.4zM364.6 582.8h1.4v1.4h-1.4zM365.5 582.6h1.4v1.4h-1.4zM369.8 582.6h1.4v1.4h-1.4z"/>
<path fill="#8cbbe3" d="M392.2 484.1h1.4v1.4h-1.4zM378.7 487.3h1.4v1.4h-1.4zM380.6 486.9h1.4v1.4h-1.4zM381.4 487.0h1.4v1.4h-1.4zM382.9 487.3h1.4v1.4h-1.4zM384.5 487.4h1.4v1.4h-1.4zM371.8 488.8h1.4v1.4h-1.4zM383.4 488.7h1.4v1.4h-1.4zM402.2 488.7h1.4v1.4h-1.4zM360.0 490.2h1.4v1.4h-1.4zM379.0 489.9h1.4v1.4h-1.4zM394.7 489.8h1.4v1.4h-1.4zM400.7 490.2h1.4v1.4h-1.4zM406.2 489.9h1.4v1.4h-1.4zM389.1 491.7h1.4v1.4h-1.4zM394.4 491.5h1.4v1.4h-1.4zM396.2 491.2h1.4v1.4h-1.4zM403.5 491.5h1.4v1.4h-1.4zM416.5 491.6h1.4v1.4h-1.4zM354.2 492.8h1.4v1.4h-1.4zM367.3 493.3h1.4v1.4h-1.4zM373.1 492.7h1.4v1.4h-1.4zM381.4 493.3h1.4v1.4h-1.4zM403.6 492.8h1.4v1.4h-1.4zM365.7 494.2h1.4v1.4h-1.4zM367.3 494.6h1.4v1.4h-1.4zM369.8 494.5h1.4v1.4h-1.4zM393.6 494.5h1.4v1.4h-1.4zM394.7 494.2h1.4v1.4h-1.4zM400.8 494.4h1.4v1.4h-1.4zM410.6 494.7h1.4v1.4h-1.4zM365.4 495.9h1.4v1.4h-1.4zM372.9 496.1h1.4v1.4h-1.4zM380.5 495.8h1.4v1.4h-1.4zM391.7 495.8h1.4v1.4h-1.4zM406.7 496.0h1.4v1.4h-1.4zM407.5 495.8h1.4v1.4h-1.4zM358.7 497.4h1.4v1.4h-1.4zM362.8 497.0h1.4v1.4h-1.4zM373.1 497.2h1.4v1.4h-1.4zM384.5 497.0h1.4v1.4h-1.4zM393.4 497.6h1.4v1.4h-1.4zM355.5 498.8h1.4v1.4h-1.4zM373.1 499.1h1.4v1.4h-1.4zM375.9 498.7h1.4v1.4h-1.4zM392.0 499.0h1.4v1.4h-1.4zM351.5 500.0h1.4v1.4h-1.4zM359.7 500.1h1.4v1.4h-1.4zM376.0 500.2h1.4v1.4h-1.4zM386.2 500.2h1.4v1.4h-1.4zM387.6 500.0h1.4v1.4h-1.4zM396.2 500.5h1.4v1.4h-1.4zM401.7 500.2h1.4v1.4h-1.4zM406.3 500.0h1.4v1.4h-1.4zM354.0 502.0h1.4v1.4h-1.4zM359.7 501.6h1.4v1.4h-1.4zM369.0 501.4h1.4v1.4h-1.4zM371.5 501.4h1.4v1.4h-1.4zM378.9 501.9h1.4v1.4h-1.4zM390.5 501.8h1.4v1.4h-1.4zM393.2 501.7h1.4v1.4h-1.4zM410.4 501.4h1.4v1.4h-1.4zM349.9 503.0h1.4v1.4h-1.4zM354.5 503.0h1.4v1.4h-1.4zM361.1 502.8h1.4v1.4h-1.4zM382.0 503.4h1.4v1.4h-1.4zM384.8 503.0h1.4v1.4h-1.4zM389.1 503.0h1.4v1.4h-1.4zM394.7 503.3h1.4v1.4h-1.4zM402.3 502.8h1.4v1.4h-1.4zM413.4 503.2h1.4v1.4h-1.4zM352.6 504.6h1.4v1.4h-1.4zM380.2 504.4h1.4v1.4h-1.4zM387.8 504.9h1.4v1.4h-1.4zM391.8 504.5h1.4v1.4h-1.4zM397.9 504.7h1.4v1.4h-1.4zM410.6 504.5h1.4v1.4h-1.4zM351.4 506.3h1.4v1.4h-1.4zM354.2 506.3h1.4v1.4h-1.4zM355.8 505.9h1.4v1.4h-1.4zM357.3 505.8h1.4v1.4h-1.4zM358.5 505.9h1.4v1.4h-1.4zM379.0 506.2h1.4v1.4h-1.4zM386.4 506.0h1.4v1.4h-1.4zM406.5 505.7h1.4v1.4h-1.4zM349.5 507.8h1.4v1.4h-1.4zM352.8 507.5h1.4v1.4h-1.4zM401.9 507.7h1.4v1.4h-1.4zM406.6 507.4h1.4v1.4h-1.4zM415.0 507.6h1.4v1.4h-1.4zM341.2 509.1h1.4v1.4h-1.4zM346.8 508.9h1.4v1.4h-1.4zM351.6 508.9h1.4v1.4h-1.4zM354.2 508.8h1.4v1.4h-1.4zM396.3 508.8h1.4v1.4h-1.4zM406.7 509.2h1.4v1.4h-1.4zM407.7 509.1h1.4v1.4h-1.4zM349.7 510.7h1.4v1.4h-1.4zM352.9 510.4h1.4v1.4h-1.4zM402.3 510.1h1.4v1.4h-1.4zM408.0 510.7h1.4v1.4h-1.4zM333.8 511.8h1.4v1.4h-1.4zM338.1 511.7h1.4v1.4h-1.4zM339.9 511.8h1.4v1.4h-1.4zM396.2 511.7h1.4v1.4h-1.4zM404.9 511.9h1.4v1.4h-1.4zM342.9 513.0h1.4v1.4h-1.4zM391.7 513.3h1.4v1.4h-1.4zM399.2 513.5h1.4v1.4h-1.4zM405.1 513.5h1.4v1.4h-1.4zM341.0 514.6h1.4v1.4h-1.4zM342.7 515.0h1.4v1.4h-1.4zM344.2 514.6h1.4v1.4h-1.4zM391.9 514.7h1.4v1.4h-1.4zM396.0 514.9h1.4v1.4h-1.4zM406.7 514.8h1.4v1.4h-1.4zM341.1 515.9h1.4v1.4h-1.4zM394.6 516.3h1.4v1.4h-1.4zM405.0 516.1h1.4v1.4h-1.4zM407.8 516.0h1.4v1.4h-1.4zM410.4 516.3h1.4v1.4h-1.4zM393.1 517.5h1.4v1.4h-1.4zM394.6 517.5h1.4v1.4h-1.4zM396.5 517.7h1.4v1.4h-1.4zM401.8 517.7h1.4v1.4h-1.4zM404.6 517.5h1.4v1.4h-1.4zM406.2 517.9h1.4v1.4h-1.4zM416.8 517.9h1.4v1.4h-1.4zM327.9 519.4h1.4v1.4h-1.4zM329.3 519.2h1.4v1.4h-1.4zM337.0 519.1h1.4v1.4h-1.4zM394.6 519.0h1.4v1.4h-1.4zM406.6 519.1h1.4v1.4h-1.4zM412.0 519.1h1.4v1.4h-1.4zM326.5 520.5h1.4v1.4h-1.4zM328.0 520.7h1.4v1.4h-1.4zM398.9 520.9h1.4v1.4h-1.4zM407.5 520.2h1.4v1.4h-1.4zM333.6 521.9h1.4v1.4h-1.4zM394.7 521.7h1.4v1.4h-1.4zM408.0 521.7h1.4v1.4h-1.4zM327.8 523.4h1.4v1.4h-1.4zM406.4 523.8h1.4v1.4h-1.4zM410.8 523.7h1.4v1.4h-1.4zM412.4 523.3h1.4v1.4h-1.4zM419.3 523.5h1.4v1.4h-1.4zM319.1 524.7h1.4v1.4h-1.4zM396.2 524.8h1.4v1.4h-1.4zM401.8 525.0h1.4v1.4h-1.4zM404.9 524.9h1.4v1.4h-1.4zM409.4 525.1h1.4v1.4h-1.4zM416.5 524.6h1.4v1.4h-1.4zM396.5 526.5h1.4v1.4h-1.4zM398.8 526.3h1.4v1.4h-1.4zM402.2 526.1h1.4v1.4h-1.4zM406.2 526.4h1.4v1.4h-1.4zM411.9 526.2h1.4v1.4h-1.4zM415.0 528.0h1.4v1.4h-1.4zM313.3 529.0h1.4v1.4h-1.4zM312.0 530.7h1.4v1.4h-1.4zM395.0 530.5h1.4v1.4h-1.4zM397.8 531.0h1.4v1.4h-1.4zM406.6 531.0h1.4v1.4h-1.4zM407.7 530.4h1.4v1.4h-1.4zM393.2 532.3h1.4v1.4h-1.4zM395.9 532.2h1.4v1.4h-1.4zM399.3 531.8h1.4v1.4h-1.4zM403.7 532.2h1.4v1.4h-1.4zM406.2 531.9h1.4v1.4h-1.4zM412.4 532.4h1.4v1.4h-1.4zM413.8 532.4h1.4v1.4h-1.4zM422.0 531.9h1.4v1.4h-1.4zM393.4 533.3h1.4v1.4h-1.4zM394.5 533.6h1.4v1.4h-1.4zM400.7 533.9h1.4v1.4h-1.4zM405.0 535.0h1.4v1.4h-1.4zM410.7 535.3h1.4v1.4h-1.4zM394.9 536.8h1.4v1.4h-1.4zM400.4 536.3h1.4v1.4h-1.4zM409.4 536.5h1.4v1.4h-1.4zM413.9 536.4h1.4v1.4h-1.4zM399.1 537.7h1.4v1.4h-1.4zM402.0 537.6h1.4v1.4h-1.4zM407.7 537.9h1.4v1.4h-1.4zM409.0 538.1h1.4v1.4h-1.4zM413.4 537.7h1.4v1.4h-1.4zM402.3 539.2h1.4v1.4h-1.4zM409.3 539.5h1.4v1.4h-1.4zM413.4 539.4h1.4v1.4h-1.4zM402.1 541.1h1.4v1.4h-1.4zM406.6 540.7h1.4v1.4h-1.4zM412.3 540.8h1.4v1.4h-1.4zM397.5 542.6h1.4v1.4h-1.4zM400.2 542.5h1.4v1.4h-1.4zM403.3 542.6h1.4v1.4h-1.4zM410.5 542.0h1.4v1.4h-1.4zM412.4 542.1h1.4v1.4h-1.4zM413.7 542.2h1.4v1.4h-1.4zM397.5 543.8h1.4v1.4h-1.4zM405.1 543.6h1.4v1.4h-1.4zM407.8 543.6h1.4v1.4h-1.4zM419.1 544.1h1.4v1.4h-1.4zM399.0 544.9h1.4v1.4h-1.4zM401.9 545.0h1.4v1.4h-1.4zM415.3 545.1h1.4v1.4h-1.4zM395.9 546.7h1.4v1.4h-1.4zM407.6 546.3h1.4v1.4h-1.4zM389.0 548.1h1.4v1.4h-1.4zM393.4 547.9h1.4v1.4h-1.4zM396.3 547.8h1.4v1.4h-1.4zM403.6 548.2h1.4v1.4h-1.4zM392.2 549.5h1.4v1.4h-1.4zM394.8 550.9h1.4v1.4h-1.4zM398.0 551.0h1.4v1.4h-1.4zM402.1 551.3h1.4v1.4h-1.4zM393.4 552.7h1.4v1.4h-1.4zM403.5 552.5h1.4v1.4h-1.4zM391.8 554.1h1.4v1.4h-1.4zM403.4 553.7h1.4v1.4h-1.4zM387.7 555.7h1.4v1.4h-1.4zM395.0 555.0h1.4v1.4h-1.4zM405.1 555.6h1.4v1.4h-1.4zM406.7 555.6h1.4v1.4h-1.4zM402.3 556.7h1.4v1.4h-1.4zM405.2 556.8h1.4v1.4h-1.4zM406.2 556.5h1.4v1.4h-1.4zM388.8 558.5h1.4v1.4h-1.4zM385.7 559.6h1.4v1.4h-1.4zM387.6 561.4h1.4v1.4h-1.4zM390.4 561.5h1.4v1.4h-1.4zM393.0 560.8h1.4v1.4h-1.4zM394.5 561.2h1.4v1.4h-1.4zM377.3 562.4h1.4v1.4h-1.4zM389.0 562.7h1.4v1.4h-1.4zM391.8 562.3h1.4v1.4h-1.4zM394.5 562.7h1.4v1.4h-1.4zM397.3 562.9h1.4v1.4h-1.4zM403.1 562.7h1.4v1.4h-1.4zM388.8 564.2h1.4v1.4h-1.4zM377.7 565.4h1.4v1.4h-1.4zM380.4 565.4h1.4v1.4h-1.4zM389.2 565.5h1.4v1.4h-1.4zM397.7 565.2h1.4v1.4h-1.4zM398.9 565.8h1.4v1.4h-1.4zM371.6 566.9h1.4v1.4h-1.4zM394.5 566.7h1.4v1.4h-1.4zM377.2 568.7h1.4v1.4h-1.4zM378.6 568.7h1.4v1.4h-1.4zM381.7 568.5h1.4v1.4h-1.4zM384.4 569.6h1.4v1.4h-1.4zM367.4 571.2h1.4v1.4h-1.4zM368.4 571.3h1.4v1.4h-1.4zM373.3 571.0h1.4v1.4h-1.4zM380.6 571.5h1.4v1.4h-1.4zM368.7 572.7h1.4v1.4h-1.4zM392.1 572.7h1.4v1.4h-1.4zM368.4 574.3h1.4v1.4h-1.4zM374.1 574.2h1.4v1.4h-1.4zM391.7 574.5h1.4v1.4h-1.4zM362.9 575.7h1.4v1.4h-1.4zM368.8 575.3h1.4v1.4h-1.4zM371.4 575.4h1.4v1.4h-1.4zM372.7 575.9h1.4v1.4h-1.4zM376.2 575.8h1.4v1.4h-1.4zM378.9 575.6h1.4v1.4h-1.4zM383.4 575.5h1.4v1.4h-1.4zM386.0 575.6h1.4v1.4h-1.4zM360.0 577.4h1.4v1.4h-1.4zM368.4 576.9h1.4v1.4h-1.4zM373.2 577.2h1.4v1.4h-1.4zM383.3 577.1h1.4v1.4h-1.4zM386.0 577.2h1.4v1.4h-1.4zM364.1 578.9h1.4v1.4h-1.4zM374.2 578.8h1.4v1.4h-1.4zM358.2 579.9h1.4v1.4h-1.4zM361.1 579.9h1.4v1.4h-1.4zM381.5 580.0h1.4v1.4h-1.4zM383.3 579.8h1.4v1.4h-1.4zM387.4 580.3h1.4v1.4h-1.4zM358.8 581.5h1.4v1.4h-1.4zM375.7 581.3h1.4v1.4h-1.4zM380.3 582.8h1.4v1.4h-1.4z"/>
<path fill="#629dd4" d="M383.2 485.9h1.4v1.4h-1.4zM377.1 488.4h1.4v1.4h-1.4zM392.2 489.0h1.4v1.4h-1.4zM393.5 488.9h1.4v1.4h-1.4zM396.3 488.5h1.4v1.4h-1.4zM403.4 489.8h1.4v1.4h-1.4zM405.0 490.0h1.4v1.4h-1.4zM380.4 491.7h1.4v1.4h-1.4zM385.8 491.4h1.4v1.4h-1.4zM387.6 491.5h1.4v1.4h-1.4zM393.0 491.7h1.4v1.4h-1.4zM397.6 491.5h1.4v1.4h-1.4zM409.5 491.5h1.4v1.4h-1.4zM389.3 493.0h1.4v1.4h-1.4zM390.5 493.2h1.4v1.4h-1.4zM355.6 494.6h1.4v1.4h-1.4zM383.1 494.8h1.4v1.4h-1.4zM386.3 494.3h1.4v1.4h-1.4zM398.9 494.2h1.4v1.4h-1.4zM401.9 494.2h1.4v1.4h-1.4zM407.7 494.5h1.4v1.4h-1.4zM367.2 495.8h1.4v1.4h-1.4zM371.7 496.2h1.4v1.4h-1.4zM383.0 495.6h1.4v1.4h-1.4zM388.6 496.2h1.4v1.4h-1.4zM396.1 496.1h1.4v1.4h-1.4zM370.4 497.1h1.4v1.4h-1.4zM375.8 497.6h1.4v1.4h-1.4zM383.3 497.7h1.4v1.4h-1.4zM394.9 497.6h1.4v1.4h-1.4zM400.9 497.3h1.4v1.4h-1.4zM402.2 497.3h1.4v1.4h-1.4zM403.7 497.2h1.4v1.4h-1.4zM409.5 497.7h1.4v1.4h-1.4zM361.2 499.1h1.4v1.4h-1.4zM363.1 498.9h1.4v1.4h-1.4zM370.4 498.6h1.4v1.4h-1.4zM378.7 498.9h1.4v1.4h-1.4zM399.0 498.9h1.4v1.4h-1.4zM370.2 500.0h1.4v1.4h-1.4zM374.4 499.9h1.4v1.4h-1.4zM377.2 500.5h1.4v1.4h-1.4zM380.4 500.3h1.4v1.4h-1.4zM381.8 500.3h1.4v1.4h-1.4zM383.3 500.4h1.4v1.4h-1.4zM394.4 500.1h1.4v1.4h-1.4zM397.4 500.1h1.4v1.4h-1.4zM399.3 500.4h1.4v1.4h-1.4zM405.0 500.0h1.4v1.4h-1.4zM350.9 501.8h1.4v1.4h-1.4zM356.8 501.5h1.4v1.4h-1.4zM358.3 501.7h1.4v1.4h-1.4zM373.3 501.8h1.4v1.4h-1.4zM377.7 502.0h1.4v1.4h-1.4zM385.8 501.4h1.4v1.4h-1.4zM399.3 501.5h1.4v1.4h-1.4zM403.8 501.5h1.4v1.4h-1.4zM356.7 503.2h1.4v1.4h-1.4zM385.9 503.0h1.4v1.4h-1.4zM392.2 503.4h1.4v1.4h-1.4zM403.6 503.3h1.4v1.4h-1.4zM416.7 503.2h1.4v1.4h-1.4zM417.7 502.9h1.4v1.4h-1.4zM355.5 504.5h1.4v1.4h-1.4zM360.0 504.6h1.4v1.4h-1.4zM363.1 504.4h1.4v1.4h-1.4zM378.8 504.3h1.4v1.4h-1.4zM388.8 504.9h1.4v1.4h-1.4zM393.5 504.6h1.4v1.4h-1.4zM396.1 504.4h1.4v1.4h-1.4zM399.4 504.4h1.4v1.4h-1.4zM400.8 504.8h1.4v1.4h-1.4zM412.1 504.9h1.4v1.4h-1.4zM345.1 505.7h1.4v1.4h-1.4zM352.7 506.3h1.4v1.4h-1.4zM388.9 506.3h1.4v1.4h-1.4zM400.7 506.1h1.4v1.4h-1.4zM402.3 506.2h1.4v1.4h-1.4zM410.4 506.4h1.4v1.4h-1.4zM335.5 507.4h1.4v1.4h-1.4zM391.5 507.2h1.4v1.4h-1.4zM399.3 507.2h1.4v1.4h-1.4zM407.9 507.6h1.4v1.4h-1.4zM409.3 507.3h1.4v1.4h-1.4zM411.0 507.6h1.4v1.4h-1.4zM342.7 508.8h1.4v1.4h-1.4zM349.6 508.9h1.4v1.4h-1.4zM383.2 509.0h1.4v1.4h-1.4zM384.5 509.3h1.4v1.4h-1.4zM387.2 508.7h1.4v1.4h-1.4zM399.1 509.0h1.4v1.4h-1.4zM400.4 509.1h1.4v1.4h-1.4zM401.8 508.8h1.4v1.4h-1.4zM415.2 509.0h1.4v1.4h-1.4zM416.2 508.7h1.4v1.4h-1.4zM335.2 510.2h1.4v1.4h-1.4zM338.5 510.6h1.4v1.4h-1.4zM344.1 510.6h1.4v1.4h-1.4zM348.2 510.6h1.4v1.4h-1.4zM392.0 510.4h1.4v1.4h-1.4zM413.3 510.1h1.4v1.4h-1.4zM344.3 512.0h1.4v1.4h-1.4zM346.6 512.1h1.4v1.4h-1.4zM399.3 512.1h1.4v1.4h-1.4zM406.4 511.6h1.4v1.4h-1.4zM412.3 511.8h1.4v1.4h-1.4zM339.6 513.6h1.4v1.4h-1.4zM344.3 513.0h1.4v1.4h-1.4zM345.2 513.6h1.4v1.4h-1.4zM346.8 513.1h1.4v1.4h-1.4zM393.4 513.4h1.4v1.4h-1.4zM397.4 513.1h1.4v1.4h-1.4zM401.7 513.1h1.4v1.4h-1.4zM422.5 513.6h1.4v1.4h-1.4zM334.1 514.7h1.4v1.4h-1.4zM336.9 514.5h1.4v1.4h-1.4zM338.1 515.0h1.4v1.4h-1.4zM401.7 514.9h1.4v1.4h-1.4zM404.6 515.0h1.4v1.4h-1.4zM409.5 514.6h1.4v1.4h-1.4zM410.5 514.6h1.4v1.4h-1.4zM397.5 516.1h1.4v1.4h-1.4zM400.5 516.1h1.4v1.4h-1.4zM328.4 517.9h1.4v1.4h-1.4zM332.5 517.8h1.4v1.4h-1.4zM334.0 518.0h1.4v1.4h-1.4zM340.8 517.5h1.4v1.4h-1.4zM415.1 517.8h1.4v1.4h-1.4zM396.5 519.2h1.4v1.4h-1.4zM398.9 519.0h1.4v1.4h-1.4zM414.8 518.9h1.4v1.4h-1.4zM420.7 518.9h1.4v1.4h-1.4zM324.9 520.6h1.4v1.4h-1.4zM329.2 520.3h1.4v1.4h-1.4zM412.4 520.4h1.4v1.4h-1.4zM329.4 522.3h1.4v1.4h-1.4zM332.6 521.9h1.4v1.4h-1.4zM397.8 521.9h1.4v1.4h-1.4zM403.7 522.0h1.4v1.4h-1.4zM323.8 523.3h1.4v1.4h-1.4zM325.4 523.7h1.4v1.4h-1.4zM326.9 523.5h1.4v1.4h-1.4zM402.0 523.8h1.4v1.4h-1.4zM405.0 523.6h1.4v1.4h-1.4zM409.0 523.6h1.4v1.4h-1.4zM413.7 523.3h1.4v1.4h-1.4zM414.9 523.7h1.4v1.4h-1.4zM325.4 525.1h1.4v1.4h-1.4zM328.1 524.9h1.4v1.4h-1.4zM393.0 525.0h1.4v1.4h-1.4zM320.6 526.0h1.4v1.4h-1.4zM407.8 526.0h1.4v1.4h-1.4zM413.3 526.2h1.4v1.4h-1.4zM312.2 528.1h1.4v1.4h-1.4zM313.5 527.9h1.4v1.4h-1.4zM407.7 527.8h1.4v1.4h-1.4zM411.8 527.5h1.4v1.4h-1.4zM413.7 527.8h1.4v1.4h-1.4zM409.1 529.4h1.4v1.4h-1.4zM393.1 530.4h1.4v1.4h-1.4zM410.7 530.5h1.4v1.4h-1.4zM311.0 532.0h1.4v1.4h-1.4zM312.2 531.9h1.4v1.4h-1.4zM400.3 532.0h1.4v1.4h-1.4zM395.9 533.3h1.4v1.4h-1.4zM401.7 533.7h1.4v1.4h-1.4zM403.8 533.8h1.4v1.4h-1.4zM409.4 533.6h1.4v1.4h-1.4zM394.8 535.0h1.4v1.4h-1.4zM413.7 535.0h1.4v1.4h-1.4zM396.1 536.8h1.4v1.4h-1.4zM404.7 536.7h1.4v1.4h-1.4zM410.9 536.7h1.4v1.4h-1.4zM416.3 536.4h1.4v1.4h-1.4zM395.0 538.3h1.4v1.4h-1.4zM397.6 537.8h1.4v1.4h-1.4zM400.8 538.1h1.4v1.4h-1.4zM397.9 539.2h1.4v1.4h-1.4zM405.1 539.6h1.4v1.4h-1.4zM410.4 539.6h1.4v1.4h-1.4zM393.5 540.9h1.4v1.4h-1.4zM397.9 540.5h1.4v1.4h-1.4zM403.8 541.1h1.4v1.4h-1.4zM406.3 542.2h1.4v1.4h-1.4zM400.7 543.8h1.4v1.4h-1.4zM411.0 543.9h1.4v1.4h-1.4zM397.6 545.2h1.4v1.4h-1.4zM403.6 545.3h1.4v1.4h-1.4zM405.2 545.0h1.4v1.4h-1.4zM390.1 546.3h1.4v1.4h-1.4zM393.0 546.5h1.4v1.4h-1.4zM409.6 546.5h1.4v1.4h-1.4zM410.8 546.5h1.4v1.4h-1.4zM397.8 548.0h1.4v1.4h-1.4zM406.6 548.3h1.4v1.4h-1.4zM408.0 547.8h1.4v1.4h-1.4zM387.2 549.5h1.4v1.4h-1.4zM400.2 549.4h1.4v1.4h-1.4zM391.7 551.1h1.4v1.4h-1.4zM384.7 552.7h1.4v1.4h-1.4zM388.9 552.5h1.4v1.4h-1.4zM396.4 552.5h1.4v1.4h-1.4zM402.2 552.3h1.4v1.4h-1.4zM383.4 554.2h1.4v1.4h-1.4zM384.9 553.6h1.4v1.4h-1.4zM393.2 554.2h1.4v1.4h-1.4zM402.2 554.0h1.4v1.4h-1.4zM382.0 557.1h1.4v1.4h-1.4zM388.7 557.1h1.4v1.4h-1.4zM400.2 557.0h1.4v1.4h-1.4zM382.9 558.3h1.4v1.4h-1.4zM384.4 558.4h1.4v1.4h-1.4zM386.2 558.4h1.4v1.4h-1.4zM397.7 558.1h1.4v1.4h-1.4zM407.8 557.9h1.4v1.4h-1.4zM381.5 559.5h1.4v1.4h-1.4zM383.3 559.5h1.4v1.4h-1.4zM389.2 559.7h1.4v1.4h-1.4zM397.5 559.9h1.4v1.4h-1.4zM380.3 561.4h1.4v1.4h-1.4zM386.0 561.3h1.4v1.4h-1.4zM396.0 561.4h1.4v1.4h-1.4zM384.7 562.4h1.4v1.4h-1.4zM387.7 562.6h1.4v1.4h-1.4zM380.4 564.3h1.4v1.4h-1.4zM386.2 563.8h1.4v1.4h-1.4zM387.2 564.0h1.4v1.4h-1.4zM401.8 564.3h1.4v1.4h-1.4zM390.2 565.7h1.4v1.4h-1.4zM392.0 565.5h1.4v1.4h-1.4zM393.5 565.5h1.4v1.4h-1.4zM373.3 566.9h1.4v1.4h-1.4zM375.7 567.1h1.4v1.4h-1.4zM377.6 567.1h1.4v1.4h-1.4zM380.4 566.7h1.4v1.4h-1.4zM370.4 568.4h1.4v1.4h-1.4zM371.5 568.2h1.4v1.4h-1.4zM396.4 568.2h1.4v1.4h-1.4zM368.3 570.0h1.4v1.4h-1.4zM371.2 569.8h1.4v1.4h-1.4zM383.3 569.9h1.4v1.4h-1.4zM385.9 569.9h1.4v1.4h-1.4zM393.4 569.8h1.4v1.4h-1.4zM397.4 569.9h1.4v1.4h-1.4zM378.5 571.2h1.4v1.4h-1.4zM384.8 571.6h1.4v1.4h-1.4zM387.5 571.0h1.4v1.4h-1.4zM379.1 573.0h1.4v1.4h-1.4zM365.9 574.5h1.4v1.4h-1.4zM371.2 574.2h1.4v1.4h-1.4zM389.2 573.9h1.4v1.4h-1.4zM364.4 575.6h1.4v1.4h-1.4zM357.0 578.5h1.4v1.4h-1.4zM368.5 578.9h1.4v1.4h-1.4zM381.8 578.4h1.4v1.4h-1.4zM369.9 579.9h1.4v1.4h-1.4zM367.4 581.2h1.4v1.4h-1.4zM368.3 581.4h1.4v1.4h-1.4zM370.4 581.4h1.4v1.4h-1.4zM357.2 582.9h1.4v1.4h-1.4zM358.5 582.6h1.4v1.4h-1.4zM359.9 582.6h1.4v1.4h-1.4zM371.3 582.6h1.4v1.4h-1.4z"/>
<path fill="#6f9fd0" d="M371.4 474.6h1.6v1.6h-1.6zM429.7 544.4h1.6v1.6h-1.6zM395.1 478.4h1.6v1.6h-1.6zM428.5 501.0h1.6v1.6h-1.6zM431.4 529.3h1.6v1.6h-1.6zM378.0 474.4h1.6v1.6h-1.6zM423.4 545.3h1.6v1.6h-1.6zM317.5 508.3h1.6v1.6h-1.6zM423.1 560.9h1.6v1.6h-1.6zM350.6 482.2h1.6v1.6h-1.6zM325.5 511.3h1.6v1.6h-1.6zM345.2 486.6h1.6v1.6h-1.6zM426.7 504.3h1.6v1.6h-1.6zM350.7 491.1h1.6v1.6h-1.6zM424.7 553.6h1.6v1.6h-1.6zM410.6 478.6h1.6v1.6h-1.6zM390.8 476.4h1.6v1.6h-1.6zM401.5 580.7h1.6v1.6h-1.6zM385.3 470.6h1.6v1.6h-1.6zM423.4 560.2h1.6v1.6h-1.6zM387.7 469.6h1.6v1.6h-1.6zM397.5 471.5h1.6v1.6h-1.6zM336.9 492.1h1.6v1.6h-1.6zM431.4 526.1h1.6v1.6h-1.6zM382.0 478.0h1.6v1.6h-1.6zM422.9 563.7h1.6v1.6h-1.6zM411.6 579.7h1.6v1.6h-1.6zM428.7 549.0h1.6v1.6h-1.6zM434.7 526.3h1.6v1.6h-1.6zM340.5 496.5h1.6v1.6h-1.6zM422.6 548.9h1.6v1.6h-1.6zM433.6 503.4h1.6v1.6h-1.6z"/>
<path d="M310.50 582.12H339.30V584.20H310.50ZM310.50 580.03H341.70V582.12H310.50ZM310.50 577.95H344.10V580.03H310.50ZM310.50 575.86H346.50V577.95H310.50ZM310.50 573.78H348.90V575.86H310.50ZM310.50 571.69H351.30V573.78H310.50ZM310.50 569.61H353.70V571.69H310.50ZM310.50 567.52H358.50V569.61H310.50ZM310.50 565.44H360.90V567.52H310.50ZM310.50 563.35H363.30V565.44H310.50ZM310.50 561.26H365.70V563.35H310.50ZM310.50 559.18H368.10V561.27H310.50ZM310.50 557.10H370.50V559.18H310.50ZM310.50 555.01H372.90V557.10H310.50ZM310.50 552.93H372.90V555.01H310.50ZM310.50 550.84H375.30V552.93H310.50ZM310.50 548.75H377.70V550.84H310.50ZM310.50 546.67H377.70V548.76H310.50ZM310.50 544.59H380.10V546.67H310.50ZM310.50 542.50H382.50V544.59H310.50ZM315.30 540.42H382.50V542.50H315.30ZM320.10 538.33H384.90V540.42H320.10ZM322.50 536.25H384.90V538.33H322.50ZM329.70 534.16H384.90V536.25H329.70ZM334.50 532.08H384.90V534.16H334.50ZM336.90 529.99H384.90V532.08H336.90ZM341.70 527.90H384.90V529.99H341.70ZM344.10 525.82H384.90V527.91H344.10ZM348.90 523.74H384.90V525.82H348.90ZM351.30 521.65H384.90V523.74H351.30ZM356.10 519.57H384.90V521.65H356.10ZM358.50 517.48H384.90V519.57H358.50ZM360.90 515.39H375.30V517.48H360.90ZM365.70 513.31H372.90V515.40H365.70ZM370.50 511.23H372.90V513.31H370.50Z" fill="url(#spk2)" shape-rendering="crispEdges"/>
<path d="M310.5 543.7C311.6 536.4 315.0 541.6 317.3 540.5C319.6 539.4 322.1 537.9 324.5 536.8C326.9 535.7 329.4 535.0 331.8 533.9C334.2 532.8 336.9 531.5 339.1 530.3C341.3 529.1 343.1 527.6 344.9 526.6C346.7 525.6 348.6 525.3 350.0 524.5C351.4 523.7 351.7 523.0 353.5 521.8C355.3 520.6 358.9 518.5 360.7 517.3C362.5 516.1 362.9 515.3 364.4 514.5C365.9 513.7 368.6 513.3 369.8 512.7C371.0 512.1 371.0 510.7 371.6 511.0C372.2 511.3 372.9 513.3 373.5 514.5C374.1 515.7 374.1 517.6 375.3 518.2C376.5 518.8 379.2 518.2 380.7 518.2C382.2 518.2 383.6 517.2 384.4 518.2C385.2 519.2 385.5 522.2 385.5 524.5C385.5 526.8 384.1 529.7 384.2 531.8C384.3 533.9 386.2 535.5 386.0 537.3C385.8 539.1 384.0 541.4 383.0 542.7C382.0 544.0 381.3 543.2 379.8 545.1C378.3 547.0 375.9 551.4 374.0 553.8C372.1 556.2 370.6 557.4 368.2 559.6C365.8 561.8 362.2 564.7 359.5 566.9C356.8 569.1 354.6 570.8 352.2 572.7C349.8 574.6 347.1 576.8 344.9 578.5C342.7 580.2 340.2 581.9 339.1 582.9C338.0 583.9 343.2 584.0 338.4 584.2C333.6 584.4 315.1 591.0 310.5 584.2C305.9 577.5 309.4 551.0 310.5 543.7Z" fill="none" stroke="#27a8e0" stroke-width="0.9"/>
<g clip-path="url(#cc5)">
<polygon points="310.5,548.0 318.7,545.1 327.5,542.2 339.1,540.0 349.3,539.3 353.6,542.2 353.6,548.0 350.7,555.3 344.9,561.1 336.2,566.9 327.5,572.7 318.7,578.5 310.5,582.9" fill="#1e2f86"/>
<polygon points="310.5,560.0 313.0,560.0 313.0,578.0 310.5,578.0" fill="#a7d8a6"/>
<polygon points="310.5,561.0 313.0,561.0 313.0,568.0 310.5,568.0" fill="#e8f3a6"/>
</g>
<path class="ct" d="M310.5 548.0C310.7 548.0 310.1 548.5 311.5 548.0C312.9 547.5 316.0 546.1 318.7 545.1C321.4 544.1 324.1 543.1 327.5 542.2C330.9 541.4 335.5 540.5 339.1 540.0C342.7 539.5 346.9 538.9 349.3 539.3C351.7 539.7 352.9 540.8 353.6 542.2C354.3 543.7 354.1 545.8 353.6 548.0C353.1 550.2 352.1 553.1 350.7 555.3C349.2 557.5 347.3 559.2 344.9 561.1C342.5 563.0 339.1 565.0 336.2 566.9C333.3 568.8 330.4 570.8 327.5 572.7C324.6 574.6 321.1 576.8 318.7 578.5C316.3 580.2 313.9 582.2 312.9 582.9"/>
<path class="ct" d="M310.5 552.4C311.9 552.0 315.9 550.6 318.7 550.2C321.5 549.8 325.1 549.6 327.5 550.2C329.9 550.8 332.1 552.5 333.3 553.8C334.5 555.1 335.2 556.8 334.7 558.2C334.2 559.7 332.3 561.5 330.4 562.5C328.5 563.5 325.5 563.5 323.1 564.0C320.7 564.5 317.9 565.0 315.8 565.5C313.7 566.0 311.4 566.7 310.5 566.9"/>
<path class="ct" d="M310.5 571.0C311.4 570.5 314.1 568.3 316.0 568.0C317.9 567.7 321.7 567.8 322.0 569.0C322.3 570.2 319.5 572.5 318.0 575.0C316.5 577.5 313.8 582.5 313.0 584.0"/>
<line x1="310.5" y1="584.2" x2="502.5" y2="417.4" stroke="#000" stroke-width="1.1" stroke-dasharray="2.5,1.5"/>
<line x1="310.5" y1="567" x2="502.5" y2="462.3" stroke="#f0302c" stroke-width="1.2"/>
</g>
<rect x="310.5" y="417.4" width="192.00" height="166.80" fill="none" stroke="#4a4a4a" stroke-width="1.05"/>
<path d="M310.50 584.2v1.8M310.5 584.20h-1.8M342.50 584.2v1.8M310.5 556.40h-1.8M374.50 584.2v1.8M310.5 528.60h-1.8M406.50 584.2v1.8M310.5 500.80h-1.8M438.50 584.2v1.8M310.5 473.00h-1.8M470.50 584.2v1.8M310.5 445.20h-1.8M502.50 584.2v1.8M310.5 417.40h-1.8" stroke="#333" stroke-width="0.8"/>
<text class="tk" x="310.50" y="592.70" text-anchor="middle">0</text>
<text class="tk" x="307.90" y="586.80" text-anchor="end">0</text>
<text class="tk" x="342.50" y="592.70" text-anchor="middle">50</text>
<text class="tk" x="307.90" y="559.00" text-anchor="end">50</text>
<text class="tk" x="374.50" y="592.70" text-anchor="middle">100</text>
<text class="tk" x="307.90" y="531.20" text-anchor="end">100</text>
<text class="tk" x="406.50" y="592.70" text-anchor="middle">150</text>
<text class="tk" x="307.90" y="503.40" text-anchor="end">150</text>
<text class="tk" x="438.50" y="592.70" text-anchor="middle">200</text>
<text class="tk" x="307.90" y="475.60" text-anchor="end">200</text>
<text class="tk" x="470.50" y="592.70" text-anchor="middle">250</text>
<text class="tk" x="307.90" y="447.80" text-anchor="end">250</text>
<text class="tk" x="502.50" y="592.70" text-anchor="middle">300</text>
<text class="tk" x="307.90" y="420.00" text-anchor="end">300</text>
<text class="lb" x="406.50" y="603.00" text-anchor="middle">Estimated (<tspan font-style="italic">μg</tspan>/<tspan font-style="italic">m</tspan><tspan font-size="6.2px" dy="-3.6">3</tspan><tspan dy="3.6">)</tspan></text>
<text class="lb" transform="translate(289.20 500.80) rotate(-90)" x="0" y="3.2" text-anchor="middle">Observed (<tspan font-style="italic">μg</tspan>/<tspan font-style="italic">m</tspan><tspan font-size="6.2px" dy="-3.6">3</tspan><tspan dy="3.6">)</tspan></text>
<line x1="318.0" y1="428.4" x2="335.0" y2="428.4" stroke="#f0302c" stroke-width="1.2"/>
<line x1="318.0" y1="440.7" x2="335.0" y2="440.7" stroke="#000" stroke-width="1.1" stroke-dasharray="2.5,1.5"/>
<text class="lg" x="342.0" y="431.7">Regression Line</text>
<text class="lg" x="342.0" y="443.79999999999995">1:1 Line</text>
<rect x="438.50" y="530.90" width="61" height="46.5" fill="#fff"/>
<text class="st" x="496.70" y="539.70" text-anchor="end"><tspan font-style="italic">BIAS</tspan><tspan dx="2.0">=</tspan><tspan dx="4.3">−</tspan><tspan dx="1.5">16.26</tspan></text>
<text class="st" x="496.70" y="551.20" text-anchor="end"><tspan font-style="italic">RMSE</tspan><tspan dx="2.3">=</tspan><tspan dx="2.1">27.18</tspan></text>
<text class="st" x="496.70" y="562.30" text-anchor="end"><tspan font-style="italic">IOA</tspan><tspan dx="2.3">=</tspan><tspan dx="2.1">0.78</tspan></text>
<text class="st" x="496.70" y="573.30" text-anchor="end"><tspan font-style="italic">COR</tspan><tspan dx="2.3">=</tspan><tspan dx="2.1">0.73</tspan></text>
<rect x="518.9" y="417.4" width="8.60" height="166.80" fill="url(#cm)" stroke="#666" stroke-width="0.5"/>
<text class="cbl" x="531.00" y="585.90">0</text>
<text class="cbl" x="531.00" y="566.37">500</text>
<text class="cbl" x="531.00" y="546.84">1000</text>
<text class="cbl" x="531.00" y="527.31">1500</text>
<text class="cbl" x="531.00" y="507.77">2000</text>
<text class="cbl" x="531.00" y="488.24">2500</text>
<text class="cbl" x="531.00" y="468.71">3000</text>
<text class="cbl" x="531.00" y="449.18">3500</text>
<text class="cbl" x="531.00" y="429.65">4000</text>
<path d="M527.5 584.20h1.5M527.5 564.67h1.5M527.5 545.14h1.5M527.5 525.61h1.5M527.5 506.07h1.5M527.5 486.54h1.5M527.5 467.01h1.5M527.5 447.48h1.5M527.5 427.95h1.5" stroke="#444" stroke-width="0.5"/>
<path d="M64.58 630.2V796.9M32.5 769.12H225.0M96.67 630.2V796.9M32.5 741.33H225.0M128.75 630.2V796.9M32.5 713.55H225.0M160.83 630.2V796.9M32.5 685.77H225.0M192.92 630.2V796.9M32.5 657.98H225.0" stroke="#eeeeee" stroke-width="0.8" fill="none"/>
<g clip-path="url(#cl6)">
<polygon points="33.0,796.1 83.4,796.1 85.0,793.7 85.1,793.7 88.4,789.2 88.4,789.2 91.9,784.6 92.1,784.4 92.2,784.2 92.5,783.4 97.3,769.4 98.3,761.8 98.3,761.7 99.5,754.8 99.6,753.9 99.6,752.9 99.5,752.0 98.3,744.9 98.1,744.0 97.8,743.2 95.5,737.3 95.2,736.5 94.7,735.8 94.2,735.1 93.6,734.4 93.0,733.8 92.3,733.3 90.4,732.1 90.4,732.1 90.4,732.0 90.3,732.0 90.3,732.0 90.3,731.9 88.9,729.6 88.5,728.9 88.0,728.3 87.4,727.7 86.7,727.1 86.0,726.7 85.3,726.3 84.5,725.9 83.7,725.7 81.5,725.1 80.6,724.9 79.8,724.8 78.9,724.8 78.0,724.9 77.2,725.1 72.5,726.3 71.7,726.5 71.0,726.8 68.0,728.2 67.9,728.3 62.6,729.9 61.8,730.2 61.0,730.5 60.3,731.0 56.8,733.4 56.6,733.5 51.8,737.0 51.6,737.2 46.9,740.7 46.2,741.4 43.0,744.5 42.9,744.6 39.7,747.0 39.7,747.0 39.6,747.1 39.6,747.1 38.2,747.6 38.1,747.6 38.1,747.6 38.1,747.6 38.0,747.6 38.0,747.6 34.8,747.3 33.8,747.2 33.0,747.2 33.0,796.1" fill="url(#spk)"/>
<path fill="#9cc5e8" d="M69.7 701.9h1.4v1.4h-1.4zM72.4 704.8h1.4v1.4h-1.4zM73.6 708.1h1.4v1.4h-1.4zM80.9 707.6h1.4v1.4h-1.4zM78.3 709.3h1.4v1.4h-1.4zM85.4 709.4h1.4v1.4h-1.4zM93.0 709.4h1.4v1.4h-1.4zM57.6 710.4h1.4v1.4h-1.4zM64.9 710.7h1.4v1.4h-1.4zM80.9 710.6h1.4v1.4h-1.4zM88.6 710.9h1.4v1.4h-1.4zM94.0 710.5h1.4v1.4h-1.4zM95.6 710.8h1.4v1.4h-1.4zM53.4 712.3h1.4v1.4h-1.4zM54.8 712.2h1.4v1.4h-1.4zM56.8 712.4h1.4v1.4h-1.4zM69.2 712.3h1.4v1.4h-1.4zM73.6 711.9h1.4v1.4h-1.4zM80.0 711.9h1.4v1.4h-1.4zM81.0 712.3h1.4v1.4h-1.4zM82.5 712.2h1.4v1.4h-1.4zM97.3 712.3h1.4v1.4h-1.4zM64.9 713.5h1.4v1.4h-1.4zM68.3 713.8h1.4v1.4h-1.4zM69.6 713.5h1.4v1.4h-1.4zM79.9 713.8h1.4v1.4h-1.4zM80.9 713.8h1.4v1.4h-1.4zM83.7 713.6h1.4v1.4h-1.4zM91.3 713.5h1.4v1.4h-1.4zM95.7 713.3h1.4v1.4h-1.4zM52.5 715.2h1.4v1.4h-1.4zM53.8 715.3h1.4v1.4h-1.4zM54.9 715.0h1.4v1.4h-1.4zM83.7 714.9h1.4v1.4h-1.4zM94.3 715.0h1.4v1.4h-1.4zM98.9 714.7h1.4v1.4h-1.4zM41.8 716.2h1.4v1.4h-1.4zM56.7 716.7h1.4v1.4h-1.4zM66.5 716.2h1.4v1.4h-1.4zM71.3 716.5h1.4v1.4h-1.4zM78.1 716.2h1.4v1.4h-1.4zM84.1 716.4h1.4v1.4h-1.4zM99.9 716.7h1.4v1.4h-1.4zM40.3 718.1h1.4v1.4h-1.4zM47.5 718.0h1.4v1.4h-1.4zM53.4 717.6h1.4v1.4h-1.4zM64.0 717.8h1.4v1.4h-1.4zM68.1 718.1h1.4v1.4h-1.4zM75.7 717.9h1.4v1.4h-1.4zM80.9 717.6h1.4v1.4h-1.4zM82.6 717.8h1.4v1.4h-1.4zM34.4 719.4h1.4v1.4h-1.4zM44.7 719.4h1.4v1.4h-1.4zM65.1 719.4h1.4v1.4h-1.4zM74.1 719.4h1.4v1.4h-1.4zM89.9 719.2h1.4v1.4h-1.4zM39.3 720.8h1.4v1.4h-1.4zM40.2 721.1h1.4v1.4h-1.4zM42.0 720.7h1.4v1.4h-1.4zM66.3 720.5h1.4v1.4h-1.4zM76.8 721.0h1.4v1.4h-1.4zM82.5 720.5h1.4v1.4h-1.4zM92.9 721.1h1.4v1.4h-1.4zM96.9 720.7h1.4v1.4h-1.4zM98.6 720.9h1.4v1.4h-1.4zM36.0 722.3h1.4v1.4h-1.4zM37.8 722.4h1.4v1.4h-1.4zM63.8 722.4h1.4v1.4h-1.4zM65.5 722.4h1.4v1.4h-1.4zM71.2 722.4h1.4v1.4h-1.4zM85.7 722.1h1.4v1.4h-1.4zM101.4 722.6h1.4v1.4h-1.4zM43.2 723.8h1.4v1.4h-1.4zM50.9 723.4h1.4v1.4h-1.4zM53.7 723.5h1.4v1.4h-1.4zM55.3 723.8h1.4v1.4h-1.4zM57.9 723.6h1.4v1.4h-1.4zM77.1 723.9h1.4v1.4h-1.4zM88.5 723.6h1.4v1.4h-1.4zM96.9 724.0h1.4v1.4h-1.4zM98.6 723.4h1.4v1.4h-1.4zM39.4 724.9h1.4v1.4h-1.4zM43.6 724.9h1.4v1.4h-1.4zM47.8 725.4h1.4v1.4h-1.4zM61.0 725.1h1.4v1.4h-1.4zM62.6 724.8h1.4v1.4h-1.4zM65.1 724.9h1.4v1.4h-1.4zM68.3 725.3h1.4v1.4h-1.4zM69.3 725.5h1.4v1.4h-1.4zM84.2 725.3h1.4v1.4h-1.4zM94.5 725.4h1.4v1.4h-1.4zM34.6 726.9h1.4v1.4h-1.4zM43.1 726.3h1.4v1.4h-1.4zM50.8 726.9h1.4v1.4h-1.4zM59.2 726.3h1.4v1.4h-1.4zM63.7 726.5h1.4v1.4h-1.4zM86.9 726.8h1.4v1.4h-1.4zM93.9 726.3h1.4v1.4h-1.4zM102.6 726.6h1.4v1.4h-1.4zM40.8 727.7h1.4v1.4h-1.4zM43.5 728.1h1.4v1.4h-1.4zM46.6 727.8h1.4v1.4h-1.4zM61.1 728.1h1.4v1.4h-1.4zM63.5 728.3h1.4v1.4h-1.4zM40.3 729.8h1.4v1.4h-1.4zM43.8 729.6h1.4v1.4h-1.4zM51.9 729.4h1.4v1.4h-1.4zM53.3 729.2h1.4v1.4h-1.4zM59.2 729.5h1.4v1.4h-1.4zM92.9 729.6h1.4v1.4h-1.4zM98.5 729.8h1.4v1.4h-1.4zM41.7 731.2h1.4v1.4h-1.4zM58.3 731.2h1.4v1.4h-1.4zM90.0 730.7h1.4v1.4h-1.4zM92.5 731.2h1.4v1.4h-1.4zM100.0 730.7h1.4v1.4h-1.4zM33.0 732.3h1.4v1.4h-1.4zM53.8 732.1h1.4v1.4h-1.4zM56.8 732.1h1.4v1.4h-1.4zM92.5 732.1h1.4v1.4h-1.4zM46.6 733.8h1.4v1.4h-1.4zM50.8 733.6h1.4v1.4h-1.4zM94.1 733.5h1.4v1.4h-1.4zM33.3 735.1h1.4v1.4h-1.4zM41.7 735.6h1.4v1.4h-1.4zM44.6 735.0h1.4v1.4h-1.4zM48.1 735.1h1.4v1.4h-1.4zM52.2 735.1h1.4v1.4h-1.4zM94.1 735.0h1.4v1.4h-1.4zM100.0 735.4h1.4v1.4h-1.4zM40.5 736.8h1.4v1.4h-1.4zM39.2 738.4h1.4v1.4h-1.4zM34.6 739.8h1.4v1.4h-1.4zM37.4 739.7h1.4v1.4h-1.4zM106.9 739.9h1.4v1.4h-1.4zM35.9 741.2h1.4v1.4h-1.4zM34.8 742.6h1.4v1.4h-1.4zM36.2 742.6h1.4v1.4h-1.4zM42.3 742.7h1.4v1.4h-1.4zM43.7 742.6h1.4v1.4h-1.4zM34.7 744.2h1.4v1.4h-1.4zM103.0 743.9h1.4v1.4h-1.4zM36.4 745.4h1.4v1.4h-1.4zM37.4 745.2h1.4v1.4h-1.4zM39.0 745.7h1.4v1.4h-1.4zM100.2 745.2h1.4v1.4h-1.4zM99.7 749.7h1.4v1.4h-1.4zM100.1 751.0h1.4v1.4h-1.4zM100.3 754.0h1.4v1.4h-1.4zM96.9 768.5h1.4v1.4h-1.4zM94.0 777.7h1.4v1.4h-1.4zM92.6 780.2h1.4v1.4h-1.4zM87.2 790.3h1.4v1.4h-1.4zM90.0 790.7h1.4v1.4h-1.4zM86.8 791.9h1.4v1.4h-1.4zM79.6 795.9h1.4v1.4h-1.4z"/>
<path fill="#7fb1de" d="M77.9 703.7h1.4v1.4h-1.4zM68.2 706.3h1.4v1.4h-1.4zM77.9 706.4h1.4v1.4h-1.4zM87.0 706.2h1.4v1.4h-1.4zM79.7 707.6h1.4v1.4h-1.4zM69.7 709.4h1.4v1.4h-1.4zM71.0 709.4h1.4v1.4h-1.4zM75.1 709.0h1.4v1.4h-1.4zM88.6 709.5h1.4v1.4h-1.4zM76.9 711.0h1.4v1.4h-1.4zM79.7 710.9h1.4v1.4h-1.4zM98.8 710.9h1.4v1.4h-1.4zM59.1 711.9h1.4v1.4h-1.4zM62.2 711.9h1.4v1.4h-1.4zM85.6 712.2h1.4v1.4h-1.4zM50.6 713.4h1.4v1.4h-1.4zM56.8 713.7h1.4v1.4h-1.4zM63.9 713.9h1.4v1.4h-1.4zM66.9 713.7h1.4v1.4h-1.4zM75.3 713.7h1.4v1.4h-1.4zM82.9 713.4h1.4v1.4h-1.4zM94.5 713.8h1.4v1.4h-1.4zM41.7 714.7h1.4v1.4h-1.4zM49.3 714.7h1.4v1.4h-1.4zM61.0 715.1h1.4v1.4h-1.4zM87.0 714.7h1.4v1.4h-1.4zM89.9 715.1h1.4v1.4h-1.4zM92.8 715.0h1.4v1.4h-1.4zM95.8 715.1h1.4v1.4h-1.4zM101.7 714.9h1.4v1.4h-1.4zM60.6 716.6h1.4v1.4h-1.4zM67.8 716.6h1.4v1.4h-1.4zM69.2 716.7h1.4v1.4h-1.4zM89.8 716.2h1.4v1.4h-1.4zM94.3 716.3h1.4v1.4h-1.4zM42.2 718.2h1.4v1.4h-1.4zM62.0 717.6h1.4v1.4h-1.4zM65.0 717.7h1.4v1.4h-1.4zM66.8 717.8h1.4v1.4h-1.4zM70.9 717.8h1.4v1.4h-1.4zM91.6 717.7h1.4v1.4h-1.4zM94.2 718.0h1.4v1.4h-1.4zM47.6 719.6h1.4v1.4h-1.4zM54.9 719.7h1.4v1.4h-1.4zM56.2 719.6h1.4v1.4h-1.4zM70.7 719.3h1.4v1.4h-1.4zM72.6 719.0h1.4v1.4h-1.4zM76.7 719.5h1.4v1.4h-1.4zM78.2 719.7h1.4v1.4h-1.4zM81.4 719.5h1.4v1.4h-1.4zM82.7 719.6h1.4v1.4h-1.4zM86.9 719.2h1.4v1.4h-1.4zM50.4 720.7h1.4v1.4h-1.4zM88.2 720.6h1.4v1.4h-1.4zM42.2 722.4h1.4v1.4h-1.4zM55.2 722.0h1.4v1.4h-1.4zM59.2 722.2h1.4v1.4h-1.4zM62.0 722.1h1.4v1.4h-1.4zM76.7 722.1h1.4v1.4h-1.4zM84.3 722.1h1.4v1.4h-1.4zM94.0 722.5h1.4v1.4h-1.4zM39.0 723.7h1.4v1.4h-1.4zM41.8 723.4h1.4v1.4h-1.4zM47.7 723.4h1.4v1.4h-1.4zM75.1 723.4h1.4v1.4h-1.4zM78.2 723.7h1.4v1.4h-1.4zM82.8 723.8h1.4v1.4h-1.4zM84.3 724.0h1.4v1.4h-1.4zM85.3 723.6h1.4v1.4h-1.4zM87.2 723.7h1.4v1.4h-1.4zM91.6 723.4h1.4v1.4h-1.4zM92.7 723.8h1.4v1.4h-1.4zM36.5 725.1h1.4v1.4h-1.4zM70.9 725.2h1.4v1.4h-1.4zM72.5 725.5h1.4v1.4h-1.4zM92.9 725.2h1.4v1.4h-1.4zM37.7 726.4h1.4v1.4h-1.4zM45.0 726.3h1.4v1.4h-1.4zM53.8 726.6h1.4v1.4h-1.4zM54.8 726.5h1.4v1.4h-1.4zM56.8 726.8h1.4v1.4h-1.4zM62.6 726.6h1.4v1.4h-1.4zM92.6 726.4h1.4v1.4h-1.4zM97.0 726.3h1.4v1.4h-1.4zM99.9 726.5h1.4v1.4h-1.4zM104.5 726.6h1.4v1.4h-1.4zM48.1 727.9h1.4v1.4h-1.4zM51.8 728.0h1.4v1.4h-1.4zM56.6 727.8h1.4v1.4h-1.4zM58.1 727.8h1.4v1.4h-1.4zM59.2 728.3h1.4v1.4h-1.4zM100.2 728.1h1.4v1.4h-1.4zM39.0 729.4h1.4v1.4h-1.4zM56.2 729.2h1.4v1.4h-1.4zM91.4 729.5h1.4v1.4h-1.4zM97.4 729.4h1.4v1.4h-1.4zM100.3 729.7h1.4v1.4h-1.4zM46.0 731.1h1.4v1.4h-1.4zM49.2 731.2h1.4v1.4h-1.4zM54.8 730.8h1.4v1.4h-1.4zM56.6 731.3h1.4v1.4h-1.4zM43.3 732.7h1.4v1.4h-1.4zM49.2 732.1h1.4v1.4h-1.4zM54.8 732.2h1.4v1.4h-1.4zM95.4 732.4h1.4v1.4h-1.4zM99.8 732.5h1.4v1.4h-1.4zM42.3 733.6h1.4v1.4h-1.4zM44.6 733.8h1.4v1.4h-1.4zM35.0 735.4h1.4v1.4h-1.4zM37.6 735.4h1.4v1.4h-1.4zM43.2 735.1h1.4v1.4h-1.4zM49.0 735.3h1.4v1.4h-1.4zM95.5 735.4h1.4v1.4h-1.4zM39.0 736.9h1.4v1.4h-1.4zM42.3 737.1h1.4v1.4h-1.4zM46.4 737.0h1.4v1.4h-1.4zM47.7 736.7h1.4v1.4h-1.4zM36.2 738.4h1.4v1.4h-1.4zM46.1 738.2h1.4v1.4h-1.4zM98.3 738.5h1.4v1.4h-1.4zM100.0 737.9h1.4v1.4h-1.4zM36.0 739.6h1.4v1.4h-1.4zM38.8 739.9h1.4v1.4h-1.4zM43.7 739.5h1.4v1.4h-1.4zM96.8 739.5h1.4v1.4h-1.4zM98.9 739.4h1.4v1.4h-1.4zM99.9 739.3h1.4v1.4h-1.4zM39.0 740.8h1.4v1.4h-1.4zM45.2 740.8h1.4v1.4h-1.4zM97.4 741.0h1.4v1.4h-1.4zM33.1 742.9h1.4v1.4h-1.4zM39.3 742.7h1.4v1.4h-1.4zM40.5 742.7h1.4v1.4h-1.4zM98.7 742.3h1.4v1.4h-1.4zM100.2 742.9h1.4v1.4h-1.4zM103.2 742.9h1.4v1.4h-1.4zM99.7 744.1h1.4v1.4h-1.4zM37.3 746.7h1.4v1.4h-1.4zM98.6 746.7h1.4v1.4h-1.4zM99.9 753.0h1.4v1.4h-1.4zM90.1 787.3h1.4v1.4h-1.4zM89.8 793.4h1.4v1.4h-1.4zM35.1 796.4h1.4v1.4h-1.4zM55.2 796.3h1.4v1.4h-1.4zM81.1 796.4h1.4v1.4h-1.4z"/>
<path fill="#629dd4" d="M74.1 704.7h1.4v1.4h-1.4zM92.6 704.8h1.4v1.4h-1.4zM73.9 706.0h1.4v1.4h-1.4zM76.5 706.5h1.4v1.4h-1.4zM60.6 707.5h1.4v1.4h-1.4zM77.0 707.9h1.4v1.4h-1.4zM78.1 708.1h1.4v1.4h-1.4zM82.3 710.8h1.4v1.4h-1.4zM89.5 710.7h1.4v1.4h-1.4zM92.6 711.0h1.4v1.4h-1.4zM75.4 712.4h1.4v1.4h-1.4zM88.7 711.9h1.4v1.4h-1.4zM51.8 713.5h1.4v1.4h-1.4zM50.9 715.2h1.4v1.4h-1.4zM73.6 715.0h1.4v1.4h-1.4zM75.5 714.9h1.4v1.4h-1.4zM76.5 714.9h1.4v1.4h-1.4zM88.4 715.2h1.4v1.4h-1.4zM43.2 716.3h1.4v1.4h-1.4zM49.1 716.1h1.4v1.4h-1.4zM52.4 716.4h1.4v1.4h-1.4zM75.7 716.7h1.4v1.4h-1.4zM79.7 716.5h1.4v1.4h-1.4zM86.9 716.1h1.4v1.4h-1.4zM49.6 717.8h1.4v1.4h-1.4zM55.2 718.1h1.4v1.4h-1.4zM72.6 717.8h1.4v1.4h-1.4zM80.0 717.7h1.4v1.4h-1.4zM84.1 717.9h1.4v1.4h-1.4zM88.4 718.2h1.4v1.4h-1.4zM100.1 717.8h1.4v1.4h-1.4zM33.5 719.1h1.4v1.4h-1.4zM62.4 719.7h1.4v1.4h-1.4zM63.8 719.7h1.4v1.4h-1.4zM79.5 719.3h1.4v1.4h-1.4zM88.2 719.6h1.4v1.4h-1.4zM95.9 719.7h1.4v1.4h-1.4zM101.5 719.6h1.4v1.4h-1.4zM46.1 720.7h1.4v1.4h-1.4zM62.6 721.0h1.4v1.4h-1.4zM71.1 721.0h1.4v1.4h-1.4zM72.3 720.7h1.4v1.4h-1.4zM79.7 720.7h1.4v1.4h-1.4zM91.3 720.9h1.4v1.4h-1.4zM94.4 720.8h1.4v1.4h-1.4zM33.2 722.0h1.4v1.4h-1.4zM44.9 722.1h1.4v1.4h-1.4zM46.2 722.3h1.4v1.4h-1.4zM49.5 722.5h1.4v1.4h-1.4zM69.7 722.3h1.4v1.4h-1.4zM75.0 722.6h1.4v1.4h-1.4zM78.4 722.6h1.4v1.4h-1.4zM79.9 722.1h1.4v1.4h-1.4zM87.1 722.3h1.4v1.4h-1.4zM95.7 722.3h1.4v1.4h-1.4zM44.8 724.0h1.4v1.4h-1.4zM49.6 723.4h1.4v1.4h-1.4zM51.9 724.0h1.4v1.4h-1.4zM65.4 723.9h1.4v1.4h-1.4zM69.7 723.4h1.4v1.4h-1.4zM71.0 723.5h1.4v1.4h-1.4zM99.8 724.0h1.4v1.4h-1.4zM37.9 725.0h1.4v1.4h-1.4zM52.4 725.2h1.4v1.4h-1.4zM89.6 725.0h1.4v1.4h-1.4zM47.8 726.8h1.4v1.4h-1.4zM49.3 726.4h1.4v1.4h-1.4zM65.2 726.9h1.4v1.4h-1.4zM95.9 726.7h1.4v1.4h-1.4zM101.3 726.6h1.4v1.4h-1.4zM36.2 727.8h1.4v1.4h-1.4zM45.1 728.1h1.4v1.4h-1.4zM88.7 728.2h1.4v1.4h-1.4zM89.5 728.2h1.4v1.4h-1.4zM91.2 728.0h1.4v1.4h-1.4zM92.8 727.8h1.4v1.4h-1.4zM41.8 729.7h1.4v1.4h-1.4zM55.0 729.8h1.4v1.4h-1.4zM101.5 729.6h1.4v1.4h-1.4zM33.1 730.8h1.4v1.4h-1.4zM35.1 730.9h1.4v1.4h-1.4zM38.0 730.9h1.4v1.4h-1.4zM40.4 731.1h1.4v1.4h-1.4zM43.2 731.3h1.4v1.4h-1.4zM47.7 730.7h1.4v1.4h-1.4zM51.0 731.2h1.4v1.4h-1.4zM94.5 731.0h1.4v1.4h-1.4zM46.0 732.4h1.4v1.4h-1.4zM95.8 734.1h1.4v1.4h-1.4zM35.9 735.4h1.4v1.4h-1.4zM39.0 735.6h1.4v1.4h-1.4zM50.5 735.6h1.4v1.4h-1.4zM97.4 735.2h1.4v1.4h-1.4zM34.5 736.6h1.4v1.4h-1.4zM36.4 736.7h1.4v1.4h-1.4zM43.3 736.6h1.4v1.4h-1.4zM44.9 737.0h1.4v1.4h-1.4zM49.2 736.8h1.4v1.4h-1.4zM101.3 736.6h1.4v1.4h-1.4zM33.6 738.1h1.4v1.4h-1.4zM41.7 738.4h1.4v1.4h-1.4zM44.6 738.1h1.4v1.4h-1.4zM97.1 738.5h1.4v1.4h-1.4zM42.3 739.3h1.4v1.4h-1.4zM46.2 739.5h1.4v1.4h-1.4zM42.2 740.9h1.4v1.4h-1.4zM98.9 740.8h1.4v1.4h-1.4zM101.4 741.0h1.4v1.4h-1.4zM101.8 743.8h1.4v1.4h-1.4zM104.6 744.0h1.4v1.4h-1.4zM34.9 745.6h1.4v1.4h-1.4zM98.8 745.1h1.4v1.4h-1.4zM98.5 748.0h1.4v1.4h-1.4zM98.7 756.8h1.4v1.4h-1.4zM98.6 760.2h1.4v1.4h-1.4zM98.8 762.8h1.4v1.4h-1.4zM88.1 790.3h1.4v1.4h-1.4zM88.6 791.6h1.4v1.4h-1.4zM58.2 796.3h1.4v1.4h-1.4zM85.5 796.1h1.4v1.4h-1.4z"/>
<path fill="#8cbbe3" d="M75.0 704.6h1.4v1.4h-1.4zM80.0 706.0h1.4v1.4h-1.4zM81.3 706.2h1.4v1.4h-1.4zM76.6 709.0h1.4v1.4h-1.4zM79.6 709.0h1.4v1.4h-1.4zM84.3 709.3h1.4v1.4h-1.4zM86.9 709.3h1.4v1.4h-1.4zM91.2 708.9h1.4v1.4h-1.4zM50.7 710.3h1.4v1.4h-1.4zM70.9 712.4h1.4v1.4h-1.4zM72.2 712.1h1.4v1.4h-1.4zM77.1 712.1h1.4v1.4h-1.4zM86.8 711.8h1.4v1.4h-1.4zM89.7 712.3h1.4v1.4h-1.4zM92.9 712.4h1.4v1.4h-1.4zM55.1 713.8h1.4v1.4h-1.4zM62.2 713.9h1.4v1.4h-1.4zM78.0 713.6h1.4v1.4h-1.4zM85.3 713.4h1.4v1.4h-1.4zM92.9 713.9h1.4v1.4h-1.4zM46.7 714.9h1.4v1.4h-1.4zM62.6 714.9h1.4v1.4h-1.4zM63.7 715.1h1.4v1.4h-1.4zM65.1 715.1h1.4v1.4h-1.4zM69.5 714.8h1.4v1.4h-1.4zM71.2 714.7h1.4v1.4h-1.4zM72.7 715.2h1.4v1.4h-1.4zM79.4 715.1h1.4v1.4h-1.4zM81.5 714.8h1.4v1.4h-1.4zM91.5 714.7h1.4v1.4h-1.4zM97.3 714.8h1.4v1.4h-1.4zM50.8 716.1h1.4v1.4h-1.4zM53.9 716.5h1.4v1.4h-1.4zM77.0 716.7h1.4v1.4h-1.4zM81.4 716.2h1.4v1.4h-1.4zM96.8 716.3h1.4v1.4h-1.4zM34.8 717.8h1.4v1.4h-1.4zM56.3 718.2h1.4v1.4h-1.4zM57.8 717.6h1.4v1.4h-1.4zM85.7 718.0h1.4v1.4h-1.4zM60.8 719.3h1.4v1.4h-1.4zM67.0 719.6h1.4v1.4h-1.4zM69.4 719.3h1.4v1.4h-1.4zM75.0 719.1h1.4v1.4h-1.4zM85.3 719.7h1.4v1.4h-1.4zM94.4 719.4h1.4v1.4h-1.4zM98.3 719.2h1.4v1.4h-1.4zM100.0 719.3h1.4v1.4h-1.4zM43.6 720.6h1.4v1.4h-1.4zM47.7 720.6h1.4v1.4h-1.4zM51.9 720.7h1.4v1.4h-1.4zM55.1 720.5h1.4v1.4h-1.4zM57.9 721.1h1.4v1.4h-1.4zM59.7 720.9h1.4v1.4h-1.4zM60.6 720.8h1.4v1.4h-1.4zM64.9 720.6h1.4v1.4h-1.4zM69.6 721.0h1.4v1.4h-1.4zM73.7 720.7h1.4v1.4h-1.4zM78.0 721.0h1.4v1.4h-1.4zM85.2 721.1h1.4v1.4h-1.4zM86.9 721.1h1.4v1.4h-1.4zM34.6 722.4h1.4v1.4h-1.4zM40.2 722.4h1.4v1.4h-1.4zM43.2 722.5h1.4v1.4h-1.4zM53.4 722.2h1.4v1.4h-1.4zM56.7 721.9h1.4v1.4h-1.4zM61.0 722.5h1.4v1.4h-1.4zM68.2 722.1h1.4v1.4h-1.4zM72.2 721.9h1.4v1.4h-1.4zM82.3 722.0h1.4v1.4h-1.4zM90.0 722.3h1.4v1.4h-1.4zM93.0 722.3h1.4v1.4h-1.4zM46.6 723.8h1.4v1.4h-1.4zM62.0 723.6h1.4v1.4h-1.4zM63.8 723.8h1.4v1.4h-1.4zM79.7 723.5h1.4v1.4h-1.4zM80.8 723.6h1.4v1.4h-1.4zM94.3 723.7h1.4v1.4h-1.4zM95.9 723.8h1.4v1.4h-1.4zM51.0 725.2h1.4v1.4h-1.4zM56.4 725.5h1.4v1.4h-1.4zM85.5 724.8h1.4v1.4h-1.4zM87.1 725.2h1.4v1.4h-1.4zM91.6 725.4h1.4v1.4h-1.4zM101.5 725.2h1.4v1.4h-1.4zM36.5 726.5h1.4v1.4h-1.4zM40.4 726.8h1.4v1.4h-1.4zM46.2 726.3h1.4v1.4h-1.4zM91.3 726.7h1.4v1.4h-1.4zM33.0 727.8h1.4v1.4h-1.4zM34.8 728.2h1.4v1.4h-1.4zM55.0 727.9h1.4v1.4h-1.4zM62.1 728.3h1.4v1.4h-1.4zM95.5 727.9h1.4v1.4h-1.4zM101.3 728.1h1.4v1.4h-1.4zM34.4 729.5h1.4v1.4h-1.4zM37.6 729.8h1.4v1.4h-1.4zM49.5 729.6h1.4v1.4h-1.4zM57.6 729.6h1.4v1.4h-1.4zM89.7 729.3h1.4v1.4h-1.4zM94.1 729.6h1.4v1.4h-1.4zM95.4 729.7h1.4v1.4h-1.4zM103.0 729.8h1.4v1.4h-1.4zM35.9 730.8h1.4v1.4h-1.4zM52.3 730.8h1.4v1.4h-1.4zM53.6 730.8h1.4v1.4h-1.4zM95.8 730.6h1.4v1.4h-1.4zM96.9 730.8h1.4v1.4h-1.4zM101.6 731.1h1.4v1.4h-1.4zM36.0 732.3h1.4v1.4h-1.4zM37.9 732.5h1.4v1.4h-1.4zM40.4 732.3h1.4v1.4h-1.4zM41.8 732.6h1.4v1.4h-1.4zM44.7 732.1h1.4v1.4h-1.4zM47.9 732.4h1.4v1.4h-1.4zM50.4 732.5h1.4v1.4h-1.4zM94.2 732.2h1.4v1.4h-1.4zM98.4 732.4h1.4v1.4h-1.4zM35.0 733.7h1.4v1.4h-1.4zM40.5 734.0h1.4v1.4h-1.4zM48.1 733.8h1.4v1.4h-1.4zM97.4 734.1h1.4v1.4h-1.4zM101.4 734.1h1.4v1.4h-1.4zM98.6 735.6h1.4v1.4h-1.4zM37.7 736.7h1.4v1.4h-1.4zM95.8 736.5h1.4v1.4h-1.4zM104.0 736.7h1.4v1.4h-1.4zM43.8 738.2h1.4v1.4h-1.4zM95.7 738.0h1.4v1.4h-1.4zM44.6 739.6h1.4v1.4h-1.4zM34.8 740.8h1.4v1.4h-1.4zM37.8 741.4h1.4v1.4h-1.4zM43.2 741.1h1.4v1.4h-1.4zM37.7 742.5h1.4v1.4h-1.4zM33.4 743.8h1.4v1.4h-1.4zM36.5 744.2h1.4v1.4h-1.4zM37.5 743.7h1.4v1.4h-1.4zM39.0 743.8h1.4v1.4h-1.4zM98.9 743.9h1.4v1.4h-1.4zM101.1 753.0h1.4v1.4h-1.4zM100.1 755.4h1.4v1.4h-1.4zM98.3 761.7h1.4v1.4h-1.4zM100.3 762.6h1.4v1.4h-1.4zM85.4 792.1h1.4v1.4h-1.4zM62.3 796.1h1.4v1.4h-1.4zM67.9 796.5h1.4v1.4h-1.4z"/>
<path fill="#6fa5d9" d="M67.9 708.1h1.4v1.4h-1.4zM69.2 707.8h1.4v1.4h-1.4zM70.9 707.6h1.4v1.4h-1.4zM87.3 707.9h1.4v1.4h-1.4zM50.9 709.4h1.4v1.4h-1.4zM64.9 709.1h1.4v1.4h-1.4zM72.5 709.3h1.4v1.4h-1.4zM74.0 708.9h1.4v1.4h-1.4zM60.8 711.0h1.4v1.4h-1.4zM66.8 710.5h1.4v1.4h-1.4zM86.6 711.0h1.4v1.4h-1.4zM65.5 712.4h1.4v1.4h-1.4zM66.6 712.2h1.4v1.4h-1.4zM60.8 713.7h1.4v1.4h-1.4zM70.7 713.7h1.4v1.4h-1.4zM72.5 713.3h1.4v1.4h-1.4zM77.1 713.7h1.4v1.4h-1.4zM97.4 713.2h1.4v1.4h-1.4zM82.8 715.1h1.4v1.4h-1.4zM85.5 715.3h1.4v1.4h-1.4zM48.1 716.3h1.4v1.4h-1.4zM55.0 716.3h1.4v1.4h-1.4zM58.1 716.2h1.4v1.4h-1.4zM62.3 716.2h1.4v1.4h-1.4zM65.5 716.3h1.4v1.4h-1.4zM74.0 716.2h1.4v1.4h-1.4zM82.4 716.2h1.4v1.4h-1.4zM88.6 716.5h1.4v1.4h-1.4zM91.1 716.3h1.4v1.4h-1.4zM92.6 716.3h1.4v1.4h-1.4zM98.4 716.7h1.4v1.4h-1.4zM50.9 717.8h1.4v1.4h-1.4zM59.2 717.7h1.4v1.4h-1.4zM69.2 717.8h1.4v1.4h-1.4zM77.0 718.2h1.4v1.4h-1.4zM78.2 717.9h1.4v1.4h-1.4zM89.5 718.2h1.4v1.4h-1.4zM95.5 718.2h1.4v1.4h-1.4zM97.4 717.8h1.4v1.4h-1.4zM102.8 718.2h1.4v1.4h-1.4zM43.7 719.2h1.4v1.4h-1.4zM68.2 719.0h1.4v1.4h-1.4zM84.2 719.5h1.4v1.4h-1.4zM91.2 719.6h1.4v1.4h-1.4zM97.0 719.4h1.4v1.4h-1.4zM49.2 720.5h1.4v1.4h-1.4zM53.9 720.6h1.4v1.4h-1.4zM56.3 721.0h1.4v1.4h-1.4zM68.0 720.9h1.4v1.4h-1.4zM75.7 720.6h1.4v1.4h-1.4zM84.2 721.0h1.4v1.4h-1.4zM90.1 721.1h1.4v1.4h-1.4zM95.5 720.7h1.4v1.4h-1.4zM100.2 720.9h1.4v1.4h-1.4zM39.0 722.4h1.4v1.4h-1.4zM66.7 721.9h1.4v1.4h-1.4zM73.7 722.5h1.4v1.4h-1.4zM81.3 722.4h1.4v1.4h-1.4zM88.6 722.1h1.4v1.4h-1.4zM98.4 722.5h1.4v1.4h-1.4zM100.3 722.6h1.4v1.4h-1.4zM40.7 723.6h1.4v1.4h-1.4zM56.6 723.6h1.4v1.4h-1.4zM59.4 723.5h1.4v1.4h-1.4zM66.4 723.7h1.4v1.4h-1.4zM68.4 723.7h1.4v1.4h-1.4zM72.1 723.6h1.4v1.4h-1.4zM42.1 725.2h1.4v1.4h-1.4zM55.2 724.9h1.4v1.4h-1.4zM58.2 724.8h1.4v1.4h-1.4zM59.3 725.1h1.4v1.4h-1.4zM63.8 724.9h1.4v1.4h-1.4zM66.6 725.4h1.4v1.4h-1.4zM88.1 725.1h1.4v1.4h-1.4zM95.5 725.5h1.4v1.4h-1.4zM97.0 725.3h1.4v1.4h-1.4zM100.3 725.0h1.4v1.4h-1.4zM41.9 726.5h1.4v1.4h-1.4zM58.2 726.6h1.4v1.4h-1.4zM66.5 726.7h1.4v1.4h-1.4zM68.0 726.7h1.4v1.4h-1.4zM88.7 726.4h1.4v1.4h-1.4zM38.8 727.8h1.4v1.4h-1.4zM49.3 727.9h1.4v1.4h-1.4zM50.8 727.7h1.4v1.4h-1.4zM53.9 727.9h1.4v1.4h-1.4zM65.3 728.0h1.4v1.4h-1.4zM97.3 728.2h1.4v1.4h-1.4zM98.2 728.0h1.4v1.4h-1.4zM46.3 729.6h1.4v1.4h-1.4zM48.1 729.8h1.4v1.4h-1.4zM50.7 729.8h1.4v1.4h-1.4zM38.9 730.9h1.4v1.4h-1.4zM44.9 731.0h1.4v1.4h-1.4zM98.8 731.2h1.4v1.4h-1.4zM39.4 732.7h1.4v1.4h-1.4zM91.2 732.6h1.4v1.4h-1.4zM102.6 732.4h1.4v1.4h-1.4zM36.4 733.9h1.4v1.4h-1.4zM43.6 733.6h1.4v1.4h-1.4zM49.3 733.5h1.4v1.4h-1.4zM51.9 733.6h1.4v1.4h-1.4zM100.0 734.1h1.4v1.4h-1.4zM40.3 735.2h1.4v1.4h-1.4zM97.1 737.0h1.4v1.4h-1.4zM98.5 737.0h1.4v1.4h-1.4zM100.0 736.8h1.4v1.4h-1.4zM34.8 738.4h1.4v1.4h-1.4zM40.4 738.0h1.4v1.4h-1.4zM101.2 738.5h1.4v1.4h-1.4zM33.2 739.6h1.4v1.4h-1.4zM40.5 739.7h1.4v1.4h-1.4zM101.4 739.4h1.4v1.4h-1.4zM40.8 741.0h1.4v1.4h-1.4zM100.3 741.2h1.4v1.4h-1.4zM40.5 744.2h1.4v1.4h-1.4zM102.8 745.4h1.4v1.4h-1.4zM100.1 748.3h1.4v1.4h-1.4zM102.6 751.2h1.4v1.4h-1.4zM99.7 757.0h1.4v1.4h-1.4zM95.9 781.4h1.4v1.4h-1.4zM92.7 784.6h1.4v1.4h-1.4zM90.1 786.2h1.4v1.4h-1.4zM85.2 793.6h1.4v1.4h-1.4zM83.8 795.0h1.4v1.4h-1.4zM85.6 795.0h1.4v1.4h-1.4z"/>
<path fill="#6f9fd0" d="M88.3 699.5h1.6v1.6h-1.6zM105.6 704.6h1.6v1.6h-1.6zM107.5 754.4h1.6v1.6h-1.6zM81.8 699.1h1.6v1.6h-1.6zM70.9 696.8h1.6v1.6h-1.6zM111.5 764.5h1.6v1.6h-1.6zM111.1 729.4h1.6v1.6h-1.6zM108.6 727.4h1.6v1.6h-1.6zM104.9 779.6h1.6v1.6h-1.6zM110.7 769.3h1.6v1.6h-1.6zM114.6 752.4h1.6v1.6h-1.6zM108.8 709.1h1.6v1.6h-1.6zM60.8 700.8h1.6v1.6h-1.6zM36.7 706.0h1.6v1.6h-1.6zM95.9 703.0h1.6v1.6h-1.6zM42.0 708.5h1.6v1.6h-1.6z"/>
<path d="M32.50 794.82H73.41V796.90H32.50ZM32.50 792.73H75.81V794.82H32.50ZM32.50 790.65H75.81V792.73H32.50ZM32.50 788.56H78.22V790.65H32.50ZM32.50 786.48H78.22V788.56H32.50ZM32.50 784.40H80.62V786.48H32.50ZM32.50 782.31H83.03V784.40H32.50ZM32.50 780.23H83.03V782.31H32.50ZM32.50 778.15H85.44V780.23H32.50ZM32.50 776.06H87.84V778.15H32.50ZM32.50 773.98H87.84V776.06H32.50ZM32.50 771.89H87.84V773.98H32.50ZM32.50 769.81H87.84V771.89H32.50ZM32.50 767.73H87.84V769.81H32.50ZM32.50 765.64H90.25V767.73H32.50ZM32.50 763.56H90.25V765.64H32.50ZM32.50 761.48H90.25V763.56H32.50ZM32.50 759.39H90.25V761.48H32.50ZM32.50 757.31H90.25V759.39H32.50ZM32.50 755.23H90.25V757.31H32.50ZM44.53 753.14H90.25V755.23H44.53ZM46.94 751.06H90.25V753.14H46.94ZM49.34 748.97H90.25V751.06H49.34ZM51.75 746.89H90.25V748.97H51.75ZM54.16 744.81H90.25V746.89H54.16ZM56.56 742.72H87.84V744.81H56.56ZM58.97 740.64H87.84V742.72H58.97ZM63.78 738.55H85.44V740.64H63.78ZM66.19 736.47H83.03V738.56H66.19ZM73.41 734.39H83.03V736.47H73.41ZM78.22 732.30H80.62V734.39H78.22Z" fill="url(#spk2)" shape-rendering="crispEdges"/>
<path d="M32.5 755.7C32.7 748.9 32.7 755.6 33.8 755.7C34.9 755.8 37.4 756.5 39.1 756.3C40.8 756.1 42.2 755.5 43.8 754.6C45.4 753.7 47.1 752.2 48.5 751.0C49.9 749.8 50.7 748.7 52.1 747.5C53.5 746.3 55.2 745.1 56.8 743.9C58.4 742.7 60.2 741.4 61.6 740.4C63.0 739.4 63.5 738.7 65.1 738.0C66.7 737.3 69.4 736.8 71.0 736.2C72.6 735.6 73.2 735.0 74.6 734.5C76.0 734.0 78.1 733.4 79.3 733.3C80.5 733.2 80.8 733.1 81.6 733.9C82.4 734.7 83.0 736.9 84.0 738.0C85.0 739.1 86.6 739.0 87.6 740.4C88.6 741.8 89.3 744.1 89.9 746.3C90.5 748.5 91.1 751.0 91.1 753.4C91.1 755.8 90.3 757.8 89.9 760.5C89.5 763.2 88.9 767.5 88.7 769.9C88.5 772.2 89.3 773.0 88.7 774.6C88.1 776.2 86.4 777.8 85.2 779.4C84.0 781.0 82.8 782.5 81.6 784.1C80.4 785.7 79.1 787.4 78.1 788.8C77.1 790.2 76.5 791.1 75.7 792.4C74.9 793.7 80.6 795.9 73.4 796.6C66.2 797.3 39.3 803.4 32.5 796.6C25.7 789.8 32.3 762.5 32.5 755.7Z" fill="none" stroke="#27a8e0" stroke-width="0.9"/>
<g clip-path="url(#cc6)">
</g>
<path class="ct" d="M32.5 761.8C32.8 761.8 32.9 761.8 34.4 761.6C35.9 761.4 39.0 761.1 41.5 760.5C44.0 759.9 47.0 759.0 49.7 758.1C52.5 757.2 55.0 755.8 58.0 755.1C61.0 754.4 64.2 754.1 67.5 754.0C70.8 753.9 75.9 753.5 78.1 754.6C80.3 755.7 80.3 758.0 80.5 760.5C80.7 763.0 80.5 767.4 79.3 769.9C78.1 772.4 75.4 774.2 73.4 775.8C71.4 777.4 68.9 777.6 67.5 779.4C66.1 781.2 65.7 783.6 65.1 786.5C64.5 789.4 64.1 794.9 63.9 796.6"/>
<path class="ct" d="M39.1 765.2C40.1 764.0 44.5 763.6 47.4 762.8C50.3 762.0 53.8 761.1 56.8 760.5C59.8 759.9 62.7 759.3 65.1 759.3C67.5 759.3 69.8 759.1 71.0 760.5C72.2 761.9 72.8 765.4 72.2 767.6C71.6 769.8 69.9 772.1 67.5 773.5C65.1 774.9 61.0 775.2 58.0 775.8C55.0 776.4 51.9 777.2 49.7 777.0C47.5 776.8 46.4 775.8 45.0 774.6C43.6 773.4 42.5 771.5 41.5 769.9C40.5 768.3 38.1 766.4 39.1 765.2Z"/>
<path class="ct" d="M61.6 771.1C62.2 770.0 64.9 766.6 66.3 766.4C67.7 766.2 69.8 768.7 69.8 769.9C69.8 771.1 67.5 773.0 66.3 773.5C65.1 774.0 63.5 773.3 62.7 772.9C61.9 772.5 61.0 772.2 61.6 771.1Z"/>
<path class="ct" d="M32.5 763.0C33.0 763.2 34.4 763.0 35.5 764.0C36.6 765.0 38.3 766.3 39.1 768.7C39.9 771.1 39.9 775.2 40.3 778.2C40.7 781.2 40.5 783.9 41.5 786.5C42.5 789.1 44.6 791.9 46.2 793.6C47.8 795.3 50.1 796.1 50.9 796.6"/>
<line x1="32.5" y1="796.9" x2="225.0" y2="630.2" stroke="#000" stroke-width="1.1" stroke-dasharray="2.5,1.5"/>
<line x1="32.5" y1="783" x2="225.0" y2="697.5" stroke="#f0302c" stroke-width="1.2"/>
</g>
<rect x="32.5" y="630.2" width="192.50" height="166.70" fill="none" stroke="#4a4a4a" stroke-width="1.05"/>
<path d="M32.50 796.9v1.8M32.5 796.90h-1.8M64.58 796.9v1.8M32.5 769.12h-1.8M96.67 796.9v1.8M32.5 741.33h-1.8M128.75 796.9v1.8M32.5 713.55h-1.8M160.83 796.9v1.8M32.5 685.77h-1.8M192.92 796.9v1.8M32.5 657.98h-1.8M225.00 796.9v1.8M32.5 630.20h-1.8" stroke="#333" stroke-width="0.8"/>
<text class="tk" x="32.50" y="805.40" text-anchor="middle">0</text>
<text class="tk" x="29.90" y="799.50" text-anchor="end">0</text>
<text class="tk" x="64.58" y="805.40" text-anchor="middle">50</text>
<text class="tk" x="29.90" y="771.72" text-anchor="end">50</text>
<text class="tk" x="96.67" y="805.40" text-anchor="middle">100</text>
<text class="tk" x="29.90" y="743.93" text-anchor="end">100</text>
<text class="tk" x="128.75" y="805.40" text-anchor="middle">150</text>
<text class="tk" x="29.90" y="716.15" text-anchor="end">150</text>
<text class="tk" x="160.83" y="805.40" text-anchor="middle">200</text>
<text class="tk" x="29.90" y="688.37" text-anchor="end">200</text>
<text class="tk" x="192.92" y="805.40" text-anchor="middle">250</text>
<text class="tk" x="29.90" y="660.58" text-anchor="end">250</text>
<text class="tk" x="225.00" y="805.40" text-anchor="middle">300</text>
<text class="tk" x="29.90" y="632.80" text-anchor="end">300</text>
<text class="lb" x="128.75" y="815.70" text-anchor="middle">Estimated (<tspan font-style="italic">μg</tspan>/<tspan font-style="italic">m</tspan><tspan font-size="6.2px" dy="-3.6">3</tspan><tspan dy="3.6">)</tspan></text>
<text class="lb" transform="translate(11.20 713.55) rotate(-90)" x="0" y="3.2" text-anchor="middle">Observed (<tspan font-style="italic">μg</tspan>/<tspan font-style="italic">m</tspan><tspan font-size="6.2px" dy="-3.6">3</tspan><tspan dy="3.6">)</tspan></text>
<line x1="40.0" y1="641.2" x2="57.0" y2="641.2" stroke="#f0302c" stroke-width="1.2"/>
<line x1="40.0" y1="653.5" x2="57.0" y2="653.5" stroke="#000" stroke-width="1.1" stroke-dasharray="2.5,1.5"/>
<text class="lg" x="64.0" y="644.5">Regression Line</text>
<text class="lg" x="64.0" y="656.6">1:1 Line</text>
<rect x="161.00" y="743.70" width="61" height="46.5" fill="#fff"/>
<text class="st" x="219.20" y="752.50" text-anchor="end"><tspan font-style="italic">BIAS</tspan><tspan dx="2.0">=</tspan><tspan dx="4.3">−</tspan><tspan dx="1.5">8.71</tspan></text>
<text class="st" x="219.20" y="764.00" text-anchor="end"><tspan font-style="italic">RMSE</tspan><tspan dx="2.3">=</tspan><tspan dx="2.1">28.69</tspan></text>
<text class="st" x="219.20" y="775.10" text-anchor="end"><tspan font-style="italic">IOA</tspan><tspan dx="2.3">=</tspan><tspan dx="2.1">0.69</tspan></text>
<text class="st" x="219.20" y="786.10" text-anchor="end"><tspan font-style="italic">COR</tspan><tspan dx="2.3">=</tspan><tspan dx="2.1">0.50</tspan></text>
<rect x="241.2" y="630.2" width="9.00" height="166.70" fill="url(#cm)" stroke="#666" stroke-width="0.5"/>
<text class="cbl" x="253.70" y="798.60">0</text>
<text class="cbl" x="253.70" y="774.94">500</text>
<text class="cbl" x="253.70" y="751.28">1000</text>
<text class="cbl" x="253.70" y="727.62">1500</text>
<text class="cbl" x="253.70" y="703.96">2000</text>
<text class="cbl" x="253.70" y="680.31">2500</text>
<text class="cbl" x="253.70" y="656.65">3000</text>
<text class="cbl" x="253.70" y="632.99">3500</text>
<path d="M250.2 796.90h1.5M250.2 773.24h1.5M250.2 749.58h1.5M250.2 725.92h1.5M250.2 702.26h1.5M250.2 678.61h1.5M250.2 654.95h1.5M250.2 631.29h1.5" stroke="#444" stroke-width="0.5"/>
<path d="M342.50 630.2V796.9M310.5 769.12H502.5M374.50 630.2V796.9M310.5 741.33H502.5M406.50 630.2V796.9M310.5 713.55H502.5M438.50 630.2V796.9M310.5 685.77H502.5M470.50 630.2V796.9M310.5 657.98H502.5" stroke="#eeeeee" stroke-width="0.8" fill="none"/>
<g clip-path="url(#cl7)">
<polygon points="311.0,796.1 356.2,796.1 356.9,793.5 356.9,793.5 357.0,793.4 357.0,793.4 357.0,793.3 357.0,793.3 360.7,789.6 360.8,789.5 367.7,784.1 367.8,784.0 374.9,778.1 374.9,778.1 382.2,772.4 382.9,771.7 388.7,765.9 389.3,765.2 389.9,764.5 390.3,763.7 393.2,757.9 393.5,757.2 393.8,756.4 394.0,755.6 394.1,754.8 394.1,753.9 394.0,753.1 393.9,752.3 393.7,751.5 392.3,747.1 392.0,746.4 391.7,745.6 391.2,744.9 390.8,744.3 390.2,743.7 385.1,738.5 385.0,738.5 385.0,738.5 382.6,734.8 382.1,734.1 381.5,733.5 380.9,733.0 380.2,732.5 379.5,732.0 378.8,731.7 378.0,731.4 377.2,731.2 376.3,731.0 375.5,731.0 372.9,731.0 372.9,731.0 372.8,731.0 372.8,731.0 372.7,731.0 372.7,730.9 372.6,730.9 372.6,730.9 372.6,730.9 372.5,730.8 372.5,730.8 372.5,730.7 372.5,730.7 372.4,730.6 372.4,730.6 372.1,729.1 371.9,728.3 371.6,727.5 371.3,726.8 370.8,726.1 370.4,725.4 369.8,724.8 369.2,724.2 368.5,723.7 367.8,723.3 367.1,722.9 366.3,722.7 365.5,722.5 364.0,722.2 363.1,722.0 362.3,722.0 361.5,722.0 360.6,722.2 359.8,722.4 359.1,722.6 358.3,723.0 357.6,723.4 356.9,723.9 356.3,724.5 354.4,726.4 354.4,726.4 354.3,726.4 354.3,726.5 354.2,726.5 350.4,728.0 350.4,728.0 345.0,730.2 345.0,730.2 339.6,732.4 338.8,732.8 338.1,733.2 337.4,733.7 332.0,738.0 332.0,738.0 326.5,742.4 326.4,742.4 321.6,746.4 321.5,746.4 321.5,746.4 316.6,749.3 316.4,749.4 311.3,752.6 311.3,752.6 311.0,752.7 311.0,796.1" fill="url(#spk)"/>
<path fill="#629dd4" d="M376.5 703.2h1.4v1.4h-1.4zM384.0 706.2h1.4v1.4h-1.4zM386.7 707.5h1.4v1.4h-1.4zM376.8 709.2h1.4v1.4h-1.4zM371.8 710.8h1.4v1.4h-1.4zM383.5 710.8h1.4v1.4h-1.4zM349.2 712.3h1.4v1.4h-1.4zM367.9 712.2h1.4v1.4h-1.4zM366.4 713.8h1.4v1.4h-1.4zM332.9 715.2h1.4v1.4h-1.4zM362.2 715.3h1.4v1.4h-1.4zM380.8 714.8h1.4v1.4h-1.4zM338.9 716.8h1.4v1.4h-1.4zM344.8 716.8h1.4v1.4h-1.4zM352.9 716.3h1.4v1.4h-1.4zM363.7 716.6h1.4v1.4h-1.4zM372.1 716.2h1.4v1.4h-1.4zM347.5 718.3h1.4v1.4h-1.4zM362.2 718.1h1.4v1.4h-1.4zM366.2 718.0h1.4v1.4h-1.4zM344.4 719.3h1.4v1.4h-1.4zM356.3 719.2h1.4v1.4h-1.4zM360.5 719.5h1.4v1.4h-1.4zM371.8 719.4h1.4v1.4h-1.4zM392.4 719.3h1.4v1.4h-1.4zM343.0 720.8h1.4v1.4h-1.4zM351.5 720.9h1.4v1.4h-1.4zM353.5 721.2h1.4v1.4h-1.4zM370.8 720.5h1.4v1.4h-1.4zM389.2 720.8h1.4v1.4h-1.4zM392.5 720.8h1.4v1.4h-1.4zM335.6 722.2h1.4v1.4h-1.4zM344.6 722.4h1.4v1.4h-1.4zM347.1 722.5h1.4v1.4h-1.4zM357.9 722.5h1.4v1.4h-1.4zM374.9 722.2h1.4v1.4h-1.4zM388.3 722.3h1.4v1.4h-1.4zM389.4 722.4h1.4v1.4h-1.4zM390.6 722.2h1.4v1.4h-1.4zM348.7 723.7h1.4v1.4h-1.4zM383.6 723.6h1.4v1.4h-1.4zM384.9 723.5h1.4v1.4h-1.4zM389.6 723.5h1.4v1.4h-1.4zM330.1 725.3h1.4v1.4h-1.4zM332.7 725.4h1.4v1.4h-1.4zM334.7 725.1h1.4v1.4h-1.4zM341.8 724.9h1.4v1.4h-1.4zM350.0 724.9h1.4v1.4h-1.4zM352.1 725.0h1.4v1.4h-1.4zM353.0 725.1h1.4v1.4h-1.4zM395.0 725.0h1.4v1.4h-1.4zM330.1 726.4h1.4v1.4h-1.4zM331.5 726.3h1.4v1.4h-1.4zM333.2 726.8h1.4v1.4h-1.4zM338.8 727.0h1.4v1.4h-1.4zM344.5 726.4h1.4v1.4h-1.4zM375.1 726.7h1.4v1.4h-1.4zM384.0 726.4h1.4v1.4h-1.4zM394.1 726.8h1.4v1.4h-1.4zM317.2 728.2h1.4v1.4h-1.4zM323.0 727.9h1.4v1.4h-1.4zM347.3 728.3h1.4v1.4h-1.4zM379.6 727.9h1.4v1.4h-1.4zM383.7 728.3h1.4v1.4h-1.4zM398.0 728.4h1.4v1.4h-1.4zM337.0 729.4h1.4v1.4h-1.4zM340.3 729.7h1.4v1.4h-1.4zM341.8 729.8h1.4v1.4h-1.4zM379.4 729.6h1.4v1.4h-1.4zM382.3 729.6h1.4v1.4h-1.4zM389.8 729.4h1.4v1.4h-1.4zM321.1 730.9h1.4v1.4h-1.4zM324.5 730.7h1.4v1.4h-1.4zM328.9 730.9h1.4v1.4h-1.4zM334.5 731.3h1.4v1.4h-1.4zM393.8 731.1h1.4v1.4h-1.4zM396.9 730.8h1.4v1.4h-1.4zM397.9 730.8h1.4v1.4h-1.4zM312.4 732.7h1.4v1.4h-1.4zM320.1 732.8h1.4v1.4h-1.4zM328.6 732.6h1.4v1.4h-1.4zM337.4 732.6h1.4v1.4h-1.4zM382.1 732.5h1.4v1.4h-1.4zM385.3 732.4h1.4v1.4h-1.4zM389.6 732.5h1.4v1.4h-1.4zM390.7 732.3h1.4v1.4h-1.4zM393.8 732.2h1.4v1.4h-1.4zM324.2 734.2h1.4v1.4h-1.4zM325.4 734.2h1.4v1.4h-1.4zM390.8 734.1h1.4v1.4h-1.4zM401.4 734.2h1.4v1.4h-1.4zM313.0 735.7h1.4v1.4h-1.4zM383.5 735.6h1.4v1.4h-1.4zM401.4 735.1h1.4v1.4h-1.4zM312.8 736.5h1.4v1.4h-1.4zM383.9 736.8h1.4v1.4h-1.4zM395.2 736.7h1.4v1.4h-1.4zM400.9 736.7h1.4v1.4h-1.4zM316.7 738.3h1.4v1.4h-1.4zM325.6 737.9h1.4v1.4h-1.4zM329.9 738.4h1.4v1.4h-1.4zM315.9 739.7h1.4v1.4h-1.4zM399.6 739.8h1.4v1.4h-1.4zM401.4 740.0h1.4v1.4h-1.4zM314.3 741.1h1.4v1.4h-1.4zM389.6 741.0h1.4v1.4h-1.4zM400.9 741.4h1.4v1.4h-1.4zM312.5 742.3h1.4v1.4h-1.4zM314.4 742.4h1.4v1.4h-1.4zM316.9 743.8h1.4v1.4h-1.4zM312.7 745.3h1.4v1.4h-1.4zM402.5 745.7h1.4v1.4h-1.4zM318.4 747.1h1.4v1.4h-1.4zM395.2 747.2h1.4v1.4h-1.4zM396.9 747.1h1.4v1.4h-1.4zM312.9 748.2h1.4v1.4h-1.4zM314.2 748.1h1.4v1.4h-1.4zM399.7 748.4h1.4v1.4h-1.4zM408.1 751.6h1.4v1.4h-1.4zM393.6 752.7h1.4v1.4h-1.4zM395.3 752.6h1.4v1.4h-1.4zM399.7 752.8h1.4v1.4h-1.4zM401.3 754.4h1.4v1.4h-1.4zM395.2 755.4h1.4v1.4h-1.4zM396.8 757.4h1.4v1.4h-1.4zM399.4 757.0h1.4v1.4h-1.4zM403.8 757.3h1.4v1.4h-1.4zM392.5 758.2h1.4v1.4h-1.4zM394.0 758.4h1.4v1.4h-1.4zM395.6 760.3h1.4v1.4h-1.4zM396.7 761.7h1.4v1.4h-1.4zM396.9 763.0h1.4v1.4h-1.4zM391.2 764.2h1.4v1.4h-1.4zM391.2 765.6h1.4v1.4h-1.4zM392.1 767.5h1.4v1.4h-1.4zM387.9 768.6h1.4v1.4h-1.4zM392.6 768.8h1.4v1.4h-1.4zM388.3 769.9h1.4v1.4h-1.4zM379.3 774.3h1.4v1.4h-1.4zM380.8 774.3h1.4v1.4h-1.4zM382.2 774.3h1.4v1.4h-1.4zM385.4 774.8h1.4v1.4h-1.4zM375.1 777.7h1.4v1.4h-1.4zM378.1 777.6h1.4v1.4h-1.4zM382.1 777.4h1.4v1.4h-1.4zM385.3 778.7h1.4v1.4h-1.4zM376.8 782.0h1.4v1.4h-1.4zM379.1 781.9h1.4v1.4h-1.4zM381.9 781.8h1.4v1.4h-1.4zM368.9 784.8h1.4v1.4h-1.4zM370.4 784.5h1.4v1.4h-1.4zM371.9 785.9h1.4v1.4h-1.4zM373.3 786.4h1.4v1.4h-1.4zM367.9 787.8h1.4v1.4h-1.4zM371.9 787.2h1.4v1.4h-1.4zM376.2 787.3h1.4v1.4h-1.4zM377.9 787.5h1.4v1.4h-1.4zM380.8 787.2h1.4v1.4h-1.4zM372.1 790.4h1.4v1.4h-1.4zM357.7 792.0h1.4v1.4h-1.4zM363.7 792.0h1.4v1.4h-1.4zM370.6 792.2h1.4v1.4h-1.4zM357.7 793.4h1.4v1.4h-1.4zM360.6 793.5h1.4v1.4h-1.4zM357.3 795.1h1.4v1.4h-1.4zM371.8 794.9h1.4v1.4h-1.4z"/>
<path fill="#6fa5d9" d="M379.5 705.1h1.4v1.4h-1.4zM376.2 707.7h1.4v1.4h-1.4zM348.6 709.1h1.4v1.4h-1.4zM362.2 712.3h1.4v1.4h-1.4zM364.7 712.4h1.4v1.4h-1.4zM366.0 711.8h1.4v1.4h-1.4zM372.4 711.9h1.4v1.4h-1.4zM383.5 712.2h1.4v1.4h-1.4zM365.1 713.9h1.4v1.4h-1.4zM367.9 713.3h1.4v1.4h-1.4zM369.4 713.3h1.4v1.4h-1.4zM376.3 713.5h1.4v1.4h-1.4zM379.1 713.3h1.4v1.4h-1.4zM351.8 714.9h1.4v1.4h-1.4zM354.4 715.1h1.4v1.4h-1.4zM358.7 715.3h1.4v1.4h-1.4zM367.8 715.0h1.4v1.4h-1.4zM372.2 714.8h1.4v1.4h-1.4zM383.9 714.9h1.4v1.4h-1.4zM350.1 716.8h1.4v1.4h-1.4zM357.9 716.4h1.4v1.4h-1.4zM360.7 716.4h1.4v1.4h-1.4zM370.8 716.3h1.4v1.4h-1.4zM379.6 716.2h1.4v1.4h-1.4zM386.7 716.8h1.4v1.4h-1.4zM354.6 718.2h1.4v1.4h-1.4zM376.6 718.1h1.4v1.4h-1.4zM386.6 717.7h1.4v1.4h-1.4zM394.0 717.6h1.4v1.4h-1.4zM340.1 719.2h1.4v1.4h-1.4zM347.6 719.4h1.4v1.4h-1.4zM353.4 719.3h1.4v1.4h-1.4zM359.1 719.2h1.4v1.4h-1.4zM367.7 719.2h1.4v1.4h-1.4zM369.5 719.4h1.4v1.4h-1.4zM377.7 719.6h1.4v1.4h-1.4zM389.2 719.7h1.4v1.4h-1.4zM322.9 721.0h1.4v1.4h-1.4zM340.1 720.9h1.4v1.4h-1.4zM341.7 721.0h1.4v1.4h-1.4zM347.5 720.9h1.4v1.4h-1.4zM350.4 721.1h1.4v1.4h-1.4zM356.3 720.9h1.4v1.4h-1.4zM361.8 720.8h1.4v1.4h-1.4zM365.0 720.7h1.4v1.4h-1.4zM329.7 722.5h1.4v1.4h-1.4zM337.6 722.0h1.4v1.4h-1.4zM339.1 722.1h1.4v1.4h-1.4zM340.3 722.4h1.4v1.4h-1.4zM348.6 722.2h1.4v1.4h-1.4zM354.5 722.1h1.4v1.4h-1.4zM373.4 722.0h1.4v1.4h-1.4zM395.6 722.2h1.4v1.4h-1.4zM327.3 724.0h1.4v1.4h-1.4zM330.4 723.7h1.4v1.4h-1.4zM346.0 723.7h1.4v1.4h-1.4zM350.3 723.7h1.4v1.4h-1.4zM353.3 723.9h1.4v1.4h-1.4zM369.0 724.0h1.4v1.4h-1.4zM373.5 723.8h1.4v1.4h-1.4zM379.0 723.7h1.4v1.4h-1.4zM391.1 723.7h1.4v1.4h-1.4zM325.4 725.2h1.4v1.4h-1.4zM344.2 725.3h1.4v1.4h-1.4zM346.2 724.9h1.4v1.4h-1.4zM374.9 725.5h1.4v1.4h-1.4zM376.7 725.4h1.4v1.4h-1.4zM381.0 724.9h1.4v1.4h-1.4zM324.3 726.3h1.4v1.4h-1.4zM342.9 726.6h1.4v1.4h-1.4zM346.0 726.8h1.4v1.4h-1.4zM378.1 726.5h1.4v1.4h-1.4zM379.7 726.5h1.4v1.4h-1.4zM382.4 726.4h1.4v1.4h-1.4zM395.1 726.9h1.4v1.4h-1.4zM399.5 726.4h1.4v1.4h-1.4zM319.6 728.3h1.4v1.4h-1.4zM330.2 727.8h1.4v1.4h-1.4zM332.8 727.9h1.4v1.4h-1.4zM346.3 727.8h1.4v1.4h-1.4zM386.6 728.3h1.4v1.4h-1.4zM391.1 728.2h1.4v1.4h-1.4zM314.2 729.9h1.4v1.4h-1.4zM333.1 729.8h1.4v1.4h-1.4zM335.5 729.7h1.4v1.4h-1.4zM378.1 729.2h1.4v1.4h-1.4zM392.1 729.5h1.4v1.4h-1.4zM393.6 729.4h1.4v1.4h-1.4zM395.6 729.6h1.4v1.4h-1.4zM399.7 729.4h1.4v1.4h-1.4zM318.5 730.8h1.4v1.4h-1.4zM379.5 730.7h1.4v1.4h-1.4zM395.4 731.1h1.4v1.4h-1.4zM315.7 732.6h1.4v1.4h-1.4zM325.5 732.8h1.4v1.4h-1.4zM395.3 732.2h1.4v1.4h-1.4zM314.4 734.0h1.4v1.4h-1.4zM316.8 734.0h1.4v1.4h-1.4zM328.3 733.7h1.4v1.4h-1.4zM331.4 733.6h1.4v1.4h-1.4zM389.3 733.7h1.4v1.4h-1.4zM314.4 735.0h1.4v1.4h-1.4zM318.5 735.5h1.4v1.4h-1.4zM323.0 735.3h1.4v1.4h-1.4zM324.2 735.3h1.4v1.4h-1.4zM328.5 735.4h1.4v1.4h-1.4zM387.9 735.1h1.4v1.4h-1.4zM389.5 735.6h1.4v1.4h-1.4zM392.1 735.4h1.4v1.4h-1.4zM393.6 735.3h1.4v1.4h-1.4zM395.0 735.2h1.4v1.4h-1.4zM317.2 736.9h1.4v1.4h-1.4zM326.0 737.0h1.4v1.4h-1.4zM328.7 737.0h1.4v1.4h-1.4zM392.7 736.6h1.4v1.4h-1.4zM398.2 737.0h1.4v1.4h-1.4zM404.3 736.6h1.4v1.4h-1.4zM311.0 738.3h1.4v1.4h-1.4zM312.7 738.5h1.4v1.4h-1.4zM322.8 738.3h1.4v1.4h-1.4zM396.8 738.5h1.4v1.4h-1.4zM321.1 739.5h1.4v1.4h-1.4zM325.6 739.8h1.4v1.4h-1.4zM389.6 739.7h1.4v1.4h-1.4zM391.2 739.8h1.4v1.4h-1.4zM395.0 740.0h1.4v1.4h-1.4zM396.9 739.7h1.4v1.4h-1.4zM316.9 741.3h1.4v1.4h-1.4zM321.1 741.0h1.4v1.4h-1.4zM324.5 741.2h1.4v1.4h-1.4zM395.5 740.9h1.4v1.4h-1.4zM398.0 741.3h1.4v1.4h-1.4zM399.9 740.8h1.4v1.4h-1.4zM402.6 741.0h1.4v1.4h-1.4zM318.2 742.3h1.4v1.4h-1.4zM319.9 742.8h1.4v1.4h-1.4zM391.2 742.5h1.4v1.4h-1.4zM392.3 742.4h1.4v1.4h-1.4zM393.8 742.5h1.4v1.4h-1.4zM318.2 744.3h1.4v1.4h-1.4zM313.9 745.8h1.4v1.4h-1.4zM393.6 746.8h1.4v1.4h-1.4zM400.8 747.0h1.4v1.4h-1.4zM311.0 749.8h1.4v1.4h-1.4zM400.0 751.1h1.4v1.4h-1.4zM401.3 751.4h1.4v1.4h-1.4zM396.9 752.6h1.4v1.4h-1.4zM400.8 757.3h1.4v1.4h-1.4zM392.1 759.9h1.4v1.4h-1.4zM396.4 760.2h1.4v1.4h-1.4zM393.8 761.7h1.4v1.4h-1.4zM401.1 764.5h1.4v1.4h-1.4zM394.2 765.8h1.4v1.4h-1.4zM396.6 767.2h1.4v1.4h-1.4zM385.1 768.7h1.4v1.4h-1.4zM389.4 768.9h1.4v1.4h-1.4zM393.6 768.6h1.4v1.4h-1.4zM389.7 769.8h1.4v1.4h-1.4zM390.8 770.3h1.4v1.4h-1.4zM392.6 770.5h1.4v1.4h-1.4zM387.8 771.7h1.4v1.4h-1.4zM383.6 777.5h1.4v1.4h-1.4zM384.9 777.6h1.4v1.4h-1.4zM390.9 777.1h1.4v1.4h-1.4zM376.3 779.0h1.4v1.4h-1.4zM380.5 779.0h1.4v1.4h-1.4zM386.5 778.8h1.4v1.4h-1.4zM375.1 780.5h1.4v1.4h-1.4zM367.8 783.5h1.4v1.4h-1.4zM370.4 783.1h1.4v1.4h-1.4zM385.5 782.9h1.4v1.4h-1.4zM372.4 784.6h1.4v1.4h-1.4zM373.8 784.9h1.4v1.4h-1.4zM378.1 784.8h1.4v1.4h-1.4zM379.3 784.8h1.4v1.4h-1.4zM369.1 785.9h1.4v1.4h-1.4zM374.8 786.2h1.4v1.4h-1.4zM376.5 786.0h1.4v1.4h-1.4zM389.7 786.4h1.4v1.4h-1.4zM363.2 787.7h1.4v1.4h-1.4zM360.2 788.9h1.4v1.4h-1.4zM369.2 788.9h1.4v1.4h-1.4zM370.8 790.3h1.4v1.4h-1.4zM358.7 792.2h1.4v1.4h-1.4zM367.8 791.8h1.4v1.4h-1.4zM363.5 793.5h1.4v1.4h-1.4zM367.7 793.7h1.4v1.4h-1.4zM373.6 793.2h1.4v1.4h-1.4zM370.8 794.5h1.4v1.4h-1.4z"/>
<path fill="#7fb1de" d="M380.8 704.8h1.4v1.4h-1.4zM372.1 707.7h1.4v1.4h-1.4zM369.3 710.4h1.4v1.4h-1.4zM371.0 710.8h1.4v1.4h-1.4zM356.4 712.5h1.4v1.4h-1.4zM363.6 711.9h1.4v1.4h-1.4zM369.0 712.1h1.4v1.4h-1.4zM376.8 711.9h1.4v1.4h-1.4zM379.0 712.5h1.4v1.4h-1.4zM350.1 713.3h1.4v1.4h-1.4zM356.4 713.9h1.4v1.4h-1.4zM360.6 713.5h1.4v1.4h-1.4zM382.2 713.3h1.4v1.4h-1.4zM346.3 714.9h1.4v1.4h-1.4zM357.5 714.9h1.4v1.4h-1.4zM365.0 715.3h1.4v1.4h-1.4zM370.9 715.2h1.4v1.4h-1.4zM359.4 716.4h1.4v1.4h-1.4zM364.8 716.3h1.4v1.4h-1.4zM376.3 716.8h1.4v1.4h-1.4zM389.6 716.4h1.4v1.4h-1.4zM334.7 717.7h1.4v1.4h-1.4zM341.7 717.9h1.4v1.4h-1.4zM350.1 718.0h1.4v1.4h-1.4zM360.7 717.8h1.4v1.4h-1.4zM368.9 717.7h1.4v1.4h-1.4zM370.6 718.1h1.4v1.4h-1.4zM362.2 719.2h1.4v1.4h-1.4zM363.3 719.4h1.4v1.4h-1.4zM366.2 719.7h1.4v1.4h-1.4zM376.4 719.1h1.4v1.4h-1.4zM379.6 719.6h1.4v1.4h-1.4zM385.0 719.1h1.4v1.4h-1.4zM331.7 720.7h1.4v1.4h-1.4zM339.0 720.9h1.4v1.4h-1.4zM360.2 720.6h1.4v1.4h-1.4zM367.7 721.0h1.4v1.4h-1.4zM369.0 721.1h1.4v1.4h-1.4zM377.7 720.5h1.4v1.4h-1.4zM382.0 720.6h1.4v1.4h-1.4zM385.3 720.8h1.4v1.4h-1.4zM352.0 722.3h1.4v1.4h-1.4zM353.5 722.4h1.4v1.4h-1.4zM369.5 722.2h1.4v1.4h-1.4zM370.9 722.6h1.4v1.4h-1.4zM372.1 722.3h1.4v1.4h-1.4zM338.8 724.1h1.4v1.4h-1.4zM340.4 723.7h1.4v1.4h-1.4zM351.6 724.0h1.4v1.4h-1.4zM370.5 723.4h1.4v1.4h-1.4zM395.4 723.9h1.4v1.4h-1.4zM331.2 725.2h1.4v1.4h-1.4zM337.5 724.9h1.4v1.4h-1.4zM339.1 725.2h1.4v1.4h-1.4zM348.6 725.1h1.4v1.4h-1.4zM370.7 725.1h1.4v1.4h-1.4zM382.4 725.2h1.4v1.4h-1.4zM383.8 725.4h1.4v1.4h-1.4zM316.8 726.5h1.4v1.4h-1.4zM327.4 726.5h1.4v1.4h-1.4zM347.4 726.5h1.4v1.4h-1.4zM349.1 726.7h1.4v1.4h-1.4zM380.6 726.9h1.4v1.4h-1.4zM386.9 726.5h1.4v1.4h-1.4zM318.5 728.0h1.4v1.4h-1.4zM341.5 727.8h1.4v1.4h-1.4zM344.5 728.3h1.4v1.4h-1.4zM395.5 728.1h1.4v1.4h-1.4zM312.8 729.5h1.4v1.4h-1.4zM322.9 729.9h1.4v1.4h-1.4zM331.4 729.9h1.4v1.4h-1.4zM338.4 729.8h1.4v1.4h-1.4zM380.8 729.8h1.4v1.4h-1.4zM383.9 729.4h1.4v1.4h-1.4zM312.3 731.3h1.4v1.4h-1.4zM327.0 731.1h1.4v1.4h-1.4zM329.8 730.9h1.4v1.4h-1.4zM332.9 731.2h1.4v1.4h-1.4zM336.1 731.3h1.4v1.4h-1.4zM338.6 731.1h1.4v1.4h-1.4zM385.2 731.2h1.4v1.4h-1.4zM387.9 731.3h1.4v1.4h-1.4zM391.2 730.7h1.4v1.4h-1.4zM321.3 732.1h1.4v1.4h-1.4zM323.0 732.7h1.4v1.4h-1.4zM336.0 732.2h1.4v1.4h-1.4zM381.0 732.7h1.4v1.4h-1.4zM312.6 733.7h1.4v1.4h-1.4zM321.1 734.2h1.4v1.4h-1.4zM330.0 734.2h1.4v1.4h-1.4zM334.4 733.8h1.4v1.4h-1.4zM384.0 734.1h1.4v1.4h-1.4zM388.3 734.2h1.4v1.4h-1.4zM393.9 734.2h1.4v1.4h-1.4zM395.5 733.9h1.4v1.4h-1.4zM319.8 735.3h1.4v1.4h-1.4zM321.0 735.0h1.4v1.4h-1.4zM327.2 735.1h1.4v1.4h-1.4zM331.4 735.6h1.4v1.4h-1.4zM332.7 735.3h1.4v1.4h-1.4zM390.6 735.3h1.4v1.4h-1.4zM398.2 735.4h1.4v1.4h-1.4zM399.9 735.3h1.4v1.4h-1.4zM313.9 737.0h1.4v1.4h-1.4zM315.2 736.5h1.4v1.4h-1.4zM320.0 736.6h1.4v1.4h-1.4zM327.3 736.6h1.4v1.4h-1.4zM331.8 736.7h1.4v1.4h-1.4zM388.3 736.5h1.4v1.4h-1.4zM397.0 736.8h1.4v1.4h-1.4zM318.1 738.0h1.4v1.4h-1.4zM328.5 738.5h1.4v1.4h-1.4zM384.9 738.0h1.4v1.4h-1.4zM388.2 738.2h1.4v1.4h-1.4zM389.3 738.1h1.4v1.4h-1.4zM394.1 738.4h1.4v1.4h-1.4zM395.3 738.3h1.4v1.4h-1.4zM316.7 739.4h1.4v1.4h-1.4zM318.7 739.6h1.4v1.4h-1.4zM322.6 739.4h1.4v1.4h-1.4zM324.1 739.7h1.4v1.4h-1.4zM326.9 739.8h1.4v1.4h-1.4zM398.1 739.9h1.4v1.4h-1.4zM387.8 740.8h1.4v1.4h-1.4zM393.9 741.2h1.4v1.4h-1.4zM397.0 741.1h1.4v1.4h-1.4zM316.8 742.7h1.4v1.4h-1.4zM323.1 742.9h1.4v1.4h-1.4zM389.5 742.5h1.4v1.4h-1.4zM398.5 742.9h1.4v1.4h-1.4zM315.4 743.9h1.4v1.4h-1.4zM390.8 743.8h1.4v1.4h-1.4zM392.3 743.7h1.4v1.4h-1.4zM399.5 743.8h1.4v1.4h-1.4zM403.7 744.3h1.4v1.4h-1.4zM394.0 745.5h1.4v1.4h-1.4zM398.4 745.6h1.4v1.4h-1.4zM317.0 747.2h1.4v1.4h-1.4zM312.7 749.8h1.4v1.4h-1.4zM396.4 749.8h1.4v1.4h-1.4zM404.2 750.1h1.4v1.4h-1.4zM406.7 751.2h1.4v1.4h-1.4zM396.7 754.4h1.4v1.4h-1.4zM398.3 754.3h1.4v1.4h-1.4zM393.7 755.6h1.4v1.4h-1.4zM395.0 758.6h1.4v1.4h-1.4zM397.1 758.8h1.4v1.4h-1.4zM390.7 761.4h1.4v1.4h-1.4zM392.2 763.2h1.4v1.4h-1.4zM389.4 764.6h1.4v1.4h-1.4zM387.7 765.6h1.4v1.4h-1.4zM388.2 767.3h1.4v1.4h-1.4zM391.2 768.9h1.4v1.4h-1.4zM389.6 771.4h1.4v1.4h-1.4zM382.5 773.4h1.4v1.4h-1.4zM383.9 772.9h1.4v1.4h-1.4zM385.5 773.1h1.4v1.4h-1.4zM386.3 772.7h1.4v1.4h-1.4zM396.5 773.2h1.4v1.4h-1.4zM378.0 776.0h1.4v1.4h-1.4zM380.7 776.0h1.4v1.4h-1.4zM380.7 777.2h1.4v1.4h-1.4zM373.8 778.8h1.4v1.4h-1.4zM383.4 778.8h1.4v1.4h-1.4zM392.2 780.4h1.4v1.4h-1.4zM369.4 782.1h1.4v1.4h-1.4zM372.3 781.6h1.4v1.4h-1.4zM369.0 783.5h1.4v1.4h-1.4zM372.4 783.3h1.4v1.4h-1.4zM375.0 783.3h1.4v1.4h-1.4zM389.3 782.9h1.4v1.4h-1.4zM380.7 784.6h1.4v1.4h-1.4zM382.4 784.4h1.4v1.4h-1.4zM366.6 786.0h1.4v1.4h-1.4zM369.1 787.8h1.4v1.4h-1.4zM370.6 787.3h1.4v1.4h-1.4zM367.9 789.2h1.4v1.4h-1.4zM363.2 790.8h1.4v1.4h-1.4zM378.0 790.4h1.4v1.4h-1.4zM360.3 791.6h1.4v1.4h-1.4zM361.6 792.2h1.4v1.4h-1.4zM366.4 791.9h1.4v1.4h-1.4zM359.1 793.7h1.4v1.4h-1.4zM372.4 793.1h1.4v1.4h-1.4zM377.6 793.4h1.4v1.4h-1.4zM362.3 794.9h1.4v1.4h-1.4zM366.2 795.1h1.4v1.4h-1.4zM379.1 794.5h1.4v1.4h-1.4z"/>
<path fill="#9cc5e8" d="M366.6 706.6h1.4v1.4h-1.4zM351.8 708.0h1.4v1.4h-1.4zM375.1 707.7h1.4v1.4h-1.4zM373.6 710.5h1.4v1.4h-1.4zM338.7 712.1h1.4v1.4h-1.4zM374.9 711.9h1.4v1.4h-1.4zM352.1 713.8h1.4v1.4h-1.4zM353.4 713.7h1.4v1.4h-1.4zM361.7 713.4h1.4v1.4h-1.4zM363.5 713.7h1.4v1.4h-1.4zM371.8 713.4h1.4v1.4h-1.4zM373.2 713.5h1.4v1.4h-1.4zM374.8 713.6h1.4v1.4h-1.4zM384.8 713.8h1.4v1.4h-1.4zM330.4 715.3h1.4v1.4h-1.4zM363.5 715.0h1.4v1.4h-1.4zM373.4 714.8h1.4v1.4h-1.4zM376.1 715.2h1.4v1.4h-1.4zM385.5 714.9h1.4v1.4h-1.4zM346.3 716.4h1.4v1.4h-1.4zM347.4 716.2h1.4v1.4h-1.4zM354.5 716.5h1.4v1.4h-1.4zM361.9 716.7h1.4v1.4h-1.4zM366.1 716.5h1.4v1.4h-1.4zM369.0 716.5h1.4v1.4h-1.4zM382.4 716.4h1.4v1.4h-1.4zM345.9 717.7h1.4v1.4h-1.4zM348.6 717.8h1.4v1.4h-1.4zM359.2 717.8h1.4v1.4h-1.4zM364.5 718.2h1.4v1.4h-1.4zM373.3 717.8h1.4v1.4h-1.4zM374.9 718.1h1.4v1.4h-1.4zM377.9 717.9h1.4v1.4h-1.4zM385.3 717.8h1.4v1.4h-1.4zM345.9 719.4h1.4v1.4h-1.4zM350.1 719.7h1.4v1.4h-1.4zM364.5 719.4h1.4v1.4h-1.4zM373.5 719.1h1.4v1.4h-1.4zM381.0 719.1h1.4v1.4h-1.4zM335.7 721.0h1.4v1.4h-1.4zM344.9 720.7h1.4v1.4h-1.4zM346.3 720.5h1.4v1.4h-1.4zM349.2 720.9h1.4v1.4h-1.4zM372.4 721.0h1.4v1.4h-1.4zM373.4 720.9h1.4v1.4h-1.4zM375.0 721.0h1.4v1.4h-1.4zM376.7 720.8h1.4v1.4h-1.4zM380.9 720.7h1.4v1.4h-1.4zM390.8 721.0h1.4v1.4h-1.4zM318.4 722.1h1.4v1.4h-1.4zM385.3 722.4h1.4v1.4h-1.4zM386.3 722.0h1.4v1.4h-1.4zM354.6 724.0h1.4v1.4h-1.4zM378.1 723.8h1.4v1.4h-1.4zM386.6 724.1h1.4v1.4h-1.4zM321.2 724.9h1.4v1.4h-1.4zM328.7 725.3h1.4v1.4h-1.4zM343.2 725.2h1.4v1.4h-1.4zM347.3 724.9h1.4v1.4h-1.4zM373.8 725.4h1.4v1.4h-1.4zM377.7 725.1h1.4v1.4h-1.4zM385.3 725.2h1.4v1.4h-1.4zM388.3 725.4h1.4v1.4h-1.4zM389.4 725.4h1.4v1.4h-1.4zM392.1 725.5h1.4v1.4h-1.4zM394.2 725.4h1.4v1.4h-1.4zM396.9 725.3h1.4v1.4h-1.4zM325.7 726.4h1.4v1.4h-1.4zM328.5 726.8h1.4v1.4h-1.4zM334.1 726.9h1.4v1.4h-1.4zM341.9 727.0h1.4v1.4h-1.4zM388.0 726.8h1.4v1.4h-1.4zM389.8 726.4h1.4v1.4h-1.4zM397.1 726.8h1.4v1.4h-1.4zM325.8 728.2h1.4v1.4h-1.4zM328.7 728.0h1.4v1.4h-1.4zM331.7 728.2h1.4v1.4h-1.4zM334.7 728.1h1.4v1.4h-1.4zM342.9 728.4h1.4v1.4h-1.4zM375.1 728.3h1.4v1.4h-1.4zM376.5 728.0h1.4v1.4h-1.4zM378.2 728.2h1.4v1.4h-1.4zM382.3 728.3h1.4v1.4h-1.4zM387.9 728.0h1.4v1.4h-1.4zM389.4 728.2h1.4v1.4h-1.4zM393.8 728.4h1.4v1.4h-1.4zM399.3 728.4h1.4v1.4h-1.4zM324.5 729.8h1.4v1.4h-1.4zM327.0 729.4h1.4v1.4h-1.4zM330.1 729.4h1.4v1.4h-1.4zM375.0 729.5h1.4v1.4h-1.4zM388.3 729.3h1.4v1.4h-1.4zM391.3 729.9h1.4v1.4h-1.4zM331.2 730.7h1.4v1.4h-1.4zM340.0 730.7h1.4v1.4h-1.4zM380.9 731.2h1.4v1.4h-1.4zM382.0 730.9h1.4v1.4h-1.4zM383.6 731.2h1.4v1.4h-1.4zM386.6 731.3h1.4v1.4h-1.4zM389.4 731.1h1.4v1.4h-1.4zM318.2 732.3h1.4v1.4h-1.4zM334.4 732.4h1.4v1.4h-1.4zM383.6 732.1h1.4v1.4h-1.4zM386.5 732.4h1.4v1.4h-1.4zM392.3 732.7h1.4v1.4h-1.4zM396.5 732.7h1.4v1.4h-1.4zM311.4 734.1h1.4v1.4h-1.4zM315.7 734.1h1.4v1.4h-1.4zM323.1 733.9h1.4v1.4h-1.4zM327.5 734.0h1.4v1.4h-1.4zM385.1 733.8h1.4v1.4h-1.4zM386.7 733.6h1.4v1.4h-1.4zM392.2 734.2h1.4v1.4h-1.4zM397.0 734.2h1.4v1.4h-1.4zM398.2 734.1h1.4v1.4h-1.4zM316.9 735.2h1.4v1.4h-1.4zM330.3 735.1h1.4v1.4h-1.4zM386.9 735.4h1.4v1.4h-1.4zM311.3 736.6h1.4v1.4h-1.4zM318.5 737.0h1.4v1.4h-1.4zM321.2 736.6h1.4v1.4h-1.4zM323.1 737.0h1.4v1.4h-1.4zM324.2 736.5h1.4v1.4h-1.4zM315.5 738.1h1.4v1.4h-1.4zM321.3 738.6h1.4v1.4h-1.4zM327.3 738.4h1.4v1.4h-1.4zM401.4 738.6h1.4v1.4h-1.4zM312.7 739.5h1.4v1.4h-1.4zM402.8 739.6h1.4v1.4h-1.4zM315.7 741.3h1.4v1.4h-1.4zM323.1 741.1h1.4v1.4h-1.4zM315.2 742.3h1.4v1.4h-1.4zM321.5 742.6h1.4v1.4h-1.4zM396.6 742.4h1.4v1.4h-1.4zM401.4 742.7h1.4v1.4h-1.4zM312.6 744.2h1.4v1.4h-1.4zM320.2 743.9h1.4v1.4h-1.4zM321.0 744.1h1.4v1.4h-1.4zM393.6 744.0h1.4v1.4h-1.4zM395.3 744.2h1.4v1.4h-1.4zM396.7 744.3h1.4v1.4h-1.4zM311.5 745.2h1.4v1.4h-1.4zM315.9 745.8h1.4v1.4h-1.4zM316.7 745.7h1.4v1.4h-1.4zM397.0 745.2h1.4v1.4h-1.4zM399.8 745.3h1.4v1.4h-1.4zM312.9 747.0h1.4v1.4h-1.4zM313.8 746.7h1.4v1.4h-1.4zM315.4 746.6h1.4v1.4h-1.4zM315.7 748.1h1.4v1.4h-1.4zM392.2 748.6h1.4v1.4h-1.4zM397.0 748.1h1.4v1.4h-1.4zM393.8 750.1h1.4v1.4h-1.4zM400.8 749.9h1.4v1.4h-1.4zM395.5 751.6h1.4v1.4h-1.4zM398.5 751.3h1.4v1.4h-1.4zM395.4 754.2h1.4v1.4h-1.4zM398.0 755.3h1.4v1.4h-1.4zM400.0 755.3h1.4v1.4h-1.4zM402.6 755.8h1.4v1.4h-1.4zM399.8 758.3h1.4v1.4h-1.4zM393.7 759.9h1.4v1.4h-1.4zM395.4 761.7h1.4v1.4h-1.4zM394.1 762.9h1.4v1.4h-1.4zM392.7 764.0h1.4v1.4h-1.4zM394.1 764.0h1.4v1.4h-1.4zM389.2 765.6h1.4v1.4h-1.4zM392.2 765.7h1.4v1.4h-1.4zM386.8 767.1h1.4v1.4h-1.4zM391.2 767.5h1.4v1.4h-1.4zM386.7 768.5h1.4v1.4h-1.4zM384.0 770.2h1.4v1.4h-1.4zM385.5 769.9h1.4v1.4h-1.4zM382.0 771.5h1.4v1.4h-1.4zM386.6 771.9h1.4v1.4h-1.4zM393.7 771.7h1.4v1.4h-1.4zM381.1 773.0h1.4v1.4h-1.4zM387.8 773.4h1.4v1.4h-1.4zM386.8 774.2h1.4v1.4h-1.4zM388.2 774.4h1.4v1.4h-1.4zM376.2 776.3h1.4v1.4h-1.4zM379.6 775.6h1.4v1.4h-1.4zM388.1 777.7h1.4v1.4h-1.4zM379.7 778.6h1.4v1.4h-1.4zM372.4 780.3h1.4v1.4h-1.4zM373.7 780.2h1.4v1.4h-1.4zM379.0 780.0h1.4v1.4h-1.4zM380.7 780.3h1.4v1.4h-1.4zM385.4 780.0h1.4v1.4h-1.4zM380.6 781.5h1.4v1.4h-1.4zM373.4 783.3h1.4v1.4h-1.4zM379.4 783.1h1.4v1.4h-1.4zM367.8 784.9h1.4v1.4h-1.4zM386.5 785.0h1.4v1.4h-1.4zM367.6 785.9h1.4v1.4h-1.4zM364.7 787.5h1.4v1.4h-1.4zM366.4 787.7h1.4v1.4h-1.4zM362.0 789.1h1.4v1.4h-1.4zM363.5 789.3h1.4v1.4h-1.4zM366.0 789.1h1.4v1.4h-1.4zM370.8 789.1h1.4v1.4h-1.4zM376.4 788.8h1.4v1.4h-1.4zM360.8 790.3h1.4v1.4h-1.4zM364.9 790.5h1.4v1.4h-1.4zM375.2 790.7h1.4v1.4h-1.4zM355.9 793.2h1.4v1.4h-1.4zM362.0 793.2h1.4v1.4h-1.4zM367.9 794.5h1.4v1.4h-1.4zM375.0 794.6h1.4v1.4h-1.4zM383.4 794.8h1.4v1.4h-1.4z"/>
<path fill="#8cbbe3" d="M373.6 709.5h1.4v1.4h-1.4zM379.6 709.1h1.4v1.4h-1.4zM338.7 711.0h1.4v1.4h-1.4zM356.4 710.7h1.4v1.4h-1.4zM367.5 710.7h1.4v1.4h-1.4zM382.1 710.6h1.4v1.4h-1.4zM370.3 712.2h1.4v1.4h-1.4zM373.8 712.4h1.4v1.4h-1.4zM378.2 712.3h1.4v1.4h-1.4zM333.2 713.5h1.4v1.4h-1.4zM348.7 713.5h1.4v1.4h-1.4zM370.7 713.7h1.4v1.4h-1.4zM383.4 713.8h1.4v1.4h-1.4zM366.4 715.3h1.4v1.4h-1.4zM377.6 715.2h1.4v1.4h-1.4zM379.3 715.3h1.4v1.4h-1.4zM386.8 715.3h1.4v1.4h-1.4zM392.6 715.0h1.4v1.4h-1.4zM356.3 716.4h1.4v1.4h-1.4zM373.4 716.3h1.4v1.4h-1.4zM378.2 716.5h1.4v1.4h-1.4zM380.7 716.5h1.4v1.4h-1.4zM383.5 716.3h1.4v1.4h-1.4zM352.0 718.1h1.4v1.4h-1.4zM353.5 718.2h1.4v1.4h-1.4zM357.4 718.0h1.4v1.4h-1.4zM371.9 717.7h1.4v1.4h-1.4zM379.1 717.9h1.4v1.4h-1.4zM381.1 717.7h1.4v1.4h-1.4zM382.2 718.1h1.4v1.4h-1.4zM383.5 717.9h1.4v1.4h-1.4zM387.7 718.3h1.4v1.4h-1.4zM321.4 719.7h1.4v1.4h-1.4zM351.9 719.7h1.4v1.4h-1.4zM354.9 719.5h1.4v1.4h-1.4zM357.9 719.5h1.4v1.4h-1.4zM370.7 719.2h1.4v1.4h-1.4zM383.5 719.7h1.4v1.4h-1.4zM391.2 719.3h1.4v1.4h-1.4zM330.0 720.5h1.4v1.4h-1.4zM337.5 720.8h1.4v1.4h-1.4zM354.6 720.9h1.4v1.4h-1.4zM357.5 720.8h1.4v1.4h-1.4zM363.6 720.7h1.4v1.4h-1.4zM366.3 721.1h1.4v1.4h-1.4zM384.0 720.6h1.4v1.4h-1.4zM387.7 720.8h1.4v1.4h-1.4zM393.8 720.7h1.4v1.4h-1.4zM399.7 720.7h1.4v1.4h-1.4zM334.3 722.2h1.4v1.4h-1.4zM345.7 722.1h1.4v1.4h-1.4zM376.4 722.0h1.4v1.4h-1.4zM378.1 722.5h1.4v1.4h-1.4zM379.6 722.1h1.4v1.4h-1.4zM398.3 722.0h1.4v1.4h-1.4zM331.8 723.9h1.4v1.4h-1.4zM332.8 723.4h1.4v1.4h-1.4zM334.2 724.0h1.4v1.4h-1.4zM335.7 723.5h1.4v1.4h-1.4zM337.0 723.6h1.4v1.4h-1.4zM341.7 723.7h1.4v1.4h-1.4zM342.9 723.7h1.4v1.4h-1.4zM372.0 723.4h1.4v1.4h-1.4zM374.7 724.0h1.4v1.4h-1.4zM376.6 724.0h1.4v1.4h-1.4zM392.7 723.8h1.4v1.4h-1.4zM340.3 725.0h1.4v1.4h-1.4zM314.1 726.7h1.4v1.4h-1.4zM336.1 726.7h1.4v1.4h-1.4zM337.3 726.4h1.4v1.4h-1.4zM373.5 726.4h1.4v1.4h-1.4zM376.3 726.4h1.4v1.4h-1.4zM392.1 726.3h1.4v1.4h-1.4zM321.6 727.9h1.4v1.4h-1.4zM324.0 728.0h1.4v1.4h-1.4zM337.3 728.0h1.4v1.4h-1.4zM340.5 727.8h1.4v1.4h-1.4zM372.2 728.2h1.4v1.4h-1.4zM373.3 728.1h1.4v1.4h-1.4zM385.0 728.0h1.4v1.4h-1.4zM392.4 728.1h1.4v1.4h-1.4zM397.1 727.8h1.4v1.4h-1.4zM315.6 729.5h1.4v1.4h-1.4zM334.5 729.5h1.4v1.4h-1.4zM343.1 729.8h1.4v1.4h-1.4zM373.5 729.4h1.4v1.4h-1.4zM376.5 729.6h1.4v1.4h-1.4zM384.9 729.7h1.4v1.4h-1.4zM314.2 731.3h1.4v1.4h-1.4zM319.7 730.8h1.4v1.4h-1.4zM322.5 731.3h1.4v1.4h-1.4zM325.8 731.0h1.4v1.4h-1.4zM337.6 730.8h1.4v1.4h-1.4zM392.6 730.8h1.4v1.4h-1.4zM400.0 731.2h1.4v1.4h-1.4zM316.7 732.4h1.4v1.4h-1.4zM388.3 732.4h1.4v1.4h-1.4zM400.9 732.6h1.4v1.4h-1.4zM333.3 734.2h1.4v1.4h-1.4zM381.9 733.9h1.4v1.4h-1.4zM399.8 733.8h1.4v1.4h-1.4zM311.0 735.1h1.4v1.4h-1.4zM315.5 735.6h1.4v1.4h-1.4zM326.0 735.1h1.4v1.4h-1.4zM385.0 735.3h1.4v1.4h-1.4zM397.1 735.1h1.4v1.4h-1.4zM385.0 737.1h1.4v1.4h-1.4zM386.5 736.9h1.4v1.4h-1.4zM402.3 736.7h1.4v1.4h-1.4zM314.0 738.4h1.4v1.4h-1.4zM320.0 738.4h1.4v1.4h-1.4zM324.1 738.1h1.4v1.4h-1.4zM386.6 738.2h1.4v1.4h-1.4zM391.2 738.3h1.4v1.4h-1.4zM392.4 738.1h1.4v1.4h-1.4zM386.5 739.4h1.4v1.4h-1.4zM388.0 740.0h1.4v1.4h-1.4zM392.5 740.0h1.4v1.4h-1.4zM394.1 739.9h1.4v1.4h-1.4zM312.5 740.9h1.4v1.4h-1.4zM318.3 741.1h1.4v1.4h-1.4zM320.1 741.5h1.4v1.4h-1.4zM326.0 740.9h1.4v1.4h-1.4zM390.9 741.5h1.4v1.4h-1.4zM324.4 742.4h1.4v1.4h-1.4zM395.5 742.3h1.4v1.4h-1.4zM322.9 744.4h1.4v1.4h-1.4zM397.9 744.0h1.4v1.4h-1.4zM318.1 745.8h1.4v1.4h-1.4zM319.9 745.3h1.4v1.4h-1.4zM392.4 745.6h1.4v1.4h-1.4zM395.1 745.5h1.4v1.4h-1.4zM311.3 746.9h1.4v1.4h-1.4zM392.3 747.0h1.4v1.4h-1.4zM398.4 746.8h1.4v1.4h-1.4zM311.5 748.7h1.4v1.4h-1.4zM394.0 748.5h1.4v1.4h-1.4zM395.0 748.6h1.4v1.4h-1.4zM397.9 748.6h1.4v1.4h-1.4zM395.2 749.7h1.4v1.4h-1.4zM398.4 749.7h1.4v1.4h-1.4zM311.5 751.5h1.4v1.4h-1.4zM396.7 751.0h1.4v1.4h-1.4zM401.1 752.6h1.4v1.4h-1.4zM399.8 754.4h1.4v1.4h-1.4zM394.2 757.4h1.4v1.4h-1.4zM395.1 757.4h1.4v1.4h-1.4zM398.4 757.1h1.4v1.4h-1.4zM398.4 759.9h1.4v1.4h-1.4zM392.3 761.4h1.4v1.4h-1.4zM391.3 762.9h1.4v1.4h-1.4zM396.6 764.4h1.4v1.4h-1.4zM395.4 768.7h1.4v1.4h-1.4zM386.6 770.0h1.4v1.4h-1.4zM383.7 771.9h1.4v1.4h-1.4zM385.4 771.6h1.4v1.4h-1.4zM391.1 773.3h1.4v1.4h-1.4zM384.0 774.7h1.4v1.4h-1.4zM383.7 776.3h1.4v1.4h-1.4zM386.8 776.2h1.4v1.4h-1.4zM386.4 777.2h1.4v1.4h-1.4zM378.1 779.1h1.4v1.4h-1.4zM387.9 779.1h1.4v1.4h-1.4zM378.1 780.1h1.4v1.4h-1.4zM370.7 781.7h1.4v1.4h-1.4zM378.1 781.7h1.4v1.4h-1.4zM377.7 783.0h1.4v1.4h-1.4zM380.5 783.1h1.4v1.4h-1.4zM366.4 784.6h1.4v1.4h-1.4zM374.9 784.8h1.4v1.4h-1.4zM365.1 786.4h1.4v1.4h-1.4zM378.2 786.2h1.4v1.4h-1.4zM386.8 786.3h1.4v1.4h-1.4zM379.4 787.9h1.4v1.4h-1.4zM364.9 788.9h1.4v1.4h-1.4zM358.9 790.7h1.4v1.4h-1.4zM362.3 790.1h1.4v1.4h-1.4zM367.8 790.5h1.4v1.4h-1.4zM373.9 790.8h1.4v1.4h-1.4zM376.3 790.5h1.4v1.4h-1.4zM372.3 791.6h1.4v1.4h-1.4zM373.3 792.2h1.4v1.4h-1.4zM375.1 791.8h1.4v1.4h-1.4zM364.9 793.3h1.4v1.4h-1.4zM366.6 793.2h1.4v1.4h-1.4zM369.1 793.6h1.4v1.4h-1.4zM370.8 793.1h1.4v1.4h-1.4z"/>
<path fill="#6f9fd0" d="M419.4 743.3h1.6v1.6h-1.6zM359.7 695.6h1.6v1.6h-1.6zM420.8 741.0h1.6v1.6h-1.6zM414.2 738.6h1.6v1.6h-1.6zM410.9 733.8h1.6v1.6h-1.6zM342.3 699.7h1.6v1.6h-1.6zM398.8 788.8h1.6v1.6h-1.6zM415.7 733.3h1.6v1.6h-1.6zM414.6 749.3h1.6v1.6h-1.6zM417.7 768.8h1.6v1.6h-1.6zM407.4 770.9h1.6v1.6h-1.6zM403.1 783.7h1.6v1.6h-1.6zM400.8 699.8h1.6v1.6h-1.6zM408.4 768.1h1.6v1.6h-1.6zM406.9 770.9h1.6v1.6h-1.6zM418.7 724.8h1.6v1.6h-1.6zM390.1 692.7h1.6v1.6h-1.6zM348.2 700.6h1.6v1.6h-1.6zM349.1 700.5h1.6v1.6h-1.6zM340.7 701.1h1.6v1.6h-1.6zM413.7 747.8h1.6v1.6h-1.6zM341.3 703.4h1.6v1.6h-1.6zM417.1 745.0h1.6v1.6h-1.6zM414.4 761.8h1.6v1.6h-1.6zM344.4 706.4h1.6v1.6h-1.6zM407.5 769.2h1.6v1.6h-1.6zM401.4 699.5h1.6v1.6h-1.6zM335.6 710.1h1.6v1.6h-1.6zM328.8 710.6h1.6v1.6h-1.6zM416.4 723.4h1.6v1.6h-1.6zM394.7 698.6h1.6v1.6h-1.6zM345.7 703.6h1.6v1.6h-1.6zM352.1 700.0h1.6v1.6h-1.6zM322.9 709.8h1.6v1.6h-1.6z"/>
<path d="M310.50 794.82H346.50V796.90H310.50ZM310.50 792.73H348.90V794.82H310.50ZM310.50 790.65H348.90V792.73H310.50ZM310.50 788.56H348.90V790.65H310.50ZM310.50 786.48H351.30V788.56H310.50ZM310.50 784.40H353.70V786.48H310.50ZM310.50 782.31H356.10V784.40H310.50ZM310.50 780.23H358.50V782.31H310.50ZM310.50 778.15H360.90V780.23H310.50ZM310.50 776.06H363.30V778.15H310.50ZM310.50 773.98H365.70V776.06H310.50ZM310.50 771.89H368.10V773.98H310.50ZM310.50 769.81H370.50V771.89H310.50ZM310.50 767.73H372.90V769.81H310.50ZM310.50 765.64H375.30V767.73H310.50ZM310.50 763.56H377.70V765.64H310.50ZM310.50 761.48H380.10V763.56H310.50ZM315.30 759.39H382.50V761.48H315.30ZM317.70 757.31H382.50V759.39H317.70ZM322.50 755.23H384.90V757.31H322.50ZM324.90 753.14H384.90V755.23H324.90ZM327.30 751.06H384.90V753.14H327.30ZM329.70 748.97H384.90V751.06H329.70ZM332.10 746.89H382.50V748.97H332.10ZM336.90 744.81H380.10V746.89H336.90ZM339.30 742.72H377.70V744.81H339.30ZM341.70 740.64H377.70V742.72H341.70ZM344.10 738.55H375.30V740.64H344.10ZM348.90 736.47H365.70V738.56H348.90ZM353.70 734.39H365.70V736.47H353.70ZM358.50 732.30H363.30V734.39H358.50ZM360.90 730.22H363.30V732.30H360.90Z" fill="url(#spk2)" shape-rendering="crispEdges"/>
<path d="M310.5 762.5C311.3 756.4 313.8 761.0 315.5 760.0C317.2 759.0 319.1 757.7 320.9 756.6C322.7 755.5 324.6 754.7 326.4 753.4C328.2 752.1 330.0 750.5 331.8 749.0C333.6 747.5 335.5 746.1 337.3 744.6C339.1 743.1 340.9 741.4 342.7 740.3C344.5 739.2 346.4 738.8 348.2 738.1C350.0 737.4 351.8 736.6 353.6 735.9C355.4 735.2 357.7 734.6 359.1 733.7C360.6 732.8 361.5 731.0 362.3 730.5C363.1 730.0 363.3 729.5 363.8 730.8C364.3 732.1 364.1 736.6 365.3 738.1C366.5 739.6 369.4 739.3 371.1 739.5C372.8 739.7 374.3 738.8 375.5 739.5C376.7 740.2 376.9 742.2 378.4 743.9C379.8 745.6 383.0 748.0 384.2 749.7C385.4 751.4 385.9 752.4 385.6 754.1C385.4 755.8 384.1 758.0 382.7 759.9C381.2 761.8 379.1 763.8 376.9 765.7C374.7 767.6 372.0 769.5 369.6 771.5C367.2 773.5 364.8 775.4 362.4 777.4C360.0 779.4 357.3 781.3 355.1 783.2C352.9 785.1 350.5 787.1 349.3 789.0C348.1 790.9 348.2 793.5 347.8 794.8C347.4 796.1 353.3 796.3 347.1 796.6C340.9 796.9 316.6 802.3 310.5 796.6C304.4 790.9 309.7 768.6 310.5 762.5Z" fill="none" stroke="#27a8e0" stroke-width="0.9"/>
<g clip-path="url(#cc7)">
<polygon points="310.5,766.0 312.9,768.6 324.5,758.5 334.7,754.1 346.4,754.1 356.5,759.9 360.9,765.7 359.5,773.0 353.6,778.8 346.4,784.6 339.1,790.5 334.7,796.6 310.5,796.6" fill="#1f3189"/>
<polygon points="310.5,776.0 321.6,765.7 331.8,761.4 343.5,761.4 352.2,767.2 353.6,773.0 347.8,780.3 339.1,786.1 331.8,793.4 328.9,796.6 310.5,796.6" fill="#24409a"/>
<polygon points="310.5,786.0 318.0,788.0 318.0,796.6 310.5,796.6" fill="#2f8fc4"/>
</g>
<path class="ct" d="M310.5 770.5C310.9 770.2 310.6 770.6 312.9 768.6C315.2 766.6 320.9 760.9 324.5 758.5C328.1 756.1 331.1 754.8 334.7 754.1C338.3 753.4 342.8 753.1 346.4 754.1C350.0 755.1 354.1 758.0 356.5 759.9C358.9 761.8 360.4 763.5 360.9 765.7C361.4 767.9 360.7 770.8 359.5 773.0C358.3 775.2 355.8 776.9 353.6 778.8C351.4 780.7 348.8 782.6 346.4 784.6C344.0 786.6 341.1 788.5 339.1 790.5C337.2 792.5 335.4 795.6 334.7 796.6"/>
<path class="ct" d="M310.5 776.5C310.9 776.2 311.0 776.3 312.9 774.5C314.8 772.7 318.5 767.9 321.6 765.7C324.8 763.5 328.2 762.1 331.8 761.4C335.4 760.7 340.1 760.4 343.5 761.4C346.9 762.4 350.5 765.3 352.2 767.2C353.9 769.1 354.3 770.8 353.6 773.0C352.9 775.2 350.2 778.1 347.8 780.3C345.4 782.5 341.8 783.9 339.1 786.1C336.4 788.3 333.5 791.6 331.8 793.4C330.1 795.1 329.4 796.1 328.9 796.6"/>
<path class="ct" d="M310.5 782.0C310.9 781.7 311.3 781.8 312.9 780.3C314.5 778.8 317.5 775.0 320.2 773.0C322.9 771.0 326.0 769.1 328.9 768.6C331.8 768.1 335.4 769.1 337.6 770.1C339.8 771.1 341.8 772.8 342.0 774.5C342.2 776.2 340.8 778.4 339.1 780.3C337.4 782.2 334.0 783.9 331.8 786.1C329.6 788.3 327.2 791.6 326.0 793.4C324.8 795.1 324.8 796.1 324.5 796.6"/>
<path class="ct" d="M310.5 788.0C310.9 787.7 311.5 787.4 312.9 786.1C314.3 784.8 316.5 781.8 318.7 780.3C320.9 778.8 323.8 777.4 326.0 777.4C328.2 777.4 331.3 778.8 331.8 780.3C332.3 781.8 330.3 784.2 328.9 786.1C327.4 788.0 324.6 790.1 323.1 791.9C321.7 793.6 320.7 795.8 320.2 796.6"/>
<line x1="310.5" y1="796.9" x2="502.5" y2="630.2" stroke="#000" stroke-width="1.1" stroke-dasharray="2.5,1.5"/>
<line x1="310.5" y1="785" x2="502.5" y2="682.7" stroke="#f0302c" stroke-width="1.2"/>
</g>
<rect x="310.5" y="630.2" width="192.00" height="166.70" fill="none" stroke="#4a4a4a" stroke-width="1.05"/>
<path d="M310.50 796.9v1.8M310.5 796.90h-1.8M342.50 796.9v1.8M310.5 769.12h-1.8M374.50 796.9v1.8M310.5 741.33h-1.8M406.50 796.9v1.8M310.5 713.55h-1.8M438.50 796.9v1.8M310.5 685.77h-1.8M470.50 796.9v1.8M310.5 657.98h-1.8M502.50 796.9v1.8M310.5 630.20h-1.8" stroke="#333" stroke-width="0.8"/>
<text class="tk" x="310.50" y="805.40" text-anchor="middle">0</text>
<text class="tk" x="307.90" y="799.50" text-anchor="end">0</text>
<text class="tk" x="342.50" y="805.40" text-anchor="middle">50</text>
<text class="tk" x="307.90" y="771.72" text-anchor="end">50</text>
<text class="tk" x="374.50" y="805.40" text-anchor="middle">100</text>
<text class="tk" x="307.90" y="743.93" text-anchor="end">100</text>
<text class="tk" x="406.50" y="805.40" text-anchor="middle">150</text>
<text class="tk" x="307.90" y="716.15" text-anchor="end">150</text>
<text class="tk" x="438.50" y="805.40" text-anchor="middle">200</text>
<text class="tk" x="307.90" y="688.37" text-anchor="end">200</text>
<text class="tk" x="470.50" y="805.40" text-anchor="middle">250</text>
<text class="tk" x="307.90" y="660.58" text-anchor="end">250</text>
<text class="tk" x="502.50" y="805.40" text-anchor="middle">300</text>
<text class="tk" x="307.90" y="632.80" text-anchor="end">300</text>
<text class="lb" x="406.50" y="815.70" text-anchor="middle">Estimated (<tspan font-style="italic">μg</tspan>/<tspan font-style="italic">m</tspan><tspan font-size="6.2px" dy="-3.6">3</tspan><tspan dy="3.6">)</tspan></text>
<text class="lb" transform="translate(289.20 713.55) rotate(-90)" x="0" y="3.2" text-anchor="middle">Observed (<tspan font-style="italic">μg</tspan>/<tspan font-style="italic">m</tspan><tspan font-size="6.2px" dy="-3.6">3</tspan><tspan dy="3.6">)</tspan></text>
<line x1="318.0" y1="641.2" x2="335.0" y2="641.2" stroke="#f0302c" stroke-width="1.2"/>
<line x1="318.0" y1="653.5" x2="335.0" y2="653.5" stroke="#000" stroke-width="1.1" stroke-dasharray="2.5,1.5"/>
<text class="lg" x="342.0" y="644.5">Regression Line</text>
<text class="lg" x="342.0" y="656.6">1:1 Line</text>
<rect x="438.50" y="743.70" width="61" height="46.5" fill="#fff"/>
<text class="st" x="496.70" y="752.50" text-anchor="end"><tspan font-style="italic">BIAS</tspan><tspan dx="2.0">=</tspan><tspan dx="4.3">−</tspan><tspan dx="1.5">2.09</tspan></text>
<text class="st" x="496.70" y="764.00" text-anchor="end"><tspan font-style="italic">RMSE</tspan><tspan dx="2.3">=</tspan><tspan dx="2.1">23.92</tspan></text>
<text class="st" x="496.70" y="775.10" text-anchor="end"><tspan font-style="italic">IOA</tspan><tspan dx="2.3">=</tspan><tspan dx="2.1">0.79</tspan></text>
<text class="st" x="496.70" y="786.10" text-anchor="end"><tspan font-style="italic">COR</tspan><tspan dx="2.3">=</tspan><tspan dx="2.1">0.63</tspan></text>
<rect x="518.9" y="630.2" width="8.60" height="166.70" fill="url(#cm)" stroke="#666" stroke-width="0.5"/>
<text class="cbl" x="531.00" y="798.60">0</text>
<text class="cbl" x="531.00" y="776.49">250</text>
<text class="cbl" x="531.00" y="754.38">500</text>
<text class="cbl" x="531.00" y="732.27">750</text>
<text class="cbl" x="531.00" y="710.16">1000</text>
<text class="cbl" x="531.00" y="688.06">1250</text>
<text class="cbl" x="531.00" y="665.95">1500</text>
<text class="cbl" x="531.00" y="643.84">1750</text>
<path d="M527.5 796.90h1.5M527.5 774.79h1.5M527.5 752.68h1.5M527.5 730.57h1.5M527.5 708.46h1.5M527.5 686.36h1.5M527.5 664.25h1.5M527.5 642.14h1.5" stroke="#444" stroke-width="0.5"/>
</svg></body></html>
